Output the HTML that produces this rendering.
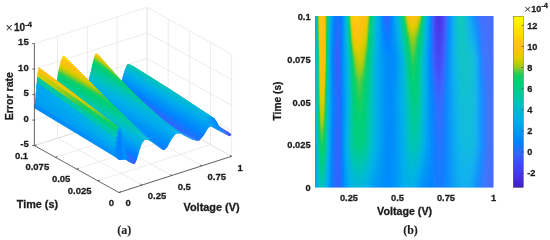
<!DOCTYPE html>
<html><head><meta charset="utf-8"><title>Figure</title>
<style>html,body{margin:0;padding:0;background:#fff}svg{display:block}text{fill:#1c1c1c;stroke:#1c1c1c;stroke-width:.28px}text.n{stroke:none;fill:#333}text.s{stroke-width:.1px}</style></head>
<body><svg width="550" height="240" viewBox="0 0 550 240">
<defs><filter id="soft" x="0" y="0" width="550" height="240" filterUnits="userSpaceOnUse"><feGaussianBlur stdDeviation="0.45"/></filter><linearGradient id="g199" gradientUnits="userSpaceOnUse" x1="231.3" y1="134.6" x2="146.8" y2="86.4"><stop offset="0.000" stop-color="#3959fe"/><stop offset="0.040" stop-color="#3959fe"/><stop offset="0.055" stop-color="#385cff"/><stop offset="0.075" stop-color="#355fff"/><stop offset="0.105" stop-color="#355fff"/><stop offset="0.179" stop-color="#3460ff"/><stop offset="0.254" stop-color="#3460ff"/><stop offset="0.328" stop-color="#3460ff"/><stop offset="0.403" stop-color="#3460ff"/><stop offset="0.478" stop-color="#3460ff"/><stop offset="0.552" stop-color="#3460ff"/><stop offset="0.627" stop-color="#3460ff"/><stop offset="0.702" stop-color="#3460ff"/><stop offset="0.776" stop-color="#3360ff"/><stop offset="0.851" stop-color="#3360ff"/><stop offset="0.925" stop-color="#3361ff"/><stop offset="1.000" stop-color="#3361ff"/></linearGradient>
<linearGradient id="g198" gradientUnits="userSpaceOnUse" x1="230.8" y1="135.2" x2="146.3" y2="86.5"><stop offset="0.000" stop-color="#3a57fd"/><stop offset="0.044" stop-color="#3a57fd"/><stop offset="0.059" stop-color="#385cff"/><stop offset="0.079" stop-color="#3262ff"/><stop offset="0.109" stop-color="#3262ff"/><stop offset="0.183" stop-color="#3262ff"/><stop offset="0.258" stop-color="#3262ff"/><stop offset="0.332" stop-color="#3262ff"/><stop offset="0.406" stop-color="#3262ff"/><stop offset="0.480" stop-color="#3262ff"/><stop offset="0.555" stop-color="#3262ff"/><stop offset="0.629" stop-color="#3262ff"/><stop offset="0.703" stop-color="#3262ff"/><stop offset="0.777" stop-color="#3262ff"/><stop offset="0.852" stop-color="#3262ff"/><stop offset="0.926" stop-color="#3261ff"/><stop offset="1.000" stop-color="#3361ff"/></linearGradient>
<linearGradient id="g197" gradientUnits="userSpaceOnUse" x1="230.2" y1="135.9" x2="145.7" y2="86.6"><stop offset="0.000" stop-color="#3b54fc"/><stop offset="0.049" stop-color="#3b54fc"/><stop offset="0.064" stop-color="#385bff"/><stop offset="0.084" stop-color="#2f65ff"/><stop offset="0.113" stop-color="#2f65ff"/><stop offset="0.187" stop-color="#2f65ff"/><stop offset="0.261" stop-color="#2f65ff"/><stop offset="0.335" stop-color="#2f65ff"/><stop offset="0.409" stop-color="#2f64ff"/><stop offset="0.483" stop-color="#3064ff"/><stop offset="0.557" stop-color="#3064ff"/><stop offset="0.631" stop-color="#3064ff"/><stop offset="0.705" stop-color="#3163ff"/><stop offset="0.779" stop-color="#3163ff"/><stop offset="0.852" stop-color="#3163ff"/><stop offset="0.926" stop-color="#3262ff"/><stop offset="1.000" stop-color="#3262ff"/></linearGradient>
<linearGradient id="g196" gradientUnits="userSpaceOnUse" x1="229.6" y1="136.3" x2="145.1" y2="86.7"><stop offset="0.000" stop-color="#3b52fc"/><stop offset="0.053" stop-color="#3b52fc"/><stop offset="0.068" stop-color="#385bff"/><stop offset="0.088" stop-color="#2c68ff"/><stop offset="0.117" stop-color="#2c68ff"/><stop offset="0.191" stop-color="#2c68ff"/><stop offset="0.265" stop-color="#2c67ff"/><stop offset="0.338" stop-color="#2d67ff"/><stop offset="0.412" stop-color="#2d67ff"/><stop offset="0.486" stop-color="#2e66ff"/><stop offset="0.559" stop-color="#2e66ff"/><stop offset="0.633" stop-color="#2f65ff"/><stop offset="0.706" stop-color="#2f65ff"/><stop offset="0.780" stop-color="#3064ff"/><stop offset="0.853" stop-color="#3064ff"/><stop offset="0.927" stop-color="#3163ff"/><stop offset="1.000" stop-color="#3162ff"/></linearGradient>
<linearGradient id="g195" gradientUnits="userSpaceOnUse" x1="229.1" y1="136.1" x2="144.6" y2="86.8"><stop offset="0.000" stop-color="#3a55fd"/><stop offset="0.054" stop-color="#3b54fd"/><stop offset="0.068" stop-color="#365eff"/><stop offset="0.088" stop-color="#296bff"/><stop offset="0.118" stop-color="#296bff"/><stop offset="0.191" stop-color="#296aff"/><stop offset="0.265" stop-color="#2a6aff"/><stop offset="0.339" stop-color="#2a6aff"/><stop offset="0.412" stop-color="#2b69ff"/><stop offset="0.486" stop-color="#2c68ff"/><stop offset="0.559" stop-color="#2c68ff"/><stop offset="0.633" stop-color="#2d67ff"/><stop offset="0.706" stop-color="#2e66ff"/><stop offset="0.780" stop-color="#2e66ff"/><stop offset="0.853" stop-color="#2f65ff"/><stop offset="0.927" stop-color="#3064ff"/><stop offset="1.000" stop-color="#3163ff"/></linearGradient>
<linearGradient id="g194" gradientUnits="userSpaceOnUse" x1="228.5" y1="135.8" x2="144.0" y2="86.8"><stop offset="0.000" stop-color="#3a58fe"/><stop offset="0.054" stop-color="#3a57fe"/><stop offset="0.068" stop-color="#3361ff"/><stop offset="0.088" stop-color="#246eff"/><stop offset="0.118" stop-color="#246dff"/><stop offset="0.191" stop-color="#256dff"/><stop offset="0.265" stop-color="#266cff"/><stop offset="0.339" stop-color="#276cff"/><stop offset="0.412" stop-color="#296bff"/><stop offset="0.486" stop-color="#296aff"/><stop offset="0.560" stop-color="#2a6aff"/><stop offset="0.633" stop-color="#2b69ff"/><stop offset="0.707" stop-color="#2c68ff"/><stop offset="0.780" stop-color="#2d67ff"/><stop offset="0.853" stop-color="#2e66ff"/><stop offset="0.927" stop-color="#2f65ff"/><stop offset="1.000" stop-color="#3064ff"/></linearGradient>
<linearGradient id="g193" gradientUnits="userSpaceOnUse" x1="227.9" y1="135.5" x2="143.4" y2="86.9"><stop offset="0.000" stop-color="#395aff"/><stop offset="0.054" stop-color="#395afe"/><stop offset="0.068" stop-color="#3064ff"/><stop offset="0.088" stop-color="#1f70ff"/><stop offset="0.118" stop-color="#1f70ff"/><stop offset="0.192" stop-color="#216fff"/><stop offset="0.265" stop-color="#226fff"/><stop offset="0.339" stop-color="#236eff"/><stop offset="0.413" stop-color="#256dff"/><stop offset="0.486" stop-color="#266cff"/><stop offset="0.560" stop-color="#286bff"/><stop offset="0.633" stop-color="#296bff"/><stop offset="0.707" stop-color="#2b69ff"/><stop offset="0.780" stop-color="#2c68ff"/><stop offset="0.853" stop-color="#2d67ff"/><stop offset="0.927" stop-color="#2e66ff"/><stop offset="1.000" stop-color="#3064ff"/></linearGradient>
<linearGradient id="g192" gradientUnits="userSpaceOnUse" x1="227.4" y1="135.2" x2="142.9" y2="87.0"><stop offset="0.000" stop-color="#365dff"/><stop offset="0.054" stop-color="#375dff"/><stop offset="0.069" stop-color="#2d67ff"/><stop offset="0.088" stop-color="#1a72ff"/><stop offset="0.118" stop-color="#1b72ff"/><stop offset="0.192" stop-color="#1c72ff"/><stop offset="0.265" stop-color="#1d71ff"/><stop offset="0.339" stop-color="#1f70ff"/><stop offset="0.413" stop-color="#216fff"/><stop offset="0.486" stop-color="#226eff"/><stop offset="0.560" stop-color="#246dff"/><stop offset="0.633" stop-color="#266cff"/><stop offset="0.707" stop-color="#296bff"/><stop offset="0.780" stop-color="#2a6aff"/><stop offset="0.854" stop-color="#2b68ff"/><stop offset="0.927" stop-color="#2d67ff"/><stop offset="1.000" stop-color="#2e65ff"/></linearGradient>
<linearGradient id="g191" gradientUnits="userSpaceOnUse" x1="226.8" y1="134.9" x2="142.3" y2="87.1"><stop offset="0.000" stop-color="#3460ff"/><stop offset="0.054" stop-color="#3460ff"/><stop offset="0.069" stop-color="#2a6aff"/><stop offset="0.088" stop-color="#1575ff"/><stop offset="0.118" stop-color="#1575ff"/><stop offset="0.192" stop-color="#1674ff"/><stop offset="0.266" stop-color="#1874ff"/><stop offset="0.339" stop-color="#1973ff"/><stop offset="0.413" stop-color="#1b72ff"/><stop offset="0.487" stop-color="#1c71ff"/><stop offset="0.560" stop-color="#1e70ff"/><stop offset="0.634" stop-color="#206fff"/><stop offset="0.707" stop-color="#226eff"/><stop offset="0.780" stop-color="#246dff"/><stop offset="0.854" stop-color="#276cff"/><stop offset="0.927" stop-color="#296bff"/><stop offset="1.000" stop-color="#2b69ff"/></linearGradient>
<linearGradient id="g190" gradientUnits="userSpaceOnUse" x1="226.2" y1="134.6" x2="141.7" y2="87.2"><stop offset="0.000" stop-color="#3163ff"/><stop offset="0.054" stop-color="#3163ff"/><stop offset="0.069" stop-color="#256dff"/><stop offset="0.088" stop-color="#0f78ff"/><stop offset="0.118" stop-color="#0f78ff"/><stop offset="0.192" stop-color="#1077ff"/><stop offset="0.266" stop-color="#1177ff"/><stop offset="0.339" stop-color="#1376ff"/><stop offset="0.413" stop-color="#1476ff"/><stop offset="0.487" stop-color="#1575ff"/><stop offset="0.560" stop-color="#1774ff"/><stop offset="0.634" stop-color="#1973ff"/><stop offset="0.707" stop-color="#1b72ff"/><stop offset="0.780" stop-color="#1d71ff"/><stop offset="0.854" stop-color="#1f70ff"/><stop offset="0.927" stop-color="#216fff"/><stop offset="1.000" stop-color="#236eff"/></linearGradient>
<linearGradient id="g189" gradientUnits="userSpaceOnUse" x1="225.7" y1="134.3" x2="141.2" y2="86.9"><stop offset="0.000" stop-color="#2d67ff"/><stop offset="0.054" stop-color="#2d66ff"/><stop offset="0.069" stop-color="#2070ff"/><stop offset="0.089" stop-color="#0c7bff"/><stop offset="0.118" stop-color="#0c7bff"/><stop offset="0.192" stop-color="#0c7bff"/><stop offset="0.266" stop-color="#0d7aff"/><stop offset="0.340" stop-color="#0d7aff"/><stop offset="0.414" stop-color="#0e79ff"/><stop offset="0.487" stop-color="#0f79ff"/><stop offset="0.561" stop-color="#0f78ff"/><stop offset="0.634" stop-color="#1177ff"/><stop offset="0.707" stop-color="#1376ff"/><stop offset="0.781" stop-color="#1575ff"/><stop offset="0.854" stop-color="#1774ff"/><stop offset="0.927" stop-color="#1973ff"/><stop offset="1.000" stop-color="#1b72ff"/></linearGradient>
<linearGradient id="g188" gradientUnits="userSpaceOnUse" x1="225.1" y1="134.0" x2="140.6" y2="86.3"><stop offset="0.000" stop-color="#2a69ff"/><stop offset="0.055" stop-color="#2a69ff"/><stop offset="0.070" stop-color="#1a72ff"/><stop offset="0.089" stop-color="#087eff"/><stop offset="0.119" stop-color="#087eff"/><stop offset="0.193" stop-color="#087eff"/><stop offset="0.267" stop-color="#087eff"/><stop offset="0.340" stop-color="#097dff"/><stop offset="0.414" stop-color="#097dff"/><stop offset="0.488" stop-color="#0a7cff"/><stop offset="0.561" stop-color="#0b7cff"/><stop offset="0.634" stop-color="#0c7bff"/><stop offset="0.708" stop-color="#0d7aff"/><stop offset="0.781" stop-color="#0e79ff"/><stop offset="0.854" stop-color="#0f78ff"/><stop offset="0.927" stop-color="#1177ff"/><stop offset="1.000" stop-color="#1376ff"/></linearGradient>
<linearGradient id="g187" gradientUnits="userSpaceOnUse" x1="224.6" y1="133.7" x2="140.1" y2="85.7"><stop offset="0.000" stop-color="#276cff"/><stop offset="0.056" stop-color="#276cff"/><stop offset="0.070" stop-color="#1475ff"/><stop offset="0.090" stop-color="#0481ff"/><stop offset="0.120" stop-color="#0481ff"/><stop offset="0.194" stop-color="#0481ff"/><stop offset="0.267" stop-color="#0481ff"/><stop offset="0.341" stop-color="#0481ff"/><stop offset="0.415" stop-color="#0581ff"/><stop offset="0.488" stop-color="#0580ff"/><stop offset="0.562" stop-color="#0680ff"/><stop offset="0.635" stop-color="#077fff"/><stop offset="0.708" stop-color="#077eff"/><stop offset="0.781" stop-color="#087eff"/><stop offset="0.854" stop-color="#097dff"/><stop offset="0.927" stop-color="#0b7cff"/><stop offset="1.000" stop-color="#0c7bff"/></linearGradient>
<linearGradient id="g186" gradientUnits="userSpaceOnUse" x1="224.0" y1="133.4" x2="139.5" y2="85.0"><stop offset="0.000" stop-color="#226fff"/><stop offset="0.056" stop-color="#216fff"/><stop offset="0.071" stop-color="#0f78ff"/><stop offset="0.091" stop-color="#0085ff"/><stop offset="0.120" stop-color="#0085ff"/><stop offset="0.194" stop-color="#0085ff"/><stop offset="0.268" stop-color="#0085ff"/><stop offset="0.342" stop-color="#0086ff"/><stop offset="0.415" stop-color="#0086ff"/><stop offset="0.489" stop-color="#0086ff"/><stop offset="0.562" stop-color="#0085ff"/><stop offset="0.635" stop-color="#0085ff"/><stop offset="0.708" stop-color="#0085ff"/><stop offset="0.781" stop-color="#0085ff"/><stop offset="0.854" stop-color="#0184ff"/><stop offset="0.927" stop-color="#0183ff"/><stop offset="1.000" stop-color="#0283ff"/></linearGradient>
<linearGradient id="g185" gradientUnits="userSpaceOnUse" x1="223.4" y1="133.1" x2="138.9" y2="84.4"><stop offset="0.000" stop-color="#1d71ff"/><stop offset="0.057" stop-color="#1c72ff"/><stop offset="0.072" stop-color="#0b7bff"/><stop offset="0.091" stop-color="#0087fe"/><stop offset="0.121" stop-color="#0088fd"/><stop offset="0.195" stop-color="#0089fd"/><stop offset="0.269" stop-color="#0089fd"/><stop offset="0.342" stop-color="#008afc"/><stop offset="0.416" stop-color="#008afc"/><stop offset="0.489" stop-color="#008afc"/><stop offset="0.562" stop-color="#008bfc"/><stop offset="0.636" stop-color="#008bfc"/><stop offset="0.709" stop-color="#008bfc"/><stop offset="0.782" stop-color="#008bfc"/><stop offset="0.855" stop-color="#008bfc"/><stop offset="0.927" stop-color="#008bfc"/><stop offset="1.000" stop-color="#008afc"/></linearGradient>
<linearGradient id="g184" gradientUnits="userSpaceOnUse" x1="222.9" y1="132.8" x2="138.4" y2="83.3"><stop offset="0.000" stop-color="#1874ff"/><stop offset="0.058" stop-color="#1774ff"/><stop offset="0.072" stop-color="#087eff"/><stop offset="0.092" stop-color="#008afc"/><stop offset="0.122" stop-color="#008bfc"/><stop offset="0.196" stop-color="#008cfb"/><stop offset="0.269" stop-color="#008dfb"/><stop offset="0.343" stop-color="#008efa"/><stop offset="0.416" stop-color="#008ffa"/><stop offset="0.490" stop-color="#008ffa"/><stop offset="0.563" stop-color="#0090f9"/><stop offset="0.636" stop-color="#0090f9"/><stop offset="0.709" stop-color="#0091f9"/><stop offset="0.782" stop-color="#0091f9"/><stop offset="0.855" stop-color="#0092f9"/><stop offset="0.927" stop-color="#0092f8"/><stop offset="1.000" stop-color="#0092f8"/></linearGradient>
<linearGradient id="g183" gradientUnits="userSpaceOnUse" x1="222.3" y1="132.5" x2="137.8" y2="81.7"><stop offset="0.000" stop-color="#1376ff"/><stop offset="0.058" stop-color="#1177ff"/><stop offset="0.073" stop-color="#0481ff"/><stop offset="0.093" stop-color="#008dfb"/><stop offset="0.123" stop-color="#008efa"/><stop offset="0.196" stop-color="#008ffa"/><stop offset="0.270" stop-color="#0091f9"/><stop offset="0.344" stop-color="#0092f8"/><stop offset="0.417" stop-color="#0093f8"/><stop offset="0.490" stop-color="#0094f7"/><stop offset="0.564" stop-color="#0095f7"/><stop offset="0.637" stop-color="#0096f6"/><stop offset="0.710" stop-color="#0097f6"/><stop offset="0.782" stop-color="#0098f5"/><stop offset="0.855" stop-color="#0098f5"/><stop offset="0.928" stop-color="#0099f5"/><stop offset="1.000" stop-color="#0099f5"/></linearGradient>
<linearGradient id="g182" gradientUnits="userSpaceOnUse" x1="221.7" y1="132.2" x2="137.2" y2="80.1"><stop offset="0.000" stop-color="#0d7aff"/><stop offset="0.060" stop-color="#0b7bff"/><stop offset="0.075" stop-color="#0086fe"/><stop offset="0.094" stop-color="#0091f9"/><stop offset="0.124" stop-color="#0092f8"/><stop offset="0.198" stop-color="#0094f7"/><stop offset="0.271" stop-color="#0096f7"/><stop offset="0.345" stop-color="#0097f6"/><stop offset="0.418" stop-color="#0099f5"/><stop offset="0.491" stop-color="#009af4"/><stop offset="0.564" stop-color="#009bf4"/><stop offset="0.637" stop-color="#009cf4"/><stop offset="0.710" stop-color="#009df3"/><stop offset="0.783" stop-color="#009ef3"/><stop offset="0.855" stop-color="#009ff2"/><stop offset="0.928" stop-color="#00a0f2"/><stop offset="1.000" stop-color="#00a1f2"/></linearGradient>
<linearGradient id="g181" gradientUnits="userSpaceOnUse" x1="221.2" y1="131.9" x2="136.7" y2="78.4"><stop offset="0.000" stop-color="#097dff"/><stop offset="0.064" stop-color="#077eff"/><stop offset="0.078" stop-color="#008afd"/><stop offset="0.098" stop-color="#0097f6"/><stop offset="0.127" stop-color="#0098f5"/><stop offset="0.201" stop-color="#009af5"/><stop offset="0.274" stop-color="#009cf4"/><stop offset="0.348" stop-color="#009df3"/><stop offset="0.421" stop-color="#009ff2"/><stop offset="0.494" stop-color="#00a1f2"/><stop offset="0.566" stop-color="#00a2f1"/><stop offset="0.639" stop-color="#00a3f1"/><stop offset="0.712" stop-color="#00a5f0"/><stop offset="0.784" stop-color="#00a6f0"/><stop offset="0.856" stop-color="#00a7f0"/><stop offset="0.928" stop-color="#00a8ef"/><stop offset="1.000" stop-color="#00a9ef"/></linearGradient>
<linearGradient id="g180" gradientUnits="userSpaceOnUse" x1="220.6" y1="131.6" x2="136.1" y2="76.8"><stop offset="0.000" stop-color="#0680ff"/><stop offset="0.068" stop-color="#0481ff"/><stop offset="0.083" stop-color="#008dfb"/><stop offset="0.103" stop-color="#009df3"/><stop offset="0.132" stop-color="#009df3"/><stop offset="0.205" stop-color="#00a0f2"/><stop offset="0.278" stop-color="#00a2f1"/><stop offset="0.351" stop-color="#00a4f1"/><stop offset="0.424" stop-color="#00a6f0"/><stop offset="0.496" stop-color="#00a8ef"/><stop offset="0.569" stop-color="#00a9ef"/><stop offset="0.641" stop-color="#00abee"/><stop offset="0.713" stop-color="#00acee"/><stop offset="0.785" stop-color="#00aded"/><stop offset="0.857" stop-color="#00aeec"/><stop offset="0.929" stop-color="#00afea"/><stop offset="1.000" stop-color="#00afe9"/></linearGradient>
<linearGradient id="g179" gradientUnits="userSpaceOnUse" x1="220.0" y1="131.3" x2="135.5" y2="75.1"><stop offset="0.000" stop-color="#0482ff"/><stop offset="0.073" stop-color="#0283ff"/><stop offset="0.088" stop-color="#0090f9"/><stop offset="0.107" stop-color="#00a2f1"/><stop offset="0.136" stop-color="#00a3f1"/><stop offset="0.209" stop-color="#00a5f0"/><stop offset="0.282" stop-color="#00a8ef"/><stop offset="0.355" stop-color="#00aaee"/><stop offset="0.427" stop-color="#00acee"/><stop offset="0.499" stop-color="#00aeec"/><stop offset="0.571" stop-color="#00afea"/><stop offset="0.643" stop-color="#00b0e8"/><stop offset="0.715" stop-color="#00b1e6"/><stop offset="0.786" stop-color="#00b2e4"/><stop offset="0.858" stop-color="#00b3e2"/><stop offset="0.929" stop-color="#00b4e0"/><stop offset="1.000" stop-color="#00b5df"/></linearGradient>
<linearGradient id="g178" gradientUnits="userSpaceOnUse" x1="219.5" y1="131.0" x2="135.0" y2="73.3"><stop offset="0.000" stop-color="#0183ff"/><stop offset="0.077" stop-color="#0085ff"/><stop offset="0.092" stop-color="#0093f8"/><stop offset="0.111" stop-color="#00a6f0"/><stop offset="0.140" stop-color="#00a8ef"/><stop offset="0.213" stop-color="#00aaee"/><stop offset="0.285" stop-color="#00aded"/><stop offset="0.358" stop-color="#00afea"/><stop offset="0.430" stop-color="#00b0e7"/><stop offset="0.502" stop-color="#00b2e5"/><stop offset="0.573" stop-color="#00b3e2"/><stop offset="0.645" stop-color="#00b4df"/><stop offset="0.716" stop-color="#00b5dd"/><stop offset="0.787" stop-color="#00b7db"/><stop offset="0.858" stop-color="#00b8d9"/><stop offset="0.929" stop-color="#00b9d7"/><stop offset="1.000" stop-color="#00b9d5"/></linearGradient>
<linearGradient id="g177" gradientUnits="userSpaceOnUse" x1="218.9" y1="130.7" x2="134.4" y2="71.5"><stop offset="0.000" stop-color="#0086fe"/><stop offset="0.080" stop-color="#0087fe"/><stop offset="0.095" stop-color="#0096f6"/><stop offset="0.114" stop-color="#00abee"/><stop offset="0.143" stop-color="#00acee"/><stop offset="0.216" stop-color="#00aeeb"/><stop offset="0.288" stop-color="#00b0e8"/><stop offset="0.360" stop-color="#00b2e5"/><stop offset="0.432" stop-color="#00b3e1"/><stop offset="0.504" stop-color="#00b5df"/><stop offset="0.575" stop-color="#00b6dc"/><stop offset="0.646" stop-color="#00b7d9"/><stop offset="0.717" stop-color="#00b9d7"/><stop offset="0.788" stop-color="#00bad4"/><stop offset="0.859" stop-color="#00bbd1"/><stop offset="0.930" stop-color="#00bccf"/><stop offset="1.000" stop-color="#00bdcc"/></linearGradient>
<linearGradient id="g176" gradientUnits="userSpaceOnUse" x1="218.4" y1="130.4" x2="133.9" y2="69.7"><stop offset="0.000" stop-color="#0088fe"/><stop offset="0.084" stop-color="#0089fd"/><stop offset="0.098" stop-color="#0099f5"/><stop offset="0.117" stop-color="#00aeeb"/><stop offset="0.146" stop-color="#00afea"/><stop offset="0.219" stop-color="#00b1e6"/><stop offset="0.291" stop-color="#00b3e3"/><stop offset="0.362" stop-color="#00b4df"/><stop offset="0.434" stop-color="#00b6dc"/><stop offset="0.506" stop-color="#00b7d9"/><stop offset="0.577" stop-color="#00b9d6"/><stop offset="0.648" stop-color="#00bad3"/><stop offset="0.719" stop-color="#00bcd0"/><stop offset="0.789" stop-color="#00bdcc"/><stop offset="0.860" stop-color="#00bec9"/><stop offset="0.930" stop-color="#00bfc6"/><stop offset="1.000" stop-color="#00c0c3"/></linearGradient>
<linearGradient id="g175" gradientUnits="userSpaceOnUse" x1="217.8" y1="130.1" x2="133.3" y2="68.3"><stop offset="0.000" stop-color="#0089fd"/><stop offset="0.087" stop-color="#008bfc"/><stop offset="0.101" stop-color="#009cf4"/><stop offset="0.120" stop-color="#00b0e7"/><stop offset="0.149" stop-color="#00b1e5"/><stop offset="0.221" stop-color="#00b3e2"/><stop offset="0.293" stop-color="#00b5de"/><stop offset="0.365" stop-color="#00b7da"/><stop offset="0.436" stop-color="#00b8d7"/><stop offset="0.507" stop-color="#00bad4"/><stop offset="0.578" stop-color="#00bccf"/><stop offset="0.649" stop-color="#00bdcb"/><stop offset="0.720" stop-color="#00bec7"/><stop offset="0.790" stop-color="#00bfc4"/><stop offset="0.860" stop-color="#00c1c0"/><stop offset="0.930" stop-color="#00c2bd"/><stop offset="1.000" stop-color="#00c2bb"/></linearGradient>
<linearGradient id="g174" gradientUnits="userSpaceOnUse" x1="217.2" y1="129.8" x2="132.7" y2="67.3"><stop offset="0.000" stop-color="#008afc"/><stop offset="0.088" stop-color="#008cfb"/><stop offset="0.102" stop-color="#009df3"/><stop offset="0.122" stop-color="#00b2e5"/><stop offset="0.150" stop-color="#00b3e3"/><stop offset="0.222" stop-color="#00b5df"/><stop offset="0.294" stop-color="#00b7db"/><stop offset="0.366" stop-color="#00b9d7"/><stop offset="0.437" stop-color="#00bad3"/><stop offset="0.508" stop-color="#00bcce"/><stop offset="0.579" stop-color="#00bec9"/><stop offset="0.650" stop-color="#00bfc5"/><stop offset="0.720" stop-color="#00c0c1"/><stop offset="0.791" stop-color="#00c2bd"/><stop offset="0.861" stop-color="#00c3b9"/><stop offset="0.930" stop-color="#00c4b6"/><stop offset="1.000" stop-color="#00c5b3"/></linearGradient>
<linearGradient id="g173" gradientUnits="userSpaceOnUse" x1="216.7" y1="129.5" x2="132.2" y2="66.4"><stop offset="0.000" stop-color="#008cfb"/><stop offset="0.087" stop-color="#008efb"/><stop offset="0.102" stop-color="#009ff3"/><stop offset="0.121" stop-color="#00b3e3"/><stop offset="0.150" stop-color="#00b3e1"/><stop offset="0.222" stop-color="#00b6dd"/><stop offset="0.294" stop-color="#00b8d9"/><stop offset="0.366" stop-color="#00bad5"/><stop offset="0.437" stop-color="#00bbd0"/><stop offset="0.508" stop-color="#00bdca"/><stop offset="0.579" stop-color="#00bfc5"/><stop offset="0.650" stop-color="#00c0c1"/><stop offset="0.720" stop-color="#00c2bc"/><stop offset="0.791" stop-color="#00c3b8"/><stop offset="0.861" stop-color="#00c4b5"/><stop offset="0.930" stop-color="#00c6b1"/><stop offset="1.000" stop-color="#00c7ae"/></linearGradient>
<linearGradient id="g172" gradientUnits="userSpaceOnUse" x1="216.1" y1="129.2" x2="131.6" y2="65.5"><stop offset="0.000" stop-color="#008dfb"/><stop offset="0.087" stop-color="#008ffa"/><stop offset="0.101" stop-color="#00a0f2"/><stop offset="0.120" stop-color="#00b3e1"/><stop offset="0.149" stop-color="#00b4e0"/><stop offset="0.222" stop-color="#00b6db"/><stop offset="0.293" stop-color="#00b8d7"/><stop offset="0.365" stop-color="#00bad3"/><stop offset="0.437" stop-color="#00bccd"/><stop offset="0.508" stop-color="#00bec8"/><stop offset="0.579" stop-color="#00c0c3"/><stop offset="0.650" stop-color="#00c1be"/><stop offset="0.720" stop-color="#00c3b9"/><stop offset="0.791" stop-color="#00c4b5"/><stop offset="0.861" stop-color="#00c6b2"/><stop offset="0.930" stop-color="#00c7ae"/><stop offset="1.000" stop-color="#00c7ab"/></linearGradient>
<linearGradient id="g171" gradientUnits="userSpaceOnUse" x1="215.5" y1="128.9" x2="131.0" y2="64.9"><stop offset="0.000" stop-color="#008ffa"/><stop offset="0.085" stop-color="#0091f9"/><stop offset="0.099" stop-color="#00a1f2"/><stop offset="0.119" stop-color="#00b3e1"/><stop offset="0.148" stop-color="#00b4e0"/><stop offset="0.220" stop-color="#00b7db"/><stop offset="0.292" stop-color="#00b9d6"/><stop offset="0.364" stop-color="#00bbd2"/><stop offset="0.436" stop-color="#00bdcc"/><stop offset="0.507" stop-color="#00bfc6"/><stop offset="0.578" stop-color="#00c0c1"/><stop offset="0.649" stop-color="#00c2bc"/><stop offset="0.720" stop-color="#00c4b7"/><stop offset="0.790" stop-color="#00c5b3"/><stop offset="0.860" stop-color="#00c7af"/><stop offset="0.930" stop-color="#00c7ab"/><stop offset="1.000" stop-color="#00c8a7"/></linearGradient>
<linearGradient id="g170" gradientUnits="userSpaceOnUse" x1="215.0" y1="128.6" x2="130.5" y2="64.6"><stop offset="0.000" stop-color="#0091f9"/><stop offset="0.082" stop-color="#0093f8"/><stop offset="0.096" stop-color="#00a2f1"/><stop offset="0.116" stop-color="#00b3e2"/><stop offset="0.145" stop-color="#00b4e0"/><stop offset="0.217" stop-color="#00b7db"/><stop offset="0.290" stop-color="#00b9d6"/><stop offset="0.362" stop-color="#00bbd1"/><stop offset="0.434" stop-color="#00bdcb"/><stop offset="0.505" stop-color="#00bfc5"/><stop offset="0.577" stop-color="#00c1bf"/><stop offset="0.648" stop-color="#00c3ba"/><stop offset="0.719" stop-color="#00c4b5"/><stop offset="0.790" stop-color="#00c6b0"/><stop offset="0.860" stop-color="#00c7ac"/><stop offset="0.930" stop-color="#00c8a8"/><stop offset="1.000" stop-color="#00c8a4"/></linearGradient>
<linearGradient id="g169" gradientUnits="userSpaceOnUse" x1="214.4" y1="128.3" x2="129.9" y2="64.3"><stop offset="0.000" stop-color="#0093f8"/><stop offset="0.078" stop-color="#0095f7"/><stop offset="0.093" stop-color="#00a3f1"/><stop offset="0.113" stop-color="#00b3e2"/><stop offset="0.142" stop-color="#00b4e0"/><stop offset="0.215" stop-color="#00b6db"/><stop offset="0.287" stop-color="#00b9d6"/><stop offset="0.360" stop-color="#00bbd1"/><stop offset="0.432" stop-color="#00bdca"/><stop offset="0.504" stop-color="#00bfc4"/><stop offset="0.575" stop-color="#00c1bf"/><stop offset="0.647" stop-color="#00c3b9"/><stop offset="0.718" stop-color="#00c5b4"/><stop offset="0.789" stop-color="#00c6af"/><stop offset="0.860" stop-color="#00c7ab"/><stop offset="0.930" stop-color="#00c8a7"/><stop offset="1.000" stop-color="#00c8a3"/></linearGradient>
<linearGradient id="g168" gradientUnits="userSpaceOnUse" x1="213.8" y1="128.0" x2="129.3" y2="64.1"><stop offset="0.000" stop-color="#0095f7"/><stop offset="0.075" stop-color="#0097f6"/><stop offset="0.090" stop-color="#00a4f1"/><stop offset="0.109" stop-color="#00b3e3"/><stop offset="0.139" stop-color="#00b4e0"/><stop offset="0.212" stop-color="#00b6db"/><stop offset="0.285" stop-color="#00b9d7"/><stop offset="0.358" stop-color="#00bbd1"/><stop offset="0.430" stop-color="#00bdcb"/><stop offset="0.502" stop-color="#00bfc4"/><stop offset="0.574" stop-color="#00c1bf"/><stop offset="0.646" stop-color="#00c3b9"/><stop offset="0.717" stop-color="#00c5b4"/><stop offset="0.788" stop-color="#00c6af"/><stop offset="0.859" stop-color="#00c7aa"/><stop offset="0.930" stop-color="#00c8a6"/><stop offset="1.000" stop-color="#00c8a2"/></linearGradient>
<linearGradient id="g167" gradientUnits="userSpaceOnUse" x1="213.3" y1="127.7" x2="128.8" y2="64.0"><stop offset="0.000" stop-color="#0096f6"/><stop offset="0.072" stop-color="#0098f5"/><stop offset="0.087" stop-color="#00a5f0"/><stop offset="0.106" stop-color="#00b2e3"/><stop offset="0.136" stop-color="#00b3e1"/><stop offset="0.209" stop-color="#00b6dc"/><stop offset="0.282" stop-color="#00b8d7"/><stop offset="0.355" stop-color="#00bbd2"/><stop offset="0.428" stop-color="#00bdcc"/><stop offset="0.500" stop-color="#00bfc5"/><stop offset="0.572" stop-color="#00c1bf"/><stop offset="0.644" stop-color="#00c3ba"/><stop offset="0.716" stop-color="#00c4b5"/><stop offset="0.787" stop-color="#00c6b0"/><stop offset="0.859" stop-color="#00c7ab"/><stop offset="0.929" stop-color="#00c8a7"/><stop offset="1.000" stop-color="#00c8a2"/></linearGradient>
<linearGradient id="g166" gradientUnits="userSpaceOnUse" x1="212.7" y1="127.4" x2="128.2" y2="64.1"><stop offset="0.000" stop-color="#0098f5"/><stop offset="0.068" stop-color="#009af5"/><stop offset="0.083" stop-color="#00a5f0"/><stop offset="0.102" stop-color="#00b1e5"/><stop offset="0.132" stop-color="#00b2e3"/><stop offset="0.206" stop-color="#00b5de"/><stop offset="0.279" stop-color="#00b7da"/><stop offset="0.352" stop-color="#00b9d5"/><stop offset="0.425" stop-color="#00bccf"/><stop offset="0.498" stop-color="#00bec9"/><stop offset="0.571" stop-color="#00c0c3"/><stop offset="0.643" stop-color="#00c1be"/><stop offset="0.715" stop-color="#00c3b9"/><stop offset="0.786" stop-color="#00c5b4"/><stop offset="0.858" stop-color="#00c6af"/><stop offset="0.929" stop-color="#00c7ab"/><stop offset="1.000" stop-color="#00c8a7"/></linearGradient>
<linearGradient id="g165" gradientUnits="userSpaceOnUse" x1="212.2" y1="127.1" x2="127.7" y2="64.2"><stop offset="0.000" stop-color="#009af5"/><stop offset="0.063" stop-color="#009cf4"/><stop offset="0.078" stop-color="#00a5f0"/><stop offset="0.098" stop-color="#00b0e8"/><stop offset="0.127" stop-color="#00b1e6"/><stop offset="0.201" stop-color="#00b4e1"/><stop offset="0.275" stop-color="#00b6dc"/><stop offset="0.349" stop-color="#00b8d8"/><stop offset="0.422" stop-color="#00bad4"/><stop offset="0.495" stop-color="#00bcce"/><stop offset="0.568" stop-color="#00bec8"/><stop offset="0.641" stop-color="#00c0c3"/><stop offset="0.713" stop-color="#00c1be"/><stop offset="0.785" stop-color="#00c3b9"/><stop offset="0.857" stop-color="#00c4b5"/><stop offset="0.929" stop-color="#00c6b1"/><stop offset="1.000" stop-color="#00c7ae"/></linearGradient>
<linearGradient id="g164" gradientUnits="userSpaceOnUse" x1="211.6" y1="126.8" x2="127.1" y2="64.8"><stop offset="0.000" stop-color="#009cf4"/><stop offset="0.058" stop-color="#009df3"/><stop offset="0.073" stop-color="#00a5f0"/><stop offset="0.093" stop-color="#00afea"/><stop offset="0.123" stop-color="#00b0e8"/><stop offset="0.197" stop-color="#00b2e4"/><stop offset="0.271" stop-color="#00b4df"/><stop offset="0.345" stop-color="#00b6db"/><stop offset="0.419" stop-color="#00b8d7"/><stop offset="0.493" stop-color="#00bad4"/><stop offset="0.566" stop-color="#00bcce"/><stop offset="0.639" stop-color="#00bdca"/><stop offset="0.712" stop-color="#00bfc5"/><stop offset="0.784" stop-color="#00c0c1"/><stop offset="0.856" stop-color="#00c2bd"/><stop offset="0.928" stop-color="#00c3ba"/><stop offset="1.000" stop-color="#00c4b7"/></linearGradient>
<linearGradient id="g163" gradientUnits="userSpaceOnUse" x1="211.0" y1="126.5" x2="126.5" y2="65.7"><stop offset="0.000" stop-color="#009ef3"/><stop offset="0.053" stop-color="#009ff2"/><stop offset="0.068" stop-color="#00a5f0"/><stop offset="0.088" stop-color="#00aeed"/><stop offset="0.118" stop-color="#00aeeb"/><stop offset="0.193" stop-color="#00b1e7"/><stop offset="0.267" stop-color="#00b3e3"/><stop offset="0.342" stop-color="#00b5df"/><stop offset="0.416" stop-color="#00b6db"/><stop offset="0.490" stop-color="#00b8d8"/><stop offset="0.563" stop-color="#00bad5"/><stop offset="0.637" stop-color="#00bbd1"/><stop offset="0.710" stop-color="#00bccd"/><stop offset="0.783" stop-color="#00bdca"/><stop offset="0.855" stop-color="#00bfc6"/><stop offset="0.928" stop-color="#00c0c3"/><stop offset="1.000" stop-color="#00c0c1"/></linearGradient>
<linearGradient id="g162" gradientUnits="userSpaceOnUse" x1="210.5" y1="126.2" x2="126.0" y2="66.9"><stop offset="0.000" stop-color="#00a0f2"/><stop offset="0.048" stop-color="#00a1f2"/><stop offset="0.063" stop-color="#00a6f0"/><stop offset="0.083" stop-color="#00acee"/><stop offset="0.113" stop-color="#00aded"/><stop offset="0.188" stop-color="#00afea"/><stop offset="0.263" stop-color="#00b1e6"/><stop offset="0.338" stop-color="#00b3e3"/><stop offset="0.413" stop-color="#00b4df"/><stop offset="0.487" stop-color="#00b6dc"/><stop offset="0.561" stop-color="#00b7da"/><stop offset="0.635" stop-color="#00b8d7"/><stop offset="0.708" stop-color="#00b9d5"/><stop offset="0.782" stop-color="#00bbd3"/><stop offset="0.855" stop-color="#00bbd0"/><stop offset="0.927" stop-color="#00bccd"/><stop offset="1.000" stop-color="#00bdcb"/></linearGradient>
<linearGradient id="g161" gradientUnits="userSpaceOnUse" x1="209.9" y1="126.5" x2="125.4" y2="68.4"><stop offset="0.000" stop-color="#009ff3"/><stop offset="0.046" stop-color="#00a0f2"/><stop offset="0.061" stop-color="#00a4f1"/><stop offset="0.081" stop-color="#00aaef"/><stop offset="0.111" stop-color="#00abee"/><stop offset="0.187" stop-color="#00aded"/><stop offset="0.262" stop-color="#00afea"/><stop offset="0.337" stop-color="#00b1e7"/><stop offset="0.412" stop-color="#00b2e4"/><stop offset="0.486" stop-color="#00b3e2"/><stop offset="0.560" stop-color="#00b4df"/><stop offset="0.634" stop-color="#00b5dd"/><stop offset="0.708" stop-color="#00b6dc"/><stop offset="0.781" stop-color="#00b7da"/><stop offset="0.854" stop-color="#00b8d9"/><stop offset="0.927" stop-color="#00b8d7"/><stop offset="1.000" stop-color="#00b9d7"/></linearGradient>
<linearGradient id="g160" gradientUnits="userSpaceOnUse" x1="209.3" y1="127.1" x2="124.8" y2="69.9"><stop offset="0.000" stop-color="#009df3"/><stop offset="0.045" stop-color="#009ef3"/><stop offset="0.061" stop-color="#00a2f1"/><stop offset="0.081" stop-color="#00a7f0"/><stop offset="0.111" stop-color="#00a8ef"/><stop offset="0.186" stop-color="#00aaee"/><stop offset="0.262" stop-color="#00aded"/><stop offset="0.337" stop-color="#00aeec"/><stop offset="0.411" stop-color="#00afe9"/><stop offset="0.486" stop-color="#00b0e7"/><stop offset="0.560" stop-color="#00b1e6"/><stop offset="0.634" stop-color="#00b2e4"/><stop offset="0.708" stop-color="#00b3e3"/><stop offset="0.781" stop-color="#00b3e1"/><stop offset="0.854" stop-color="#00b4e1"/><stop offset="0.927" stop-color="#00b4e0"/><stop offset="1.000" stop-color="#00b4e0"/></linearGradient>
<linearGradient id="g159" gradientUnits="userSpaceOnUse" x1="208.8" y1="127.6" x2="124.3" y2="71.6"><stop offset="0.000" stop-color="#009bf4"/><stop offset="0.044" stop-color="#009cf4"/><stop offset="0.059" stop-color="#009ff2"/><stop offset="0.079" stop-color="#00a3f1"/><stop offset="0.109" stop-color="#00a4f1"/><stop offset="0.185" stop-color="#00a6f0"/><stop offset="0.260" stop-color="#00a8ef"/><stop offset="0.335" stop-color="#00aaee"/><stop offset="0.410" stop-color="#00acee"/><stop offset="0.485" stop-color="#00aded"/><stop offset="0.559" stop-color="#00aeec"/><stop offset="0.633" stop-color="#00aeeb"/><stop offset="0.707" stop-color="#00afea"/><stop offset="0.781" stop-color="#00afe9"/><stop offset="0.854" stop-color="#00b0e9"/><stop offset="0.927" stop-color="#00b0e9"/><stop offset="1.000" stop-color="#00b0e8"/></linearGradient>
<linearGradient id="g158" gradientUnits="userSpaceOnUse" x1="208.2" y1="128.1" x2="123.7" y2="73.5"><stop offset="0.000" stop-color="#009af5"/><stop offset="0.041" stop-color="#009bf4"/><stop offset="0.056" stop-color="#009df3"/><stop offset="0.076" stop-color="#00a0f2"/><stop offset="0.107" stop-color="#00a0f2"/><stop offset="0.183" stop-color="#00a2f1"/><stop offset="0.258" stop-color="#00a4f1"/><stop offset="0.333" stop-color="#00a5f0"/><stop offset="0.408" stop-color="#00a7f0"/><stop offset="0.483" stop-color="#00a8ef"/><stop offset="0.558" stop-color="#00a8ef"/><stop offset="0.632" stop-color="#00a9ef"/><stop offset="0.706" stop-color="#00aaef"/><stop offset="0.780" stop-color="#00aaee"/><stop offset="0.854" stop-color="#00aaee"/><stop offset="0.927" stop-color="#00aaee"/><stop offset="1.000" stop-color="#00aaee"/></linearGradient>
<linearGradient id="g157" gradientUnits="userSpaceOnUse" x1="207.7" y1="128.9" x2="123.2" y2="75.5"><stop offset="0.000" stop-color="#0097f6"/><stop offset="0.039" stop-color="#0098f5"/><stop offset="0.055" stop-color="#009af5"/><stop offset="0.075" stop-color="#009cf4"/><stop offset="0.105" stop-color="#009cf4"/><stop offset="0.181" stop-color="#009ef3"/><stop offset="0.257" stop-color="#009ff2"/><stop offset="0.332" stop-color="#00a0f2"/><stop offset="0.407" stop-color="#00a1f2"/><stop offset="0.482" stop-color="#00a2f1"/><stop offset="0.557" stop-color="#00a3f1"/><stop offset="0.631" stop-color="#00a3f1"/><stop offset="0.706" stop-color="#00a3f1"/><stop offset="0.780" stop-color="#00a3f1"/><stop offset="0.853" stop-color="#00a3f1"/><stop offset="0.927" stop-color="#00a3f1"/><stop offset="1.000" stop-color="#00a2f1"/></linearGradient>
<linearGradient id="g156" gradientUnits="userSpaceOnUse" x1="207.1" y1="129.8" x2="122.6" y2="77.4"><stop offset="0.000" stop-color="#0094f7"/><stop offset="0.039" stop-color="#0095f7"/><stop offset="0.054" stop-color="#0096f6"/><stop offset="0.074" stop-color="#0098f5"/><stop offset="0.105" stop-color="#0098f5"/><stop offset="0.181" stop-color="#009af5"/><stop offset="0.256" stop-color="#009af4"/><stop offset="0.332" stop-color="#009bf4"/><stop offset="0.407" stop-color="#009cf4"/><stop offset="0.482" stop-color="#009cf4"/><stop offset="0.557" stop-color="#009cf4"/><stop offset="0.631" stop-color="#009cf4"/><stop offset="0.705" stop-color="#009cf4"/><stop offset="0.779" stop-color="#009cf4"/><stop offset="0.853" stop-color="#009bf4"/><stop offset="0.927" stop-color="#009bf4"/><stop offset="1.000" stop-color="#009af4"/></linearGradient>
<linearGradient id="g155" gradientUnits="userSpaceOnUse" x1="206.5" y1="130.7" x2="122.0" y2="79.5"><stop offset="0.000" stop-color="#0091f9"/><stop offset="0.038" stop-color="#0092f8"/><stop offset="0.053" stop-color="#0093f8"/><stop offset="0.074" stop-color="#0094f7"/><stop offset="0.104" stop-color="#0094f7"/><stop offset="0.180" stop-color="#0095f7"/><stop offset="0.256" stop-color="#0096f6"/><stop offset="0.331" stop-color="#0096f6"/><stop offset="0.406" stop-color="#0096f6"/><stop offset="0.481" stop-color="#0096f6"/><stop offset="0.556" stop-color="#0096f6"/><stop offset="0.631" stop-color="#0096f6"/><stop offset="0.705" stop-color="#0095f7"/><stop offset="0.779" stop-color="#0095f7"/><stop offset="0.853" stop-color="#0094f7"/><stop offset="0.927" stop-color="#0093f8"/><stop offset="1.000" stop-color="#0092f8"/></linearGradient>
<linearGradient id="g154" gradientUnits="userSpaceOnUse" x1="206.0" y1="131.7" x2="121.5" y2="81.6"><stop offset="0.000" stop-color="#008efa"/><stop offset="0.037" stop-color="#008ffa"/><stop offset="0.053" stop-color="#008ffa"/><stop offset="0.073" stop-color="#0090f9"/><stop offset="0.103" stop-color="#0090f9"/><stop offset="0.179" stop-color="#0091f9"/><stop offset="0.255" stop-color="#0091f9"/><stop offset="0.331" stop-color="#0091f9"/><stop offset="0.406" stop-color="#0091f9"/><stop offset="0.481" stop-color="#0091f9"/><stop offset="0.556" stop-color="#0090f9"/><stop offset="0.630" stop-color="#0090fa"/><stop offset="0.705" stop-color="#008ffa"/><stop offset="0.779" stop-color="#008efa"/><stop offset="0.853" stop-color="#008cfb"/><stop offset="0.927" stop-color="#008bfc"/><stop offset="1.000" stop-color="#0089fd"/></linearGradient>
<linearGradient id="g153" gradientUnits="userSpaceOnUse" x1="205.4" y1="132.6" x2="120.9" y2="83.8"><stop offset="0.000" stop-color="#008bfc"/><stop offset="0.037" stop-color="#008bfc"/><stop offset="0.052" stop-color="#008cfb"/><stop offset="0.072" stop-color="#008cfb"/><stop offset="0.103" stop-color="#008cfb"/><stop offset="0.179" stop-color="#008cfb"/><stop offset="0.255" stop-color="#008cfb"/><stop offset="0.330" stop-color="#008cfb"/><stop offset="0.406" stop-color="#008cfb"/><stop offset="0.481" stop-color="#008bfc"/><stop offset="0.556" stop-color="#008afc"/><stop offset="0.630" stop-color="#0089fd"/><stop offset="0.705" stop-color="#0088fd"/><stop offset="0.779" stop-color="#0087fe"/><stop offset="0.853" stop-color="#0085ff"/><stop offset="0.927" stop-color="#0283ff"/><stop offset="1.000" stop-color="#0581ff"/></linearGradient>
<linearGradient id="g152" gradientUnits="userSpaceOnUse" x1="204.8" y1="133.5" x2="120.3" y2="86.0"><stop offset="0.000" stop-color="#0089fd"/><stop offset="0.036" stop-color="#0089fd"/><stop offset="0.051" stop-color="#0089fd"/><stop offset="0.072" stop-color="#0089fd"/><stop offset="0.102" stop-color="#0089fd"/><stop offset="0.178" stop-color="#0089fd"/><stop offset="0.254" stop-color="#0088fd"/><stop offset="0.330" stop-color="#0088fe"/><stop offset="0.405" stop-color="#0087fe"/><stop offset="0.480" stop-color="#0086fe"/><stop offset="0.555" stop-color="#0084ff"/><stop offset="0.630" stop-color="#0283ff"/><stop offset="0.705" stop-color="#0581ff"/><stop offset="0.779" stop-color="#077eff"/><stop offset="0.853" stop-color="#0a7cff"/><stop offset="0.927" stop-color="#0e79ff"/><stop offset="1.000" stop-color="#1276ff"/></linearGradient>
<linearGradient id="g151" gradientUnits="userSpaceOnUse" x1="204.3" y1="134.3" x2="119.8" y2="88.2"><stop offset="0.000" stop-color="#0086fe"/><stop offset="0.036" stop-color="#0086ff"/><stop offset="0.051" stop-color="#0086ff"/><stop offset="0.071" stop-color="#0085ff"/><stop offset="0.102" stop-color="#0085ff"/><stop offset="0.178" stop-color="#0085ff"/><stop offset="0.254" stop-color="#0184ff"/><stop offset="0.330" stop-color="#0283ff"/><stop offset="0.405" stop-color="#0481ff"/><stop offset="0.481" stop-color="#067fff"/><stop offset="0.556" stop-color="#097dff"/><stop offset="0.630" stop-color="#0b7bff"/><stop offset="0.705" stop-color="#0e79ff"/><stop offset="0.779" stop-color="#1376ff"/><stop offset="0.853" stop-color="#1973ff"/><stop offset="0.927" stop-color="#2070ff"/><stop offset="1.000" stop-color="#276cff"/></linearGradient>
<linearGradient id="g150" gradientUnits="userSpaceOnUse" x1="203.7" y1="135.3" x2="119.2" y2="90.4"><stop offset="0.000" stop-color="#0382ff"/><stop offset="0.036" stop-color="#0382ff"/><stop offset="0.051" stop-color="#0382ff"/><stop offset="0.072" stop-color="#0482ff"/><stop offset="0.102" stop-color="#0481ff"/><stop offset="0.179" stop-color="#0580ff"/><stop offset="0.255" stop-color="#077fff"/><stop offset="0.331" stop-color="#097dff"/><stop offset="0.406" stop-color="#0b7bff"/><stop offset="0.481" stop-color="#0e79ff"/><stop offset="0.556" stop-color="#1177ff"/><stop offset="0.631" stop-color="#1774ff"/><stop offset="0.705" stop-color="#1d71ff"/><stop offset="0.779" stop-color="#246eff"/><stop offset="0.853" stop-color="#2a6aff"/><stop offset="0.927" stop-color="#2f65ff"/><stop offset="1.000" stop-color="#3460ff"/></linearGradient>
<linearGradient id="g149" gradientUnits="userSpaceOnUse" x1="203.1" y1="136.2" x2="118.6" y2="92.5"><stop offset="0.000" stop-color="#067fff"/><stop offset="0.036" stop-color="#077fff"/><stop offset="0.051" stop-color="#077fff"/><stop offset="0.072" stop-color="#077fff"/><stop offset="0.103" stop-color="#087eff"/><stop offset="0.179" stop-color="#097dff"/><stop offset="0.255" stop-color="#0b7bff"/><stop offset="0.331" stop-color="#0e79ff"/><stop offset="0.407" stop-color="#1277ff"/><stop offset="0.482" stop-color="#1774ff"/><stop offset="0.557" stop-color="#1d71ff"/><stop offset="0.632" stop-color="#246eff"/><stop offset="0.706" stop-color="#2a6aff"/><stop offset="0.780" stop-color="#2f65ff"/><stop offset="0.854" stop-color="#3460ff"/><stop offset="0.927" stop-color="#395afe"/><stop offset="1.000" stop-color="#3b54fc"/></linearGradient>
<linearGradient id="g148" gradientUnits="userSpaceOnUse" x1="202.6" y1="136.8" x2="118.1" y2="94.7"><stop offset="0.000" stop-color="#097dff"/><stop offset="0.036" stop-color="#0a7cff"/><stop offset="0.051" stop-color="#0a7cff"/><stop offset="0.072" stop-color="#0b7cff"/><stop offset="0.103" stop-color="#0b7bff"/><stop offset="0.179" stop-color="#0d79ff"/><stop offset="0.256" stop-color="#1077ff"/><stop offset="0.332" stop-color="#1575ff"/><stop offset="0.407" stop-color="#1b72ff"/><stop offset="0.483" stop-color="#216fff"/><stop offset="0.558" stop-color="#296bff"/><stop offset="0.632" stop-color="#2e66ff"/><stop offset="0.706" stop-color="#3361ff"/><stop offset="0.780" stop-color="#385bff"/><stop offset="0.854" stop-color="#3a55fd"/><stop offset="0.927" stop-color="#3c4ffb"/><stop offset="1.000" stop-color="#3e49f8"/></linearGradient>
<linearGradient id="g147" gradientUnits="userSpaceOnUse" x1="202.0" y1="137.5" x2="117.5" y2="96.9"><stop offset="0.000" stop-color="#0c7bff"/><stop offset="0.036" stop-color="#0d7aff"/><stop offset="0.052" stop-color="#0d7aff"/><stop offset="0.072" stop-color="#0e79ff"/><stop offset="0.103" stop-color="#0f78ff"/><stop offset="0.180" stop-color="#1276ff"/><stop offset="0.256" stop-color="#1774ff"/><stop offset="0.332" stop-color="#1d71ff"/><stop offset="0.408" stop-color="#236eff"/><stop offset="0.483" stop-color="#2a6aff"/><stop offset="0.558" stop-color="#2f65ff"/><stop offset="0.633" stop-color="#345fff"/><stop offset="0.707" stop-color="#3959fe"/><stop offset="0.781" stop-color="#3b53fc"/><stop offset="0.854" stop-color="#3d4cfa"/><stop offset="0.927" stop-color="#3f47f7"/><stop offset="1.000" stop-color="#4142f3"/></linearGradient>
<linearGradient id="g146" gradientUnits="userSpaceOnUse" x1="201.5" y1="138.1" x2="117.0" y2="99.1"><stop offset="0.000" stop-color="#0f78ff"/><stop offset="0.036" stop-color="#1077ff"/><stop offset="0.052" stop-color="#1177ff"/><stop offset="0.072" stop-color="#1277ff"/><stop offset="0.103" stop-color="#1476ff"/><stop offset="0.180" stop-color="#1873ff"/><stop offset="0.257" stop-color="#1e71ff"/><stop offset="0.333" stop-color="#246dff"/><stop offset="0.409" stop-color="#2b69ff"/><stop offset="0.484" stop-color="#3064ff"/><stop offset="0.559" stop-color="#355fff"/><stop offset="0.633" stop-color="#3959fe"/><stop offset="0.708" stop-color="#3b52fc"/><stop offset="0.781" stop-color="#3e4bf9"/><stop offset="0.855" stop-color="#4046f6"/><stop offset="0.927" stop-color="#4241f3"/><stop offset="1.000" stop-color="#443bef"/></linearGradient>
<linearGradient id="g145" gradientUnits="userSpaceOnUse" x1="200.9" y1="138.8" x2="116.4" y2="101.1"><stop offset="0.000" stop-color="#1476ff"/><stop offset="0.036" stop-color="#1575ff"/><stop offset="0.052" stop-color="#1674ff"/><stop offset="0.072" stop-color="#1774ff"/><stop offset="0.103" stop-color="#1973ff"/><stop offset="0.180" stop-color="#1e70ff"/><stop offset="0.257" stop-color="#256dff"/><stop offset="0.333" stop-color="#2b69ff"/><stop offset="0.409" stop-color="#3064ff"/><stop offset="0.484" stop-color="#355fff"/><stop offset="0.559" stop-color="#3959fe"/><stop offset="0.634" stop-color="#3b52fc"/><stop offset="0.708" stop-color="#3e4bf9"/><stop offset="0.782" stop-color="#4046f6"/><stop offset="0.855" stop-color="#4240f2"/><stop offset="0.928" stop-color="#443aee"/><stop offset="1.000" stop-color="#4533e8"/></linearGradient>
<linearGradient id="g144" gradientUnits="userSpaceOnUse" x1="200.3" y1="139.4" x2="115.8" y2="103.1"><stop offset="0.000" stop-color="#1873ff"/><stop offset="0.036" stop-color="#1a72ff"/><stop offset="0.052" stop-color="#1b72ff"/><stop offset="0.073" stop-color="#1c71ff"/><stop offset="0.104" stop-color="#1e70ff"/><stop offset="0.181" stop-color="#246eff"/><stop offset="0.258" stop-color="#2a6aff"/><stop offset="0.334" stop-color="#2f65ff"/><stop offset="0.410" stop-color="#3460ff"/><stop offset="0.485" stop-color="#395afe"/><stop offset="0.560" stop-color="#3b53fc"/><stop offset="0.634" stop-color="#3d4cfa"/><stop offset="0.708" stop-color="#3f47f6"/><stop offset="0.782" stop-color="#4141f3"/><stop offset="0.855" stop-color="#443bef"/><stop offset="0.928" stop-color="#4534e9"/><stop offset="1.000" stop-color="#452de0"/></linearGradient>
<linearGradient id="g143" gradientUnits="userSpaceOnUse" x1="199.8" y1="140.1" x2="115.3" y2="105.0"><stop offset="0.000" stop-color="#1d71ff"/><stop offset="0.036" stop-color="#1e70ff"/><stop offset="0.052" stop-color="#1f70ff"/><stop offset="0.073" stop-color="#2070ff"/><stop offset="0.104" stop-color="#226fff"/><stop offset="0.181" stop-color="#276cff"/><stop offset="0.258" stop-color="#2b68ff"/><stop offset="0.334" stop-color="#3064ff"/><stop offset="0.410" stop-color="#355fff"/><stop offset="0.486" stop-color="#3959fe"/><stop offset="0.560" stop-color="#3b52fc"/><stop offset="0.635" stop-color="#3e4cf9"/><stop offset="0.709" stop-color="#4046f6"/><stop offset="0.782" stop-color="#4240f2"/><stop offset="0.855" stop-color="#443aee"/><stop offset="0.928" stop-color="#4533e7"/><stop offset="1.000" stop-color="#452bde"/></linearGradient>
<linearGradient id="g142" gradientUnits="userSpaceOnUse" x1="199.2" y1="140.6" x2="114.7" y2="106.9"><stop offset="0.000" stop-color="#1d71ff"/><stop offset="0.036" stop-color="#1f70ff"/><stop offset="0.052" stop-color="#1f70ff"/><stop offset="0.073" stop-color="#206fff"/><stop offset="0.104" stop-color="#226fff"/><stop offset="0.181" stop-color="#266cff"/><stop offset="0.258" stop-color="#2b69ff"/><stop offset="0.335" stop-color="#2f65ff"/><stop offset="0.411" stop-color="#3460ff"/><stop offset="0.486" stop-color="#395afe"/><stop offset="0.561" stop-color="#3b54fc"/><stop offset="0.635" stop-color="#3d4cfa"/><stop offset="0.709" stop-color="#3f47f7"/><stop offset="0.783" stop-color="#4141f3"/><stop offset="0.856" stop-color="#443bef"/><stop offset="0.928" stop-color="#4534e8"/><stop offset="1.000" stop-color="#452cdf"/></linearGradient>
<linearGradient id="g141" gradientUnits="userSpaceOnUse" x1="198.6" y1="140.7" x2="114.1" y2="107.9"><stop offset="0.000" stop-color="#1c72ff"/><stop offset="0.037" stop-color="#1d71ff"/><stop offset="0.052" stop-color="#1d71ff"/><stop offset="0.073" stop-color="#1e70ff"/><stop offset="0.104" stop-color="#1f70ff"/><stop offset="0.182" stop-color="#246eff"/><stop offset="0.259" stop-color="#296bff"/><stop offset="0.335" stop-color="#2d67ff"/><stop offset="0.411" stop-color="#3262ff"/><stop offset="0.486" stop-color="#385cff"/><stop offset="0.561" stop-color="#3a55fd"/><stop offset="0.636" stop-color="#3d4efa"/><stop offset="0.710" stop-color="#3f48f7"/><stop offset="0.783" stop-color="#4142f4"/><stop offset="0.856" stop-color="#433cef"/><stop offset="0.928" stop-color="#4535e9"/><stop offset="1.000" stop-color="#452de0"/></linearGradient>
<linearGradient id="g140" gradientUnits="userSpaceOnUse" x1="198.1" y1="140.7" x2="113.6" y2="108.0"><stop offset="0.000" stop-color="#1a72ff"/><stop offset="0.037" stop-color="#1b72ff"/><stop offset="0.052" stop-color="#1b72ff"/><stop offset="0.073" stop-color="#1c72ff"/><stop offset="0.104" stop-color="#1d71ff"/><stop offset="0.182" stop-color="#216fff"/><stop offset="0.259" stop-color="#266dff"/><stop offset="0.336" stop-color="#2b69ff"/><stop offset="0.412" stop-color="#3064ff"/><stop offset="0.487" stop-color="#355fff"/><stop offset="0.562" stop-color="#3958fe"/><stop offset="0.636" stop-color="#3c51fb"/><stop offset="0.710" stop-color="#3e4af8"/><stop offset="0.783" stop-color="#4044f5"/><stop offset="0.856" stop-color="#433df0"/><stop offset="0.928" stop-color="#4536eb"/><stop offset="1.000" stop-color="#452ee1"/></linearGradient>
<linearGradient id="g139" gradientUnits="userSpaceOnUse" x1="197.5" y1="140.7" x2="113.0" y2="108.0"><stop offset="0.000" stop-color="#1873ff"/><stop offset="0.037" stop-color="#1873ff"/><stop offset="0.052" stop-color="#1973ff"/><stop offset="0.073" stop-color="#1973ff"/><stop offset="0.105" stop-color="#1973ff"/><stop offset="0.182" stop-color="#1c72ff"/><stop offset="0.260" stop-color="#2070ff"/><stop offset="0.336" stop-color="#256dff"/><stop offset="0.412" stop-color="#2b69ff"/><stop offset="0.488" stop-color="#3064ff"/><stop offset="0.563" stop-color="#355fff"/><stop offset="0.637" stop-color="#3958fe"/><stop offset="0.711" stop-color="#3c50fb"/><stop offset="0.784" stop-color="#3e49f8"/><stop offset="0.857" stop-color="#4143f4"/><stop offset="0.929" stop-color="#433cf0"/><stop offset="1.000" stop-color="#4535e9"/></linearGradient>
<linearGradient id="g138" gradientUnits="userSpaceOnUse" x1="196.9" y1="140.8" x2="112.4" y2="108.1"><stop offset="0.000" stop-color="#1674ff"/><stop offset="0.037" stop-color="#1675ff"/><stop offset="0.052" stop-color="#1575ff"/><stop offset="0.073" stop-color="#1575ff"/><stop offset="0.105" stop-color="#1575ff"/><stop offset="0.183" stop-color="#1674ff"/><stop offset="0.260" stop-color="#1973ff"/><stop offset="0.336" stop-color="#1d71ff"/><stop offset="0.413" stop-color="#226eff"/><stop offset="0.488" stop-color="#296bff"/><stop offset="0.563" stop-color="#2e66ff"/><stop offset="0.637" stop-color="#3460ff"/><stop offset="0.711" stop-color="#3959fe"/><stop offset="0.784" stop-color="#3c51fb"/><stop offset="0.857" stop-color="#3e4af8"/><stop offset="0.929" stop-color="#4143f4"/><stop offset="1.000" stop-color="#433cf0"/></linearGradient>
<linearGradient id="g137" gradientUnits="userSpaceOnUse" x1="196.4" y1="140.7" x2="111.9" y2="107.2"><stop offset="0.000" stop-color="#1376ff"/><stop offset="0.037" stop-color="#1277ff"/><stop offset="0.052" stop-color="#1277ff"/><stop offset="0.073" stop-color="#1177ff"/><stop offset="0.105" stop-color="#1177ff"/><stop offset="0.183" stop-color="#1077ff"/><stop offset="0.260" stop-color="#1277ff"/><stop offset="0.336" stop-color="#1575ff"/><stop offset="0.413" stop-color="#1973ff"/><stop offset="0.488" stop-color="#1f70ff"/><stop offset="0.563" stop-color="#266cff"/><stop offset="0.637" stop-color="#2c67ff"/><stop offset="0.711" stop-color="#3361ff"/><stop offset="0.784" stop-color="#395aff"/><stop offset="0.857" stop-color="#3b52fc"/><stop offset="0.929" stop-color="#3e4bf9"/><stop offset="1.000" stop-color="#4044f5"/></linearGradient>
<linearGradient id="g136" gradientUnits="userSpaceOnUse" x1="195.8" y1="140.5" x2="111.3" y2="105.6"><stop offset="0.000" stop-color="#1078ff"/><stop offset="0.037" stop-color="#0f78ff"/><stop offset="0.052" stop-color="#0e79ff"/><stop offset="0.073" stop-color="#0e79ff"/><stop offset="0.105" stop-color="#0d79ff"/><stop offset="0.182" stop-color="#0d7aff"/><stop offset="0.260" stop-color="#0d7aff"/><stop offset="0.336" stop-color="#0e79ff"/><stop offset="0.412" stop-color="#1177ff"/><stop offset="0.488" stop-color="#1575ff"/><stop offset="0.563" stop-color="#1c72ff"/><stop offset="0.637" stop-color="#236eff"/><stop offset="0.711" stop-color="#2b69ff"/><stop offset="0.784" stop-color="#3163ff"/><stop offset="0.856" stop-color="#385cff"/><stop offset="0.929" stop-color="#3b54fd"/><stop offset="1.000" stop-color="#3d4cfa"/></linearGradient>
<linearGradient id="g135" gradientUnits="userSpaceOnUse" x1="195.3" y1="140.4" x2="110.8" y2="103.9"><stop offset="0.000" stop-color="#0d79ff"/><stop offset="0.037" stop-color="#0c7aff"/><stop offset="0.052" stop-color="#0c7bff"/><stop offset="0.073" stop-color="#0b7bff"/><stop offset="0.104" stop-color="#0b7cff"/><stop offset="0.182" stop-color="#0a7dff"/><stop offset="0.259" stop-color="#097dff"/><stop offset="0.335" stop-color="#0a7dff"/><stop offset="0.411" stop-color="#0b7cff"/><stop offset="0.487" stop-color="#0d7aff"/><stop offset="0.562" stop-color="#0f78ff"/><stop offset="0.636" stop-color="#1575ff"/><stop offset="0.710" stop-color="#1c71ff"/><stop offset="0.783" stop-color="#246dff"/><stop offset="0.856" stop-color="#2c68ff"/><stop offset="0.928" stop-color="#3262ff"/><stop offset="1.000" stop-color="#395afe"/></linearGradient>
<linearGradient id="g134" gradientUnits="userSpaceOnUse" x1="194.7" y1="140.2" x2="110.2" y2="102.2"><stop offset="0.000" stop-color="#0b7bff"/><stop offset="0.036" stop-color="#0a7cff"/><stop offset="0.052" stop-color="#097dff"/><stop offset="0.073" stop-color="#097dff"/><stop offset="0.104" stop-color="#087eff"/><stop offset="0.181" stop-color="#067fff"/><stop offset="0.258" stop-color="#0580ff"/><stop offset="0.335" stop-color="#0581ff"/><stop offset="0.411" stop-color="#0580ff"/><stop offset="0.486" stop-color="#0680ff"/><stop offset="0.561" stop-color="#087eff"/><stop offset="0.635" stop-color="#0a7cff"/><stop offset="0.709" stop-color="#0d7aff"/><stop offset="0.783" stop-color="#1277ff"/><stop offset="0.856" stop-color="#1973ff"/><stop offset="0.928" stop-color="#226fff"/><stop offset="1.000" stop-color="#2a6aff"/></linearGradient>
<linearGradient id="g133" gradientUnits="userSpaceOnUse" x1="194.1" y1="140.0" x2="109.6" y2="100.2"><stop offset="0.000" stop-color="#097dff"/><stop offset="0.036" stop-color="#087eff"/><stop offset="0.052" stop-color="#077fff"/><stop offset="0.073" stop-color="#067fff"/><stop offset="0.104" stop-color="#0580ff"/><stop offset="0.181" stop-color="#0382ff"/><stop offset="0.257" stop-color="#0184ff"/><stop offset="0.334" stop-color="#0085ff"/><stop offset="0.410" stop-color="#0085ff"/><stop offset="0.485" stop-color="#0085ff"/><stop offset="0.560" stop-color="#0084ff"/><stop offset="0.634" stop-color="#0183ff"/><stop offset="0.708" stop-color="#0382ff"/><stop offset="0.782" stop-color="#0680ff"/><stop offset="0.855" stop-color="#097dff"/><stop offset="0.928" stop-color="#0d7aff"/><stop offset="1.000" stop-color="#1277ff"/></linearGradient>
<linearGradient id="g132" gradientUnits="userSpaceOnUse" x1="193.6" y1="139.9" x2="109.1" y2="97.9"><stop offset="0.000" stop-color="#077fff"/><stop offset="0.036" stop-color="#0580ff"/><stop offset="0.052" stop-color="#0581ff"/><stop offset="0.072" stop-color="#0482ff"/><stop offset="0.103" stop-color="#0283ff"/><stop offset="0.180" stop-color="#0085ff"/><stop offset="0.257" stop-color="#0087fe"/><stop offset="0.333" stop-color="#0088fd"/><stop offset="0.409" stop-color="#0089fd"/><stop offset="0.484" stop-color="#0089fd"/><stop offset="0.559" stop-color="#008afd"/><stop offset="0.633" stop-color="#0089fd"/><stop offset="0.708" stop-color="#0089fd"/><stop offset="0.781" stop-color="#0088fd"/><stop offset="0.855" stop-color="#0087fe"/><stop offset="0.927" stop-color="#0085ff"/><stop offset="1.000" stop-color="#0283ff"/></linearGradient>
<linearGradient id="g131" gradientUnits="userSpaceOnUse" x1="193.0" y1="139.7" x2="108.5" y2="95.5"><stop offset="0.000" stop-color="#0580ff"/><stop offset="0.036" stop-color="#0382ff"/><stop offset="0.051" stop-color="#0283ff"/><stop offset="0.072" stop-color="#0184ff"/><stop offset="0.103" stop-color="#0085ff"/><stop offset="0.180" stop-color="#0087fe"/><stop offset="0.256" stop-color="#0089fd"/><stop offset="0.332" stop-color="#008bfc"/><stop offset="0.407" stop-color="#008dfb"/><stop offset="0.483" stop-color="#008efa"/><stop offset="0.558" stop-color="#008ffa"/><stop offset="0.632" stop-color="#008ffa"/><stop offset="0.707" stop-color="#0090fa"/><stop offset="0.780" stop-color="#0090fa"/><stop offset="0.854" stop-color="#008ffa"/><stop offset="0.927" stop-color="#008ffa"/><stop offset="1.000" stop-color="#008efa"/></linearGradient>
<linearGradient id="g130" gradientUnits="userSpaceOnUse" x1="192.4" y1="139.5" x2="107.9" y2="93.2"><stop offset="0.000" stop-color="#0382ff"/><stop offset="0.036" stop-color="#0084ff"/><stop offset="0.051" stop-color="#0085ff"/><stop offset="0.072" stop-color="#0086fe"/><stop offset="0.102" stop-color="#0087fe"/><stop offset="0.179" stop-color="#008afc"/><stop offset="0.255" stop-color="#008cfb"/><stop offset="0.331" stop-color="#008efa"/><stop offset="0.406" stop-color="#0090f9"/><stop offset="0.482" stop-color="#0092f8"/><stop offset="0.556" stop-color="#0094f7"/><stop offset="0.631" stop-color="#0095f7"/><stop offset="0.705" stop-color="#0096f6"/><stop offset="0.780" stop-color="#0097f6"/><stop offset="0.853" stop-color="#0098f6"/><stop offset="0.927" stop-color="#0098f5"/><stop offset="1.000" stop-color="#0098f5"/></linearGradient>
<linearGradient id="g129" gradientUnits="userSpaceOnUse" x1="191.9" y1="139.3" x2="107.4" y2="90.9"><stop offset="0.000" stop-color="#0085ff"/><stop offset="0.036" stop-color="#0086fe"/><stop offset="0.051" stop-color="#0087fe"/><stop offset="0.071" stop-color="#0088fd"/><stop offset="0.102" stop-color="#0089fd"/><stop offset="0.178" stop-color="#008cfb"/><stop offset="0.254" stop-color="#008ffa"/><stop offset="0.330" stop-color="#0092f8"/><stop offset="0.405" stop-color="#0094f7"/><stop offset="0.480" stop-color="#0097f6"/><stop offset="0.555" stop-color="#0099f5"/><stop offset="0.630" stop-color="#009bf4"/><stop offset="0.704" stop-color="#009df3"/><stop offset="0.779" stop-color="#009ef3"/><stop offset="0.853" stop-color="#00a0f2"/><stop offset="0.926" stop-color="#00a1f2"/><stop offset="1.000" stop-color="#00a2f1"/></linearGradient>
<linearGradient id="g128" gradientUnits="userSpaceOnUse" x1="191.3" y1="139.1" x2="106.8" y2="88.6"><stop offset="0.000" stop-color="#0086fe"/><stop offset="0.036" stop-color="#0088fd"/><stop offset="0.051" stop-color="#0089fd"/><stop offset="0.071" stop-color="#008afc"/><stop offset="0.101" stop-color="#008bfc"/><stop offset="0.177" stop-color="#008ffa"/><stop offset="0.253" stop-color="#0092f8"/><stop offset="0.328" stop-color="#0095f7"/><stop offset="0.404" stop-color="#0098f5"/><stop offset="0.479" stop-color="#009bf4"/><stop offset="0.554" stop-color="#009ef3"/><stop offset="0.629" stop-color="#00a1f2"/><stop offset="0.703" stop-color="#00a3f1"/><stop offset="0.778" stop-color="#00a6f0"/><stop offset="0.852" stop-color="#00a8ef"/><stop offset="0.926" stop-color="#00aaee"/><stop offset="1.000" stop-color="#00acee"/></linearGradient>
<linearGradient id="g127" gradientUnits="userSpaceOnUse" x1="190.7" y1="138.8" x2="106.2" y2="86.3"><stop offset="0.000" stop-color="#0088fd"/><stop offset="0.035" stop-color="#008afc"/><stop offset="0.050" stop-color="#008bfc"/><stop offset="0.071" stop-color="#008cfb"/><stop offset="0.101" stop-color="#008efb"/><stop offset="0.176" stop-color="#0091f9"/><stop offset="0.252" stop-color="#0095f7"/><stop offset="0.327" stop-color="#0099f5"/><stop offset="0.402" stop-color="#009cf4"/><stop offset="0.477" stop-color="#00a0f2"/><stop offset="0.552" stop-color="#00a3f1"/><stop offset="0.627" stop-color="#00a7f0"/><stop offset="0.702" stop-color="#00aaee"/><stop offset="0.777" stop-color="#00aded"/><stop offset="0.851" stop-color="#00afe9"/><stop offset="0.926" stop-color="#00b1e5"/><stop offset="1.000" stop-color="#00b3e2"/></linearGradient>
<linearGradient id="g126" gradientUnits="userSpaceOnUse" x1="190.2" y1="138.5" x2="105.7" y2="84.0"><stop offset="0.000" stop-color="#008afc"/><stop offset="0.035" stop-color="#008cfb"/><stop offset="0.050" stop-color="#008dfb"/><stop offset="0.070" stop-color="#008efa"/><stop offset="0.100" stop-color="#0090f9"/><stop offset="0.175" stop-color="#0094f7"/><stop offset="0.250" stop-color="#0098f5"/><stop offset="0.325" stop-color="#009cf4"/><stop offset="0.400" stop-color="#00a0f2"/><stop offset="0.475" stop-color="#00a4f1"/><stop offset="0.550" stop-color="#00a8ef"/><stop offset="0.625" stop-color="#00aded"/><stop offset="0.700" stop-color="#00afe9"/><stop offset="0.775" stop-color="#00b2e4"/><stop offset="0.850" stop-color="#00b4df"/><stop offset="0.925" stop-color="#00b7da"/><stop offset="1.000" stop-color="#00bad5"/></linearGradient>
<linearGradient id="g125" gradientUnits="userSpaceOnUse" x1="189.6" y1="138.3" x2="105.1" y2="81.6"><stop offset="0.000" stop-color="#008cfb"/><stop offset="0.035" stop-color="#008efa"/><stop offset="0.050" stop-color="#008ffa"/><stop offset="0.070" stop-color="#0090f9"/><stop offset="0.099" stop-color="#0092f8"/><stop offset="0.174" stop-color="#0096f6"/><stop offset="0.249" stop-color="#009bf4"/><stop offset="0.323" stop-color="#009ff2"/><stop offset="0.398" stop-color="#00a4f1"/><stop offset="0.473" stop-color="#00a9ef"/><stop offset="0.548" stop-color="#00aded"/><stop offset="0.623" stop-color="#00b0e7"/><stop offset="0.698" stop-color="#00b4e1"/><stop offset="0.774" stop-color="#00b7db"/><stop offset="0.849" stop-color="#00bad4"/><stop offset="0.924" stop-color="#00bdcb"/><stop offset="1.000" stop-color="#00c0c2"/></linearGradient>
<linearGradient id="g124" gradientUnits="userSpaceOnUse" x1="189.1" y1="138.0" x2="104.6" y2="79.3"><stop offset="0.000" stop-color="#008efa"/><stop offset="0.034" stop-color="#0090f9"/><stop offset="0.049" stop-color="#0091f9"/><stop offset="0.069" stop-color="#0092f8"/><stop offset="0.098" stop-color="#0094f7"/><stop offset="0.172" stop-color="#0099f5"/><stop offset="0.246" stop-color="#009ef3"/><stop offset="0.321" stop-color="#00a3f1"/><stop offset="0.395" stop-color="#00a8ef"/><stop offset="0.470" stop-color="#00aeed"/><stop offset="0.545" stop-color="#00b1e6"/><stop offset="0.621" stop-color="#00b5df"/><stop offset="0.696" stop-color="#00b8d7"/><stop offset="0.772" stop-color="#00bcce"/><stop offset="0.848" stop-color="#00c0c2"/><stop offset="0.924" stop-color="#00c4b6"/><stop offset="1.000" stop-color="#00c7a9"/></linearGradient>
<linearGradient id="g123" gradientUnits="userSpaceOnUse" x1="188.5" y1="137.7" x2="104.0" y2="77.0"><stop offset="0.000" stop-color="#0090fa"/><stop offset="0.034" stop-color="#0092f8"/><stop offset="0.049" stop-color="#0093f8"/><stop offset="0.068" stop-color="#0094f7"/><stop offset="0.097" stop-color="#0096f6"/><stop offset="0.170" stop-color="#009bf4"/><stop offset="0.244" stop-color="#00a1f2"/><stop offset="0.318" stop-color="#00a7f0"/><stop offset="0.393" stop-color="#00aded"/><stop offset="0.467" stop-color="#00b1e6"/><stop offset="0.542" stop-color="#00b5de"/><stop offset="0.618" stop-color="#00b9d6"/><stop offset="0.693" stop-color="#00beca"/><stop offset="0.770" stop-color="#00c2bc"/><stop offset="0.846" stop-color="#00c7ae"/><stop offset="0.923" stop-color="#00c99e"/><stop offset="1.000" stop-color="#00cb8e"/></linearGradient>
<linearGradient id="g122" gradientUnits="userSpaceOnUse" x1="187.9" y1="137.5" x2="103.4" y2="74.2"><stop offset="0.000" stop-color="#0091f9"/><stop offset="0.034" stop-color="#0094f7"/><stop offset="0.048" stop-color="#0095f7"/><stop offset="0.067" stop-color="#0096f6"/><stop offset="0.096" stop-color="#0098f5"/><stop offset="0.169" stop-color="#009ef3"/><stop offset="0.242" stop-color="#00a4f1"/><stop offset="0.315" stop-color="#00aaee"/><stop offset="0.389" stop-color="#00b0e9"/><stop offset="0.464" stop-color="#00b4e0"/><stop offset="0.539" stop-color="#00b9d7"/><stop offset="0.615" stop-color="#00bdca"/><stop offset="0.691" stop-color="#00c2bb"/><stop offset="0.767" stop-color="#00c7ab"/><stop offset="0.844" stop-color="#00c999"/><stop offset="0.922" stop-color="#00cc87"/><stop offset="1.000" stop-color="#03ce7a"/></linearGradient>
<linearGradient id="g121" gradientUnits="userSpaceOnUse" x1="187.4" y1="137.2" x2="102.9" y2="71.1"><stop offset="0.000" stop-color="#0093f8"/><stop offset="0.033" stop-color="#0096f6"/><stop offset="0.047" stop-color="#0097f6"/><stop offset="0.066" stop-color="#0098f5"/><stop offset="0.095" stop-color="#009af4"/><stop offset="0.167" stop-color="#00a0f2"/><stop offset="0.239" stop-color="#00a6f0"/><stop offset="0.312" stop-color="#00aded"/><stop offset="0.386" stop-color="#00b2e5"/><stop offset="0.461" stop-color="#00b6db"/><stop offset="0.536" stop-color="#00bbd0"/><stop offset="0.612" stop-color="#00c1c0"/><stop offset="0.688" stop-color="#00c6af"/><stop offset="0.765" stop-color="#00c99c"/><stop offset="0.843" stop-color="#00cc88"/><stop offset="0.921" stop-color="#03ce7a"/><stop offset="1.000" stop-color="#07d16c"/></linearGradient>
<linearGradient id="g120" gradientUnits="userSpaceOnUse" x1="186.8" y1="136.9" x2="102.3" y2="68.0"><stop offset="0.000" stop-color="#0095f7"/><stop offset="0.033" stop-color="#0097f6"/><stop offset="0.047" stop-color="#0099f5"/><stop offset="0.065" stop-color="#009af4"/><stop offset="0.094" stop-color="#009cf4"/><stop offset="0.165" stop-color="#00a2f1"/><stop offset="0.237" stop-color="#00a9ef"/><stop offset="0.309" stop-color="#00afea"/><stop offset="0.383" stop-color="#00b4e1"/><stop offset="0.457" stop-color="#00b9d7"/><stop offset="0.532" stop-color="#00bec8"/><stop offset="0.608" stop-color="#00c4b6"/><stop offset="0.685" stop-color="#00c8a3"/><stop offset="0.763" stop-color="#00cb8f"/><stop offset="0.841" stop-color="#02cd7d"/><stop offset="0.920" stop-color="#07d06f"/><stop offset="1.000" stop-color="#2ece53"/></linearGradient>
<linearGradient id="g119" gradientUnits="userSpaceOnUse" x1="186.2" y1="136.6" x2="101.7" y2="65.2"><stop offset="0.000" stop-color="#0097f6"/><stop offset="0.032" stop-color="#0099f5"/><stop offset="0.046" stop-color="#009bf4"/><stop offset="0.065" stop-color="#009cf4"/><stop offset="0.092" stop-color="#009ef3"/><stop offset="0.163" stop-color="#00a4f1"/><stop offset="0.234" stop-color="#00abee"/><stop offset="0.307" stop-color="#00b0e7"/><stop offset="0.380" stop-color="#00b5dd"/><stop offset="0.454" stop-color="#00bbd2"/><stop offset="0.529" stop-color="#00c1c0"/><stop offset="0.605" stop-color="#00c7ae"/><stop offset="0.682" stop-color="#00ca98"/><stop offset="0.760" stop-color="#01cc83"/><stop offset="0.839" stop-color="#05cf74"/><stop offset="0.919" stop-color="#13cf5f"/><stop offset="1.000" stop-color="#86cc23"/></linearGradient>
<linearGradient id="g118" gradientUnits="userSpaceOnUse" x1="185.7" y1="136.3" x2="101.2" y2="62.9"><stop offset="0.000" stop-color="#0099f5"/><stop offset="0.032" stop-color="#009bf4"/><stop offset="0.045" stop-color="#009cf4"/><stop offset="0.064" stop-color="#009ef3"/><stop offset="0.091" stop-color="#00a0f2"/><stop offset="0.161" stop-color="#00a6f0"/><stop offset="0.232" stop-color="#00aded"/><stop offset="0.304" stop-color="#00b2e5"/><stop offset="0.377" stop-color="#00b7da"/><stop offset="0.451" stop-color="#00bccd"/><stop offset="0.526" stop-color="#00c2bb"/><stop offset="0.602" stop-color="#00c8a7"/><stop offset="0.680" stop-color="#00cb90"/><stop offset="0.758" stop-color="#02ce7d"/><stop offset="0.838" stop-color="#07d16d"/><stop offset="0.918" stop-color="#48cd47"/><stop offset="1.000" stop-color="#b3cc0a"/></linearGradient>
<linearGradient id="g117" gradientUnits="userSpaceOnUse" x1="185.1" y1="136.0" x2="100.6" y2="60.6"><stop offset="0.000" stop-color="#009bf4"/><stop offset="0.031" stop-color="#009df3"/><stop offset="0.045" stop-color="#009ef3"/><stop offset="0.063" stop-color="#00a0f2"/><stop offset="0.090" stop-color="#00a2f1"/><stop offset="0.159" stop-color="#00a8ef"/><stop offset="0.230" stop-color="#00aeec"/><stop offset="0.301" stop-color="#00b3e2"/><stop offset="0.374" stop-color="#00b8d8"/><stop offset="0.448" stop-color="#00bec8"/><stop offset="0.523" stop-color="#00c4b5"/><stop offset="0.600" stop-color="#00c9a0"/><stop offset="0.677" stop-color="#00cc88"/><stop offset="0.756" stop-color="#04cf77"/><stop offset="0.836" stop-color="#10cf63"/><stop offset="0.918" stop-color="#80cc27"/><stop offset="1.000" stop-color="#d0cc00"/></linearGradient>
<linearGradient id="g116" gradientUnits="userSpaceOnUse" x1="184.5" y1="135.7" x2="100.0" y2="58.7"><stop offset="0.000" stop-color="#009df3"/><stop offset="0.031" stop-color="#009ff2"/><stop offset="0.045" stop-color="#00a0f2"/><stop offset="0.062" stop-color="#00a2f2"/><stop offset="0.090" stop-color="#00a4f1"/><stop offset="0.158" stop-color="#00aaee"/><stop offset="0.228" stop-color="#00afe9"/><stop offset="0.300" stop-color="#00b4df"/><stop offset="0.372" stop-color="#00bad4"/><stop offset="0.446" stop-color="#00c0c3"/><stop offset="0.521" stop-color="#00c6af"/><stop offset="0.598" stop-color="#00ca98"/><stop offset="0.676" stop-color="#01cd82"/><stop offset="0.755" stop-color="#06d071"/><stop offset="0.835" stop-color="#2fce52"/><stop offset="0.917" stop-color="#a7cc10"/><stop offset="1.000" stop-color="#e4cc00"/></linearGradient>
<linearGradient id="g115" gradientUnits="userSpaceOnUse" x1="184.0" y1="135.3" x2="99.5" y2="57.2"><stop offset="0.000" stop-color="#009ff2"/><stop offset="0.031" stop-color="#00a1f2"/><stop offset="0.044" stop-color="#00a2f1"/><stop offset="0.062" stop-color="#00a4f1"/><stop offset="0.089" stop-color="#00a6f0"/><stop offset="0.158" stop-color="#00acee"/><stop offset="0.228" stop-color="#00b1e6"/><stop offset="0.299" stop-color="#00b6dc"/><stop offset="0.371" stop-color="#00bbd0"/><stop offset="0.445" stop-color="#00c1be"/><stop offset="0.520" stop-color="#00c7aa"/><stop offset="0.597" stop-color="#00ca92"/><stop offset="0.675" stop-color="#02cd7e"/><stop offset="0.754" stop-color="#07d16d"/><stop offset="0.835" stop-color="#4fcc44"/><stop offset="0.917" stop-color="#bccc05"/><stop offset="1.000" stop-color="#ecc904"/></linearGradient>
<linearGradient id="g114" gradientUnits="userSpaceOnUse" x1="183.4" y1="135.0" x2="98.9" y2="55.7"><stop offset="0.000" stop-color="#00a1f2"/><stop offset="0.031" stop-color="#00a4f1"/><stop offset="0.044" stop-color="#00a5f0"/><stop offset="0.062" stop-color="#00a6f0"/><stop offset="0.089" stop-color="#00a8ef"/><stop offset="0.157" stop-color="#00aeec"/><stop offset="0.227" stop-color="#00b2e3"/><stop offset="0.298" stop-color="#00b7d9"/><stop offset="0.371" stop-color="#00bdcb"/><stop offset="0.445" stop-color="#00c3b8"/><stop offset="0.520" stop-color="#00c8a3"/><stop offset="0.596" stop-color="#00cb8c"/><stop offset="0.674" stop-color="#03ce79"/><stop offset="0.754" stop-color="#0dd066"/><stop offset="0.834" stop-color="#76cc2d"/><stop offset="0.917" stop-color="#cecc00"/><stop offset="1.000" stop-color="#f5c409"/></linearGradient>
<linearGradient id="g113" gradientUnits="userSpaceOnUse" x1="182.9" y1="134.7" x2="98.4" y2="54.7"><stop offset="0.000" stop-color="#00a3f1"/><stop offset="0.031" stop-color="#00a6f0"/><stop offset="0.044" stop-color="#00a7f0"/><stop offset="0.062" stop-color="#00a8ef"/><stop offset="0.089" stop-color="#00aaee"/><stop offset="0.157" stop-color="#00b0e9"/><stop offset="0.227" stop-color="#00b4e0"/><stop offset="0.298" stop-color="#00b9d5"/><stop offset="0.370" stop-color="#00bfc5"/><stop offset="0.444" stop-color="#00c5b2"/><stop offset="0.519" stop-color="#00c99c"/><stop offset="0.596" stop-color="#00cc84"/><stop offset="0.674" stop-color="#05cf73"/><stop offset="0.753" stop-color="#20ce59"/><stop offset="0.834" stop-color="#9ecc14"/><stop offset="0.916" stop-color="#dfcc00"/><stop offset="1.000" stop-color="#fbc110"/></linearGradient>
<linearGradient id="g112" gradientUnits="userSpaceOnUse" x1="182.3" y1="134.4" x2="97.8" y2="54.2"><stop offset="0.000" stop-color="#00a5f0"/><stop offset="0.031" stop-color="#00a8ef"/><stop offset="0.044" stop-color="#00a9ef"/><stop offset="0.062" stop-color="#00aaee"/><stop offset="0.089" stop-color="#00aded"/><stop offset="0.157" stop-color="#00b1e6"/><stop offset="0.226" stop-color="#00b6dc"/><stop offset="0.297" stop-color="#00bbd0"/><stop offset="0.370" stop-color="#00c1bf"/><stop offset="0.444" stop-color="#00c7ab"/><stop offset="0.519" stop-color="#00ca94"/><stop offset="0.596" stop-color="#02cd7e"/><stop offset="0.674" stop-color="#07d16e"/><stop offset="0.753" stop-color="#4acd47"/><stop offset="0.834" stop-color="#b9cc07"/><stop offset="0.916" stop-color="#ebc903"/><stop offset="1.000" stop-color="#ffc017"/></linearGradient>
<linearGradient id="g111" gradientUnits="userSpaceOnUse" x1="181.7" y1="134.1" x2="97.2" y2="53.8"><stop offset="0.000" stop-color="#00a7ef"/><stop offset="0.031" stop-color="#00aaee"/><stop offset="0.044" stop-color="#00abee"/><stop offset="0.062" stop-color="#00aded"/><stop offset="0.089" stop-color="#00aeeb"/><stop offset="0.157" stop-color="#00b3e3"/><stop offset="0.226" stop-color="#00b8d9"/><stop offset="0.297" stop-color="#00bdcb"/><stop offset="0.370" stop-color="#00c3b8"/><stop offset="0.443" stop-color="#00c8a4"/><stop offset="0.519" stop-color="#00cb8c"/><stop offset="0.595" stop-color="#03ce79"/><stop offset="0.673" stop-color="#0dd066"/><stop offset="0.753" stop-color="#74cc2e"/><stop offset="0.834" stop-color="#cdcc00"/><stop offset="0.916" stop-color="#f5c409"/><stop offset="1.000" stop-color="#ffc412"/></linearGradient>
<linearGradient id="g110" gradientUnits="userSpaceOnUse" x1="181.2" y1="133.8" x2="96.7" y2="53.5"><stop offset="0.000" stop-color="#00a9ef"/><stop offset="0.031" stop-color="#00acee"/><stop offset="0.044" stop-color="#00aded"/><stop offset="0.062" stop-color="#00aeec"/><stop offset="0.089" stop-color="#00b0e9"/><stop offset="0.157" stop-color="#00b4e0"/><stop offset="0.226" stop-color="#00b9d7"/><stop offset="0.297" stop-color="#00bec8"/><stop offset="0.370" stop-color="#00c4b6"/><stop offset="0.443" stop-color="#00c8a1"/><stop offset="0.519" stop-color="#00cb89"/><stop offset="0.595" stop-color="#04cf78"/><stop offset="0.673" stop-color="#0fd063"/><stop offset="0.753" stop-color="#80cc27"/><stop offset="0.834" stop-color="#d1cc00"/><stop offset="0.916" stop-color="#f7c30a"/><stop offset="1.000" stop-color="#ffc412"/></linearGradient>
<linearGradient id="g109" gradientUnits="userSpaceOnUse" x1="180.6" y1="133.6" x2="96.1" y2="53.5"><stop offset="0.000" stop-color="#00aaee"/><stop offset="0.031" stop-color="#00aced"/><stop offset="0.044" stop-color="#00aded"/><stop offset="0.062" stop-color="#00aeeb"/><stop offset="0.089" stop-color="#00b0e8"/><stop offset="0.157" stop-color="#00b4e0"/><stop offset="0.227" stop-color="#00b9d7"/><stop offset="0.298" stop-color="#00bec9"/><stop offset="0.370" stop-color="#00c4b7"/><stop offset="0.444" stop-color="#00c8a3"/><stop offset="0.519" stop-color="#00cb8d"/><stop offset="0.596" stop-color="#03ce7a"/><stop offset="0.674" stop-color="#0ad169"/><stop offset="0.754" stop-color="#60cc3b"/><stop offset="0.834" stop-color="#c5cc01"/><stop offset="0.916" stop-color="#efc705"/><stop offset="1.000" stop-color="#ffc115"/></linearGradient>
<linearGradient id="g108" gradientUnits="userSpaceOnUse" x1="180.0" y1="133.6" x2="95.5" y2="53.8"><stop offset="0.000" stop-color="#00abee"/><stop offset="0.031" stop-color="#00aded"/><stop offset="0.044" stop-color="#00aeec"/><stop offset="0.062" stop-color="#00afeb"/><stop offset="0.089" stop-color="#00b0e8"/><stop offset="0.158" stop-color="#00b4e1"/><stop offset="0.228" stop-color="#00b8d8"/><stop offset="0.299" stop-color="#00bdcc"/><stop offset="0.372" stop-color="#00c2bc"/><stop offset="0.446" stop-color="#00c7aa"/><stop offset="0.521" stop-color="#00ca95"/><stop offset="0.598" stop-color="#01cd80"/><stop offset="0.675" stop-color="#06d071"/><stop offset="0.755" stop-color="#28ce56"/><stop offset="0.835" stop-color="#9fcc14"/><stop offset="0.917" stop-color="#dccc00"/><stop offset="1.000" stop-color="#f9c20d"/></linearGradient>
<linearGradient id="g107" gradientUnits="userSpaceOnUse" x1="179.5" y1="133.6" x2="95.0" y2="55.0"><stop offset="0.000" stop-color="#00acee"/><stop offset="0.031" stop-color="#00aded"/><stop offset="0.045" stop-color="#00aeec"/><stop offset="0.063" stop-color="#00afea"/><stop offset="0.090" stop-color="#00b0e8"/><stop offset="0.159" stop-color="#00b3e2"/><stop offset="0.229" stop-color="#00b7da"/><stop offset="0.301" stop-color="#00bbd0"/><stop offset="0.374" stop-color="#00c0c2"/><stop offset="0.448" stop-color="#00c5b2"/><stop offset="0.523" stop-color="#00c99f"/><stop offset="0.599" stop-color="#00cb8b"/><stop offset="0.677" stop-color="#03ce7a"/><stop offset="0.756" stop-color="#08d16b"/><stop offset="0.836" stop-color="#4bcd46"/><stop offset="0.917" stop-color="#b2cc0b"/><stop offset="1.000" stop-color="#e6cc00"/></linearGradient>
<linearGradient id="g106" gradientUnits="userSpaceOnUse" x1="178.9" y1="133.5" x2="94.4" y2="56.6"><stop offset="0.000" stop-color="#00aded"/><stop offset="0.032" stop-color="#00aeec"/><stop offset="0.045" stop-color="#00aeeb"/><stop offset="0.063" stop-color="#00afea"/><stop offset="0.091" stop-color="#00b0e8"/><stop offset="0.160" stop-color="#00b3e3"/><stop offset="0.231" stop-color="#00b6dc"/><stop offset="0.303" stop-color="#00bad5"/><stop offset="0.376" stop-color="#00bec8"/><stop offset="0.450" stop-color="#00c3ba"/><stop offset="0.525" stop-color="#00c7aa"/><stop offset="0.601" stop-color="#00ca97"/><stop offset="0.679" stop-color="#00cc84"/><stop offset="0.757" stop-color="#04cf76"/><stop offset="0.837" stop-color="#0dd066"/><stop offset="0.918" stop-color="#5fcc3c"/><stop offset="1.000" stop-color="#bacc06"/></linearGradient>
<linearGradient id="g105" gradientUnits="userSpaceOnUse" x1="178.3" y1="133.5" x2="93.8" y2="58.6"><stop offset="0.000" stop-color="#00aded"/><stop offset="0.032" stop-color="#00aeec"/><stop offset="0.046" stop-color="#00aeeb"/><stop offset="0.064" stop-color="#00afea"/><stop offset="0.092" stop-color="#00b0e8"/><stop offset="0.162" stop-color="#00b2e4"/><stop offset="0.233" stop-color="#00b5de"/><stop offset="0.305" stop-color="#00b8d8"/><stop offset="0.378" stop-color="#00bcce"/><stop offset="0.452" stop-color="#00c0c2"/><stop offset="0.527" stop-color="#00c5b4"/><stop offset="0.603" stop-color="#00c8a4"/><stop offset="0.680" stop-color="#00ca92"/><stop offset="0.759" stop-color="#01cd81"/><stop offset="0.838" stop-color="#05cf74"/><stop offset="0.919" stop-color="#0fd064"/><stop offset="1.000" stop-color="#64cc39"/></linearGradient>
<linearGradient id="g104" gradientUnits="userSpaceOnUse" x1="177.8" y1="133.5" x2="93.3" y2="60.7"><stop offset="0.000" stop-color="#00aeec"/><stop offset="0.032" stop-color="#00aeeb"/><stop offset="0.046" stop-color="#00afea"/><stop offset="0.064" stop-color="#00afea"/><stop offset="0.092" stop-color="#00b0e8"/><stop offset="0.163" stop-color="#00b2e4"/><stop offset="0.234" stop-color="#00b4e0"/><stop offset="0.306" stop-color="#00b7da"/><stop offset="0.380" stop-color="#00bad4"/><stop offset="0.454" stop-color="#00bec9"/><stop offset="0.529" stop-color="#00c2bd"/><stop offset="0.605" stop-color="#00c6af"/><stop offset="0.682" stop-color="#00c9a0"/><stop offset="0.760" stop-color="#00cb8f"/><stop offset="0.839" stop-color="#01cd80"/><stop offset="0.919" stop-color="#05cf73"/><stop offset="1.000" stop-color="#10d063"/></linearGradient>
<linearGradient id="g103" gradientUnits="userSpaceOnUse" x1="177.2" y1="133.5" x2="92.7" y2="63.0"><stop offset="0.000" stop-color="#00aeec"/><stop offset="0.032" stop-color="#00afeb"/><stop offset="0.046" stop-color="#00afea"/><stop offset="0.065" stop-color="#00afea"/><stop offset="0.093" stop-color="#00b0e8"/><stop offset="0.164" stop-color="#00b1e5"/><stop offset="0.236" stop-color="#00b3e1"/><stop offset="0.308" stop-color="#00b6dc"/><stop offset="0.382" stop-color="#00b9d7"/><stop offset="0.456" stop-color="#00bccf"/><stop offset="0.531" stop-color="#00bfc4"/><stop offset="0.607" stop-color="#00c3b9"/><stop offset="0.684" stop-color="#00c7ac"/><stop offset="0.762" stop-color="#00c99d"/><stop offset="0.840" stop-color="#00cb8d"/><stop offset="0.920" stop-color="#02cd7f"/><stop offset="1.000" stop-color="#05cf73"/></linearGradient>
<linearGradient id="g102" gradientUnits="userSpaceOnUse" x1="176.7" y1="133.7" x2="92.2" y2="65.5"><stop offset="0.000" stop-color="#00aeec"/><stop offset="0.033" stop-color="#00aeeb"/><stop offset="0.047" stop-color="#00afeb"/><stop offset="0.066" stop-color="#00afea"/><stop offset="0.094" stop-color="#00afe9"/><stop offset="0.165" stop-color="#00b1e6"/><stop offset="0.237" stop-color="#00b2e3"/><stop offset="0.310" stop-color="#00b5df"/><stop offset="0.384" stop-color="#00b7da"/><stop offset="0.458" stop-color="#00bad4"/><stop offset="0.533" stop-color="#00bdcc"/><stop offset="0.609" stop-color="#00c0c1"/><stop offset="0.686" stop-color="#00c4b6"/><stop offset="0.763" stop-color="#00c7a9"/><stop offset="0.841" stop-color="#00c99b"/><stop offset="0.920" stop-color="#00cb8c"/><stop offset="1.000" stop-color="#02cd7f"/></linearGradient>
<linearGradient id="g101" gradientUnits="userSpaceOnUse" x1="176.1" y1="134.0" x2="91.6" y2="68.1"><stop offset="0.000" stop-color="#00aeed"/><stop offset="0.033" stop-color="#00aeec"/><stop offset="0.047" stop-color="#00aeec"/><stop offset="0.066" stop-color="#00aeeb"/><stop offset="0.095" stop-color="#00afea"/><stop offset="0.166" stop-color="#00b0e8"/><stop offset="0.239" stop-color="#00b2e5"/><stop offset="0.312" stop-color="#00b3e1"/><stop offset="0.386" stop-color="#00b5dd"/><stop offset="0.460" stop-color="#00b8d8"/><stop offset="0.535" stop-color="#00bad3"/><stop offset="0.611" stop-color="#00bdca"/><stop offset="0.688" stop-color="#00c1c0"/><stop offset="0.765" stop-color="#00c4b5"/><stop offset="0.842" stop-color="#00c7a9"/><stop offset="0.921" stop-color="#00c99c"/><stop offset="1.000" stop-color="#00cb8e"/></linearGradient>
<linearGradient id="g100" gradientUnits="userSpaceOnUse" x1="175.5" y1="134.3" x2="91.0" y2="70.5"><stop offset="0.000" stop-color="#00aded"/><stop offset="0.033" stop-color="#00aded"/><stop offset="0.048" stop-color="#00aeed"/><stop offset="0.067" stop-color="#00aeec"/><stop offset="0.095" stop-color="#00aeec"/><stop offset="0.168" stop-color="#00afea"/><stop offset="0.240" stop-color="#00b0e7"/><stop offset="0.314" stop-color="#00b2e4"/><stop offset="0.388" stop-color="#00b4e0"/><stop offset="0.462" stop-color="#00b6dc"/><stop offset="0.537" stop-color="#00b8d8"/><stop offset="0.613" stop-color="#00bbd2"/><stop offset="0.689" stop-color="#00beca"/><stop offset="0.766" stop-color="#00c1c0"/><stop offset="0.844" stop-color="#00c4b6"/><stop offset="0.921" stop-color="#00c7ab"/><stop offset="1.000" stop-color="#00c99f"/></linearGradient>
<linearGradient id="g99" gradientUnits="userSpaceOnUse" x1="175.0" y1="134.7" x2="90.5" y2="72.8"><stop offset="0.000" stop-color="#00abee"/><stop offset="0.034" stop-color="#00acee"/><stop offset="0.048" stop-color="#00acee"/><stop offset="0.067" stop-color="#00acee"/><stop offset="0.096" stop-color="#00aded"/><stop offset="0.169" stop-color="#00aeec"/><stop offset="0.242" stop-color="#00afea"/><stop offset="0.316" stop-color="#00b0e7"/><stop offset="0.390" stop-color="#00b2e4"/><stop offset="0.464" stop-color="#00b4e0"/><stop offset="0.539" stop-color="#00b6dc"/><stop offset="0.615" stop-color="#00b8d8"/><stop offset="0.691" stop-color="#00bad3"/><stop offset="0.768" stop-color="#00bdcb"/><stop offset="0.845" stop-color="#00c0c2"/><stop offset="0.922" stop-color="#00c3b9"/><stop offset="1.000" stop-color="#00c6af"/></linearGradient>
<linearGradient id="g98" gradientUnits="userSpaceOnUse" x1="174.4" y1="135.4" x2="89.9" y2="75.2"><stop offset="0.000" stop-color="#00a9ef"/><stop offset="0.034" stop-color="#00aaef"/><stop offset="0.048" stop-color="#00aaef"/><stop offset="0.068" stop-color="#00aaee"/><stop offset="0.097" stop-color="#00abee"/><stop offset="0.170" stop-color="#00acee"/><stop offset="0.244" stop-color="#00aded"/><stop offset="0.317" stop-color="#00afeb"/><stop offset="0.392" stop-color="#00b0e8"/><stop offset="0.466" stop-color="#00b2e5"/><stop offset="0.541" stop-color="#00b3e1"/><stop offset="0.617" stop-color="#00b5dd"/><stop offset="0.693" stop-color="#00b7d9"/><stop offset="0.769" stop-color="#00bad4"/><stop offset="0.846" stop-color="#00bcce"/><stop offset="0.923" stop-color="#00bfc6"/><stop offset="1.000" stop-color="#00c2bd"/></linearGradient>
<linearGradient id="g97" gradientUnits="userSpaceOnUse" x1="173.8" y1="136.1" x2="89.3" y2="77.4"><stop offset="0.000" stop-color="#00a7f0"/><stop offset="0.034" stop-color="#00a7ef"/><stop offset="0.049" stop-color="#00a8ef"/><stop offset="0.068" stop-color="#00a8ef"/><stop offset="0.098" stop-color="#00a8ef"/><stop offset="0.171" stop-color="#00aaef"/><stop offset="0.245" stop-color="#00abee"/><stop offset="0.319" stop-color="#00aded"/><stop offset="0.394" stop-color="#00aeeb"/><stop offset="0.468" stop-color="#00b0e9"/><stop offset="0.543" stop-color="#00b1e6"/><stop offset="0.619" stop-color="#00b3e3"/><stop offset="0.694" stop-color="#00b4df"/><stop offset="0.770" stop-color="#00b6db"/><stop offset="0.847" stop-color="#00b8d7"/><stop offset="0.923" stop-color="#00bbd2"/><stop offset="1.000" stop-color="#00bdcc"/></linearGradient>
<linearGradient id="g96" gradientUnits="userSpaceOnUse" x1="173.3" y1="136.8" x2="88.8" y2="79.4"><stop offset="0.000" stop-color="#00a5f0"/><stop offset="0.034" stop-color="#00a5f0"/><stop offset="0.049" stop-color="#00a6f0"/><stop offset="0.069" stop-color="#00a6f0"/><stop offset="0.098" stop-color="#00a6f0"/><stop offset="0.172" stop-color="#00a7ef"/><stop offset="0.246" stop-color="#00a9ef"/><stop offset="0.321" stop-color="#00aaee"/><stop offset="0.395" stop-color="#00acee"/><stop offset="0.470" stop-color="#00aeed"/><stop offset="0.545" stop-color="#00afea"/><stop offset="0.621" stop-color="#00b0e8"/><stop offset="0.696" stop-color="#00b2e5"/><stop offset="0.772" stop-color="#00b3e2"/><stop offset="0.848" stop-color="#00b5df"/><stop offset="0.924" stop-color="#00b6db"/><stop offset="1.000" stop-color="#00b8d8"/></linearGradient>
<linearGradient id="g95" gradientUnits="userSpaceOnUse" x1="172.7" y1="137.5" x2="88.2" y2="81.5"><stop offset="0.000" stop-color="#00a3f1"/><stop offset="0.035" stop-color="#00a3f1"/><stop offset="0.049" stop-color="#00a4f1"/><stop offset="0.069" stop-color="#00a4f1"/><stop offset="0.099" stop-color="#00a4f1"/><stop offset="0.173" stop-color="#00a5f0"/><stop offset="0.248" stop-color="#00a7f0"/><stop offset="0.323" stop-color="#00a8ef"/><stop offset="0.397" stop-color="#00a9ef"/><stop offset="0.472" stop-color="#00abee"/><stop offset="0.547" stop-color="#00acee"/><stop offset="0.622" stop-color="#00aeec"/><stop offset="0.698" stop-color="#00afea"/><stop offset="0.773" stop-color="#00b0e8"/><stop offset="0.849" stop-color="#00b1e5"/><stop offset="0.924" stop-color="#00b3e3"/><stop offset="1.000" stop-color="#00b4e0"/></linearGradient>
<linearGradient id="g94" gradientUnits="userSpaceOnUse" x1="172.2" y1="138.2" x2="87.7" y2="83.6"><stop offset="0.000" stop-color="#00a1f2"/><stop offset="0.035" stop-color="#00a1f2"/><stop offset="0.050" stop-color="#00a1f2"/><stop offset="0.070" stop-color="#00a2f2"/><stop offset="0.100" stop-color="#00a2f1"/><stop offset="0.175" stop-color="#00a3f1"/><stop offset="0.249" stop-color="#00a4f1"/><stop offset="0.324" stop-color="#00a5f0"/><stop offset="0.399" stop-color="#00a7f0"/><stop offset="0.474" stop-color="#00a8ef"/><stop offset="0.549" stop-color="#00a9ef"/><stop offset="0.624" stop-color="#00aaee"/><stop offset="0.699" stop-color="#00acee"/><stop offset="0.774" stop-color="#00aded"/><stop offset="0.850" stop-color="#00aeec"/><stop offset="0.925" stop-color="#00afea"/><stop offset="1.000" stop-color="#00b0e8"/></linearGradient>
<linearGradient id="g93" gradientUnits="userSpaceOnUse" x1="171.6" y1="139.0" x2="87.1" y2="85.5"><stop offset="0.000" stop-color="#009df3"/><stop offset="0.035" stop-color="#009ef3"/><stop offset="0.050" stop-color="#009ef3"/><stop offset="0.070" stop-color="#009ef3"/><stop offset="0.101" stop-color="#009ff3"/><stop offset="0.176" stop-color="#00a0f2"/><stop offset="0.251" stop-color="#00a1f2"/><stop offset="0.326" stop-color="#00a2f1"/><stop offset="0.401" stop-color="#00a4f1"/><stop offset="0.476" stop-color="#00a5f0"/><stop offset="0.551" stop-color="#00a6f0"/><stop offset="0.626" stop-color="#00a7f0"/><stop offset="0.701" stop-color="#00a7ef"/><stop offset="0.776" stop-color="#00a8ef"/><stop offset="0.851" stop-color="#00a9ef"/><stop offset="0.925" stop-color="#00aaef"/><stop offset="1.000" stop-color="#00aaee"/></linearGradient>
<linearGradient id="g92" gradientUnits="userSpaceOnUse" x1="171.0" y1="140.1" x2="86.5" y2="87.3"><stop offset="0.000" stop-color="#009af5"/><stop offset="0.036" stop-color="#009af4"/><stop offset="0.051" stop-color="#009bf4"/><stop offset="0.071" stop-color="#009bf4"/><stop offset="0.101" stop-color="#009cf4"/><stop offset="0.177" stop-color="#009df3"/><stop offset="0.253" stop-color="#009ef3"/><stop offset="0.328" stop-color="#009ff2"/><stop offset="0.404" stop-color="#00a0f2"/><stop offset="0.479" stop-color="#00a1f2"/><stop offset="0.554" stop-color="#00a2f1"/><stop offset="0.629" stop-color="#00a3f1"/><stop offset="0.703" stop-color="#00a3f1"/><stop offset="0.778" stop-color="#00a3f1"/><stop offset="0.852" stop-color="#00a4f1"/><stop offset="0.926" stop-color="#00a4f1"/><stop offset="1.000" stop-color="#00a4f1"/></linearGradient>
<linearGradient id="g91" gradientUnits="userSpaceOnUse" x1="170.5" y1="141.1" x2="86.0" y2="89.1"><stop offset="0.000" stop-color="#0096f6"/><stop offset="0.036" stop-color="#0097f6"/><stop offset="0.051" stop-color="#0097f6"/><stop offset="0.072" stop-color="#0098f5"/><stop offset="0.102" stop-color="#0098f5"/><stop offset="0.179" stop-color="#009af4"/><stop offset="0.255" stop-color="#009bf4"/><stop offset="0.330" stop-color="#009cf4"/><stop offset="0.406" stop-color="#009df3"/><stop offset="0.481" stop-color="#009ef3"/><stop offset="0.556" stop-color="#009ef3"/><stop offset="0.631" stop-color="#009ef3"/><stop offset="0.705" stop-color="#009ef3"/><stop offset="0.779" stop-color="#009ef3"/><stop offset="0.853" stop-color="#009ef3"/><stop offset="0.927" stop-color="#009df3"/><stop offset="1.000" stop-color="#009cf4"/></linearGradient>
<linearGradient id="g90" gradientUnits="userSpaceOnUse" x1="169.9" y1="142.2" x2="85.4" y2="90.9"><stop offset="0.000" stop-color="#0093f8"/><stop offset="0.036" stop-color="#0093f8"/><stop offset="0.052" stop-color="#0094f7"/><stop offset="0.072" stop-color="#0094f7"/><stop offset="0.103" stop-color="#0095f7"/><stop offset="0.180" stop-color="#0097f6"/><stop offset="0.256" stop-color="#0098f5"/><stop offset="0.332" stop-color="#0099f5"/><stop offset="0.408" stop-color="#009af5"/><stop offset="0.484" stop-color="#009af4"/><stop offset="0.558" stop-color="#009af4"/><stop offset="0.633" stop-color="#009af4"/><stop offset="0.707" stop-color="#009af5"/><stop offset="0.781" stop-color="#0099f5"/><stop offset="0.854" stop-color="#0098f5"/><stop offset="0.927" stop-color="#0096f6"/><stop offset="1.000" stop-color="#0095f7"/></linearGradient>
<linearGradient id="g89" gradientUnits="userSpaceOnUse" x1="169.3" y1="143.2" x2="84.8" y2="92.8"><stop offset="0.000" stop-color="#008ffa"/><stop offset="0.036" stop-color="#0090f9"/><stop offset="0.052" stop-color="#0090f9"/><stop offset="0.073" stop-color="#0091f9"/><stop offset="0.104" stop-color="#0092f8"/><stop offset="0.181" stop-color="#0094f7"/><stop offset="0.258" stop-color="#0095f7"/><stop offset="0.335" stop-color="#0096f6"/><stop offset="0.410" stop-color="#0097f6"/><stop offset="0.486" stop-color="#0097f6"/><stop offset="0.561" stop-color="#0097f6"/><stop offset="0.635" stop-color="#0096f6"/><stop offset="0.709" stop-color="#0095f7"/><stop offset="0.783" stop-color="#0094f7"/><stop offset="0.856" stop-color="#0092f8"/><stop offset="0.928" stop-color="#0090f9"/><stop offset="1.000" stop-color="#008dfb"/></linearGradient>
<linearGradient id="g88" gradientUnits="userSpaceOnUse" x1="168.8" y1="144.3" x2="84.3" y2="94.9"><stop offset="0.000" stop-color="#008bfc"/><stop offset="0.037" stop-color="#008dfb"/><stop offset="0.053" stop-color="#008dfb"/><stop offset="0.073" stop-color="#008efa"/><stop offset="0.105" stop-color="#008ffa"/><stop offset="0.183" stop-color="#0091f9"/><stop offset="0.260" stop-color="#0092f8"/><stop offset="0.337" stop-color="#0093f8"/><stop offset="0.413" stop-color="#0094f7"/><stop offset="0.488" stop-color="#0094f7"/><stop offset="0.563" stop-color="#0093f8"/><stop offset="0.637" stop-color="#0092f8"/><stop offset="0.711" stop-color="#0091f9"/><stop offset="0.784" stop-color="#008ffa"/><stop offset="0.857" stop-color="#008dfb"/><stop offset="0.929" stop-color="#008afc"/><stop offset="1.000" stop-color="#0087fe"/></linearGradient>
<linearGradient id="g87" gradientUnits="userSpaceOnUse" x1="168.2" y1="145.3" x2="83.7" y2="96.9"><stop offset="0.000" stop-color="#0088fd"/><stop offset="0.037" stop-color="#0089fd"/><stop offset="0.053" stop-color="#008afc"/><stop offset="0.074" stop-color="#008bfc"/><stop offset="0.106" stop-color="#008cfb"/><stop offset="0.184" stop-color="#008efa"/><stop offset="0.262" stop-color="#0090f9"/><stop offset="0.339" stop-color="#0091f9"/><stop offset="0.415" stop-color="#0091f9"/><stop offset="0.490" stop-color="#0091f9"/><stop offset="0.565" stop-color="#0091f9"/><stop offset="0.639" stop-color="#0090f9"/><stop offset="0.713" stop-color="#008efa"/><stop offset="0.786" stop-color="#008cfb"/><stop offset="0.858" stop-color="#0089fd"/><stop offset="0.929" stop-color="#0086fe"/><stop offset="1.000" stop-color="#0482ff"/></linearGradient>
<linearGradient id="g86" gradientUnits="userSpaceOnUse" x1="167.6" y1="146.4" x2="83.1" y2="99.0"><stop offset="0.000" stop-color="#0085ff"/><stop offset="0.037" stop-color="#0086fe"/><stop offset="0.053" stop-color="#0087fe"/><stop offset="0.075" stop-color="#0088fd"/><stop offset="0.106" stop-color="#0089fd"/><stop offset="0.185" stop-color="#008cfb"/><stop offset="0.263" stop-color="#008efa"/><stop offset="0.340" stop-color="#008ffa"/><stop offset="0.417" stop-color="#0090f9"/><stop offset="0.493" stop-color="#0090f9"/><stop offset="0.567" stop-color="#008ffa"/><stop offset="0.641" stop-color="#008efa"/><stop offset="0.715" stop-color="#008cfb"/><stop offset="0.787" stop-color="#008afc"/><stop offset="0.859" stop-color="#0087fe"/><stop offset="0.930" stop-color="#0283ff"/><stop offset="1.000" stop-color="#097dff"/></linearGradient>
<linearGradient id="g85" gradientUnits="userSpaceOnUse" x1="167.1" y1="147.2" x2="82.6" y2="100.6"><stop offset="0.000" stop-color="#0382ff"/><stop offset="0.038" stop-color="#0085ff"/><stop offset="0.054" stop-color="#0085ff"/><stop offset="0.075" stop-color="#0086fe"/><stop offset="0.107" stop-color="#0088fd"/><stop offset="0.186" stop-color="#008bfc"/><stop offset="0.265" stop-color="#008dfb"/><stop offset="0.342" stop-color="#008efa"/><stop offset="0.419" stop-color="#008ffa"/><stop offset="0.495" stop-color="#008ffa"/><stop offset="0.570" stop-color="#008efa"/><stop offset="0.644" stop-color="#008dfb"/><stop offset="0.717" stop-color="#008bfc"/><stop offset="0.789" stop-color="#0088fd"/><stop offset="0.860" stop-color="#0084ff"/><stop offset="0.930" stop-color="#077fff"/><stop offset="1.000" stop-color="#0e79ff"/></linearGradient>
<linearGradient id="g84" gradientUnits="userSpaceOnUse" x1="166.5" y1="147.9" x2="82.0" y2="101.8"><stop offset="0.000" stop-color="#0680ff"/><stop offset="0.038" stop-color="#0382ff"/><stop offset="0.054" stop-color="#0184ff"/><stop offset="0.076" stop-color="#0085ff"/><stop offset="0.108" stop-color="#0086fe"/><stop offset="0.188" stop-color="#008afd"/><stop offset="0.266" stop-color="#008cfb"/><stop offset="0.344" stop-color="#008efb"/><stop offset="0.421" stop-color="#008efa"/><stop offset="0.497" stop-color="#008efa"/><stop offset="0.572" stop-color="#008dfb"/><stop offset="0.646" stop-color="#008cfb"/><stop offset="0.718" stop-color="#0089fd"/><stop offset="0.790" stop-color="#0086fe"/><stop offset="0.861" stop-color="#0481ff"/><stop offset="0.931" stop-color="#0b7bff"/><stop offset="1.000" stop-color="#1774ff"/></linearGradient>
<linearGradient id="g83" gradientUnits="userSpaceOnUse" x1="166.0" y1="148.5" x2="81.5" y2="103.0"><stop offset="0.000" stop-color="#087eff"/><stop offset="0.038" stop-color="#0581ff"/><stop offset="0.055" stop-color="#0382ff"/><stop offset="0.076" stop-color="#0283ff"/><stop offset="0.109" stop-color="#0085ff"/><stop offset="0.189" stop-color="#0089fd"/><stop offset="0.268" stop-color="#008bfc"/><stop offset="0.346" stop-color="#008dfb"/><stop offset="0.423" stop-color="#008efa"/><stop offset="0.499" stop-color="#008efa"/><stop offset="0.574" stop-color="#008dfb"/><stop offset="0.648" stop-color="#008bfc"/><stop offset="0.720" stop-color="#0089fd"/><stop offset="0.792" stop-color="#0085ff"/><stop offset="0.862" stop-color="#067fff"/><stop offset="0.932" stop-color="#0e79ff"/><stop offset="1.000" stop-color="#1d71ff"/></linearGradient>
<linearGradient id="g82" gradientUnits="userSpaceOnUse" x1="165.4" y1="149.1" x2="80.9" y2="104.1"><stop offset="0.000" stop-color="#0b7bff"/><stop offset="0.039" stop-color="#077fff"/><stop offset="0.055" stop-color="#0680ff"/><stop offset="0.077" stop-color="#0482ff"/><stop offset="0.109" stop-color="#0184ff"/><stop offset="0.190" stop-color="#0088fd"/><stop offset="0.270" stop-color="#008bfc"/><stop offset="0.348" stop-color="#008dfb"/><stop offset="0.425" stop-color="#008ffa"/><stop offset="0.501" stop-color="#008ffa"/><stop offset="0.576" stop-color="#008efa"/><stop offset="0.650" stop-color="#008cfb"/><stop offset="0.722" stop-color="#0089fd"/><stop offset="0.793" stop-color="#0085ff"/><stop offset="0.863" stop-color="#0680ff"/><stop offset="0.932" stop-color="#0e79ff"/><stop offset="1.000" stop-color="#1f70ff"/></linearGradient>
<linearGradient id="g81" gradientUnits="userSpaceOnUse" x1="164.8" y1="149.7" x2="80.3" y2="104.8"><stop offset="0.000" stop-color="#0d7aff"/><stop offset="0.039" stop-color="#097dff"/><stop offset="0.055" stop-color="#077fff"/><stop offset="0.077" stop-color="#0581ff"/><stop offset="0.110" stop-color="#0283ff"/><stop offset="0.191" stop-color="#0088fd"/><stop offset="0.271" stop-color="#008cfc"/><stop offset="0.350" stop-color="#008efa"/><stop offset="0.427" stop-color="#008ffa"/><stop offset="0.503" stop-color="#0090f9"/><stop offset="0.578" stop-color="#008ffa"/><stop offset="0.651" stop-color="#008dfb"/><stop offset="0.724" stop-color="#008afc"/><stop offset="0.795" stop-color="#0086fe"/><stop offset="0.864" stop-color="#0581ff"/><stop offset="0.933" stop-color="#0e79ff"/><stop offset="1.000" stop-color="#1f70ff"/></linearGradient>
<linearGradient id="g80" gradientUnits="userSpaceOnUse" x1="164.3" y1="150.1" x2="79.8" y2="105.0"><stop offset="0.000" stop-color="#0c7aff"/><stop offset="0.039" stop-color="#087eff"/><stop offset="0.056" stop-color="#0680ff"/><stop offset="0.078" stop-color="#0482ff"/><stop offset="0.111" stop-color="#0084ff"/><stop offset="0.192" stop-color="#0089fd"/><stop offset="0.272" stop-color="#008dfb"/><stop offset="0.351" stop-color="#0090fa"/><stop offset="0.429" stop-color="#0091f9"/><stop offset="0.505" stop-color="#0091f9"/><stop offset="0.580" stop-color="#0091f9"/><stop offset="0.653" stop-color="#008ffa"/><stop offset="0.725" stop-color="#008cfb"/><stop offset="0.796" stop-color="#0088fd"/><stop offset="0.865" stop-color="#0382ff"/><stop offset="0.933" stop-color="#0c7aff"/><stop offset="1.000" stop-color="#1d71ff"/></linearGradient>
<linearGradient id="g79" gradientUnits="userSpaceOnUse" x1="163.7" y1="150.0" x2="79.2" y2="105.2"><stop offset="0.000" stop-color="#0b7cff"/><stop offset="0.039" stop-color="#0680ff"/><stop offset="0.056" stop-color="#0481ff"/><stop offset="0.078" stop-color="#0183ff"/><stop offset="0.111" stop-color="#0086fe"/><stop offset="0.192" stop-color="#008bfc"/><stop offset="0.273" stop-color="#008ffa"/><stop offset="0.351" stop-color="#0092f8"/><stop offset="0.429" stop-color="#0094f7"/><stop offset="0.505" stop-color="#0094f7"/><stop offset="0.580" stop-color="#0094f7"/><stop offset="0.653" stop-color="#0092f8"/><stop offset="0.725" stop-color="#008ffa"/><stop offset="0.796" stop-color="#008bfc"/><stop offset="0.865" stop-color="#0086fe"/><stop offset="0.933" stop-color="#077fff"/><stop offset="1.000" stop-color="#1376ff"/></linearGradient>
<linearGradient id="g78" gradientUnits="userSpaceOnUse" x1="163.1" y1="149.9" x2="78.6" y2="104.5"><stop offset="0.000" stop-color="#097dff"/><stop offset="0.039" stop-color="#0482ff"/><stop offset="0.056" stop-color="#0283ff"/><stop offset="0.078" stop-color="#0085ff"/><stop offset="0.111" stop-color="#0088fd"/><stop offset="0.192" stop-color="#008dfb"/><stop offset="0.272" stop-color="#0091f9"/><stop offset="0.351" stop-color="#0095f7"/><stop offset="0.429" stop-color="#0097f6"/><stop offset="0.505" stop-color="#0098f5"/><stop offset="0.579" stop-color="#0097f6"/><stop offset="0.653" stop-color="#0096f6"/><stop offset="0.725" stop-color="#0094f7"/><stop offset="0.796" stop-color="#0090f9"/><stop offset="0.865" stop-color="#008cfb"/><stop offset="0.933" stop-color="#0086fe"/><stop offset="1.000" stop-color="#087eff"/></linearGradient>
<linearGradient id="g77" gradientUnits="userSpaceOnUse" x1="162.6" y1="149.7" x2="78.1" y2="103.2"><stop offset="0.000" stop-color="#0580ff"/><stop offset="0.039" stop-color="#0084ff"/><stop offset="0.055" stop-color="#0086fe"/><stop offset="0.078" stop-color="#0087fe"/><stop offset="0.110" stop-color="#008afc"/><stop offset="0.192" stop-color="#008ffa"/><stop offset="0.272" stop-color="#0094f7"/><stop offset="0.350" stop-color="#0097f6"/><stop offset="0.428" stop-color="#009af5"/><stop offset="0.504" stop-color="#009bf4"/><stop offset="0.579" stop-color="#009bf4"/><stop offset="0.652" stop-color="#009af4"/><stop offset="0.724" stop-color="#0098f5"/><stop offset="0.795" stop-color="#0095f7"/><stop offset="0.865" stop-color="#0091f9"/><stop offset="0.933" stop-color="#008cfb"/><stop offset="1.000" stop-color="#0086fe"/></linearGradient>
<linearGradient id="g76" gradientUnits="userSpaceOnUse" x1="162.0" y1="149.3" x2="77.5" y2="101.8"><stop offset="0.000" stop-color="#0283ff"/><stop offset="0.039" stop-color="#0087fe"/><stop offset="0.055" stop-color="#0088fd"/><stop offset="0.077" stop-color="#008afc"/><stop offset="0.110" stop-color="#008cfb"/><stop offset="0.191" stop-color="#0092f8"/><stop offset="0.271" stop-color="#0096f6"/><stop offset="0.349" stop-color="#009af4"/><stop offset="0.427" stop-color="#009cf3"/><stop offset="0.503" stop-color="#009ef3"/><stop offset="0.578" stop-color="#009ff3"/><stop offset="0.651" stop-color="#009ef3"/><stop offset="0.723" stop-color="#009df3"/><stop offset="0.794" stop-color="#009af4"/><stop offset="0.864" stop-color="#0097f6"/><stop offset="0.933" stop-color="#0092f8"/><stop offset="1.000" stop-color="#008cfb"/></linearGradient>
<linearGradient id="g75" gradientUnits="userSpaceOnUse" x1="161.4" y1="148.9" x2="76.9" y2="100.3"><stop offset="0.000" stop-color="#0086ff"/><stop offset="0.039" stop-color="#0089fd"/><stop offset="0.055" stop-color="#008afc"/><stop offset="0.077" stop-color="#008cfb"/><stop offset="0.110" stop-color="#008ffa"/><stop offset="0.190" stop-color="#0094f7"/><stop offset="0.270" stop-color="#0099f5"/><stop offset="0.348" stop-color="#009df3"/><stop offset="0.426" stop-color="#009ff2"/><stop offset="0.502" stop-color="#00a1f2"/><stop offset="0.576" stop-color="#00a2f1"/><stop offset="0.650" stop-color="#00a2f1"/><stop offset="0.722" stop-color="#00a1f2"/><stop offset="0.794" stop-color="#009ff3"/><stop offset="0.864" stop-color="#009cf4"/><stop offset="0.932" stop-color="#0098f5"/><stop offset="1.000" stop-color="#0093f8"/></linearGradient>
<linearGradient id="g74" gradientUnits="userSpaceOnUse" x1="160.9" y1="148.5" x2="76.4" y2="98.9"><stop offset="0.000" stop-color="#0088fd"/><stop offset="0.038" stop-color="#008bfc"/><stop offset="0.055" stop-color="#008dfb"/><stop offset="0.077" stop-color="#008efa"/><stop offset="0.109" stop-color="#0091f9"/><stop offset="0.190" stop-color="#0097f6"/><stop offset="0.269" stop-color="#009cf4"/><stop offset="0.347" stop-color="#00a0f2"/><stop offset="0.424" stop-color="#00a3f1"/><stop offset="0.500" stop-color="#00a5f0"/><stop offset="0.575" stop-color="#00a6f0"/><stop offset="0.649" stop-color="#00a6f0"/><stop offset="0.721" stop-color="#00a6f0"/><stop offset="0.793" stop-color="#00a4f1"/><stop offset="0.863" stop-color="#00a2f1"/><stop offset="0.932" stop-color="#009ff3"/><stop offset="1.000" stop-color="#009bf4"/></linearGradient>
<linearGradient id="g73" gradientUnits="userSpaceOnUse" x1="160.3" y1="148.2" x2="75.8" y2="97.3"><stop offset="0.000" stop-color="#008afc"/><stop offset="0.038" stop-color="#008efa"/><stop offset="0.055" stop-color="#008ffa"/><stop offset="0.076" stop-color="#0091f9"/><stop offset="0.109" stop-color="#0093f8"/><stop offset="0.189" stop-color="#0099f5"/><stop offset="0.268" stop-color="#009ff3"/><stop offset="0.346" stop-color="#00a3f1"/><stop offset="0.423" stop-color="#00a6f0"/><stop offset="0.499" stop-color="#00a9ef"/><stop offset="0.574" stop-color="#00aaee"/><stop offset="0.648" stop-color="#00abee"/><stop offset="0.720" stop-color="#00abee"/><stop offset="0.792" stop-color="#00aaee"/><stop offset="0.862" stop-color="#00a9ef"/><stop offset="0.932" stop-color="#00a6f0"/><stop offset="1.000" stop-color="#00a3f1"/></linearGradient>
<linearGradient id="g72" gradientUnits="userSpaceOnUse" x1="159.8" y1="147.8" x2="75.3" y2="95.5"><stop offset="0.000" stop-color="#008cfb"/><stop offset="0.038" stop-color="#0090f9"/><stop offset="0.054" stop-color="#0091f9"/><stop offset="0.076" stop-color="#0093f8"/><stop offset="0.108" stop-color="#0096f6"/><stop offset="0.188" stop-color="#009cf4"/><stop offset="0.267" stop-color="#00a1f2"/><stop offset="0.345" stop-color="#00a6f0"/><stop offset="0.422" stop-color="#00aaef"/><stop offset="0.498" stop-color="#00aded"/><stop offset="0.573" stop-color="#00aeeb"/><stop offset="0.647" stop-color="#00afea"/><stop offset="0.719" stop-color="#00afe9"/><stop offset="0.791" stop-color="#00afe9"/><stop offset="0.862" stop-color="#00afeb"/><stop offset="0.931" stop-color="#00aeed"/><stop offset="1.000" stop-color="#00abee"/></linearGradient>
<linearGradient id="g71" gradientUnits="userSpaceOnUse" x1="159.2" y1="147.4" x2="74.7" y2="93.7"><stop offset="0.000" stop-color="#008ffa"/><stop offset="0.038" stop-color="#0092f8"/><stop offset="0.054" stop-color="#0094f7"/><stop offset="0.076" stop-color="#0096f6"/><stop offset="0.108" stop-color="#0098f5"/><stop offset="0.188" stop-color="#009ff3"/><stop offset="0.266" stop-color="#00a4f1"/><stop offset="0.344" stop-color="#00a9ef"/><stop offset="0.421" stop-color="#00aded"/><stop offset="0.497" stop-color="#00afe9"/><stop offset="0.572" stop-color="#00b1e6"/><stop offset="0.645" stop-color="#00b2e4"/><stop offset="0.718" stop-color="#00b3e2"/><stop offset="0.790" stop-color="#00b3e2"/><stop offset="0.861" stop-color="#00b3e2"/><stop offset="0.931" stop-color="#00b2e4"/><stop offset="1.000" stop-color="#00b1e6"/></linearGradient>
<linearGradient id="g70" gradientUnits="userSpaceOnUse" x1="158.6" y1="147.0" x2="74.1" y2="91.8"><stop offset="0.000" stop-color="#0091f9"/><stop offset="0.038" stop-color="#0095f7"/><stop offset="0.054" stop-color="#0096f6"/><stop offset="0.075" stop-color="#0098f5"/><stop offset="0.107" stop-color="#009bf4"/><stop offset="0.187" stop-color="#00a1f2"/><stop offset="0.265" stop-color="#00a7ef"/><stop offset="0.343" stop-color="#00acee"/><stop offset="0.420" stop-color="#00b0e9"/><stop offset="0.495" stop-color="#00b2e4"/><stop offset="0.570" stop-color="#00b4e0"/><stop offset="0.644" stop-color="#00b5dd"/><stop offset="0.717" stop-color="#00b6db"/><stop offset="0.789" stop-color="#00b7da"/><stop offset="0.860" stop-color="#00b7da"/><stop offset="0.931" stop-color="#00b7da"/><stop offset="1.000" stop-color="#00b6dc"/></linearGradient>
<linearGradient id="g69" gradientUnits="userSpaceOnUse" x1="158.1" y1="146.6" x2="73.6" y2="90.0"><stop offset="0.000" stop-color="#0094f8"/><stop offset="0.038" stop-color="#0097f6"/><stop offset="0.054" stop-color="#0099f5"/><stop offset="0.075" stop-color="#009bf4"/><stop offset="0.107" stop-color="#009df3"/><stop offset="0.186" stop-color="#00a4f1"/><stop offset="0.264" stop-color="#00aaee"/><stop offset="0.342" stop-color="#00afea"/><stop offset="0.418" stop-color="#00b2e4"/><stop offset="0.494" stop-color="#00b4df"/><stop offset="0.569" stop-color="#00b7db"/><stop offset="0.643" stop-color="#00b8d7"/><stop offset="0.716" stop-color="#00bad5"/><stop offset="0.788" stop-color="#00bbd2"/><stop offset="0.860" stop-color="#00bbd0"/><stop offset="0.930" stop-color="#00bbd0"/><stop offset="1.000" stop-color="#00bbd1"/></linearGradient>
<linearGradient id="g68" gradientUnits="userSpaceOnUse" x1="157.5" y1="146.2" x2="73.0" y2="88.2"><stop offset="0.000" stop-color="#0096f6"/><stop offset="0.037" stop-color="#009af5"/><stop offset="0.053" stop-color="#009bf4"/><stop offset="0.075" stop-color="#009df3"/><stop offset="0.106" stop-color="#00a0f2"/><stop offset="0.185" stop-color="#00a7f0"/><stop offset="0.263" stop-color="#00aded"/><stop offset="0.341" stop-color="#00b1e6"/><stop offset="0.417" stop-color="#00b4e0"/><stop offset="0.493" stop-color="#00b7da"/><stop offset="0.568" stop-color="#00b9d5"/><stop offset="0.642" stop-color="#00bbd0"/><stop offset="0.715" stop-color="#00bdcb"/><stop offset="0.787" stop-color="#00bec7"/><stop offset="0.859" stop-color="#00bfc4"/><stop offset="0.930" stop-color="#00c0c2"/><stop offset="1.000" stop-color="#00c0c1"/></linearGradient>
<linearGradient id="g67" gradientUnits="userSpaceOnUse" x1="156.9" y1="145.8" x2="72.4" y2="86.4"><stop offset="0.000" stop-color="#0098f5"/><stop offset="0.037" stop-color="#009cf4"/><stop offset="0.053" stop-color="#009ef3"/><stop offset="0.074" stop-color="#00a0f2"/><stop offset="0.106" stop-color="#00a3f1"/><stop offset="0.184" stop-color="#00aaef"/><stop offset="0.262" stop-color="#00afea"/><stop offset="0.339" stop-color="#00b3e2"/><stop offset="0.416" stop-color="#00b6db"/><stop offset="0.491" stop-color="#00b9d5"/><stop offset="0.566" stop-color="#00bcce"/><stop offset="0.640" stop-color="#00bec7"/><stop offset="0.714" stop-color="#00c1c1"/><stop offset="0.786" stop-color="#00c2bb"/><stop offset="0.858" stop-color="#00c4b7"/><stop offset="0.930" stop-color="#00c5b4"/><stop offset="1.000" stop-color="#00c5b2"/></linearGradient>
<linearGradient id="g66" gradientUnits="userSpaceOnUse" x1="156.4" y1="145.4" x2="71.9" y2="84.6"><stop offset="0.000" stop-color="#009bf4"/><stop offset="0.037" stop-color="#009ff3"/><stop offset="0.053" stop-color="#00a0f2"/><stop offset="0.074" stop-color="#00a2f1"/><stop offset="0.105" stop-color="#00a5f0"/><stop offset="0.184" stop-color="#00aced"/><stop offset="0.261" stop-color="#00b1e6"/><stop offset="0.338" stop-color="#00b5de"/><stop offset="0.414" stop-color="#00b9d7"/><stop offset="0.490" stop-color="#00bccf"/><stop offset="0.565" stop-color="#00bfc6"/><stop offset="0.639" stop-color="#00c2bd"/><stop offset="0.712" stop-color="#00c4b6"/><stop offset="0.785" stop-color="#00c6b0"/><stop offset="0.858" stop-color="#00c7aa"/><stop offset="0.929" stop-color="#00c8a6"/><stop offset="1.000" stop-color="#00c8a2"/></linearGradient>
<linearGradient id="g65" gradientUnits="userSpaceOnUse" x1="155.8" y1="144.9" x2="71.3" y2="82.7"><stop offset="0.000" stop-color="#009df3"/><stop offset="0.037" stop-color="#00a1f2"/><stop offset="0.053" stop-color="#00a3f1"/><stop offset="0.073" stop-color="#00a5f0"/><stop offset="0.105" stop-color="#00a8ef"/><stop offset="0.183" stop-color="#00afeb"/><stop offset="0.260" stop-color="#00b3e2"/><stop offset="0.337" stop-color="#00b7da"/><stop offset="0.413" stop-color="#00bbd1"/><stop offset="0.488" stop-color="#00bec7"/><stop offset="0.563" stop-color="#00c2bd"/><stop offset="0.638" stop-color="#00c5b4"/><stop offset="0.711" stop-color="#00c7ac"/><stop offset="0.784" stop-color="#00c8a4"/><stop offset="0.857" stop-color="#00c99d"/><stop offset="0.929" stop-color="#00ca96"/><stop offset="1.000" stop-color="#00ca91"/></linearGradient>
<linearGradient id="g64" gradientUnits="userSpaceOnUse" x1="155.2" y1="144.5" x2="70.7" y2="80.9"><stop offset="0.000" stop-color="#00a0f2"/><stop offset="0.037" stop-color="#00a4f1"/><stop offset="0.052" stop-color="#00a5f0"/><stop offset="0.073" stop-color="#00a8ef"/><stop offset="0.104" stop-color="#00abee"/><stop offset="0.182" stop-color="#00b1e6"/><stop offset="0.259" stop-color="#00b5dd"/><stop offset="0.335" stop-color="#00bad4"/><stop offset="0.411" stop-color="#00bec8"/><stop offset="0.487" stop-color="#00c2bc"/><stop offset="0.562" stop-color="#00c6b1"/><stop offset="0.636" stop-color="#00c8a6"/><stop offset="0.710" stop-color="#00c99c"/><stop offset="0.783" stop-color="#00ca92"/><stop offset="0.856" stop-color="#00cb89"/><stop offset="0.928" stop-color="#01cc82"/><stop offset="1.000" stop-color="#02cd7e"/></linearGradient>
<linearGradient id="g63" gradientUnits="userSpaceOnUse" x1="154.7" y1="144.1" x2="70.2" y2="78.4"><stop offset="0.000" stop-color="#00a2f1"/><stop offset="0.036" stop-color="#00a6f0"/><stop offset="0.052" stop-color="#00a8ef"/><stop offset="0.073" stop-color="#00abee"/><stop offset="0.104" stop-color="#00aeec"/><stop offset="0.181" stop-color="#00b3e2"/><stop offset="0.258" stop-color="#00b8d8"/><stop offset="0.334" stop-color="#00bdcb"/><stop offset="0.410" stop-color="#00c2bd"/><stop offset="0.485" stop-color="#00c6b0"/><stop offset="0.560" stop-color="#00c8a2"/><stop offset="0.635" stop-color="#00ca95"/><stop offset="0.709" stop-color="#00cb89"/><stop offset="0.782" stop-color="#01cd80"/><stop offset="0.855" stop-color="#03ce79"/><stop offset="0.928" stop-color="#05d073"/><stop offset="1.000" stop-color="#07d16d"/></linearGradient>
<linearGradient id="g62" gradientUnits="userSpaceOnUse" x1="154.1" y1="143.7" x2="69.6" y2="75.3"><stop offset="0.000" stop-color="#00a5f0"/><stop offset="0.036" stop-color="#00a9ef"/><stop offset="0.052" stop-color="#00abee"/><stop offset="0.072" stop-color="#00aded"/><stop offset="0.103" stop-color="#00b0e8"/><stop offset="0.180" stop-color="#00b5dd"/><stop offset="0.257" stop-color="#00bbd1"/><stop offset="0.333" stop-color="#00c0c2"/><stop offset="0.408" stop-color="#00c5b2"/><stop offset="0.484" stop-color="#00c8a3"/><stop offset="0.559" stop-color="#00ca93"/><stop offset="0.633" stop-color="#00cc85"/><stop offset="0.707" stop-color="#03ce7c"/><stop offset="0.781" stop-color="#05cf73"/><stop offset="0.854" stop-color="#08d16b"/><stop offset="0.927" stop-color="#16ce5e"/><stop offset="1.000" stop-color="#49cd47"/></linearGradient>
<linearGradient id="g61" gradientUnits="userSpaceOnUse" x1="153.6" y1="143.3" x2="69.1" y2="72.1"><stop offset="0.000" stop-color="#00a7f0"/><stop offset="0.036" stop-color="#00acee"/><stop offset="0.051" stop-color="#00aeed"/><stop offset="0.072" stop-color="#00afe9"/><stop offset="0.103" stop-color="#00b2e4"/><stop offset="0.179" stop-color="#00b8d8"/><stop offset="0.255" stop-color="#00bec9"/><stop offset="0.331" stop-color="#00c3b8"/><stop offset="0.407" stop-color="#00c8a6"/><stop offset="0.482" stop-color="#00ca95"/><stop offset="0.557" stop-color="#00cc84"/><stop offset="0.632" stop-color="#03ce7a"/><stop offset="0.706" stop-color="#06d070"/><stop offset="0.780" stop-color="#10cf62"/><stop offset="0.854" stop-color="#45cd49"/><stop offset="0.927" stop-color="#89cc21"/><stop offset="1.000" stop-color="#b2cc0a"/></linearGradient>
<linearGradient id="g60" gradientUnits="userSpaceOnUse" x1="153.0" y1="142.9" x2="68.5" y2="68.9"><stop offset="0.000" stop-color="#00a9ef"/><stop offset="0.036" stop-color="#00aeec"/><stop offset="0.051" stop-color="#00afe9"/><stop offset="0.071" stop-color="#00b1e6"/><stop offset="0.102" stop-color="#00b4e1"/><stop offset="0.178" stop-color="#00bad4"/><stop offset="0.254" stop-color="#00c1c1"/><stop offset="0.330" stop-color="#00c7ae"/><stop offset="0.405" stop-color="#00c99a"/><stop offset="0.481" stop-color="#00cc87"/><stop offset="0.556" stop-color="#03ce7a"/><stop offset="0.630" stop-color="#07d06f"/><stop offset="0.705" stop-color="#15cf5e"/><stop offset="0.779" stop-color="#61cc3b"/><stop offset="0.853" stop-color="#a5cc11"/><stop offset="0.927" stop-color="#cccc00"/><stop offset="1.000" stop-color="#e6cc00"/></linearGradient>
<linearGradient id="g59" gradientUnits="userSpaceOnUse" x1="152.4" y1="142.5" x2="67.9" y2="65.5"><stop offset="0.000" stop-color="#00acee"/><stop offset="0.036" stop-color="#00afe9"/><stop offset="0.051" stop-color="#00b1e6"/><stop offset="0.071" stop-color="#00b3e3"/><stop offset="0.101" stop-color="#00b5dd"/><stop offset="0.177" stop-color="#00bcce"/><stop offset="0.253" stop-color="#00c3b9"/><stop offset="0.328" stop-color="#00c8a5"/><stop offset="0.404" stop-color="#00cb90"/><stop offset="0.479" stop-color="#02cd7f"/><stop offset="0.554" stop-color="#06d072"/><stop offset="0.629" stop-color="#11cf62"/><stop offset="0.703" stop-color="#5ccc3e"/><stop offset="0.778" stop-color="#a8cc0f"/><stop offset="0.852" stop-color="#d2cc00"/><stop offset="0.926" stop-color="#ebc903"/><stop offset="1.000" stop-color="#f9c20d"/></linearGradient>
<linearGradient id="g58" gradientUnits="userSpaceOnUse" x1="151.9" y1="142.2" x2="67.4" y2="62.5"><stop offset="0.000" stop-color="#00aeed"/><stop offset="0.035" stop-color="#00b1e6"/><stop offset="0.050" stop-color="#00b2e4"/><stop offset="0.071" stop-color="#00b4e0"/><stop offset="0.101" stop-color="#00b7da"/><stop offset="0.176" stop-color="#00bec9"/><stop offset="0.252" stop-color="#00c5b4"/><stop offset="0.327" stop-color="#00c99e"/><stop offset="0.402" stop-color="#00cc89"/><stop offset="0.477" stop-color="#03ce79"/><stop offset="0.552" stop-color="#07d16c"/><stop offset="0.627" stop-color="#35cd50"/><stop offset="0.702" stop-color="#95cc19"/><stop offset="0.777" stop-color="#c9cc00"/><stop offset="0.851" stop-color="#e7cb01"/><stop offset="0.926" stop-color="#f8c30c"/><stop offset="1.000" stop-color="#ffc016"/></linearGradient>
<linearGradient id="g57" gradientUnits="userSpaceOnUse" x1="151.3" y1="141.8" x2="66.8" y2="60.4"><stop offset="0.000" stop-color="#00afea"/><stop offset="0.035" stop-color="#00b2e4"/><stop offset="0.050" stop-color="#00b4e1"/><stop offset="0.070" stop-color="#00b5dd"/><stop offset="0.100" stop-color="#00b8d7"/><stop offset="0.175" stop-color="#00bfc4"/><stop offset="0.250" stop-color="#00c7af"/><stop offset="0.326" stop-color="#00ca98"/><stop offset="0.401" stop-color="#01cc83"/><stop offset="0.476" stop-color="#05cf74"/><stop offset="0.551" stop-color="#10d063"/><stop offset="0.626" stop-color="#61cc3b"/><stop offset="0.701" stop-color="#b1cc0b"/><stop offset="0.775" stop-color="#dccc00"/><stop offset="0.850" stop-color="#f3c508"/><stop offset="0.925" stop-color="#fec015"/><stop offset="1.000" stop-color="#ffc710"/></linearGradient>
<linearGradient id="g56" gradientUnits="userSpaceOnUse" x1="150.7" y1="141.5" x2="66.2" y2="58.5"><stop offset="0.000" stop-color="#00b0e8"/><stop offset="0.035" stop-color="#00b3e1"/><stop offset="0.050" stop-color="#00b5de"/><stop offset="0.070" stop-color="#00b7db"/><stop offset="0.100" stop-color="#00bad5"/><stop offset="0.174" stop-color="#00c1c0"/><stop offset="0.249" stop-color="#00c7ab"/><stop offset="0.324" stop-color="#00ca94"/><stop offset="0.399" stop-color="#01cd80"/><stop offset="0.474" stop-color="#06d071"/><stop offset="0.549" stop-color="#19ce5c"/><stop offset="0.624" stop-color="#7fcc27"/><stop offset="0.699" stop-color="#c3cc02"/><stop offset="0.774" stop-color="#e7cb01"/><stop offset="0.849" stop-color="#f9c20d"/><stop offset="0.925" stop-color="#ffc214"/><stop offset="1.000" stop-color="#ffcf0a"/></linearGradient>
<linearGradient id="g55" gradientUnits="userSpaceOnUse" x1="150.2" y1="141.2" x2="65.7" y2="57.2"><stop offset="0.000" stop-color="#00b1e5"/><stop offset="0.035" stop-color="#00b5df"/><stop offset="0.049" stop-color="#00b6dc"/><stop offset="0.069" stop-color="#00b8d8"/><stop offset="0.099" stop-color="#00bbd2"/><stop offset="0.173" stop-color="#00c2bd"/><stop offset="0.248" stop-color="#00c8a7"/><stop offset="0.323" stop-color="#00cb90"/><stop offset="0.397" stop-color="#02cd7d"/><stop offset="0.472" stop-color="#07d06f"/><stop offset="0.547" stop-color="#2ace55"/><stop offset="0.622" stop-color="#95cc19"/><stop offset="0.698" stop-color="#cccc00"/><stop offset="0.773" stop-color="#ecc904"/><stop offset="0.849" stop-color="#fbc111"/><stop offset="0.924" stop-color="#ffc511"/><stop offset="1.000" stop-color="#ffd506"/></linearGradient>
<linearGradient id="g54" gradientUnits="userSpaceOnUse" x1="149.6" y1="140.9" x2="65.1" y2="56.7"><stop offset="0.000" stop-color="#00b3e3"/><stop offset="0.034" stop-color="#00b6dc"/><stop offset="0.049" stop-color="#00b7d9"/><stop offset="0.069" stop-color="#00b9d6"/><stop offset="0.098" stop-color="#00bcce"/><stop offset="0.172" stop-color="#00c3b9"/><stop offset="0.247" stop-color="#00c8a3"/><stop offset="0.321" stop-color="#00cb8c"/><stop offset="0.396" stop-color="#03ce7b"/><stop offset="0.471" stop-color="#07d16c"/><stop offset="0.546" stop-color="#3fcd4b"/><stop offset="0.621" stop-color="#a2cc12"/><stop offset="0.696" stop-color="#d5cc00"/><stop offset="0.772" stop-color="#f2c607"/><stop offset="0.848" stop-color="#fec016"/><stop offset="0.924" stop-color="#ffc90e"/><stop offset="1.000" stop-color="#ffda04"/></linearGradient>
<linearGradient id="g53" gradientUnits="userSpaceOnUse" x1="149.0" y1="140.6" x2="64.5" y2="56.3"><stop offset="0.000" stop-color="#00b4e0"/><stop offset="0.034" stop-color="#00b7da"/><stop offset="0.049" stop-color="#00b8d7"/><stop offset="0.068" stop-color="#00bad3"/><stop offset="0.098" stop-color="#00bdcb"/><stop offset="0.172" stop-color="#00c4b6"/><stop offset="0.245" stop-color="#00c9a0"/><stop offset="0.320" stop-color="#00cc89"/><stop offset="0.394" stop-color="#04ce78"/><stop offset="0.469" stop-color="#0ad168"/><stop offset="0.544" stop-color="#53cc43"/><stop offset="0.619" stop-color="#afcc0c"/><stop offset="0.695" stop-color="#decc00"/><stop offset="0.771" stop-color="#f7c30a"/><stop offset="0.847" stop-color="#ffc115"/><stop offset="0.923" stop-color="#ffcf0a"/><stop offset="1.000" stop-color="#ffdf03"/></linearGradient>
<linearGradient id="g52" gradientUnits="userSpaceOnUse" x1="148.5" y1="140.3" x2="64.0" y2="55.9"><stop offset="0.000" stop-color="#00b5de"/><stop offset="0.034" stop-color="#00b8d8"/><stop offset="0.049" stop-color="#00b9d5"/><stop offset="0.068" stop-color="#00bbd0"/><stop offset="0.097" stop-color="#00bec8"/><stop offset="0.171" stop-color="#00c5b3"/><stop offset="0.244" stop-color="#00c99d"/><stop offset="0.318" stop-color="#00cc86"/><stop offset="0.393" stop-color="#04cf77"/><stop offset="0.467" stop-color="#0ed065"/><stop offset="0.542" stop-color="#62cc3a"/><stop offset="0.618" stop-color="#b8cc07"/><stop offset="0.694" stop-color="#e5cc00"/><stop offset="0.770" stop-color="#f9c20d"/><stop offset="0.846" stop-color="#ffc313"/><stop offset="0.923" stop-color="#ffd407"/><stop offset="1.000" stop-color="#ffe302"/></linearGradient>
<linearGradient id="g51" gradientUnits="userSpaceOnUse" x1="147.9" y1="140.1" x2="63.4" y2="55.7"><stop offset="0.000" stop-color="#00b6dd"/><stop offset="0.034" stop-color="#00b9d7"/><stop offset="0.048" stop-color="#00bad4"/><stop offset="0.068" stop-color="#00bccf"/><stop offset="0.097" stop-color="#00bec7"/><stop offset="0.170" stop-color="#00c5b3"/><stop offset="0.243" stop-color="#00c99d"/><stop offset="0.317" stop-color="#00cc86"/><stop offset="0.391" stop-color="#04cf77"/><stop offset="0.466" stop-color="#0cd066"/><stop offset="0.541" stop-color="#5bcc3f"/><stop offset="0.616" stop-color="#b5cc09"/><stop offset="0.692" stop-color="#e2cc00"/><stop offset="0.769" stop-color="#f9c20c"/><stop offset="0.845" stop-color="#ffc313"/><stop offset="0.922" stop-color="#ffd307"/><stop offset="1.000" stop-color="#ffe202"/></linearGradient>
<linearGradient id="g50" gradientUnits="userSpaceOnUse" x1="147.4" y1="140.0" x2="62.9" y2="55.8"><stop offset="0.000" stop-color="#00b6db"/><stop offset="0.034" stop-color="#00b9d6"/><stop offset="0.048" stop-color="#00bad3"/><stop offset="0.067" stop-color="#00bcce"/><stop offset="0.096" stop-color="#00bec7"/><stop offset="0.169" stop-color="#00c5b4"/><stop offset="0.242" stop-color="#00c9a0"/><stop offset="0.316" stop-color="#00cb8b"/><stop offset="0.390" stop-color="#03ce7b"/><stop offset="0.465" stop-color="#07d16c"/><stop offset="0.540" stop-color="#3bcd4d"/><stop offset="0.615" stop-color="#9fcc14"/><stop offset="0.691" stop-color="#d4cc00"/><stop offset="0.768" stop-color="#f1c607"/><stop offset="0.845" stop-color="#ffbf16"/><stop offset="0.922" stop-color="#ffcb0d"/><stop offset="1.000" stop-color="#ffdc04"/></linearGradient>
<linearGradient id="g49" gradientUnits="userSpaceOnUse" x1="146.8" y1="140.0" x2="62.3" y2="57.2"><stop offset="0.000" stop-color="#00b7da"/><stop offset="0.033" stop-color="#00b9d5"/><stop offset="0.048" stop-color="#00bbd2"/><stop offset="0.067" stop-color="#00bcce"/><stop offset="0.096" stop-color="#00bec7"/><stop offset="0.169" stop-color="#00c4b6"/><stop offset="0.242" stop-color="#00c8a3"/><stop offset="0.315" stop-color="#00cb8f"/><stop offset="0.389" stop-color="#02cd7e"/><stop offset="0.464" stop-color="#06d071"/><stop offset="0.539" stop-color="#16ce5e"/><stop offset="0.615" stop-color="#79cc2b"/><stop offset="0.691" stop-color="#c1cc03"/><stop offset="0.767" stop-color="#e7cb01"/><stop offset="0.844" stop-color="#f9c20e"/><stop offset="0.922" stop-color="#ffc313"/><stop offset="1.000" stop-color="#ffd307"/></linearGradient>
<linearGradient id="g48" gradientUnits="userSpaceOnUse" x1="146.2" y1="139.9" x2="61.7" y2="58.7"><stop offset="0.000" stop-color="#00b8d9"/><stop offset="0.033" stop-color="#00bad4"/><stop offset="0.048" stop-color="#00bbd2"/><stop offset="0.067" stop-color="#00bccd"/><stop offset="0.096" stop-color="#00bec7"/><stop offset="0.168" stop-color="#00c4b7"/><stop offset="0.242" stop-color="#00c8a6"/><stop offset="0.315" stop-color="#00ca93"/><stop offset="0.389" stop-color="#01cd82"/><stop offset="0.464" stop-color="#05cf75"/><stop offset="0.539" stop-color="#0cd067"/><stop offset="0.614" stop-color="#4ccc46"/><stop offset="0.691" stop-color="#a4cc11"/><stop offset="0.767" stop-color="#d4cc00"/><stop offset="0.844" stop-color="#f0c706"/><stop offset="0.922" stop-color="#fdc014"/><stop offset="1.000" stop-color="#ffc70f"/></linearGradient>
<linearGradient id="g47" gradientUnits="userSpaceOnUse" x1="145.7" y1="139.8" x2="61.2" y2="60.3"><stop offset="0.000" stop-color="#00b8d8"/><stop offset="0.034" stop-color="#00bad3"/><stop offset="0.048" stop-color="#00bbd1"/><stop offset="0.067" stop-color="#00bccd"/><stop offset="0.096" stop-color="#00bec7"/><stop offset="0.169" stop-color="#00c3b9"/><stop offset="0.242" stop-color="#00c7a9"/><stop offset="0.315" stop-color="#00ca98"/><stop offset="0.389" stop-color="#00cc86"/><stop offset="0.464" stop-color="#03ce7a"/><stop offset="0.539" stop-color="#07d06e"/><stop offset="0.615" stop-color="#1fce5a"/><stop offset="0.691" stop-color="#79cc2b"/><stop offset="0.767" stop-color="#bbcc06"/><stop offset="0.844" stop-color="#e0cc00"/><stop offset="0.922" stop-color="#f6c40a"/><stop offset="1.000" stop-color="#ffc016"/></linearGradient>
<linearGradient id="g46" gradientUnits="userSpaceOnUse" x1="145.1" y1="139.8" x2="60.6" y2="62.2"><stop offset="0.000" stop-color="#00b9d7"/><stop offset="0.034" stop-color="#00bad3"/><stop offset="0.048" stop-color="#00bbd0"/><stop offset="0.067" stop-color="#00bccd"/><stop offset="0.096" stop-color="#00bec8"/><stop offset="0.169" stop-color="#00c3ba"/><stop offset="0.242" stop-color="#00c7ac"/><stop offset="0.316" stop-color="#00c99d"/><stop offset="0.390" stop-color="#00cb8d"/><stop offset="0.464" stop-color="#02cd7f"/><stop offset="0.539" stop-color="#05cf74"/><stop offset="0.615" stop-color="#0cd067"/><stop offset="0.691" stop-color="#41cd4b"/><stop offset="0.767" stop-color="#98cc18"/><stop offset="0.845" stop-color="#c9cc00"/><stop offset="0.922" stop-color="#e7cb01"/><stop offset="1.000" stop-color="#f8c30c"/></linearGradient>
<linearGradient id="g45" gradientUnits="userSpaceOnUse" x1="144.5" y1="139.9" x2="60.0" y2="64.4"><stop offset="0.000" stop-color="#00b8d8"/><stop offset="0.034" stop-color="#00b9d5"/><stop offset="0.048" stop-color="#00bad3"/><stop offset="0.067" stop-color="#00bbd0"/><stop offset="0.096" stop-color="#00bdcb"/><stop offset="0.169" stop-color="#00c1bf"/><stop offset="0.242" stop-color="#00c5b2"/><stop offset="0.316" stop-color="#00c8a4"/><stop offset="0.390" stop-color="#00ca95"/><stop offset="0.465" stop-color="#00cc85"/><stop offset="0.540" stop-color="#03ce7b"/><stop offset="0.615" stop-color="#06d070"/><stop offset="0.691" stop-color="#12cf61"/><stop offset="0.768" stop-color="#57cc41"/><stop offset="0.845" stop-color="#a3cc12"/><stop offset="0.922" stop-color="#cfcc00"/><stop offset="1.000" stop-color="#eaca03"/></linearGradient>
<linearGradient id="g44" gradientUnits="userSpaceOnUse" x1="144.0" y1="140.6" x2="59.5" y2="66.6"><stop offset="0.000" stop-color="#00b6dc"/><stop offset="0.034" stop-color="#00b8d8"/><stop offset="0.048" stop-color="#00b8d7"/><stop offset="0.067" stop-color="#00b9d5"/><stop offset="0.096" stop-color="#00bbd2"/><stop offset="0.169" stop-color="#00bfc6"/><stop offset="0.242" stop-color="#00c3ba"/><stop offset="0.316" stop-color="#00c7ae"/><stop offset="0.390" stop-color="#00c9a0"/><stop offset="0.465" stop-color="#00ca92"/><stop offset="0.540" stop-color="#00cc83"/><stop offset="0.616" stop-color="#03ce79"/><stop offset="0.691" stop-color="#06d06f"/><stop offset="0.768" stop-color="#13cf60"/><stop offset="0.845" stop-color="#58cc40"/><stop offset="0.922" stop-color="#a3cc12"/><stop offset="1.000" stop-color="#cecc00"/></linearGradient>
<linearGradient id="g43" gradientUnits="userSpaceOnUse" x1="143.4" y1="141.4" x2="58.9" y2="69.2"><stop offset="0.000" stop-color="#00b5df"/><stop offset="0.034" stop-color="#00b6dc"/><stop offset="0.048" stop-color="#00b7db"/><stop offset="0.067" stop-color="#00b7d9"/><stop offset="0.096" stop-color="#00b9d6"/><stop offset="0.169" stop-color="#00bcce"/><stop offset="0.243" stop-color="#00c0c3"/><stop offset="0.316" stop-color="#00c3b8"/><stop offset="0.391" stop-color="#00c7ac"/><stop offset="0.465" stop-color="#00c99f"/><stop offset="0.540" stop-color="#00ca91"/><stop offset="0.616" stop-color="#00cc83"/><stop offset="0.692" stop-color="#03ce7a"/><stop offset="0.768" stop-color="#06d070"/><stop offset="0.845" stop-color="#10cf63"/><stop offset="0.922" stop-color="#4acd47"/><stop offset="1.000" stop-color="#98cc18"/></linearGradient>
<linearGradient id="g42" gradientUnits="userSpaceOnUse" x1="142.8" y1="142.2" x2="58.3" y2="72.2"><stop offset="0.000" stop-color="#00b3e2"/><stop offset="0.034" stop-color="#00b4e0"/><stop offset="0.048" stop-color="#00b5de"/><stop offset="0.068" stop-color="#00b5dd"/><stop offset="0.097" stop-color="#00b7db"/><stop offset="0.170" stop-color="#00bad5"/><stop offset="0.243" stop-color="#00bdcc"/><stop offset="0.317" stop-color="#00c0c2"/><stop offset="0.391" stop-color="#00c4b8"/><stop offset="0.466" stop-color="#00c7ac"/><stop offset="0.541" stop-color="#00c9a0"/><stop offset="0.616" stop-color="#00ca93"/><stop offset="0.692" stop-color="#00cc85"/><stop offset="0.768" stop-color="#03ce7c"/><stop offset="0.845" stop-color="#05d073"/><stop offset="0.922" stop-color="#0bd168"/><stop offset="1.000" stop-color="#30ce52"/></linearGradient>
<linearGradient id="g41" gradientUnits="userSpaceOnUse" x1="142.3" y1="143.1" x2="57.8" y2="75.2"><stop offset="0.000" stop-color="#00b1e5"/><stop offset="0.034" stop-color="#00b2e3"/><stop offset="0.048" stop-color="#00b3e2"/><stop offset="0.068" stop-color="#00b3e1"/><stop offset="0.097" stop-color="#00b4df"/><stop offset="0.170" stop-color="#00b7da"/><stop offset="0.243" stop-color="#00bad5"/><stop offset="0.317" stop-color="#00bccd"/><stop offset="0.391" stop-color="#00bfc4"/><stop offset="0.466" stop-color="#00c3ba"/><stop offset="0.541" stop-color="#00c6b0"/><stop offset="0.616" stop-color="#00c8a5"/><stop offset="0.692" stop-color="#00c999"/><stop offset="0.769" stop-color="#00cb8d"/><stop offset="0.845" stop-color="#01cd81"/><stop offset="0.922" stop-color="#04ce79"/><stop offset="1.000" stop-color="#06d070"/></linearGradient>
<linearGradient id="g40" gradientUnits="userSpaceOnUse" x1="141.7" y1="143.9" x2="57.2" y2="78.5"><stop offset="0.000" stop-color="#00afea"/><stop offset="0.034" stop-color="#00b0e8"/><stop offset="0.048" stop-color="#00b0e7"/><stop offset="0.068" stop-color="#00b1e6"/><stop offset="0.097" stop-color="#00b2e5"/><stop offset="0.170" stop-color="#00b4e1"/><stop offset="0.244" stop-color="#00b6dc"/><stop offset="0.317" stop-color="#00b8d8"/><stop offset="0.392" stop-color="#00bbd2"/><stop offset="0.466" stop-color="#00bdca"/><stop offset="0.541" stop-color="#00c0c1"/><stop offset="0.617" stop-color="#00c3b8"/><stop offset="0.693" stop-color="#00c6af"/><stop offset="0.769" stop-color="#00c8a4"/><stop offset="0.846" stop-color="#00ca99"/><stop offset="0.923" stop-color="#00cb8d"/><stop offset="1.000" stop-color="#01cd82"/></linearGradient>
<linearGradient id="g39" gradientUnits="userSpaceOnUse" x1="141.2" y1="145.2" x2="56.7" y2="82.2"><stop offset="0.000" stop-color="#00aaee"/><stop offset="0.034" stop-color="#00abee"/><stop offset="0.048" stop-color="#00acee"/><stop offset="0.068" stop-color="#00acee"/><stop offset="0.097" stop-color="#00aded"/><stop offset="0.170" stop-color="#00afea"/><stop offset="0.244" stop-color="#00b1e6"/><stop offset="0.318" stop-color="#00b3e2"/><stop offset="0.392" stop-color="#00b5de"/><stop offset="0.467" stop-color="#00b7d9"/><stop offset="0.542" stop-color="#00bad4"/><stop offset="0.617" stop-color="#00bccd"/><stop offset="0.693" stop-color="#00bfc4"/><stop offset="0.769" stop-color="#00c2bc"/><stop offset="0.846" stop-color="#00c5b2"/><stop offset="0.923" stop-color="#00c8a8"/><stop offset="1.000" stop-color="#00c99d"/></linearGradient>
<linearGradient id="g38" gradientUnits="userSpaceOnUse" x1="140.6" y1="146.9" x2="56.1" y2="85.9"><stop offset="0.000" stop-color="#00a4f1"/><stop offset="0.034" stop-color="#00a5f0"/><stop offset="0.049" stop-color="#00a5f0"/><stop offset="0.068" stop-color="#00a5f0"/><stop offset="0.097" stop-color="#00a6f0"/><stop offset="0.171" stop-color="#00a8ef"/><stop offset="0.244" stop-color="#00abee"/><stop offset="0.318" stop-color="#00aded"/><stop offset="0.393" stop-color="#00afea"/><stop offset="0.467" stop-color="#00b1e6"/><stop offset="0.542" stop-color="#00b3e2"/><stop offset="0.618" stop-color="#00b5dd"/><stop offset="0.694" stop-color="#00b8d8"/><stop offset="0.770" stop-color="#00bad3"/><stop offset="0.846" stop-color="#00bdcb"/><stop offset="0.923" stop-color="#00c0c2"/><stop offset="1.000" stop-color="#00c3b9"/></linearGradient>
<linearGradient id="g37" gradientUnits="userSpaceOnUse" x1="140.0" y1="148.7" x2="55.5" y2="89.6"><stop offset="0.000" stop-color="#009df3"/><stop offset="0.034" stop-color="#009ef3"/><stop offset="0.049" stop-color="#009ef3"/><stop offset="0.068" stop-color="#009ef3"/><stop offset="0.097" stop-color="#009ff3"/><stop offset="0.171" stop-color="#00a0f2"/><stop offset="0.245" stop-color="#00a2f1"/><stop offset="0.319" stop-color="#00a4f1"/><stop offset="0.393" stop-color="#00a7f0"/><stop offset="0.468" stop-color="#00a9ef"/><stop offset="0.543" stop-color="#00acee"/><stop offset="0.618" stop-color="#00aeec"/><stop offset="0.694" stop-color="#00b0e8"/><stop offset="0.770" stop-color="#00b2e3"/><stop offset="0.846" stop-color="#00b5df"/><stop offset="0.923" stop-color="#00b7da"/><stop offset="1.000" stop-color="#00bad5"/></linearGradient>
<linearGradient id="g36" gradientUnits="userSpaceOnUse" x1="139.5" y1="150.5" x2="55.0" y2="93.5"><stop offset="0.000" stop-color="#0097f6"/><stop offset="0.034" stop-color="#0097f6"/><stop offset="0.049" stop-color="#0097f6"/><stop offset="0.068" stop-color="#0097f6"/><stop offset="0.098" stop-color="#0098f5"/><stop offset="0.171" stop-color="#0099f5"/><stop offset="0.245" stop-color="#009af4"/><stop offset="0.319" stop-color="#009bf4"/><stop offset="0.394" stop-color="#009df3"/><stop offset="0.469" stop-color="#009ff3"/><stop offset="0.544" stop-color="#00a1f2"/><stop offset="0.619" stop-color="#00a3f1"/><stop offset="0.695" stop-color="#00a6f0"/><stop offset="0.771" stop-color="#00a9ef"/><stop offset="0.847" stop-color="#00acee"/><stop offset="0.923" stop-color="#00aeeb"/><stop offset="1.000" stop-color="#00b0e7"/></linearGradient>
<linearGradient id="g35" gradientUnits="userSpaceOnUse" x1="138.9" y1="152.3" x2="54.4" y2="97.3"><stop offset="0.000" stop-color="#0090f9"/><stop offset="0.034" stop-color="#0090f9"/><stop offset="0.049" stop-color="#0090f9"/><stop offset="0.068" stop-color="#0090f9"/><stop offset="0.098" stop-color="#0091f9"/><stop offset="0.172" stop-color="#0091f9"/><stop offset="0.246" stop-color="#0092f8"/><stop offset="0.320" stop-color="#0093f8"/><stop offset="0.394" stop-color="#0095f7"/><stop offset="0.469" stop-color="#0096f6"/><stop offset="0.544" stop-color="#0098f5"/><stop offset="0.620" stop-color="#009af5"/><stop offset="0.695" stop-color="#009cf4"/><stop offset="0.771" stop-color="#009ef3"/><stop offset="0.847" stop-color="#00a0f2"/><stop offset="0.923" stop-color="#00a3f1"/><stop offset="1.000" stop-color="#00a6f0"/></linearGradient>
<linearGradient id="g34" gradientUnits="userSpaceOnUse" x1="138.3" y1="154.1" x2="53.8" y2="100.6"><stop offset="0.000" stop-color="#0089fd"/><stop offset="0.034" stop-color="#0089fd"/><stop offset="0.049" stop-color="#0089fd"/><stop offset="0.069" stop-color="#0089fd"/><stop offset="0.098" stop-color="#0089fd"/><stop offset="0.172" stop-color="#008afc"/><stop offset="0.246" stop-color="#008afc"/><stop offset="0.320" stop-color="#008bfc"/><stop offset="0.395" stop-color="#008cfb"/><stop offset="0.470" stop-color="#008efb"/><stop offset="0.545" stop-color="#008ffa"/><stop offset="0.620" stop-color="#0091f9"/><stop offset="0.696" stop-color="#0092f8"/><stop offset="0.771" stop-color="#0094f7"/><stop offset="0.847" stop-color="#0096f6"/><stop offset="0.924" stop-color="#0099f5"/><stop offset="1.000" stop-color="#009bf4"/></linearGradient>
<linearGradient id="g33" gradientUnits="userSpaceOnUse" x1="137.8" y1="156.1" x2="53.3" y2="103.5"><stop offset="0.000" stop-color="#0481ff"/><stop offset="0.034" stop-color="#0481ff"/><stop offset="0.049" stop-color="#0481ff"/><stop offset="0.069" stop-color="#0481ff"/><stop offset="0.098" stop-color="#0481ff"/><stop offset="0.172" stop-color="#0382ff"/><stop offset="0.246" stop-color="#0382ff"/><stop offset="0.321" stop-color="#0283ff"/><stop offset="0.395" stop-color="#0184ff"/><stop offset="0.470" stop-color="#0085ff"/><stop offset="0.545" stop-color="#0086fe"/><stop offset="0.621" stop-color="#0087fe"/><stop offset="0.696" stop-color="#0089fd"/><stop offset="0.772" stop-color="#008bfc"/><stop offset="0.848" stop-color="#008cfb"/><stop offset="0.924" stop-color="#008efa"/><stop offset="1.000" stop-color="#0090f9"/></linearGradient>
<linearGradient id="g32" gradientUnits="userSpaceOnUse" x1="137.2" y1="158.0" x2="52.7" y2="106.3"><stop offset="0.000" stop-color="#0f78ff"/><stop offset="0.034" stop-color="#0f78ff"/><stop offset="0.049" stop-color="#0f78ff"/><stop offset="0.069" stop-color="#0f78ff"/><stop offset="0.098" stop-color="#0f78ff"/><stop offset="0.173" stop-color="#0e79ff"/><stop offset="0.247" stop-color="#0e79ff"/><stop offset="0.321" stop-color="#0d7aff"/><stop offset="0.396" stop-color="#0c7bff"/><stop offset="0.471" stop-color="#0b7cff"/><stop offset="0.546" stop-color="#097dff"/><stop offset="0.621" stop-color="#077eff"/><stop offset="0.696" stop-color="#0680ff"/><stop offset="0.772" stop-color="#0382ff"/><stop offset="0.848" stop-color="#0184ff"/><stop offset="0.924" stop-color="#0086fe"/><stop offset="1.000" stop-color="#0087fe"/></linearGradient>
<linearGradient id="g31" gradientUnits="userSpaceOnUse" x1="136.7" y1="159.9" x2="52.2" y2="108.9"><stop offset="0.000" stop-color="#1e70ff"/><stop offset="0.035" stop-color="#1e71ff"/><stop offset="0.049" stop-color="#1e71ff"/><stop offset="0.069" stop-color="#1e71ff"/><stop offset="0.099" stop-color="#1d71ff"/><stop offset="0.173" stop-color="#1c71ff"/><stop offset="0.247" stop-color="#1b72ff"/><stop offset="0.322" stop-color="#1973ff"/><stop offset="0.396" stop-color="#1774ff"/><stop offset="0.471" stop-color="#1575ff"/><stop offset="0.546" stop-color="#1376ff"/><stop offset="0.622" stop-color="#1078ff"/><stop offset="0.697" stop-color="#0e79ff"/><stop offset="0.772" stop-color="#0b7bff"/><stop offset="0.848" stop-color="#097dff"/><stop offset="0.924" stop-color="#077fff"/><stop offset="1.000" stop-color="#0481ff"/></linearGradient>
<linearGradient id="g30" gradientUnits="userSpaceOnUse" x1="136.1" y1="161.4" x2="51.6" y2="110.5"><stop offset="0.000" stop-color="#286cff"/><stop offset="0.035" stop-color="#286cff"/><stop offset="0.049" stop-color="#286cff"/><stop offset="0.069" stop-color="#276cff"/><stop offset="0.099" stop-color="#276cff"/><stop offset="0.173" stop-color="#266cff"/><stop offset="0.248" stop-color="#256dff"/><stop offset="0.322" stop-color="#236eff"/><stop offset="0.397" stop-color="#216fff"/><stop offset="0.472" stop-color="#1f70ff"/><stop offset="0.547" stop-color="#1d71ff"/><stop offset="0.622" stop-color="#1a72ff"/><stop offset="0.697" stop-color="#1774ff"/><stop offset="0.773" stop-color="#1475ff"/><stop offset="0.848" stop-color="#1177ff"/><stop offset="0.924" stop-color="#0e79ff"/><stop offset="1.000" stop-color="#0b7bff"/></linearGradient>
<linearGradient id="g29" gradientUnits="userSpaceOnUse" x1="135.5" y1="162.4" x2="51.0" y2="111.9"><stop offset="0.000" stop-color="#2d67ff"/><stop offset="0.035" stop-color="#2d67ff"/><stop offset="0.049" stop-color="#2d67ff"/><stop offset="0.069" stop-color="#2d67ff"/><stop offset="0.099" stop-color="#2d67ff"/><stop offset="0.173" stop-color="#2c68ff"/><stop offset="0.248" stop-color="#2c68ff"/><stop offset="0.323" stop-color="#2b69ff"/><stop offset="0.397" stop-color="#2a6aff"/><stop offset="0.472" stop-color="#296bff"/><stop offset="0.547" stop-color="#266cff"/><stop offset="0.622" stop-color="#246dff"/><stop offset="0.698" stop-color="#226fff"/><stop offset="0.773" stop-color="#1f70ff"/><stop offset="0.849" stop-color="#1c72ff"/><stop offset="0.924" stop-color="#1873ff"/><stop offset="1.000" stop-color="#1575ff"/></linearGradient>
<linearGradient id="g28" gradientUnits="userSpaceOnUse" x1="135.0" y1="163.4" x2="50.5" y2="113.3"><stop offset="0.000" stop-color="#3262ff"/><stop offset="0.035" stop-color="#3262ff"/><stop offset="0.050" stop-color="#3262ff"/><stop offset="0.069" stop-color="#3163ff"/><stop offset="0.099" stop-color="#3163ff"/><stop offset="0.174" stop-color="#3064ff"/><stop offset="0.248" stop-color="#2f65ff"/><stop offset="0.323" stop-color="#2e66ff"/><stop offset="0.398" stop-color="#2d67ff"/><stop offset="0.473" stop-color="#2b68ff"/><stop offset="0.548" stop-color="#2a6aff"/><stop offset="0.623" stop-color="#286bff"/><stop offset="0.698" stop-color="#256dff"/><stop offset="0.773" stop-color="#226eff"/><stop offset="0.849" stop-color="#1f70ff"/><stop offset="0.924" stop-color="#1c72ff"/><stop offset="1.000" stop-color="#1874ff"/></linearGradient>
<linearGradient id="g27" gradientUnits="userSpaceOnUse" x1="134.4" y1="164.2" x2="49.9" y2="114.0"><stop offset="0.000" stop-color="#3361ff"/><stop offset="0.035" stop-color="#3262ff"/><stop offset="0.050" stop-color="#3262ff"/><stop offset="0.070" stop-color="#3262ff"/><stop offset="0.099" stop-color="#3163ff"/><stop offset="0.174" stop-color="#3064ff"/><stop offset="0.249" stop-color="#2f65ff"/><stop offset="0.324" stop-color="#2e66ff"/><stop offset="0.398" stop-color="#2c68ff"/><stop offset="0.473" stop-color="#2b69ff"/><stop offset="0.548" stop-color="#296bff"/><stop offset="0.623" stop-color="#266cff"/><stop offset="0.699" stop-color="#236eff"/><stop offset="0.774" stop-color="#206fff"/><stop offset="0.849" stop-color="#1d71ff"/><stop offset="0.925" stop-color="#1a73ff"/><stop offset="1.000" stop-color="#1674ff"/></linearGradient>
<linearGradient id="g26" gradientUnits="userSpaceOnUse" x1="133.8" y1="164.2" x2="49.3" y2="114.0"><stop offset="0.000" stop-color="#3064ff"/><stop offset="0.035" stop-color="#3064ff"/><stop offset="0.050" stop-color="#3064ff"/><stop offset="0.070" stop-color="#2f65ff"/><stop offset="0.100" stop-color="#2f65ff"/><stop offset="0.174" stop-color="#2e66ff"/><stop offset="0.249" stop-color="#2c68ff"/><stop offset="0.324" stop-color="#2b69ff"/><stop offset="0.399" stop-color="#2a6aff"/><stop offset="0.474" stop-color="#286cff"/><stop offset="0.549" stop-color="#256dff"/><stop offset="0.624" stop-color="#236eff"/><stop offset="0.699" stop-color="#2070ff"/><stop offset="0.774" stop-color="#1d71ff"/><stop offset="0.849" stop-color="#1a72ff"/><stop offset="0.925" stop-color="#1774ff"/><stop offset="1.000" stop-color="#1476ff"/></linearGradient>
<linearGradient id="g25" gradientUnits="userSpaceOnUse" x1="133.3" y1="163.9" x2="48.8" y2="114.0"><stop offset="0.000" stop-color="#2e66ff"/><stop offset="0.035" stop-color="#2d67ff"/><stop offset="0.050" stop-color="#2d67ff"/><stop offset="0.070" stop-color="#2d67ff"/><stop offset="0.100" stop-color="#2c68ff"/><stop offset="0.175" stop-color="#2b69ff"/><stop offset="0.249" stop-color="#2a6aff"/><stop offset="0.324" stop-color="#286bff"/><stop offset="0.399" stop-color="#266cff"/><stop offset="0.474" stop-color="#246eff"/><stop offset="0.549" stop-color="#216fff"/><stop offset="0.624" stop-color="#1f70ff"/><stop offset="0.699" stop-color="#1d71ff"/><stop offset="0.774" stop-color="#1a73ff"/><stop offset="0.850" stop-color="#1774ff"/><stop offset="0.925" stop-color="#1575ff"/><stop offset="1.000" stop-color="#1277ff"/></linearGradient>
<linearGradient id="g24" gradientUnits="userSpaceOnUse" x1="132.7" y1="163.7" x2="48.2" y2="114.0"><stop offset="0.000" stop-color="#2b69ff"/><stop offset="0.035" stop-color="#2b69ff"/><stop offset="0.050" stop-color="#2a6aff"/><stop offset="0.070" stop-color="#2a6aff"/><stop offset="0.100" stop-color="#296aff"/><stop offset="0.175" stop-color="#286cff"/><stop offset="0.250" stop-color="#266dff"/><stop offset="0.325" stop-color="#246eff"/><stop offset="0.400" stop-color="#216fff"/><stop offset="0.475" stop-color="#1f70ff"/><stop offset="0.550" stop-color="#1d71ff"/><stop offset="0.625" stop-color="#1b72ff"/><stop offset="0.700" stop-color="#1873ff"/><stop offset="0.775" stop-color="#1675ff"/><stop offset="0.850" stop-color="#1476ff"/><stop offset="0.925" stop-color="#1177ff"/><stop offset="1.000" stop-color="#0f78ff"/></linearGradient>
<linearGradient id="g23" gradientUnits="userSpaceOnUse" x1="132.1" y1="163.4" x2="47.6" y2="113.9"><stop offset="0.000" stop-color="#266cff"/><stop offset="0.035" stop-color="#256dff"/><stop offset="0.050" stop-color="#256dff"/><stop offset="0.070" stop-color="#246eff"/><stop offset="0.100" stop-color="#236eff"/><stop offset="0.175" stop-color="#206fff"/><stop offset="0.250" stop-color="#1d71ff"/><stop offset="0.325" stop-color="#1b72ff"/><stop offset="0.400" stop-color="#1874ff"/><stop offset="0.475" stop-color="#1575ff"/><stop offset="0.550" stop-color="#1276ff"/><stop offset="0.625" stop-color="#1078ff"/><stop offset="0.700" stop-color="#0e79ff"/><stop offset="0.775" stop-color="#0c7aff"/><stop offset="0.850" stop-color="#0b7cff"/><stop offset="0.925" stop-color="#097dff"/><stop offset="1.000" stop-color="#077fff"/></linearGradient>
<linearGradient id="g22" gradientUnits="userSpaceOnUse" x1="131.6" y1="162.9" x2="47.1" y2="113.0"><stop offset="0.000" stop-color="#1d71ff"/><stop offset="0.036" stop-color="#1b72ff"/><stop offset="0.051" stop-color="#1a73ff"/><stop offset="0.071" stop-color="#1873ff"/><stop offset="0.101" stop-color="#1774ff"/><stop offset="0.176" stop-color="#1476ff"/><stop offset="0.250" stop-color="#1077ff"/><stop offset="0.325" stop-color="#0e79ff"/><stop offset="0.400" stop-color="#0c7bff"/><stop offset="0.475" stop-color="#0a7cff"/><stop offset="0.550" stop-color="#087eff"/><stop offset="0.625" stop-color="#0680ff"/><stop offset="0.700" stop-color="#0481ff"/><stop offset="0.775" stop-color="#0283ff"/><stop offset="0.850" stop-color="#0085ff"/><stop offset="0.925" stop-color="#0086fe"/><stop offset="1.000" stop-color="#0087fe"/></linearGradient>
<linearGradient id="g21" gradientUnits="userSpaceOnUse" x1="131.0" y1="162.1" x2="46.5" y2="111.4"><stop offset="0.000" stop-color="#1276ff"/><stop offset="0.037" stop-color="#1077ff"/><stop offset="0.051" stop-color="#0f78ff"/><stop offset="0.071" stop-color="#0d7aff"/><stop offset="0.101" stop-color="#0c7bff"/><stop offset="0.176" stop-color="#0a7cff"/><stop offset="0.251" stop-color="#077eff"/><stop offset="0.326" stop-color="#0580ff"/><stop offset="0.401" stop-color="#0382ff"/><stop offset="0.476" stop-color="#0184ff"/><stop offset="0.551" stop-color="#0086fe"/><stop offset="0.626" stop-color="#0087fe"/><stop offset="0.700" stop-color="#0089fd"/><stop offset="0.775" stop-color="#008afc"/><stop offset="0.850" stop-color="#008cfb"/><stop offset="0.925" stop-color="#008efb"/><stop offset="1.000" stop-color="#008ffa"/></linearGradient>
<linearGradient id="g20" gradientUnits="userSpaceOnUse" x1="130.5" y1="161.3" x2="46.0" y2="109.7"><stop offset="0.000" stop-color="#0b7cff"/><stop offset="0.038" stop-color="#0a7dff"/><stop offset="0.052" stop-color="#087eff"/><stop offset="0.072" stop-color="#0580ff"/><stop offset="0.102" stop-color="#0481ff"/><stop offset="0.177" stop-color="#0283ff"/><stop offset="0.252" stop-color="#0085ff"/><stop offset="0.327" stop-color="#0087fe"/><stop offset="0.402" stop-color="#0089fd"/><stop offset="0.476" stop-color="#008bfc"/><stop offset="0.551" stop-color="#008dfb"/><stop offset="0.626" stop-color="#008efa"/><stop offset="0.701" stop-color="#0090f9"/><stop offset="0.776" stop-color="#0092f8"/><stop offset="0.850" stop-color="#0094f7"/><stop offset="0.925" stop-color="#0095f7"/><stop offset="1.000" stop-color="#0097f6"/></linearGradient>
<linearGradient id="g19" gradientUnits="userSpaceOnUse" x1="129.9" y1="160.5" x2="45.4" y2="107.9"><stop offset="0.000" stop-color="#0581ff"/><stop offset="0.039" stop-color="#0382ff"/><stop offset="0.054" stop-color="#0184ff"/><stop offset="0.073" stop-color="#0087fe"/><stop offset="0.103" stop-color="#0087fe"/><stop offset="0.178" stop-color="#008afc"/><stop offset="0.253" stop-color="#008cfb"/><stop offset="0.328" stop-color="#008ffa"/><stop offset="0.402" stop-color="#0091f9"/><stop offset="0.477" stop-color="#0093f8"/><stop offset="0.552" stop-color="#0096f6"/><stop offset="0.626" stop-color="#0098f5"/><stop offset="0.701" stop-color="#009bf4"/><stop offset="0.776" stop-color="#009df3"/><stop offset="0.851" stop-color="#009ff2"/><stop offset="0.925" stop-color="#00a2f2"/><stop offset="1.000" stop-color="#00a4f1"/></linearGradient>
<linearGradient id="g18" gradientUnits="userSpaceOnUse" x1="129.3" y1="159.7" x2="44.8" y2="105.3"><stop offset="0.000" stop-color="#0087fe"/><stop offset="0.040" stop-color="#0089fd"/><stop offset="0.055" stop-color="#008bfc"/><stop offset="0.075" stop-color="#008efa"/><stop offset="0.105" stop-color="#008ffa"/><stop offset="0.179" stop-color="#0092f8"/><stop offset="0.254" stop-color="#0095f7"/><stop offset="0.328" stop-color="#0098f5"/><stop offset="0.403" stop-color="#009bf4"/><stop offset="0.478" stop-color="#009ef3"/><stop offset="0.552" stop-color="#00a1f2"/><stop offset="0.627" stop-color="#00a4f1"/><stop offset="0.702" stop-color="#00a8ef"/><stop offset="0.776" stop-color="#00abee"/><stop offset="0.851" stop-color="#00aeed"/><stop offset="0.925" stop-color="#00afe9"/><stop offset="1.000" stop-color="#00b1e5"/></linearGradient>
<linearGradient id="g17" gradientUnits="userSpaceOnUse" x1="128.8" y1="159.2" x2="44.3" y2="101.7"><stop offset="0.000" stop-color="#008dfb"/><stop offset="0.049" stop-color="#008efa"/><stop offset="0.063" stop-color="#0093f8"/><stop offset="0.083" stop-color="#009af4"/><stop offset="0.113" stop-color="#009cf4"/><stop offset="0.187" stop-color="#009ff3"/><stop offset="0.261" stop-color="#00a2f1"/><stop offset="0.334" stop-color="#00a6f0"/><stop offset="0.408" stop-color="#00a9ef"/><stop offset="0.482" stop-color="#00aded"/><stop offset="0.556" stop-color="#00afea"/><stop offset="0.630" stop-color="#00b1e6"/><stop offset="0.704" stop-color="#00b3e1"/><stop offset="0.778" stop-color="#00b5dd"/><stop offset="0.852" stop-color="#00b8d9"/><stop offset="0.926" stop-color="#00bad5"/><stop offset="1.000" stop-color="#00bccf"/></linearGradient>
<linearGradient id="g16" gradientUnits="userSpaceOnUse" x1="128.2" y1="159.3" x2="43.7" y2="97.9"><stop offset="0.000" stop-color="#008dfb"/><stop offset="0.065" stop-color="#008ffa"/><stop offset="0.080" stop-color="#009af5"/><stop offset="0.099" stop-color="#00a8ef"/><stop offset="0.128" stop-color="#00a9ef"/><stop offset="0.201" stop-color="#00aded"/><stop offset="0.273" stop-color="#00b0e9"/><stop offset="0.346" stop-color="#00b2e4"/><stop offset="0.419" stop-color="#00b5df"/><stop offset="0.491" stop-color="#00b7da"/><stop offset="0.564" stop-color="#00bad5"/><stop offset="0.637" stop-color="#00bcce"/><stop offset="0.709" stop-color="#00bec7"/><stop offset="0.782" stop-color="#00c1c0"/><stop offset="0.855" stop-color="#00c3b8"/><stop offset="0.927" stop-color="#00c6b1"/><stop offset="1.000" stop-color="#00c7a9"/></linearGradient>
<linearGradient id="g15" gradientUnits="userSpaceOnUse" x1="127.6" y1="159.3" x2="43.1" y2="93.3"><stop offset="0.000" stop-color="#008efa"/><stop offset="0.082" stop-color="#0090f9"/><stop offset="0.097" stop-color="#00a0f2"/><stop offset="0.116" stop-color="#00b2e3"/><stop offset="0.144" stop-color="#00b3e1"/><stop offset="0.216" stop-color="#00b6dc"/><stop offset="0.287" stop-color="#00b9d6"/><stop offset="0.358" stop-color="#00bccf"/><stop offset="0.430" stop-color="#00bfc6"/><stop offset="0.501" stop-color="#00c1be"/><stop offset="0.572" stop-color="#00c4b5"/><stop offset="0.644" stop-color="#00c7ad"/><stop offset="0.715" stop-color="#00c8a4"/><stop offset="0.786" stop-color="#00c99b"/><stop offset="0.857" stop-color="#00ca92"/><stop offset="0.929" stop-color="#00cb89"/><stop offset="1.000" stop-color="#01cd82"/></linearGradient>
<linearGradient id="g14" gradientUnits="userSpaceOnUse" x1="127.1" y1="159.3" x2="42.6" y2="88.5"><stop offset="0.000" stop-color="#008ffa"/><stop offset="0.100" stop-color="#0091f9"/><stop offset="0.114" stop-color="#00a7f0"/><stop offset="0.133" stop-color="#00bbd2"/><stop offset="0.161" stop-color="#00bcce"/><stop offset="0.231" stop-color="#00bfc4"/><stop offset="0.301" stop-color="#00c2bb"/><stop offset="0.371" stop-color="#00c6b1"/><stop offset="0.441" stop-color="#00c8a7"/><stop offset="0.511" stop-color="#00c99d"/><stop offset="0.581" stop-color="#00ca93"/><stop offset="0.651" stop-color="#00cb89"/><stop offset="0.721" stop-color="#01cd81"/><stop offset="0.791" stop-color="#03ce7b"/><stop offset="0.860" stop-color="#05cf75"/><stop offset="0.930" stop-color="#07d06f"/><stop offset="1.000" stop-color="#0cd067"/></linearGradient>
<linearGradient id="g13" gradientUnits="userSpaceOnUse" x1="126.5" y1="159.3" x2="42.0" y2="83.7"><stop offset="0.000" stop-color="#0091f9"/><stop offset="0.119" stop-color="#0093f8"/><stop offset="0.132" stop-color="#00aeec"/><stop offset="0.151" stop-color="#00c4b5"/><stop offset="0.178" stop-color="#00c6b1"/><stop offset="0.247" stop-color="#00c8a6"/><stop offset="0.316" stop-color="#00c99b"/><stop offset="0.384" stop-color="#00ca91"/><stop offset="0.453" stop-color="#00cc86"/><stop offset="0.521" stop-color="#02cd7f"/><stop offset="0.590" stop-color="#04cf78"/><stop offset="0.658" stop-color="#06d071"/><stop offset="0.727" stop-color="#08d16a"/><stop offset="0.795" stop-color="#13cf5f"/><stop offset="0.863" stop-color="#3dcd4c"/><stop offset="0.932" stop-color="#6bcc34"/><stop offset="1.000" stop-color="#99cc17"/></linearGradient>
<linearGradient id="g12" gradientUnits="userSpaceOnUse" x1="125.9" y1="159.3" x2="41.4" y2="79.0"><stop offset="0.000" stop-color="#0092f8"/><stop offset="0.140" stop-color="#0094f7"/><stop offset="0.153" stop-color="#00b2e3"/><stop offset="0.171" stop-color="#00ca96"/><stop offset="0.198" stop-color="#00ca92"/><stop offset="0.265" stop-color="#00cc87"/><stop offset="0.332" stop-color="#02cd7f"/><stop offset="0.399" stop-color="#04ce78"/><stop offset="0.466" stop-color="#06d071"/><stop offset="0.533" stop-color="#08d16a"/><stop offset="0.600" stop-color="#14cf5f"/><stop offset="0.667" stop-color="#3ecd4c"/><stop offset="0.734" stop-color="#6ecc32"/><stop offset="0.800" stop-color="#9acc16"/><stop offset="0.867" stop-color="#b4cc09"/><stop offset="0.933" stop-color="#cbcc00"/><stop offset="1.000" stop-color="#dbcc00"/></linearGradient>
<linearGradient id="g11" gradientUnits="userSpaceOnUse" x1="125.4" y1="159.4" x2="40.9" y2="75.1"><stop offset="0.000" stop-color="#0090f9"/><stop offset="0.161" stop-color="#0093f8"/><stop offset="0.174" stop-color="#00b6dc"/><stop offset="0.191" stop-color="#02cd7e"/><stop offset="0.218" stop-color="#03ce7c"/><stop offset="0.283" stop-color="#05cf74"/><stop offset="0.349" stop-color="#07d16d"/><stop offset="0.414" stop-color="#0fd063"/><stop offset="0.480" stop-color="#2fce52"/><stop offset="0.545" stop-color="#5fcc3c"/><stop offset="0.610" stop-color="#93cc1a"/><stop offset="0.675" stop-color="#aecc0c"/><stop offset="0.740" stop-color="#c8cc00"/><stop offset="0.805" stop-color="#d8cc00"/><stop offset="0.870" stop-color="#e7cb01"/><stop offset="0.935" stop-color="#f0c706"/><stop offset="1.000" stop-color="#f8c30b"/></linearGradient>
<linearGradient id="g10" gradientUnits="userSpaceOnUse" x1="124.8" y1="159.5" x2="40.3" y2="71.6"><stop offset="0.000" stop-color="#008efa"/><stop offset="0.176" stop-color="#0091f9"/><stop offset="0.189" stop-color="#00b7da"/><stop offset="0.206" stop-color="#05cf73"/><stop offset="0.232" stop-color="#06d071"/><stop offset="0.297" stop-color="#0bd068"/><stop offset="0.361" stop-color="#1ece5a"/><stop offset="0.425" stop-color="#4ecc45"/><stop offset="0.490" stop-color="#82cc25"/><stop offset="0.554" stop-color="#a6cc10"/><stop offset="0.618" stop-color="#c2cc02"/><stop offset="0.682" stop-color="#d4cc00"/><stop offset="0.745" stop-color="#e5cc00"/><stop offset="0.809" stop-color="#eec805"/><stop offset="0.873" stop-color="#f7c30a"/><stop offset="0.937" stop-color="#fbc111"/><stop offset="1.000" stop-color="#ffbf17"/></linearGradient>
<linearGradient id="g9" gradientUnits="userSpaceOnUse" x1="124.3" y1="159.6" x2="39.8" y2="69.2"><stop offset="0.000" stop-color="#008efa"/><stop offset="0.187" stop-color="#0091f9"/><stop offset="0.199" stop-color="#00b9d6"/><stop offset="0.216" stop-color="#09d16a"/><stop offset="0.242" stop-color="#0ed065"/><stop offset="0.306" stop-color="#2bce54"/><stop offset="0.369" stop-color="#5ccc3e"/><stop offset="0.433" stop-color="#92cc1b"/><stop offset="0.496" stop-color="#aecc0c"/><stop offset="0.560" stop-color="#c9cc00"/><stop offset="0.623" stop-color="#d9cc00"/><stop offset="0.686" stop-color="#e8cb01"/><stop offset="0.749" stop-color="#f1c606"/><stop offset="0.812" stop-color="#f8c30c"/><stop offset="0.875" stop-color="#fcc112"/><stop offset="0.937" stop-color="#ffc016"/><stop offset="1.000" stop-color="#ffc412"/></linearGradient>
<linearGradient id="g8" gradientUnits="userSpaceOnUse" x1="123.7" y1="159.7" x2="39.2" y2="67.8"><stop offset="0.000" stop-color="#008cfb"/><stop offset="0.196" stop-color="#008ffa"/><stop offset="0.209" stop-color="#00bad4"/><stop offset="0.226" stop-color="#13cf5f"/><stop offset="0.251" stop-color="#23ce58"/><stop offset="0.314" stop-color="#53cc43"/><stop offset="0.377" stop-color="#87cc22"/><stop offset="0.440" stop-color="#a8cc0f"/><stop offset="0.502" stop-color="#c3cc02"/><stop offset="0.565" stop-color="#d4cc00"/><stop offset="0.627" stop-color="#e4cc00"/><stop offset="0.690" stop-color="#eec805"/><stop offset="0.752" stop-color="#f7c30a"/><stop offset="0.814" stop-color="#fbc110"/><stop offset="0.876" stop-color="#fec016"/><stop offset="0.938" stop-color="#ffc214"/><stop offset="1.000" stop-color="#ffc610"/></linearGradient>
<linearGradient id="g7" gradientUnits="userSpaceOnUse" x1="123.1" y1="159.8" x2="38.6" y2="67.5"><stop offset="0.000" stop-color="#0089fd"/><stop offset="0.199" stop-color="#008bfc"/><stop offset="0.211" stop-color="#00b8d8"/><stop offset="0.228" stop-color="#10cf63"/><stop offset="0.253" stop-color="#17ce5d"/><stop offset="0.316" stop-color="#47cd48"/><stop offset="0.379" stop-color="#7bcc29"/><stop offset="0.441" stop-color="#a3cc12"/><stop offset="0.504" stop-color="#bfcc04"/><stop offset="0.566" stop-color="#d2cc00"/><stop offset="0.629" stop-color="#e2cc00"/><stop offset="0.691" stop-color="#edc804"/><stop offset="0.753" stop-color="#f6c409"/><stop offset="0.815" stop-color="#fbc110"/><stop offset="0.877" stop-color="#fec016"/><stop offset="0.938" stop-color="#ffc214"/><stop offset="1.000" stop-color="#ffc610"/></linearGradient>
<linearGradient id="g6" gradientUnits="userSpaceOnUse" x1="122.6" y1="159.9" x2="38.1" y2="69.5"><stop offset="0.000" stop-color="#0085ff"/><stop offset="0.194" stop-color="#0088fd"/><stop offset="0.207" stop-color="#00b5de"/><stop offset="0.223" stop-color="#07d06e"/><stop offset="0.249" stop-color="#08d16b"/><stop offset="0.312" stop-color="#13cf5f"/><stop offset="0.375" stop-color="#41cd4b"/><stop offset="0.438" stop-color="#74cc2e"/><stop offset="0.501" stop-color="#9fcc14"/><stop offset="0.564" stop-color="#bbcc06"/><stop offset="0.626" stop-color="#d0cc00"/><stop offset="0.689" stop-color="#e0cc00"/><stop offset="0.751" stop-color="#ecc904"/><stop offset="0.814" stop-color="#f5c409"/><stop offset="0.876" stop-color="#fac20f"/><stop offset="0.938" stop-color="#fec015"/><stop offset="1.000" stop-color="#ffc214"/></linearGradient>
<linearGradient id="g5" gradientUnits="userSpaceOnUse" x1="122.0" y1="159.9" x2="37.5" y2="73.6"><stop offset="0.000" stop-color="#077fff"/><stop offset="0.178" stop-color="#0382ff"/><stop offset="0.191" stop-color="#00aeeb"/><stop offset="0.208" stop-color="#00cc84"/><stop offset="0.234" stop-color="#01cd82"/><stop offset="0.298" stop-color="#03ce7b"/><stop offset="0.363" stop-color="#05cf75"/><stop offset="0.427" stop-color="#07d06f"/><stop offset="0.491" stop-color="#0cd067"/><stop offset="0.555" stop-color="#1cce5b"/><stop offset="0.619" stop-color="#44cd49"/><stop offset="0.682" stop-color="#6fcc32"/><stop offset="0.746" stop-color="#98cc17"/><stop offset="0.810" stop-color="#afcc0c"/><stop offset="0.873" stop-color="#c6cc01"/><stop offset="0.937" stop-color="#d4cc00"/><stop offset="1.000" stop-color="#e1cc00"/></linearGradient>
<linearGradient id="g4" gradientUnits="userSpaceOnUse" x1="121.4" y1="159.9" x2="36.9" y2="79.4"><stop offset="0.000" stop-color="#067fff"/><stop offset="0.151" stop-color="#0680ff"/><stop offset="0.164" stop-color="#00a4f1"/><stop offset="0.182" stop-color="#00c5b2"/><stop offset="0.208" stop-color="#00c6b1"/><stop offset="0.275" stop-color="#00c6af"/><stop offset="0.341" stop-color="#00c7ad"/><stop offset="0.407" stop-color="#00c7ac"/><stop offset="0.473" stop-color="#00c7aa"/><stop offset="0.540" stop-color="#00c8a9"/><stop offset="0.606" stop-color="#00c8a7"/><stop offset="0.672" stop-color="#00c8a6"/><stop offset="0.737" stop-color="#00c8a5"/><stop offset="0.803" stop-color="#00c8a4"/><stop offset="0.869" stop-color="#00c8a3"/><stop offset="0.934" stop-color="#00c8a2"/><stop offset="1.000" stop-color="#00c8a1"/></linearGradient>
<linearGradient id="g3" gradientUnits="userSpaceOnUse" x1="120.9" y1="159.9" x2="36.4" y2="86.3"><stop offset="0.000" stop-color="#0581ff"/><stop offset="0.122" stop-color="#0680ff"/><stop offset="0.136" stop-color="#009bf4"/><stop offset="0.154" stop-color="#00b8d8"/><stop offset="0.182" stop-color="#00b8d8"/><stop offset="0.250" stop-color="#00b7db"/><stop offset="0.319" stop-color="#00b5dd"/><stop offset="0.387" stop-color="#00b4e0"/><stop offset="0.456" stop-color="#00b3e2"/><stop offset="0.524" stop-color="#00b2e5"/><stop offset="0.592" stop-color="#00b0e7"/><stop offset="0.660" stop-color="#00afea"/><stop offset="0.728" stop-color="#00aeed"/><stop offset="0.796" stop-color="#00abee"/><stop offset="0.864" stop-color="#00a9ef"/><stop offset="0.932" stop-color="#00a7f0"/><stop offset="1.000" stop-color="#00a4f1"/></linearGradient>
<linearGradient id="g2" gradientUnits="userSpaceOnUse" x1="120.3" y1="160.0" x2="35.8" y2="93.9"><stop offset="0.000" stop-color="#0382ff"/><stop offset="0.095" stop-color="#0382ff"/><stop offset="0.109" stop-color="#0095f7"/><stop offset="0.128" stop-color="#00aeec"/><stop offset="0.156" stop-color="#00aeec"/><stop offset="0.227" stop-color="#00aded"/><stop offset="0.297" stop-color="#00acee"/><stop offset="0.368" stop-color="#00abee"/><stop offset="0.438" stop-color="#00aaee"/><stop offset="0.509" stop-color="#00a9ef"/><stop offset="0.579" stop-color="#00a8ef"/><stop offset="0.649" stop-color="#00a7ef"/><stop offset="0.719" stop-color="#00a6f0"/><stop offset="0.790" stop-color="#00a5f0"/><stop offset="0.860" stop-color="#00a4f1"/><stop offset="0.930" stop-color="#00a3f1"/><stop offset="1.000" stop-color="#00a2f1"/></linearGradient>
<linearGradient id="g1" gradientUnits="userSpaceOnUse" x1="119.7" y1="160.0" x2="35.2" y2="100.5"><stop offset="0.000" stop-color="#0183ff"/><stop offset="0.070" stop-color="#0184ff"/><stop offset="0.084" stop-color="#008ffa"/><stop offset="0.104" stop-color="#009ef3"/><stop offset="0.133" stop-color="#009ef3"/><stop offset="0.205" stop-color="#009ff3"/><stop offset="0.278" stop-color="#009ff3"/><stop offset="0.350" stop-color="#009ff3"/><stop offset="0.422" stop-color="#009ff3"/><stop offset="0.495" stop-color="#009ff3"/><stop offset="0.567" stop-color="#009ff2"/><stop offset="0.639" stop-color="#009ff2"/><stop offset="0.711" stop-color="#009ff2"/><stop offset="0.784" stop-color="#009ff2"/><stop offset="0.856" stop-color="#009ff2"/><stop offset="0.928" stop-color="#009ff2"/><stop offset="1.000" stop-color="#009ff2"/></linearGradient>
<linearGradient id="g0" gradientUnits="userSpaceOnUse" x1="119.2" y1="160.0" x2="34.7" y2="106.2"><stop offset="0.000" stop-color="#0089fd"/><stop offset="0.047" stop-color="#0088fd"/><stop offset="0.062" stop-color="#008cfb"/><stop offset="0.081" stop-color="#0091f9"/><stop offset="0.111" stop-color="#0091f9"/><stop offset="0.185" stop-color="#0091f9"/><stop offset="0.259" stop-color="#0090f9"/><stop offset="0.333" stop-color="#0090f9"/><stop offset="0.407" stop-color="#008ffa"/><stop offset="0.482" stop-color="#008ffa"/><stop offset="0.556" stop-color="#008efa"/><stop offset="0.630" stop-color="#008efa"/><stop offset="0.704" stop-color="#008dfb"/><stop offset="0.778" stop-color="#008dfb"/><stop offset="0.852" stop-color="#008cfb"/><stop offset="0.926" stop-color="#008bfc"/><stop offset="1.000" stop-color="#008bfc"/></linearGradient>
<linearGradient id="h0" x1="0" y1="1" x2="0" y2="0"><stop offset="0" stop-color="#009ff2"/><stop offset="0.0625" stop-color="#00a0f2"/><stop offset="0.125" stop-color="#00a1f2"/><stop offset="0.1875" stop-color="#00a2f1"/><stop offset="0.25" stop-color="#00a4f1"/><stop offset="0.3125" stop-color="#00a9ef"/><stop offset="0.375" stop-color="#00aeec"/><stop offset="0.4375" stop-color="#00b2e5"/><stop offset="0.5" stop-color="#00b5de"/><stop offset="0.5625" stop-color="#00b4df"/><stop offset="0.625" stop-color="#00b4e0"/><stop offset="0.6875" stop-color="#00b3e2"/><stop offset="0.75" stop-color="#00b2e3"/><stop offset="0.8125" stop-color="#00afea"/><stop offset="0.875" stop-color="#00aaee"/><stop offset="0.9375" stop-color="#00a6f0"/><stop offset="1" stop-color="#009ff2"/></linearGradient>
<linearGradient id="h1" x1="0" y1="1" x2="0" y2="0"><stop offset="0" stop-color="#00aaee"/><stop offset="0.0625" stop-color="#00aded"/><stop offset="0.125" stop-color="#00afea"/><stop offset="0.1875" stop-color="#00b1e7"/><stop offset="0.25" stop-color="#00b2e3"/><stop offset="0.3125" stop-color="#00b6db"/><stop offset="0.375" stop-color="#00bad3"/><stop offset="0.4375" stop-color="#00bec7"/><stop offset="0.5" stop-color="#00c2bc"/><stop offset="0.5625" stop-color="#00c1bf"/><stop offset="0.625" stop-color="#00c0c3"/><stop offset="0.6875" stop-color="#00bec7"/><stop offset="0.75" stop-color="#00bdcb"/><stop offset="0.8125" stop-color="#00bccf"/><stop offset="0.875" stop-color="#00bad3"/><stop offset="0.9375" stop-color="#00b9d5"/><stop offset="1" stop-color="#00b8d8"/></linearGradient>
<linearGradient id="h2" x1="0" y1="1" x2="0" y2="0"><stop offset="0" stop-color="#00b2e3"/><stop offset="0.0625" stop-color="#00b5dd"/><stop offset="0.125" stop-color="#00b8d7"/><stop offset="0.1875" stop-color="#00bbd0"/><stop offset="0.25" stop-color="#00bec7"/><stop offset="0.3125" stop-color="#00c3ba"/><stop offset="0.375" stop-color="#00c7ac"/><stop offset="0.4375" stop-color="#00c99e"/><stop offset="0.5" stop-color="#00cb90"/><stop offset="0.5625" stop-color="#00ca92"/><stop offset="0.625" stop-color="#00ca95"/><stop offset="0.6875" stop-color="#00ca97"/><stop offset="0.75" stop-color="#00c999"/><stop offset="0.8125" stop-color="#00cb90"/><stop offset="0.875" stop-color="#00cc87"/><stop offset="0.9375" stop-color="#01cd81"/><stop offset="1" stop-color="#03ce7a"/></linearGradient>
<linearGradient id="h3" x1="0" y1="1" x2="0" y2="0"><stop offset="0" stop-color="#00b9d7"/><stop offset="0.0625" stop-color="#00bdcb"/><stop offset="0.125" stop-color="#00c2bd"/><stop offset="0.1875" stop-color="#00c6b0"/><stop offset="0.25" stop-color="#00c8a1"/><stop offset="0.3125" stop-color="#00ca92"/><stop offset="0.375" stop-color="#00cc83"/><stop offset="0.4375" stop-color="#03ce7a"/><stop offset="0.5" stop-color="#06d070"/><stop offset="0.5625" stop-color="#06d06f"/><stop offset="0.625" stop-color="#07d06e"/><stop offset="0.6875" stop-color="#07d16e"/><stop offset="0.75" stop-color="#07d16d"/><stop offset="0.8125" stop-color="#14cf5f"/><stop offset="0.875" stop-color="#4ecc45"/><stop offset="0.9375" stop-color="#82cc25"/><stop offset="1" stop-color="#b5cc09"/></linearGradient>
<linearGradient id="h4" x1="0" y1="1" x2="0" y2="0"><stop offset="0" stop-color="#00bec7"/><stop offset="0.0625" stop-color="#00c5b4"/><stop offset="0.125" stop-color="#00c9a1"/><stop offset="0.1875" stop-color="#00cb8d"/><stop offset="0.25" stop-color="#02ce7d"/><stop offset="0.3125" stop-color="#05d073"/><stop offset="0.375" stop-color="#0bd068"/><stop offset="0.4375" stop-color="#31cd52"/><stop offset="0.5" stop-color="#78cc2c"/><stop offset="0.5625" stop-color="#96cc18"/><stop offset="0.625" stop-color="#a7cc10"/><stop offset="0.6875" stop-color="#b8cc07"/><stop offset="0.75" stop-color="#c9cc00"/><stop offset="0.8125" stop-color="#e0cc00"/><stop offset="0.875" stop-color="#f0c706"/><stop offset="0.9375" stop-color="#f9c20d"/><stop offset="1" stop-color="#ffc016"/></linearGradient>
<linearGradient id="h5" x1="0" y1="1" x2="0" y2="0"><stop offset="0" stop-color="#00c1be"/><stop offset="0.0625" stop-color="#00c8a5"/><stop offset="0.125" stop-color="#00cb8c"/><stop offset="0.1875" stop-color="#03ce79"/><stop offset="0.25" stop-color="#0ad169"/><stop offset="0.3125" stop-color="#30ce52"/><stop offset="0.375" stop-color="#79cc2b"/><stop offset="0.4375" stop-color="#afcc0c"/><stop offset="0.5" stop-color="#d1cc00"/><stop offset="0.5625" stop-color="#e3cc00"/><stop offset="0.625" stop-color="#eec805"/><stop offset="0.6875" stop-color="#f8c30b"/><stop offset="0.75" stop-color="#fcc112"/><stop offset="0.8125" stop-color="#ffbf16"/><stop offset="0.875" stop-color="#ffc215"/><stop offset="0.9375" stop-color="#ffc412"/><stop offset="1" stop-color="#ffc70f"/></linearGradient>
<linearGradient id="h6" x1="0" y1="1" x2="0" y2="0"><stop offset="0" stop-color="#00c2bd"/><stop offset="0.0625" stop-color="#00c8a3"/><stop offset="0.125" stop-color="#00cc88"/><stop offset="0.1875" stop-color="#05cf76"/><stop offset="0.25" stop-color="#13cf60"/><stop offset="0.3125" stop-color="#55cc42"/><stop offset="0.375" stop-color="#9ecc15"/><stop offset="0.4375" stop-color="#c8cc00"/><stop offset="0.5" stop-color="#e1cc00"/><stop offset="0.5625" stop-color="#eec805"/><stop offset="0.625" stop-color="#f8c30c"/><stop offset="0.6875" stop-color="#fdc014"/><stop offset="0.75" stop-color="#ffc214"/><stop offset="0.8125" stop-color="#ffc313"/><stop offset="0.875" stop-color="#ffc313"/><stop offset="0.9375" stop-color="#ffc413"/><stop offset="1" stop-color="#ffc412"/></linearGradient>
<linearGradient id="h7" x1="0" y1="1" x2="0" y2="0"><stop offset="0" stop-color="#00c1bf"/><stop offset="0.0625" stop-color="#00c8a5"/><stop offset="0.125" stop-color="#00cb8a"/><stop offset="0.1875" stop-color="#04cf77"/><stop offset="0.25" stop-color="#10cf63"/><stop offset="0.3125" stop-color="#4dcc45"/><stop offset="0.375" stop-color="#9acc16"/><stop offset="0.4375" stop-color="#c7cc00"/><stop offset="0.5" stop-color="#e1cc00"/><stop offset="0.5625" stop-color="#eec805"/><stop offset="0.625" stop-color="#f8c30c"/><stop offset="0.6875" stop-color="#fdc014"/><stop offset="0.75" stop-color="#ffc214"/><stop offset="0.8125" stop-color="#ffc214"/><stop offset="0.875" stop-color="#ffc214"/><stop offset="0.9375" stop-color="#ffc214"/><stop offset="1" stop-color="#ffc314"/></linearGradient>
<linearGradient id="h8" x1="0" y1="1" x2="0" y2="0"><stop offset="0" stop-color="#00bdca"/><stop offset="0.0625" stop-color="#00c6af"/><stop offset="0.125" stop-color="#00ca93"/><stop offset="0.1875" stop-color="#03ce7c"/><stop offset="0.25" stop-color="#09d16a"/><stop offset="0.3125" stop-color="#30ce52"/><stop offset="0.375" stop-color="#81cc26"/><stop offset="0.4375" stop-color="#b7cc08"/><stop offset="0.5" stop-color="#d8cc00"/><stop offset="0.5625" stop-color="#e9ca02"/><stop offset="0.625" stop-color="#f4c508"/><stop offset="0.6875" stop-color="#fbc10f"/><stop offset="0.75" stop-color="#ffbf17"/><stop offset="0.8125" stop-color="#ffc016"/><stop offset="0.875" stop-color="#ffc016"/><stop offset="0.9375" stop-color="#ffc115"/><stop offset="1" stop-color="#ffc115"/></linearGradient>
<linearGradient id="h9" x1="0" y1="1" x2="0" y2="0"><stop offset="0" stop-color="#00b9d6"/><stop offset="0.0625" stop-color="#00c1be"/><stop offset="0.125" stop-color="#00c8a4"/><stop offset="0.1875" stop-color="#00cb8a"/><stop offset="0.25" stop-color="#04cf77"/><stop offset="0.3125" stop-color="#07d16d"/><stop offset="0.375" stop-color="#1ace5c"/><stop offset="0.4375" stop-color="#60cc3b"/><stop offset="0.5" stop-color="#a2cc12"/><stop offset="0.5625" stop-color="#c3cc02"/><stop offset="0.625" stop-color="#d9cc00"/><stop offset="0.6875" stop-color="#eaca02"/><stop offset="0.75" stop-color="#f6c409"/><stop offset="0.8125" stop-color="#f8c30b"/><stop offset="0.875" stop-color="#f9c20c"/><stop offset="0.9375" stop-color="#fac20e"/><stop offset="1" stop-color="#fbc110"/></linearGradient>
<linearGradient id="h10" x1="0" y1="1" x2="0" y2="0"><stop offset="0" stop-color="#00b4e0"/><stop offset="0.0625" stop-color="#00bbd1"/><stop offset="0.125" stop-color="#00c2bb"/><stop offset="0.1875" stop-color="#00c8a5"/><stop offset="0.25" stop-color="#00cb8e"/><stop offset="0.3125" stop-color="#01cc82"/><stop offset="0.375" stop-color="#03ce7a"/><stop offset="0.4375" stop-color="#06d072"/><stop offset="0.5" stop-color="#09d169"/><stop offset="0.5625" stop-color="#27ce56"/><stop offset="0.625" stop-color="#67cc37"/><stop offset="0.6875" stop-color="#a1cc13"/><stop offset="0.75" stop-color="#c6cc00"/><stop offset="0.8125" stop-color="#cacc00"/><stop offset="0.875" stop-color="#cdcc00"/><stop offset="0.9375" stop-color="#cfcc00"/><stop offset="1" stop-color="#d3cc00"/></linearGradient>
<linearGradient id="h11" x1="0" y1="1" x2="0" y2="0"><stop offset="0" stop-color="#00afeb"/><stop offset="0.0625" stop-color="#00b4df"/><stop offset="0.125" stop-color="#00bad3"/><stop offset="0.1875" stop-color="#00c0c1"/><stop offset="0.25" stop-color="#00c6af"/><stop offset="0.3125" stop-color="#00c8a6"/><stop offset="0.375" stop-color="#00c99d"/><stop offset="0.4375" stop-color="#00ca94"/><stop offset="0.5" stop-color="#00cb8b"/><stop offset="0.5625" stop-color="#02cd7f"/><stop offset="0.625" stop-color="#04cf76"/><stop offset="0.6875" stop-color="#07d16c"/><stop offset="0.75" stop-color="#18ce5d"/><stop offset="0.8125" stop-color="#22ce58"/><stop offset="0.875" stop-color="#2cce54"/><stop offset="0.9375" stop-color="#34cd50"/><stop offset="1" stop-color="#40cd4b"/></linearGradient>
<linearGradient id="h12" x1="0" y1="1" x2="0" y2="0"><stop offset="0" stop-color="#00a6f0"/><stop offset="0.0625" stop-color="#00aeed"/><stop offset="0.125" stop-color="#00b2e4"/><stop offset="0.1875" stop-color="#00b7da"/><stop offset="0.25" stop-color="#00bbd0"/><stop offset="0.3125" stop-color="#00bec9"/><stop offset="0.375" stop-color="#00c0c3"/><stop offset="0.4375" stop-color="#00c2bc"/><stop offset="0.5" stop-color="#00c4b6"/><stop offset="0.5625" stop-color="#00c7aa"/><stop offset="0.625" stop-color="#00c99e"/><stop offset="0.6875" stop-color="#00ca92"/><stop offset="0.75" stop-color="#00cc86"/><stop offset="0.8125" stop-color="#01cc82"/><stop offset="0.875" stop-color="#02cd80"/><stop offset="0.9375" stop-color="#02cd7d"/><stop offset="1" stop-color="#03ce7a"/></linearGradient>
<linearGradient id="h13" x1="0" y1="1" x2="0" y2="0"><stop offset="0" stop-color="#009df3"/><stop offset="0.0625" stop-color="#00a2f1"/><stop offset="0.125" stop-color="#00a8ef"/><stop offset="0.1875" stop-color="#00aded"/><stop offset="0.25" stop-color="#00b1e6"/><stop offset="0.3125" stop-color="#00b3e2"/><stop offset="0.375" stop-color="#00b5de"/><stop offset="0.4375" stop-color="#00b7d9"/><stop offset="0.5" stop-color="#00b9d5"/><stop offset="0.5625" stop-color="#00bbd1"/><stop offset="0.625" stop-color="#00bdcb"/><stop offset="0.6875" stop-color="#00bfc6"/><stop offset="0.75" stop-color="#00c1c0"/><stop offset="0.8125" stop-color="#00c3b9"/><stop offset="0.875" stop-color="#00c6b1"/><stop offset="0.9375" stop-color="#00c7aa"/><stop offset="1" stop-color="#00c9a0"/></linearGradient>
<linearGradient id="h14" x1="0" y1="1" x2="0" y2="0"><stop offset="0" stop-color="#0094f7"/><stop offset="0.0625" stop-color="#0098f5"/><stop offset="0.125" stop-color="#009cf4"/><stop offset="0.1875" stop-color="#00a1f2"/><stop offset="0.25" stop-color="#00a5f0"/><stop offset="0.3125" stop-color="#00a8ef"/><stop offset="0.375" stop-color="#00abee"/><stop offset="0.4375" stop-color="#00aeed"/><stop offset="0.5" stop-color="#00b0e9"/><stop offset="0.5625" stop-color="#00b0e8"/><stop offset="0.625" stop-color="#00b0e7"/><stop offset="0.6875" stop-color="#00b1e6"/><stop offset="0.75" stop-color="#00b1e5"/><stop offset="0.8125" stop-color="#00b4e0"/><stop offset="0.875" stop-color="#00b7da"/><stop offset="0.9375" stop-color="#00bad5"/><stop offset="1" stop-color="#00bdcb"/></linearGradient>
<linearGradient id="h15" x1="0" y1="1" x2="0" y2="0"><stop offset="0" stop-color="#008afc"/><stop offset="0.0625" stop-color="#008efa"/><stop offset="0.125" stop-color="#0092f9"/><stop offset="0.1875" stop-color="#0095f7"/><stop offset="0.25" stop-color="#0099f5"/><stop offset="0.3125" stop-color="#009bf4"/><stop offset="0.375" stop-color="#009ef3"/><stop offset="0.4375" stop-color="#00a0f2"/><stop offset="0.5" stop-color="#00a3f1"/><stop offset="0.5625" stop-color="#00a2f1"/><stop offset="0.625" stop-color="#00a1f2"/><stop offset="0.6875" stop-color="#00a0f2"/><stop offset="0.75" stop-color="#009ff3"/><stop offset="0.8125" stop-color="#00a4f1"/><stop offset="0.875" stop-color="#00a9ef"/><stop offset="0.9375" stop-color="#00aded"/><stop offset="1" stop-color="#00b1e6"/></linearGradient>
<linearGradient id="h16" x1="0" y1="1" x2="0" y2="0"><stop offset="0" stop-color="#0382ff"/><stop offset="0.0625" stop-color="#0085ff"/><stop offset="0.125" stop-color="#0088fd"/><stop offset="0.1875" stop-color="#008afc"/><stop offset="0.25" stop-color="#008dfb"/><stop offset="0.3125" stop-color="#008ffa"/><stop offset="0.375" stop-color="#0092f8"/><stop offset="0.4375" stop-color="#0094f7"/><stop offset="0.5" stop-color="#0096f6"/><stop offset="0.5625" stop-color="#0094f7"/><stop offset="0.625" stop-color="#0092f8"/><stop offset="0.6875" stop-color="#0090f9"/><stop offset="0.75" stop-color="#008efa"/><stop offset="0.8125" stop-color="#0093f8"/><stop offset="0.875" stop-color="#0098f5"/><stop offset="0.9375" stop-color="#009cf4"/><stop offset="1" stop-color="#00a2f1"/></linearGradient>
<linearGradient id="h17" x1="0" y1="1" x2="0" y2="0"><stop offset="0" stop-color="#0d7aff"/><stop offset="0.0625" stop-color="#0b7cff"/><stop offset="0.125" stop-color="#087eff"/><stop offset="0.1875" stop-color="#0680ff"/><stop offset="0.25" stop-color="#0382ff"/><stop offset="0.3125" stop-color="#0084ff"/><stop offset="0.375" stop-color="#0086fe"/><stop offset="0.4375" stop-color="#0088fd"/><stop offset="0.5" stop-color="#008afc"/><stop offset="0.5625" stop-color="#0089fd"/><stop offset="0.625" stop-color="#0087fe"/><stop offset="0.6875" stop-color="#0085ff"/><stop offset="0.75" stop-color="#0184ff"/><stop offset="0.8125" stop-color="#0088fd"/><stop offset="0.875" stop-color="#008dfb"/><stop offset="0.9375" stop-color="#0090f9"/><stop offset="1" stop-color="#0095f7"/></linearGradient>
<linearGradient id="h18" x1="0" y1="1" x2="0" y2="0"><stop offset="0" stop-color="#1b72ff"/><stop offset="0.0625" stop-color="#1973ff"/><stop offset="0.125" stop-color="#1675ff"/><stop offset="0.1875" stop-color="#1376ff"/><stop offset="0.25" stop-color="#1177ff"/><stop offset="0.3125" stop-color="#0d7aff"/><stop offset="0.375" stop-color="#0a7cff"/><stop offset="0.4375" stop-color="#087eff"/><stop offset="0.5" stop-color="#0581ff"/><stop offset="0.5625" stop-color="#077fff"/><stop offset="0.625" stop-color="#0a7dff"/><stop offset="0.6875" stop-color="#0c7bff"/><stop offset="0.75" stop-color="#0f79ff"/><stop offset="0.8125" stop-color="#087eff"/><stop offset="0.875" stop-color="#0283ff"/><stop offset="0.9375" stop-color="#0087fe"/><stop offset="1" stop-color="#008cfb"/></linearGradient>
<linearGradient id="h19" x1="0" y1="1" x2="0" y2="0"><stop offset="0" stop-color="#276cff"/><stop offset="0.0625" stop-color="#266cff"/><stop offset="0.125" stop-color="#256dff"/><stop offset="0.1875" stop-color="#246eff"/><stop offset="0.25" stop-color="#236eff"/><stop offset="0.3125" stop-color="#1d71ff"/><stop offset="0.375" stop-color="#1874ff"/><stop offset="0.4375" stop-color="#1276ff"/><stop offset="0.5" stop-color="#0e79ff"/><stop offset="0.5625" stop-color="#1276ff"/><stop offset="0.625" stop-color="#1874ff"/><stop offset="0.6875" stop-color="#1d71ff"/><stop offset="0.75" stop-color="#236eff"/><stop offset="0.8125" stop-color="#1873ff"/><stop offset="0.875" stop-color="#0e79ff"/><stop offset="0.9375" stop-color="#097dff"/><stop offset="1" stop-color="#0184ff"/></linearGradient>
<linearGradient id="h20" x1="0" y1="1" x2="0" y2="0"><stop offset="0" stop-color="#2b69ff"/><stop offset="0.0625" stop-color="#2b69ff"/><stop offset="0.125" stop-color="#2b69ff"/><stop offset="0.1875" stop-color="#2b69ff"/><stop offset="0.25" stop-color="#2a69ff"/><stop offset="0.3125" stop-color="#276cff"/><stop offset="0.375" stop-color="#236eff"/><stop offset="0.4375" stop-color="#1f70ff"/><stop offset="0.5" stop-color="#1b72ff"/><stop offset="0.5625" stop-color="#206fff"/><stop offset="0.625" stop-color="#266dff"/><stop offset="0.6875" stop-color="#2a6aff"/><stop offset="0.75" stop-color="#2d67ff"/><stop offset="0.8125" stop-color="#276cff"/><stop offset="0.875" stop-color="#1d71ff"/><stop offset="0.9375" stop-color="#1575ff"/><stop offset="1" stop-color="#0c7bff"/></linearGradient>
<linearGradient id="h21" x1="0" y1="1" x2="0" y2="0"><stop offset="0" stop-color="#2d67ff"/><stop offset="0.0625" stop-color="#2d67ff"/><stop offset="0.125" stop-color="#2d67ff"/><stop offset="0.1875" stop-color="#2d67ff"/><stop offset="0.25" stop-color="#2d67ff"/><stop offset="0.3125" stop-color="#2b68ff"/><stop offset="0.375" stop-color="#2a6aff"/><stop offset="0.4375" stop-color="#286bff"/><stop offset="0.5" stop-color="#266dff"/><stop offset="0.5625" stop-color="#2a6aff"/><stop offset="0.625" stop-color="#2d67ff"/><stop offset="0.6875" stop-color="#3064ff"/><stop offset="0.75" stop-color="#3361ff"/><stop offset="0.8125" stop-color="#2d67ff"/><stop offset="0.875" stop-color="#256dff"/><stop offset="0.9375" stop-color="#1d71ff"/><stop offset="1" stop-color="#1177ff"/></linearGradient>
<linearGradient id="h22" x1="0" y1="1" x2="0" y2="0"><stop offset="0" stop-color="#2e66ff"/><stop offset="0.0625" stop-color="#2e66ff"/><stop offset="0.125" stop-color="#2e66ff"/><stop offset="0.1875" stop-color="#2e66ff"/><stop offset="0.25" stop-color="#2e66ff"/><stop offset="0.3125" stop-color="#2d67ff"/><stop offset="0.375" stop-color="#2b69ff"/><stop offset="0.4375" stop-color="#2a6aff"/><stop offset="0.5" stop-color="#296bff"/><stop offset="0.5625" stop-color="#2c68ff"/><stop offset="0.625" stop-color="#2f65ff"/><stop offset="0.6875" stop-color="#3262ff"/><stop offset="0.75" stop-color="#355eff"/><stop offset="0.8125" stop-color="#2f65ff"/><stop offset="0.875" stop-color="#296bff"/><stop offset="0.9375" stop-color="#206fff"/><stop offset="1" stop-color="#1476ff"/></linearGradient>
<linearGradient id="h23" x1="0" y1="1" x2="0" y2="0"><stop offset="0" stop-color="#2d67ff"/><stop offset="0.0625" stop-color="#2d67ff"/><stop offset="0.125" stop-color="#2d67ff"/><stop offset="0.1875" stop-color="#2d67ff"/><stop offset="0.25" stop-color="#2d67ff"/><stop offset="0.3125" stop-color="#2c68ff"/><stop offset="0.375" stop-color="#2b69ff"/><stop offset="0.4375" stop-color="#2a6aff"/><stop offset="0.5" stop-color="#296bff"/><stop offset="0.5625" stop-color="#2b69ff"/><stop offset="0.625" stop-color="#2d67ff"/><stop offset="0.6875" stop-color="#2f64ff"/><stop offset="0.75" stop-color="#3262ff"/><stop offset="0.8125" stop-color="#2d67ff"/><stop offset="0.875" stop-color="#276cff"/><stop offset="0.9375" stop-color="#206fff"/><stop offset="1" stop-color="#1675ff"/></linearGradient>
<linearGradient id="h24" x1="0" y1="1" x2="0" y2="0"><stop offset="0" stop-color="#2c68ff"/><stop offset="0.0625" stop-color="#2b69ff"/><stop offset="0.125" stop-color="#2b69ff"/><stop offset="0.1875" stop-color="#2b69ff"/><stop offset="0.25" stop-color="#2b69ff"/><stop offset="0.3125" stop-color="#2a6aff"/><stop offset="0.375" stop-color="#2a6aff"/><stop offset="0.4375" stop-color="#296bff"/><stop offset="0.5" stop-color="#296bff"/><stop offset="0.5625" stop-color="#296bff"/><stop offset="0.625" stop-color="#2a6aff"/><stop offset="0.6875" stop-color="#2b69ff"/><stop offset="0.75" stop-color="#2b68ff"/><stop offset="0.8125" stop-color="#286cff"/><stop offset="0.875" stop-color="#226eff"/><stop offset="0.9375" stop-color="#1e71ff"/><stop offset="1" stop-color="#1774ff"/></linearGradient>
<linearGradient id="h25" x1="0" y1="1" x2="0" y2="0"><stop offset="0" stop-color="#296bff"/><stop offset="0.0625" stop-color="#276cff"/><stop offset="0.125" stop-color="#266dff"/><stop offset="0.1875" stop-color="#246dff"/><stop offset="0.25" stop-color="#236eff"/><stop offset="0.3125" stop-color="#236eff"/><stop offset="0.375" stop-color="#236eff"/><stop offset="0.4375" stop-color="#236eff"/><stop offset="0.5" stop-color="#236eff"/><stop offset="0.5625" stop-color="#216fff"/><stop offset="0.625" stop-color="#1f70ff"/><stop offset="0.6875" stop-color="#1d71ff"/><stop offset="0.75" stop-color="#1b72ff"/><stop offset="0.8125" stop-color="#1873ff"/><stop offset="0.875" stop-color="#1575ff"/><stop offset="0.9375" stop-color="#1376ff"/><stop offset="1" stop-color="#1078ff"/></linearGradient>
<linearGradient id="h26" x1="0" y1="1" x2="0" y2="0"><stop offset="0" stop-color="#1c71ff"/><stop offset="0.0625" stop-color="#1873ff"/><stop offset="0.125" stop-color="#1475ff"/><stop offset="0.1875" stop-color="#1077ff"/><stop offset="0.25" stop-color="#0d79ff"/><stop offset="0.3125" stop-color="#0e79ff"/><stop offset="0.375" stop-color="#0e79ff"/><stop offset="0.4375" stop-color="#0f78ff"/><stop offset="0.5" stop-color="#0f78ff"/><stop offset="0.5625" stop-color="#0d7aff"/><stop offset="0.625" stop-color="#0b7cff"/><stop offset="0.6875" stop-color="#087eff"/><stop offset="0.75" stop-color="#0680ff"/><stop offset="0.8125" stop-color="#0680ff"/><stop offset="0.875" stop-color="#0580ff"/><stop offset="0.9375" stop-color="#0580ff"/><stop offset="1" stop-color="#0580ff"/></linearGradient>
<linearGradient id="h27" x1="0" y1="1" x2="0" y2="0"><stop offset="0" stop-color="#0b7cff"/><stop offset="0.0625" stop-color="#087eff"/><stop offset="0.125" stop-color="#0481ff"/><stop offset="0.1875" stop-color="#0184ff"/><stop offset="0.25" stop-color="#0086fe"/><stop offset="0.3125" stop-color="#0086ff"/><stop offset="0.375" stop-color="#0085ff"/><stop offset="0.4375" stop-color="#0084ff"/><stop offset="0.5" stop-color="#0184ff"/><stop offset="0.5625" stop-color="#0086fe"/><stop offset="0.625" stop-color="#0088fd"/><stop offset="0.6875" stop-color="#008afc"/><stop offset="0.75" stop-color="#008cfb"/><stop offset="0.8125" stop-color="#008bfc"/><stop offset="0.875" stop-color="#008afc"/><stop offset="0.9375" stop-color="#008afc"/><stop offset="1" stop-color="#0089fd"/></linearGradient>
<linearGradient id="h28" x1="0" y1="1" x2="0" y2="0"><stop offset="0" stop-color="#0086fe"/><stop offset="0.0625" stop-color="#0089fd"/><stop offset="0.125" stop-color="#008bfc"/><stop offset="0.1875" stop-color="#008efa"/><stop offset="0.25" stop-color="#0091f9"/><stop offset="0.3125" stop-color="#0090f9"/><stop offset="0.375" stop-color="#008ffa"/><stop offset="0.4375" stop-color="#008efa"/><stop offset="0.5" stop-color="#008dfb"/><stop offset="0.5625" stop-color="#008ffa"/><stop offset="0.625" stop-color="#0091f9"/><stop offset="0.6875" stop-color="#0093f8"/><stop offset="0.75" stop-color="#0096f7"/><stop offset="0.8125" stop-color="#0095f7"/><stop offset="0.875" stop-color="#0094f7"/><stop offset="0.9375" stop-color="#0094f7"/><stop offset="1" stop-color="#0093f8"/></linearGradient>
<linearGradient id="h29" x1="0" y1="1" x2="0" y2="0"><stop offset="0" stop-color="#008efa"/><stop offset="0.0625" stop-color="#0091f9"/><stop offset="0.125" stop-color="#0095f7"/><stop offset="0.1875" stop-color="#0098f5"/><stop offset="0.25" stop-color="#009cf4"/><stop offset="0.3125" stop-color="#009af4"/><stop offset="0.375" stop-color="#0099f5"/><stop offset="0.4375" stop-color="#0098f5"/><stop offset="0.5" stop-color="#0097f6"/><stop offset="0.5625" stop-color="#0099f5"/><stop offset="0.625" stop-color="#009bf4"/><stop offset="0.6875" stop-color="#009df3"/><stop offset="0.75" stop-color="#009ff3"/><stop offset="0.8125" stop-color="#00a0f2"/><stop offset="0.875" stop-color="#00a1f2"/><stop offset="0.9375" stop-color="#00a1f2"/><stop offset="1" stop-color="#00a3f1"/></linearGradient>
<linearGradient id="h30" x1="0" y1="1" x2="0" y2="0"><stop offset="0" stop-color="#0094f7"/><stop offset="0.0625" stop-color="#0099f5"/><stop offset="0.125" stop-color="#009df3"/><stop offset="0.1875" stop-color="#00a2f1"/><stop offset="0.25" stop-color="#00a6f0"/><stop offset="0.3125" stop-color="#00a5f0"/><stop offset="0.375" stop-color="#00a3f1"/><stop offset="0.4375" stop-color="#00a2f1"/><stop offset="0.5" stop-color="#00a0f2"/><stop offset="0.5625" stop-color="#00a2f1"/><stop offset="0.625" stop-color="#00a4f1"/><stop offset="0.6875" stop-color="#00a6f0"/><stop offset="0.75" stop-color="#00a8ef"/><stop offset="0.8125" stop-color="#00abee"/><stop offset="0.875" stop-color="#00aded"/><stop offset="0.9375" stop-color="#00afea"/><stop offset="1" stop-color="#00b1e6"/></linearGradient>
<linearGradient id="h31" x1="0" y1="1" x2="0" y2="0"><stop offset="0" stop-color="#009af4"/><stop offset="0.0625" stop-color="#00a0f2"/><stop offset="0.125" stop-color="#00a5f0"/><stop offset="0.1875" stop-color="#00abee"/><stop offset="0.25" stop-color="#00afea"/><stop offset="0.3125" stop-color="#00aeec"/><stop offset="0.375" stop-color="#00aded"/><stop offset="0.4375" stop-color="#00abee"/><stop offset="0.5" stop-color="#00aaee"/><stop offset="0.5625" stop-color="#00acee"/><stop offset="0.625" stop-color="#00aded"/><stop offset="0.6875" stop-color="#00aeeb"/><stop offset="0.75" stop-color="#00b0e9"/><stop offset="0.8125" stop-color="#00b3e2"/><stop offset="0.875" stop-color="#00b7db"/><stop offset="0.9375" stop-color="#00b9d5"/><stop offset="1" stop-color="#00bec9"/></linearGradient>
<linearGradient id="h32" x1="0" y1="1" x2="0" y2="0"><stop offset="0" stop-color="#00a0f2"/><stop offset="0.0625" stop-color="#00a6f0"/><stop offset="0.125" stop-color="#00acee"/><stop offset="0.1875" stop-color="#00b1e7"/><stop offset="0.25" stop-color="#00b4df"/><stop offset="0.3125" stop-color="#00b4e1"/><stop offset="0.375" stop-color="#00b3e3"/><stop offset="0.4375" stop-color="#00b2e4"/><stop offset="0.5" stop-color="#00b1e6"/><stop offset="0.5625" stop-color="#00b2e4"/><stop offset="0.625" stop-color="#00b3e2"/><stop offset="0.6875" stop-color="#00b4e0"/><stop offset="0.75" stop-color="#00b5dd"/><stop offset="0.8125" stop-color="#00bbd1"/><stop offset="0.875" stop-color="#00c0c1"/><stop offset="0.9375" stop-color="#00c5b4"/><stop offset="1" stop-color="#00c99f"/></linearGradient>
<linearGradient id="h33" x1="0" y1="1" x2="0" y2="0"><stop offset="0" stop-color="#00a6f0"/><stop offset="0.0625" stop-color="#00aded"/><stop offset="0.125" stop-color="#00b1e6"/><stop offset="0.1875" stop-color="#00b5dd"/><stop offset="0.25" stop-color="#00bad5"/><stop offset="0.3125" stop-color="#00b9d6"/><stop offset="0.375" stop-color="#00b8d8"/><stop offset="0.4375" stop-color="#00b7d9"/><stop offset="0.5" stop-color="#00b7db"/><stop offset="0.5625" stop-color="#00b8d9"/><stop offset="0.625" stop-color="#00b9d7"/><stop offset="0.6875" stop-color="#00bad4"/><stop offset="0.75" stop-color="#00bbd0"/><stop offset="0.8125" stop-color="#00c3ba"/><stop offset="0.875" stop-color="#00c8a3"/><stop offset="0.9375" stop-color="#00cb8f"/><stop offset="1" stop-color="#03ce7a"/></linearGradient>
<linearGradient id="h34" x1="0" y1="1" x2="0" y2="0"><stop offset="0" stop-color="#00abee"/><stop offset="0.0625" stop-color="#00b0e7"/><stop offset="0.125" stop-color="#00b5de"/><stop offset="0.1875" stop-color="#00bad4"/><stop offset="0.25" stop-color="#00bfc6"/><stop offset="0.3125" stop-color="#00bec8"/><stop offset="0.375" stop-color="#00bdca"/><stop offset="0.4375" stop-color="#00bdcc"/><stop offset="0.5" stop-color="#00bccd"/><stop offset="0.5625" stop-color="#00bec9"/><stop offset="0.625" stop-color="#00bfc5"/><stop offset="0.6875" stop-color="#00c1c0"/><stop offset="0.75" stop-color="#00c3ba"/><stop offset="0.8125" stop-color="#00c99e"/><stop offset="0.875" stop-color="#01cd82"/><stop offset="0.9375" stop-color="#05cf73"/><stop offset="1" stop-color="#3fcd4b"/></linearGradient>
<linearGradient id="h35" x1="0" y1="1" x2="0" y2="0"><stop offset="0" stop-color="#00aeed"/><stop offset="0.0625" stop-color="#00b3e2"/><stop offset="0.125" stop-color="#00b9d6"/><stop offset="0.1875" stop-color="#00bec7"/><stop offset="0.25" stop-color="#00c4b7"/><stop offset="0.3125" stop-color="#00c3b8"/><stop offset="0.375" stop-color="#00c3b9"/><stop offset="0.4375" stop-color="#00c3ba"/><stop offset="0.5" stop-color="#00c2bb"/><stop offset="0.5625" stop-color="#00c4b5"/><stop offset="0.625" stop-color="#00c6af"/><stop offset="0.6875" stop-color="#00c8a6"/><stop offset="0.75" stop-color="#00c99d"/><stop offset="0.8125" stop-color="#02cd7f"/><stop offset="0.875" stop-color="#09d16a"/><stop offset="0.9375" stop-color="#57cc41"/><stop offset="1" stop-color="#d1cc00"/></linearGradient>
<linearGradient id="h36" x1="0" y1="1" x2="0" y2="0"><stop offset="0" stop-color="#00b0e9"/><stop offset="0.0625" stop-color="#00b6dc"/><stop offset="0.125" stop-color="#00bccd"/><stop offset="0.1875" stop-color="#00c3ba"/><stop offset="0.25" stop-color="#00c8a7"/><stop offset="0.3125" stop-color="#00c8a7"/><stop offset="0.375" stop-color="#00c8a7"/><stop offset="0.4375" stop-color="#00c8a7"/><stop offset="0.5" stop-color="#00c8a7"/><stop offset="0.5625" stop-color="#00c99e"/><stop offset="0.625" stop-color="#00ca95"/><stop offset="0.6875" stop-color="#00cb89"/><stop offset="0.75" stop-color="#01cd80"/><stop offset="0.8125" stop-color="#0ad168"/><stop offset="0.875" stop-color="#88cc21"/><stop offset="0.9375" stop-color="#cfcc00"/><stop offset="1" stop-color="#fac20f"/></linearGradient>
<linearGradient id="h37" x1="0" y1="1" x2="0" y2="0"><stop offset="0" stop-color="#00b1e5"/><stop offset="0.0625" stop-color="#00b8d7"/><stop offset="0.125" stop-color="#00bfc4"/><stop offset="0.1875" stop-color="#00c6af"/><stop offset="0.25" stop-color="#00c999"/><stop offset="0.3125" stop-color="#00ca97"/><stop offset="0.375" stop-color="#00ca95"/><stop offset="0.4375" stop-color="#00ca93"/><stop offset="0.5" stop-color="#00ca92"/><stop offset="0.5625" stop-color="#00cc87"/><stop offset="0.625" stop-color="#02cd80"/><stop offset="0.6875" stop-color="#04cf76"/><stop offset="0.75" stop-color="#07d16d"/><stop offset="0.8125" stop-color="#66cc38"/><stop offset="0.875" stop-color="#cecc00"/><stop offset="0.9375" stop-color="#f0c706"/><stop offset="1" stop-color="#ffc412"/></linearGradient>
<linearGradient id="h38" x1="0" y1="1" x2="0" y2="0"><stop offset="0" stop-color="#00b3e1"/><stop offset="0.0625" stop-color="#00bad3"/><stop offset="0.125" stop-color="#00c1be"/><stop offset="0.1875" stop-color="#00c8a8"/><stop offset="0.25" stop-color="#00ca92"/><stop offset="0.3125" stop-color="#00cb8d"/><stop offset="0.375" stop-color="#00cc88"/><stop offset="0.4375" stop-color="#00cc84"/><stop offset="0.5" stop-color="#01cd81"/><stop offset="0.5625" stop-color="#03ce7a"/><stop offset="0.625" stop-color="#05d073"/><stop offset="0.6875" stop-color="#0cd067"/><stop offset="0.75" stop-color="#39cd4e"/><stop offset="0.8125" stop-color="#b3cc0a"/><stop offset="0.875" stop-color="#e9ca02"/><stop offset="0.9375" stop-color="#fbc110"/><stop offset="1" stop-color="#ffcc0c"/></linearGradient>
<linearGradient id="h39" x1="0" y1="1" x2="0" y2="0"><stop offset="0" stop-color="#00b5de"/><stop offset="0.0625" stop-color="#00bccf"/><stop offset="0.125" stop-color="#00c3ba"/><stop offset="0.1875" stop-color="#00c8a4"/><stop offset="0.25" stop-color="#00cb8e"/><stop offset="0.3125" stop-color="#00cc87"/><stop offset="0.375" stop-color="#01cd81"/><stop offset="0.4375" stop-color="#02ce7d"/><stop offset="0.5" stop-color="#04ce78"/><stop offset="0.5625" stop-color="#06d072"/><stop offset="0.625" stop-color="#08d16a"/><stop offset="0.6875" stop-color="#2cce54"/><stop offset="0.75" stop-color="#79cc2b"/><stop offset="0.8125" stop-color="#cecc00"/><stop offset="0.875" stop-color="#f3c508"/><stop offset="0.9375" stop-color="#ffbf16"/><stop offset="1" stop-color="#ffd208"/></linearGradient>
<linearGradient id="h40" x1="0" y1="1" x2="0" y2="0"><stop offset="0" stop-color="#00b5de"/><stop offset="0.0625" stop-color="#00bccd"/><stop offset="0.125" stop-color="#00c3b8"/><stop offset="0.1875" stop-color="#00c8a1"/><stop offset="0.25" stop-color="#00cb8a"/><stop offset="0.3125" stop-color="#01cc82"/><stop offset="0.375" stop-color="#02ce7d"/><stop offset="0.4375" stop-color="#04cf77"/><stop offset="0.5" stop-color="#06d071"/><stop offset="0.5625" stop-color="#08d16b"/><stop offset="0.625" stop-color="#13cf60"/><stop offset="0.6875" stop-color="#58cc41"/><stop offset="0.75" stop-color="#a0cc13"/><stop offset="0.8125" stop-color="#dacc00"/><stop offset="0.875" stop-color="#f8c30a"/><stop offset="0.9375" stop-color="#ffc016"/><stop offset="1" stop-color="#ffd307"/></linearGradient>
<linearGradient id="h41" x1="0" y1="1" x2="0" y2="0"><stop offset="0" stop-color="#00b5de"/><stop offset="0.0625" stop-color="#00bdcc"/><stop offset="0.125" stop-color="#00c4b6"/><stop offset="0.1875" stop-color="#00c99e"/><stop offset="0.25" stop-color="#00cc86"/><stop offset="0.3125" stop-color="#02cd7f"/><stop offset="0.375" stop-color="#04ce78"/><stop offset="0.4375" stop-color="#06d071"/><stop offset="0.5" stop-color="#09d16a"/><stop offset="0.5625" stop-color="#12cf61"/><stop offset="0.625" stop-color="#30ce52"/><stop offset="0.6875" stop-color="#7ecc27"/><stop offset="0.75" stop-color="#b4cc09"/><stop offset="0.8125" stop-color="#e3cc00"/><stop offset="0.875" stop-color="#f9c20d"/><stop offset="0.9375" stop-color="#ffc115"/><stop offset="1" stop-color="#ffd307"/></linearGradient>
<linearGradient id="h42" x1="0" y1="1" x2="0" y2="0"><stop offset="0" stop-color="#00b5de"/><stop offset="0.0625" stop-color="#00bdcc"/><stop offset="0.125" stop-color="#00c5b4"/><stop offset="0.1875" stop-color="#00c99c"/><stop offset="0.25" stop-color="#00cc83"/><stop offset="0.3125" stop-color="#03ce7c"/><stop offset="0.375" stop-color="#05cf75"/><stop offset="0.4375" stop-color="#07d16e"/><stop offset="0.5" stop-color="#10cf63"/><stop offset="0.5625" stop-color="#23ce58"/><stop offset="0.625" stop-color="#45cd49"/><stop offset="0.6875" stop-color="#95cc19"/><stop offset="0.75" stop-color="#c0cc04"/><stop offset="0.8125" stop-color="#e6cc00"/><stop offset="0.875" stop-color="#f9c20d"/><stop offset="0.9375" stop-color="#ffc016"/><stop offset="1" stop-color="#ffd009"/></linearGradient>
<linearGradient id="h43" x1="0" y1="1" x2="0" y2="0"><stop offset="0" stop-color="#00b5de"/><stop offset="0.0625" stop-color="#00bdcb"/><stop offset="0.125" stop-color="#00c5b3"/><stop offset="0.1875" stop-color="#00c999"/><stop offset="0.25" stop-color="#01cd81"/><stop offset="0.3125" stop-color="#03ce7a"/><stop offset="0.375" stop-color="#06d072"/><stop offset="0.4375" stop-color="#08d16a"/><stop offset="0.5" stop-color="#16ce5e"/><stop offset="0.5625" stop-color="#35cd50"/><stop offset="0.625" stop-color="#55cc42"/><stop offset="0.6875" stop-color="#9ecc14"/><stop offset="0.75" stop-color="#c8cc00"/><stop offset="0.8125" stop-color="#e7cb01"/><stop offset="0.875" stop-color="#f8c30c"/><stop offset="0.9375" stop-color="#fec016"/><stop offset="1" stop-color="#ffc90e"/></linearGradient>
<linearGradient id="h44" x1="0" y1="1" x2="0" y2="0"><stop offset="0" stop-color="#00b5de"/><stop offset="0.0625" stop-color="#00bdca"/><stop offset="0.125" stop-color="#00c5b2"/><stop offset="0.1875" stop-color="#00ca98"/><stop offset="0.25" stop-color="#01cd81"/><stop offset="0.3125" stop-color="#04ce79"/><stop offset="0.375" stop-color="#06d071"/><stop offset="0.4375" stop-color="#0ad169"/><stop offset="0.5" stop-color="#1fce5a"/><stop offset="0.5625" stop-color="#3dcd4c"/><stop offset="0.625" stop-color="#5ccc3e"/><stop offset="0.6875" stop-color="#a2cc12"/><stop offset="0.75" stop-color="#cbcc00"/><stop offset="0.8125" stop-color="#e6cc00"/><stop offset="0.875" stop-color="#f6c40a"/><stop offset="0.9375" stop-color="#fcc113"/><stop offset="1" stop-color="#ffc511"/></linearGradient>
<linearGradient id="h45" x1="0" y1="1" x2="0" y2="0"><stop offset="0" stop-color="#00b5de"/><stop offset="0.0625" stop-color="#00bdcb"/><stop offset="0.125" stop-color="#00c5b3"/><stop offset="0.1875" stop-color="#00c99a"/><stop offset="0.25" stop-color="#01cd82"/><stop offset="0.3125" stop-color="#03ce7a"/><stop offset="0.375" stop-color="#05d073"/><stop offset="0.4375" stop-color="#08d16a"/><stop offset="0.5" stop-color="#18ce5d"/><stop offset="0.5625" stop-color="#36cd4f"/><stop offset="0.625" stop-color="#54cc42"/><stop offset="0.6875" stop-color="#9ecc15"/><stop offset="0.75" stop-color="#c8cc00"/><stop offset="0.8125" stop-color="#e3cc00"/><stop offset="0.875" stop-color="#f3c508"/><stop offset="0.9375" stop-color="#fbc110"/><stop offset="1" stop-color="#ffc313"/></linearGradient>
<linearGradient id="h46" x1="0" y1="1" x2="0" y2="0"><stop offset="0" stop-color="#00b5de"/><stop offset="0.0625" stop-color="#00bdcc"/><stop offset="0.125" stop-color="#00c4b5"/><stop offset="0.1875" stop-color="#00c99d"/><stop offset="0.25" stop-color="#00cc84"/><stop offset="0.3125" stop-color="#03ce7c"/><stop offset="0.375" stop-color="#05cf74"/><stop offset="0.4375" stop-color="#07d16c"/><stop offset="0.5" stop-color="#13cf60"/><stop offset="0.5625" stop-color="#2cce54"/><stop offset="0.625" stop-color="#4bcd46"/><stop offset="0.6875" stop-color="#98cc18"/><stop offset="0.75" stop-color="#c2cc02"/><stop offset="0.8125" stop-color="#dfcc00"/><stop offset="0.875" stop-color="#f1c607"/><stop offset="0.9375" stop-color="#fac20e"/><stop offset="1" stop-color="#ffc214"/></linearGradient>
<linearGradient id="h47" x1="0" y1="1" x2="0" y2="0"><stop offset="0" stop-color="#00b4e0"/><stop offset="0.0625" stop-color="#00bccf"/><stop offset="0.125" stop-color="#00c3b8"/><stop offset="0.1875" stop-color="#00c9a0"/><stop offset="0.25" stop-color="#00cc87"/><stop offset="0.3125" stop-color="#02cd7e"/><stop offset="0.375" stop-color="#04cf77"/><stop offset="0.4375" stop-color="#06d06f"/><stop offset="0.5" stop-color="#0ed065"/><stop offset="0.5625" stop-color="#1bce5b"/><stop offset="0.625" stop-color="#3dcd4c"/><stop offset="0.6875" stop-color="#8acc20"/><stop offset="0.75" stop-color="#b9cc07"/><stop offset="0.8125" stop-color="#d9cc00"/><stop offset="0.875" stop-color="#eec805"/><stop offset="0.9375" stop-color="#f9c20c"/><stop offset="1" stop-color="#ffc115"/></linearGradient>
<linearGradient id="h48" x1="0" y1="1" x2="0" y2="0"><stop offset="0" stop-color="#00b3e3"/><stop offset="0.0625" stop-color="#00bad3"/><stop offset="0.125" stop-color="#00c2bb"/><stop offset="0.1875" stop-color="#00c8a3"/><stop offset="0.25" stop-color="#00cb8a"/><stop offset="0.3125" stop-color="#01cd81"/><stop offset="0.375" stop-color="#03ce7a"/><stop offset="0.4375" stop-color="#05cf74"/><stop offset="0.5" stop-color="#07d16d"/><stop offset="0.5625" stop-color="#0ed065"/><stop offset="0.625" stop-color="#1fce59"/><stop offset="0.6875" stop-color="#68cc36"/><stop offset="0.75" stop-color="#a7cc10"/><stop offset="0.8125" stop-color="#d0cc00"/><stop offset="0.875" stop-color="#eaca02"/><stop offset="0.9375" stop-color="#f7c30a"/><stop offset="1" stop-color="#ffc016"/></linearGradient>
<linearGradient id="h49" x1="0" y1="1" x2="0" y2="0"><stop offset="0" stop-color="#00b1e5"/><stop offset="0.0625" stop-color="#00b9d5"/><stop offset="0.125" stop-color="#00c1bf"/><stop offset="0.1875" stop-color="#00c8a6"/><stop offset="0.25" stop-color="#00cb8d"/><stop offset="0.3125" stop-color="#00cc84"/><stop offset="0.375" stop-color="#02cd7f"/><stop offset="0.4375" stop-color="#04ce79"/><stop offset="0.5" stop-color="#05d073"/><stop offset="0.5625" stop-color="#07d16d"/><stop offset="0.625" stop-color="#0fd064"/><stop offset="0.6875" stop-color="#42cd4a"/><stop offset="0.75" stop-color="#8fcc1d"/><stop offset="0.8125" stop-color="#c4cc01"/><stop offset="0.875" stop-color="#e4cc00"/><stop offset="0.9375" stop-color="#f3c507"/><stop offset="1" stop-color="#fec016"/></linearGradient>
<linearGradient id="h50" x1="0" y1="1" x2="0" y2="0"><stop offset="0" stop-color="#00b0e8"/><stop offset="0.0625" stop-color="#00b8d8"/><stop offset="0.125" stop-color="#00c0c2"/><stop offset="0.1875" stop-color="#00c7ab"/><stop offset="0.25" stop-color="#00ca91"/><stop offset="0.3125" stop-color="#00cb8a"/><stop offset="0.375" stop-color="#00cc83"/><stop offset="0.4375" stop-color="#02cd7e"/><stop offset="0.5" stop-color="#03ce7a"/><stop offset="0.5625" stop-color="#05cf74"/><stop offset="0.625" stop-color="#07d16d"/><stop offset="0.6875" stop-color="#14cf5f"/><stop offset="0.75" stop-color="#54cc42"/><stop offset="0.8125" stop-color="#aacc0f"/><stop offset="0.875" stop-color="#d7cc00"/><stop offset="0.9375" stop-color="#edc804"/><stop offset="1" stop-color="#fdc013"/></linearGradient>
<linearGradient id="h51" x1="0" y1="1" x2="0" y2="0"><stop offset="0" stop-color="#00afea"/><stop offset="0.0625" stop-color="#00b6db"/><stop offset="0.125" stop-color="#00bec8"/><stop offset="0.1875" stop-color="#00c6b1"/><stop offset="0.25" stop-color="#00c999"/><stop offset="0.3125" stop-color="#00ca93"/><stop offset="0.375" stop-color="#00cb8c"/><stop offset="0.4375" stop-color="#00cc86"/><stop offset="0.5" stop-color="#01cd81"/><stop offset="0.5625" stop-color="#03ce7b"/><stop offset="0.625" stop-color="#04cf76"/><stop offset="0.6875" stop-color="#07d16d"/><stop offset="0.75" stop-color="#13cf5f"/><stop offset="0.8125" stop-color="#7dcc28"/><stop offset="0.875" stop-color="#c6cc01"/><stop offset="0.9375" stop-color="#e4cc00"/><stop offset="1" stop-color="#fac20f"/></linearGradient>
<linearGradient id="h52" x1="0" y1="1" x2="0" y2="0"><stop offset="0" stop-color="#00aeed"/><stop offset="0.0625" stop-color="#00b5de"/><stop offset="0.125" stop-color="#00bcce"/><stop offset="0.1875" stop-color="#00c3b9"/><stop offset="0.25" stop-color="#00c8a3"/><stop offset="0.3125" stop-color="#00c99d"/><stop offset="0.375" stop-color="#00ca98"/><stop offset="0.4375" stop-color="#00ca92"/><stop offset="0.5" stop-color="#00cb8d"/><stop offset="0.5625" stop-color="#00cc84"/><stop offset="0.625" stop-color="#02cd7e"/><stop offset="0.6875" stop-color="#04cf77"/><stop offset="0.75" stop-color="#07d06f"/><stop offset="0.8125" stop-color="#2dce53"/><stop offset="0.875" stop-color="#96cc18"/><stop offset="0.9375" stop-color="#c6cc00"/><stop offset="1" stop-color="#ecc904"/></linearGradient>
<linearGradient id="h53" x1="0" y1="1" x2="0" y2="0"><stop offset="0" stop-color="#00acee"/><stop offset="0.0625" stop-color="#00b3e2"/><stop offset="0.125" stop-color="#00bad5"/><stop offset="0.1875" stop-color="#00c0c1"/><stop offset="0.25" stop-color="#00c7ad"/><stop offset="0.3125" stop-color="#00c8a8"/><stop offset="0.375" stop-color="#00c8a3"/><stop offset="0.4375" stop-color="#00c99e"/><stop offset="0.5" stop-color="#00c99a"/><stop offset="0.5625" stop-color="#00ca92"/><stop offset="0.625" stop-color="#00cb8a"/><stop offset="0.6875" stop-color="#01cd81"/><stop offset="0.75" stop-color="#03ce7a"/><stop offset="0.8125" stop-color="#07d16e"/><stop offset="0.875" stop-color="#26ce57"/><stop offset="0.9375" stop-color="#6dcc33"/><stop offset="1" stop-color="#bdcc05"/></linearGradient>
<linearGradient id="h54" x1="0" y1="1" x2="0" y2="0"><stop offset="0" stop-color="#00a9ef"/><stop offset="0.0625" stop-color="#00b1e6"/><stop offset="0.125" stop-color="#00b7d9"/><stop offset="0.1875" stop-color="#00bec9"/><stop offset="0.25" stop-color="#00c4b6"/><stop offset="0.3125" stop-color="#00c5b2"/><stop offset="0.375" stop-color="#00c7ae"/><stop offset="0.4375" stop-color="#00c7aa"/><stop offset="0.5" stop-color="#00c8a6"/><stop offset="0.5625" stop-color="#00c99f"/><stop offset="0.625" stop-color="#00ca98"/><stop offset="0.6875" stop-color="#00cb90"/><stop offset="0.75" stop-color="#00cc87"/><stop offset="0.8125" stop-color="#03ce7b"/><stop offset="0.875" stop-color="#06d071"/><stop offset="0.9375" stop-color="#0cd066"/><stop offset="1" stop-color="#4acd46"/></linearGradient>
<linearGradient id="h55" x1="0" y1="1" x2="0" y2="0"><stop offset="0" stop-color="#00a6f0"/><stop offset="0.0625" stop-color="#00afea"/><stop offset="0.125" stop-color="#00b5de"/><stop offset="0.1875" stop-color="#00bbd1"/><stop offset="0.25" stop-color="#00c1bf"/><stop offset="0.3125" stop-color="#00c2bb"/><stop offset="0.375" stop-color="#00c3b8"/><stop offset="0.4375" stop-color="#00c5b4"/><stop offset="0.5" stop-color="#00c6b1"/><stop offset="0.5625" stop-color="#00c7ab"/><stop offset="0.625" stop-color="#00c8a6"/><stop offset="0.6875" stop-color="#00c99f"/><stop offset="0.75" stop-color="#00ca98"/><stop offset="0.8125" stop-color="#00cb8a"/><stop offset="0.875" stop-color="#02cd7f"/><stop offset="0.9375" stop-color="#04cf78"/><stop offset="1" stop-color="#07d16d"/></linearGradient>
<linearGradient id="h56" x1="0" y1="1" x2="0" y2="0"><stop offset="0" stop-color="#00a3f1"/><stop offset="0.0625" stop-color="#00acee"/><stop offset="0.125" stop-color="#00b3e3"/><stop offset="0.1875" stop-color="#00b8d7"/><stop offset="0.25" stop-color="#00bec7"/><stop offset="0.3125" stop-color="#00bfc4"/><stop offset="0.375" stop-color="#00c0c1"/><stop offset="0.4375" stop-color="#00c1be"/><stop offset="0.5" stop-color="#00c2bb"/><stop offset="0.5625" stop-color="#00c4b7"/><stop offset="0.625" stop-color="#00c5b2"/><stop offset="0.6875" stop-color="#00c7ad"/><stop offset="0.75" stop-color="#00c8a8"/><stop offset="0.8125" stop-color="#00c99c"/><stop offset="0.875" stop-color="#00cb90"/><stop offset="0.9375" stop-color="#00cc87"/><stop offset="1" stop-color="#02ce7d"/></linearGradient>
<linearGradient id="h57" x1="0" y1="1" x2="0" y2="0"><stop offset="0" stop-color="#00a0f2"/><stop offset="0.0625" stop-color="#00a9ef"/><stop offset="0.125" stop-color="#00b0e8"/><stop offset="0.1875" stop-color="#00b6dc"/><stop offset="0.25" stop-color="#00bbd0"/><stop offset="0.3125" stop-color="#00bccd"/><stop offset="0.375" stop-color="#00bdca"/><stop offset="0.4375" stop-color="#00bec8"/><stop offset="0.5" stop-color="#00bfc5"/><stop offset="0.5625" stop-color="#00c0c2"/><stop offset="0.625" stop-color="#00c1be"/><stop offset="0.6875" stop-color="#00c3bb"/><stop offset="0.75" stop-color="#00c4b7"/><stop offset="0.8125" stop-color="#00c7ad"/><stop offset="0.875" stop-color="#00c8a4"/><stop offset="0.9375" stop-color="#00c99c"/><stop offset="1" stop-color="#00cb90"/></linearGradient>
<linearGradient id="h58" x1="0" y1="1" x2="0" y2="0"><stop offset="0" stop-color="#009df3"/><stop offset="0.0625" stop-color="#00a5f0"/><stop offset="0.125" stop-color="#00aeec"/><stop offset="0.1875" stop-color="#00b3e2"/><stop offset="0.25" stop-color="#00b9d7"/><stop offset="0.3125" stop-color="#00b9d5"/><stop offset="0.375" stop-color="#00bad4"/><stop offset="0.4375" stop-color="#00bbd1"/><stop offset="0.5" stop-color="#00bccf"/><stop offset="0.5625" stop-color="#00bccd"/><stop offset="0.625" stop-color="#00bdca"/><stop offset="0.6875" stop-color="#00bec8"/><stop offset="0.75" stop-color="#00bfc5"/><stop offset="0.8125" stop-color="#00c2bd"/><stop offset="0.875" stop-color="#00c5b4"/><stop offset="0.9375" stop-color="#00c7ae"/><stop offset="1" stop-color="#00c8a3"/></linearGradient>
<linearGradient id="h59" x1="0" y1="1" x2="0" y2="0"><stop offset="0" stop-color="#009bf4"/><stop offset="0.0625" stop-color="#00a3f1"/><stop offset="0.125" stop-color="#00abee"/><stop offset="0.1875" stop-color="#00b1e6"/><stop offset="0.25" stop-color="#00b6dc"/><stop offset="0.3125" stop-color="#00b6db"/><stop offset="0.375" stop-color="#00b7da"/><stop offset="0.4375" stop-color="#00b8d8"/><stop offset="0.5" stop-color="#00b9d7"/><stop offset="0.5625" stop-color="#00b9d6"/><stop offset="0.625" stop-color="#00b9d5"/><stop offset="0.6875" stop-color="#00bad4"/><stop offset="0.75" stop-color="#00bad3"/><stop offset="0.8125" stop-color="#00bdcb"/><stop offset="0.875" stop-color="#00bfc4"/><stop offset="0.9375" stop-color="#00c1be"/><stop offset="1" stop-color="#00c4b5"/></linearGradient>
<linearGradient id="h60" x1="0" y1="1" x2="0" y2="0"><stop offset="0" stop-color="#0099f5"/><stop offset="0.0625" stop-color="#00a0f2"/><stop offset="0.125" stop-color="#00a8ef"/><stop offset="0.1875" stop-color="#00aeeb"/><stop offset="0.25" stop-color="#00b3e2"/><stop offset="0.3125" stop-color="#00b4e1"/><stop offset="0.375" stop-color="#00b4df"/><stop offset="0.4375" stop-color="#00b5de"/><stop offset="0.5" stop-color="#00b5dd"/><stop offset="0.5625" stop-color="#00b6dd"/><stop offset="0.625" stop-color="#00b6dd"/><stop offset="0.6875" stop-color="#00b6dd"/><stop offset="0.75" stop-color="#00b6dd"/><stop offset="0.8125" stop-color="#00b8d8"/><stop offset="0.875" stop-color="#00bad3"/><stop offset="0.9375" stop-color="#00bcce"/><stop offset="1" stop-color="#00bfc6"/></linearGradient>
<linearGradient id="h61" x1="0" y1="1" x2="0" y2="0"><stop offset="0" stop-color="#0097f6"/><stop offset="0.0625" stop-color="#009ef3"/><stop offset="0.125" stop-color="#00a5f0"/><stop offset="0.1875" stop-color="#00abee"/><stop offset="0.25" stop-color="#00b0e7"/><stop offset="0.3125" stop-color="#00b1e6"/><stop offset="0.375" stop-color="#00b1e5"/><stop offset="0.4375" stop-color="#00b2e4"/><stop offset="0.5" stop-color="#00b2e3"/><stop offset="0.5625" stop-color="#00b2e4"/><stop offset="0.625" stop-color="#00b2e5"/><stop offset="0.6875" stop-color="#00b1e5"/><stop offset="0.75" stop-color="#00b1e6"/><stop offset="0.8125" stop-color="#00b3e2"/><stop offset="0.875" stop-color="#00b5de"/><stop offset="0.9375" stop-color="#00b7db"/><stop offset="1" stop-color="#00b9d6"/></linearGradient>
<linearGradient id="h62" x1="0" y1="1" x2="0" y2="0"><stop offset="0" stop-color="#0096f6"/><stop offset="0.0625" stop-color="#009cf4"/><stop offset="0.125" stop-color="#00a2f1"/><stop offset="0.1875" stop-color="#00a8ef"/><stop offset="0.25" stop-color="#00aeed"/><stop offset="0.3125" stop-color="#00aeec"/><stop offset="0.375" stop-color="#00aeeb"/><stop offset="0.4375" stop-color="#00afea"/><stop offset="0.5" stop-color="#00afea"/><stop offset="0.5625" stop-color="#00afeb"/><stop offset="0.625" stop-color="#00aeec"/><stop offset="0.6875" stop-color="#00aeed"/><stop offset="0.75" stop-color="#00aded"/><stop offset="0.8125" stop-color="#00afeb"/><stop offset="0.875" stop-color="#00b0e7"/><stop offset="0.9375" stop-color="#00b1e5"/><stop offset="1" stop-color="#00b3e1"/></linearGradient>
<linearGradient id="h63" x1="0" y1="1" x2="0" y2="0"><stop offset="0" stop-color="#0095f7"/><stop offset="0.0625" stop-color="#009af4"/><stop offset="0.125" stop-color="#009ff3"/><stop offset="0.1875" stop-color="#00a4f1"/><stop offset="0.25" stop-color="#00aaef"/><stop offset="0.3125" stop-color="#00aaee"/><stop offset="0.375" stop-color="#00abee"/><stop offset="0.4375" stop-color="#00abee"/><stop offset="0.5" stop-color="#00abee"/><stop offset="0.5625" stop-color="#00abee"/><stop offset="0.625" stop-color="#00aaee"/><stop offset="0.6875" stop-color="#00a9ef"/><stop offset="0.75" stop-color="#00a8ef"/><stop offset="0.8125" stop-color="#00aaef"/><stop offset="0.875" stop-color="#00abee"/><stop offset="0.9375" stop-color="#00acee"/><stop offset="1" stop-color="#00aeed"/></linearGradient>
<linearGradient id="h64" x1="0" y1="1" x2="0" y2="0"><stop offset="0" stop-color="#0093f8"/><stop offset="0.0625" stop-color="#0098f5"/><stop offset="0.125" stop-color="#009cf4"/><stop offset="0.1875" stop-color="#00a1f2"/><stop offset="0.25" stop-color="#00a5f0"/><stop offset="0.3125" stop-color="#00a6f0"/><stop offset="0.375" stop-color="#00a6f0"/><stop offset="0.4375" stop-color="#00a7f0"/><stop offset="0.5" stop-color="#00a7ef"/><stop offset="0.5625" stop-color="#00a6f0"/><stop offset="0.625" stop-color="#00a6f0"/><stop offset="0.6875" stop-color="#00a5f0"/><stop offset="0.75" stop-color="#00a4f1"/><stop offset="0.8125" stop-color="#00a4f1"/><stop offset="0.875" stop-color="#00a4f1"/><stop offset="0.9375" stop-color="#00a5f0"/><stop offset="1" stop-color="#00a5f0"/></linearGradient>
<linearGradient id="h65" x1="0" y1="1" x2="0" y2="0"><stop offset="0" stop-color="#0092f8"/><stop offset="0.0625" stop-color="#0096f7"/><stop offset="0.125" stop-color="#009af5"/><stop offset="0.1875" stop-color="#009df3"/><stop offset="0.25" stop-color="#00a1f2"/><stop offset="0.3125" stop-color="#00a2f1"/><stop offset="0.375" stop-color="#00a2f1"/><stop offset="0.4375" stop-color="#00a3f1"/><stop offset="0.5" stop-color="#00a3f1"/><stop offset="0.5625" stop-color="#00a3f1"/><stop offset="0.625" stop-color="#00a2f2"/><stop offset="0.6875" stop-color="#00a1f2"/><stop offset="0.75" stop-color="#00a0f2"/><stop offset="0.8125" stop-color="#009ff3"/><stop offset="0.875" stop-color="#009ef3"/><stop offset="0.9375" stop-color="#009df3"/><stop offset="1" stop-color="#009cf4"/></linearGradient>
<linearGradient id="h66" x1="0" y1="1" x2="0" y2="0"><stop offset="0" stop-color="#0090f9"/><stop offset="0.0625" stop-color="#0094f7"/><stop offset="0.125" stop-color="#0097f6"/><stop offset="0.1875" stop-color="#009bf4"/><stop offset="0.25" stop-color="#009ef3"/><stop offset="0.3125" stop-color="#009ff3"/><stop offset="0.375" stop-color="#009ff3"/><stop offset="0.4375" stop-color="#009ff2"/><stop offset="0.5" stop-color="#00a0f2"/><stop offset="0.5625" stop-color="#009ff3"/><stop offset="0.625" stop-color="#009ef3"/><stop offset="0.6875" stop-color="#009df3"/><stop offset="0.75" stop-color="#009cf4"/><stop offset="0.8125" stop-color="#0099f5"/><stop offset="0.875" stop-color="#0097f6"/><stop offset="0.9375" stop-color="#0095f7"/><stop offset="1" stop-color="#0092f8"/></linearGradient>
<linearGradient id="h67" x1="0" y1="1" x2="0" y2="0"><stop offset="0" stop-color="#008ffa"/><stop offset="0.0625" stop-color="#0092f8"/><stop offset="0.125" stop-color="#0095f7"/><stop offset="0.1875" stop-color="#0098f5"/><stop offset="0.25" stop-color="#009bf4"/><stop offset="0.3125" stop-color="#009bf4"/><stop offset="0.375" stop-color="#009cf4"/><stop offset="0.4375" stop-color="#009cf4"/><stop offset="0.5" stop-color="#009cf4"/><stop offset="0.5625" stop-color="#009bf4"/><stop offset="0.625" stop-color="#009af4"/><stop offset="0.6875" stop-color="#0099f5"/><stop offset="0.75" stop-color="#0098f5"/><stop offset="0.8125" stop-color="#0094f7"/><stop offset="0.875" stop-color="#0091f9"/><stop offset="0.9375" stop-color="#008dfb"/><stop offset="1" stop-color="#0089fd"/></linearGradient>
<linearGradient id="h68" x1="0" y1="1" x2="0" y2="0"><stop offset="0" stop-color="#008dfb"/><stop offset="0.0625" stop-color="#0090f9"/><stop offset="0.125" stop-color="#0093f8"/><stop offset="0.1875" stop-color="#0095f7"/><stop offset="0.25" stop-color="#0098f5"/><stop offset="0.3125" stop-color="#0098f5"/><stop offset="0.375" stop-color="#0098f5"/><stop offset="0.4375" stop-color="#0098f5"/><stop offset="0.5" stop-color="#0098f5"/><stop offset="0.5625" stop-color="#0098f5"/><stop offset="0.625" stop-color="#0097f6"/><stop offset="0.6875" stop-color="#0096f6"/><stop offset="0.75" stop-color="#0096f6"/><stop offset="0.8125" stop-color="#0090f9"/><stop offset="0.875" stop-color="#008bfc"/><stop offset="0.9375" stop-color="#0086fe"/><stop offset="1" stop-color="#087eff"/></linearGradient>
<linearGradient id="h69" x1="0" y1="1" x2="0" y2="0"><stop offset="0" stop-color="#008cfb"/><stop offset="0.0625" stop-color="#008efa"/><stop offset="0.125" stop-color="#0090f9"/><stop offset="0.1875" stop-color="#0093f8"/><stop offset="0.25" stop-color="#0095f7"/><stop offset="0.3125" stop-color="#0095f7"/><stop offset="0.375" stop-color="#0095f7"/><stop offset="0.4375" stop-color="#0095f7"/><stop offset="0.5" stop-color="#0095f7"/><stop offset="0.5625" stop-color="#0094f7"/><stop offset="0.625" stop-color="#0094f7"/><stop offset="0.6875" stop-color="#0094f7"/><stop offset="0.75" stop-color="#0094f8"/><stop offset="0.8125" stop-color="#008cfb"/><stop offset="0.875" stop-color="#0085ff"/><stop offset="0.9375" stop-color="#097dff"/><stop offset="1" stop-color="#1b72ff"/></linearGradient>
<linearGradient id="h70" x1="0" y1="1" x2="0" y2="0"><stop offset="0" stop-color="#008afc"/><stop offset="0.0625" stop-color="#008cfb"/><stop offset="0.125" stop-color="#008efa"/><stop offset="0.1875" stop-color="#0090f9"/><stop offset="0.25" stop-color="#0092f8"/><stop offset="0.3125" stop-color="#0092f8"/><stop offset="0.375" stop-color="#0092f8"/><stop offset="0.4375" stop-color="#0092f9"/><stop offset="0.5" stop-color="#0091f9"/><stop offset="0.5625" stop-color="#0091f9"/><stop offset="0.625" stop-color="#0091f9"/><stop offset="0.6875" stop-color="#0091f9"/><stop offset="0.75" stop-color="#0091f9"/><stop offset="0.8125" stop-color="#0088fd"/><stop offset="0.875" stop-color="#087eff"/><stop offset="0.9375" stop-color="#1575ff"/><stop offset="1" stop-color="#2d67ff"/></linearGradient>
<linearGradient id="h71" x1="0" y1="1" x2="0" y2="0"><stop offset="0" stop-color="#0089fd"/><stop offset="0.0625" stop-color="#008bfc"/><stop offset="0.125" stop-color="#008cfb"/><stop offset="0.1875" stop-color="#008dfb"/><stop offset="0.25" stop-color="#008ffa"/><stop offset="0.3125" stop-color="#008ffa"/><stop offset="0.375" stop-color="#008ffa"/><stop offset="0.4375" stop-color="#0090f9"/><stop offset="0.5" stop-color="#0090f9"/><stop offset="0.5625" stop-color="#0090f9"/><stop offset="0.625" stop-color="#008ffa"/><stop offset="0.6875" stop-color="#008ffa"/><stop offset="0.75" stop-color="#008ffa"/><stop offset="0.8125" stop-color="#0086fe"/><stop offset="0.875" stop-color="#0c7bff"/><stop offset="0.9375" stop-color="#1c71ff"/><stop offset="1" stop-color="#3262ff"/></linearGradient>
<linearGradient id="h72" x1="0" y1="1" x2="0" y2="0"><stop offset="0" stop-color="#008afc"/><stop offset="0.0625" stop-color="#008bfc"/><stop offset="0.125" stop-color="#008cfc"/><stop offset="0.1875" stop-color="#008cfb"/><stop offset="0.25" stop-color="#008dfb"/><stop offset="0.3125" stop-color="#008efa"/><stop offset="0.375" stop-color="#008efa"/><stop offset="0.4375" stop-color="#008ffa"/><stop offset="0.5" stop-color="#008ffa"/><stop offset="0.5625" stop-color="#008efa"/><stop offset="0.625" stop-color="#008efa"/><stop offset="0.6875" stop-color="#008dfb"/><stop offset="0.75" stop-color="#008dfb"/><stop offset="0.8125" stop-color="#0184ff"/><stop offset="0.875" stop-color="#0e79ff"/><stop offset="0.9375" stop-color="#1e71ff"/><stop offset="1" stop-color="#3262ff"/></linearGradient>
<linearGradient id="h73" x1="0" y1="1" x2="0" y2="0"><stop offset="0" stop-color="#008bfc"/><stop offset="0.0625" stop-color="#008cfb"/><stop offset="0.125" stop-color="#008cfb"/><stop offset="0.1875" stop-color="#008dfb"/><stop offset="0.25" stop-color="#008dfb"/><stop offset="0.3125" stop-color="#008dfb"/><stop offset="0.375" stop-color="#008efa"/><stop offset="0.4375" stop-color="#008efa"/><stop offset="0.5" stop-color="#008efa"/><stop offset="0.5625" stop-color="#008dfb"/><stop offset="0.625" stop-color="#008dfb"/><stop offset="0.6875" stop-color="#008cfb"/><stop offset="0.75" stop-color="#008bfc"/><stop offset="0.8125" stop-color="#0283ff"/><stop offset="0.875" stop-color="#0d79ff"/><stop offset="0.9375" stop-color="#1c72ff"/><stop offset="1" stop-color="#2f65ff"/></linearGradient>
<linearGradient id="h74" x1="0" y1="1" x2="0" y2="0"><stop offset="0" stop-color="#008dfb"/><stop offset="0.0625" stop-color="#008dfb"/><stop offset="0.125" stop-color="#008dfb"/><stop offset="0.1875" stop-color="#008dfb"/><stop offset="0.25" stop-color="#008dfb"/><stop offset="0.3125" stop-color="#008dfb"/><stop offset="0.375" stop-color="#008dfb"/><stop offset="0.4375" stop-color="#008dfb"/><stop offset="0.5" stop-color="#008dfb"/><stop offset="0.5625" stop-color="#008dfb"/><stop offset="0.625" stop-color="#008cfb"/><stop offset="0.6875" stop-color="#008cfb"/><stop offset="0.75" stop-color="#008bfc"/><stop offset="0.8125" stop-color="#0085ff"/><stop offset="0.875" stop-color="#097dff"/><stop offset="0.9375" stop-color="#1177ff"/><stop offset="1" stop-color="#236eff"/></linearGradient>
<linearGradient id="h75" x1="0" y1="1" x2="0" y2="0"><stop offset="0" stop-color="#008efa"/><stop offset="0.0625" stop-color="#008efa"/><stop offset="0.125" stop-color="#008efa"/><stop offset="0.1875" stop-color="#008efa"/><stop offset="0.25" stop-color="#008efa"/><stop offset="0.3125" stop-color="#008dfb"/><stop offset="0.375" stop-color="#008dfb"/><stop offset="0.4375" stop-color="#008dfb"/><stop offset="0.5" stop-color="#008cfb"/><stop offset="0.5625" stop-color="#008cfb"/><stop offset="0.625" stop-color="#008cfb"/><stop offset="0.6875" stop-color="#008cfb"/><stop offset="0.75" stop-color="#008cfb"/><stop offset="0.8125" stop-color="#0087fe"/><stop offset="0.875" stop-color="#0382ff"/><stop offset="0.9375" stop-color="#087eff"/><stop offset="1" stop-color="#1177ff"/></linearGradient>
<linearGradient id="h76" x1="0" y1="1" x2="0" y2="0"><stop offset="0" stop-color="#008ffa"/><stop offset="0.0625" stop-color="#008ffa"/><stop offset="0.125" stop-color="#008ffa"/><stop offset="0.1875" stop-color="#008efa"/><stop offset="0.25" stop-color="#008efa"/><stop offset="0.3125" stop-color="#008dfb"/><stop offset="0.375" stop-color="#008dfb"/><stop offset="0.4375" stop-color="#008cfb"/><stop offset="0.5" stop-color="#008bfc"/><stop offset="0.5625" stop-color="#008cfb"/><stop offset="0.625" stop-color="#008cfb"/><stop offset="0.6875" stop-color="#008cfb"/><stop offset="0.75" stop-color="#008cfb"/><stop offset="0.8125" stop-color="#008afc"/><stop offset="0.875" stop-color="#0087fe"/><stop offset="0.9375" stop-color="#0085ff"/><stop offset="1" stop-color="#0580ff"/></linearGradient>
<linearGradient id="h77" x1="0" y1="1" x2="0" y2="0"><stop offset="0" stop-color="#0091f9"/><stop offset="0.0625" stop-color="#0090f9"/><stop offset="0.125" stop-color="#0090fa"/><stop offset="0.1875" stop-color="#008ffa"/><stop offset="0.25" stop-color="#008efa"/><stop offset="0.3125" stop-color="#008efa"/><stop offset="0.375" stop-color="#008efa"/><stop offset="0.4375" stop-color="#008dfb"/><stop offset="0.5" stop-color="#008dfb"/><stop offset="0.5625" stop-color="#008dfb"/><stop offset="0.625" stop-color="#008dfb"/><stop offset="0.6875" stop-color="#008dfb"/><stop offset="0.75" stop-color="#008dfb"/><stop offset="0.8125" stop-color="#008cfb"/><stop offset="0.875" stop-color="#008cfb"/><stop offset="0.9375" stop-color="#008bfc"/><stop offset="1" stop-color="#008afc"/></linearGradient>
<linearGradient id="h78" x1="0" y1="1" x2="0" y2="0"><stop offset="0" stop-color="#0092f8"/><stop offset="0.0625" stop-color="#0091f9"/><stop offset="0.125" stop-color="#0091f9"/><stop offset="0.1875" stop-color="#0090f9"/><stop offset="0.25" stop-color="#008ffa"/><stop offset="0.3125" stop-color="#008ffa"/><stop offset="0.375" stop-color="#0090f9"/><stop offset="0.4375" stop-color="#0090f9"/><stop offset="0.5" stop-color="#0090f9"/><stop offset="0.5625" stop-color="#0090f9"/><stop offset="0.625" stop-color="#008ffa"/><stop offset="0.6875" stop-color="#008efa"/><stop offset="0.75" stop-color="#008efa"/><stop offset="0.8125" stop-color="#008ffa"/><stop offset="0.875" stop-color="#0091f9"/><stop offset="0.9375" stop-color="#0092f8"/><stop offset="1" stop-color="#0094f7"/></linearGradient>
<linearGradient id="h79" x1="0" y1="1" x2="0" y2="0"><stop offset="0" stop-color="#0093f8"/><stop offset="0.0625" stop-color="#0093f8"/><stop offset="0.125" stop-color="#0092f8"/><stop offset="0.1875" stop-color="#0092f8"/><stop offset="0.25" stop-color="#0091f9"/><stop offset="0.3125" stop-color="#0092f8"/><stop offset="0.375" stop-color="#0093f8"/><stop offset="0.4375" stop-color="#0093f8"/><stop offset="0.5" stop-color="#0094f7"/><stop offset="0.5625" stop-color="#0093f8"/><stop offset="0.625" stop-color="#0091f9"/><stop offset="0.6875" stop-color="#0090f9"/><stop offset="0.75" stop-color="#008efa"/><stop offset="0.8125" stop-color="#0092f8"/><stop offset="0.875" stop-color="#0096f6"/><stop offset="0.9375" stop-color="#009af5"/><stop offset="1" stop-color="#009ff3"/></linearGradient>
<linearGradient id="h80" x1="0" y1="1" x2="0" y2="0"><stop offset="0" stop-color="#0095f7"/><stop offset="0.0625" stop-color="#0095f7"/><stop offset="0.125" stop-color="#0095f7"/><stop offset="0.1875" stop-color="#0095f7"/><stop offset="0.25" stop-color="#0094f7"/><stop offset="0.3125" stop-color="#0095f7"/><stop offset="0.375" stop-color="#0096f6"/><stop offset="0.4375" stop-color="#0097f6"/><stop offset="0.5" stop-color="#0098f5"/><stop offset="0.5625" stop-color="#0096f6"/><stop offset="0.625" stop-color="#0094f7"/><stop offset="0.6875" stop-color="#0092f8"/><stop offset="0.75" stop-color="#0090f9"/><stop offset="0.8125" stop-color="#0096f6"/><stop offset="0.875" stop-color="#009cf4"/><stop offset="0.9375" stop-color="#00a1f2"/><stop offset="1" stop-color="#00a8ef"/></linearGradient>
<linearGradient id="h81" x1="0" y1="1" x2="0" y2="0"><stop offset="0" stop-color="#0098f5"/><stop offset="0.0625" stop-color="#0098f5"/><stop offset="0.125" stop-color="#0098f5"/><stop offset="0.1875" stop-color="#0098f6"/><stop offset="0.25" stop-color="#0097f6"/><stop offset="0.3125" stop-color="#0098f5"/><stop offset="0.375" stop-color="#009af5"/><stop offset="0.4375" stop-color="#009bf4"/><stop offset="0.5" stop-color="#009cf4"/><stop offset="0.5625" stop-color="#009af5"/><stop offset="0.625" stop-color="#0098f5"/><stop offset="0.6875" stop-color="#0096f6"/><stop offset="0.75" stop-color="#0094f7"/><stop offset="0.8125" stop-color="#009bf4"/><stop offset="0.875" stop-color="#00a2f1"/><stop offset="0.9375" stop-color="#00a8ef"/><stop offset="1" stop-color="#00afe9"/></linearGradient>
<linearGradient id="h82" x1="0" y1="1" x2="0" y2="0"><stop offset="0" stop-color="#009bf4"/><stop offset="0.0625" stop-color="#009bf4"/><stop offset="0.125" stop-color="#009bf4"/><stop offset="0.1875" stop-color="#009bf4"/><stop offset="0.25" stop-color="#009bf4"/><stop offset="0.3125" stop-color="#009cf4"/><stop offset="0.375" stop-color="#009df3"/><stop offset="0.4375" stop-color="#009ef3"/><stop offset="0.5" stop-color="#009ff2"/><stop offset="0.5625" stop-color="#009ef3"/><stop offset="0.625" stop-color="#009df3"/><stop offset="0.6875" stop-color="#009bf4"/><stop offset="0.75" stop-color="#009af4"/><stop offset="0.8125" stop-color="#00a1f2"/><stop offset="0.875" stop-color="#00a9ef"/><stop offset="0.9375" stop-color="#00afeb"/><stop offset="1" stop-color="#00b4df"/></linearGradient>
<linearGradient id="h83" x1="0" y1="1" x2="0" y2="0"><stop offset="0" stop-color="#009ef3"/><stop offset="0.0625" stop-color="#009ef3"/><stop offset="0.125" stop-color="#009ef3"/><stop offset="0.1875" stop-color="#009ef3"/><stop offset="0.25" stop-color="#009ef3"/><stop offset="0.3125" stop-color="#009ff3"/><stop offset="0.375" stop-color="#00a0f2"/><stop offset="0.4375" stop-color="#00a2f2"/><stop offset="0.5" stop-color="#00a3f1"/><stop offset="0.5625" stop-color="#00a2f1"/><stop offset="0.625" stop-color="#00a1f2"/><stop offset="0.6875" stop-color="#00a0f2"/><stop offset="0.75" stop-color="#00a0f2"/><stop offset="0.8125" stop-color="#00a8ef"/><stop offset="0.875" stop-color="#00afea"/><stop offset="0.9375" stop-color="#00b3e2"/><stop offset="1" stop-color="#00b9d6"/></linearGradient>
<linearGradient id="h84" x1="0" y1="1" x2="0" y2="0"><stop offset="0" stop-color="#00a1f2"/><stop offset="0.0625" stop-color="#00a1f2"/><stop offset="0.125" stop-color="#00a1f2"/><stop offset="0.1875" stop-color="#00a1f2"/><stop offset="0.25" stop-color="#00a1f2"/><stop offset="0.3125" stop-color="#00a2f1"/><stop offset="0.375" stop-color="#00a4f1"/><stop offset="0.4375" stop-color="#00a5f0"/><stop offset="0.5" stop-color="#00a7f0"/><stop offset="0.5625" stop-color="#00a6f0"/><stop offset="0.625" stop-color="#00a6f0"/><stop offset="0.6875" stop-color="#00a6f0"/><stop offset="0.75" stop-color="#00a5f0"/><stop offset="0.8125" stop-color="#00aeed"/><stop offset="0.875" stop-color="#00b3e2"/><stop offset="0.9375" stop-color="#00b7d9"/><stop offset="1" stop-color="#00bec8"/></linearGradient>
<linearGradient id="h85" x1="0" y1="1" x2="0" y2="0"><stop offset="0" stop-color="#00a4f1"/><stop offset="0.0625" stop-color="#00a4f1"/><stop offset="0.125" stop-color="#00a4f1"/><stop offset="0.1875" stop-color="#00a4f1"/><stop offset="0.25" stop-color="#00a4f1"/><stop offset="0.3125" stop-color="#00a6f0"/><stop offset="0.375" stop-color="#00a8ef"/><stop offset="0.4375" stop-color="#00a9ef"/><stop offset="0.5" stop-color="#00abee"/><stop offset="0.5625" stop-color="#00abee"/><stop offset="0.625" stop-color="#00abee"/><stop offset="0.6875" stop-color="#00abee"/><stop offset="0.75" stop-color="#00abee"/><stop offset="0.8125" stop-color="#00b2e4"/><stop offset="0.875" stop-color="#00b8d8"/><stop offset="0.9375" stop-color="#00bdcb"/><stop offset="1" stop-color="#00c4b5"/></linearGradient>
<linearGradient id="h86" x1="0" y1="1" x2="0" y2="0"><stop offset="0" stop-color="#00a7f0"/><stop offset="0.0625" stop-color="#00a7f0"/><stop offset="0.125" stop-color="#00a7ef"/><stop offset="0.1875" stop-color="#00a8ef"/><stop offset="0.25" stop-color="#00a8ef"/><stop offset="0.3125" stop-color="#00aaee"/><stop offset="0.375" stop-color="#00acee"/><stop offset="0.4375" stop-color="#00aeed"/><stop offset="0.5" stop-color="#00afeb"/><stop offset="0.5625" stop-color="#00afea"/><stop offset="0.625" stop-color="#00b0e9"/><stop offset="0.6875" stop-color="#00b0e8"/><stop offset="0.75" stop-color="#00b0e7"/><stop offset="0.8125" stop-color="#00b7da"/><stop offset="0.875" stop-color="#00bec9"/><stop offset="0.9375" stop-color="#00c4b8"/><stop offset="1" stop-color="#00c99c"/></linearGradient>
<linearGradient id="h87" x1="0" y1="1" x2="0" y2="0"><stop offset="0" stop-color="#00aaef"/><stop offset="0.0625" stop-color="#00aaee"/><stop offset="0.125" stop-color="#00abee"/><stop offset="0.1875" stop-color="#00acee"/><stop offset="0.25" stop-color="#00acee"/><stop offset="0.3125" stop-color="#00aeec"/><stop offset="0.375" stop-color="#00afea"/><stop offset="0.4375" stop-color="#00b0e7"/><stop offset="0.5" stop-color="#00b2e5"/><stop offset="0.5625" stop-color="#00b2e3"/><stop offset="0.625" stop-color="#00b3e2"/><stop offset="0.6875" stop-color="#00b4e0"/><stop offset="0.75" stop-color="#00b5df"/><stop offset="0.8125" stop-color="#00bcce"/><stop offset="0.875" stop-color="#00c3b8"/><stop offset="0.9375" stop-color="#00c8a3"/><stop offset="1" stop-color="#00cc84"/></linearGradient>
<linearGradient id="h88" x1="0" y1="1" x2="0" y2="0"><stop offset="0" stop-color="#00acee"/><stop offset="0.0625" stop-color="#00aded"/><stop offset="0.125" stop-color="#00aeec"/><stop offset="0.1875" stop-color="#00afeb"/><stop offset="0.25" stop-color="#00afea"/><stop offset="0.3125" stop-color="#00b0e7"/><stop offset="0.375" stop-color="#00b2e4"/><stop offset="0.4375" stop-color="#00b3e1"/><stop offset="0.5" stop-color="#00b5df"/><stop offset="0.5625" stop-color="#00b6dc"/><stop offset="0.625" stop-color="#00b7da"/><stop offset="0.6875" stop-color="#00b8d8"/><stop offset="0.75" stop-color="#00b9d6"/><stop offset="0.8125" stop-color="#00c1bf"/><stop offset="0.875" stop-color="#00c8a6"/><stop offset="0.9375" stop-color="#00cb8e"/><stop offset="1" stop-color="#05cf73"/></linearGradient>
<linearGradient id="h89" x1="0" y1="1" x2="0" y2="0"><stop offset="0" stop-color="#00aeeb"/><stop offset="0.0625" stop-color="#00afea"/><stop offset="0.125" stop-color="#00b0e8"/><stop offset="0.1875" stop-color="#00b1e6"/><stop offset="0.25" stop-color="#00b2e5"/><stop offset="0.3125" stop-color="#00b3e2"/><stop offset="0.375" stop-color="#00b5df"/><stop offset="0.4375" stop-color="#00b6dc"/><stop offset="0.5" stop-color="#00b8d9"/><stop offset="0.5625" stop-color="#00b9d5"/><stop offset="0.625" stop-color="#00bbd1"/><stop offset="0.6875" stop-color="#00bdcc"/><stop offset="0.75" stop-color="#00bec7"/><stop offset="0.8125" stop-color="#00c7ae"/><stop offset="0.875" stop-color="#00ca92"/><stop offset="0.9375" stop-color="#03ce7c"/><stop offset="1" stop-color="#18ce5d"/></linearGradient>
<linearGradient id="h90" x1="0" y1="1" x2="0" y2="0"><stop offset="0" stop-color="#00afeb"/><stop offset="0.0625" stop-color="#00b0e8"/><stop offset="0.125" stop-color="#00b1e5"/><stop offset="0.1875" stop-color="#00b3e2"/><stop offset="0.25" stop-color="#00b4df"/><stop offset="0.3125" stop-color="#00b6dc"/><stop offset="0.375" stop-color="#00b7d9"/><stop offset="0.4375" stop-color="#00b9d6"/><stop offset="0.5" stop-color="#00bbd2"/><stop offset="0.5625" stop-color="#00bdcb"/><stop offset="0.625" stop-color="#00bfc5"/><stop offset="0.6875" stop-color="#00c1be"/><stop offset="0.75" stop-color="#00c4b7"/><stop offset="0.8125" stop-color="#00c99b"/><stop offset="0.875" stop-color="#01cd80"/><stop offset="0.9375" stop-color="#07d16e"/><stop offset="1" stop-color="#90cc1c"/></linearGradient>
<linearGradient id="h91" x1="0" y1="1" x2="0" y2="0"><stop offset="0" stop-color="#00afeb"/><stop offset="0.0625" stop-color="#00b1e6"/><stop offset="0.125" stop-color="#00b3e2"/><stop offset="0.1875" stop-color="#00b5dd"/><stop offset="0.25" stop-color="#00b8d9"/><stop offset="0.3125" stop-color="#00b9d6"/><stop offset="0.375" stop-color="#00bbd2"/><stop offset="0.4375" stop-color="#00bcce"/><stop offset="0.5" stop-color="#00bec9"/><stop offset="0.5625" stop-color="#00c1c1"/><stop offset="0.625" stop-color="#00c3b8"/><stop offset="0.6875" stop-color="#00c6af"/><stop offset="0.75" stop-color="#00c8a5"/><stop offset="0.8125" stop-color="#00cc88"/><stop offset="0.875" stop-color="#05cf75"/><stop offset="0.9375" stop-color="#29ce55"/><stop offset="1" stop-color="#cdcc00"/></linearGradient>
<linearGradient id="h92" x1="0" y1="1" x2="0" y2="0"><stop offset="0" stop-color="#00afeb"/><stop offset="0.0625" stop-color="#00b2e4"/><stop offset="0.125" stop-color="#00b5de"/><stop offset="0.1875" stop-color="#00b8d8"/><stop offset="0.25" stop-color="#00bbd1"/><stop offset="0.3125" stop-color="#00bccd"/><stop offset="0.375" stop-color="#00bec9"/><stop offset="0.4375" stop-color="#00bfc5"/><stop offset="0.5" stop-color="#00c1c1"/><stop offset="0.5625" stop-color="#00c4b6"/><stop offset="0.625" stop-color="#00c7aa"/><stop offset="0.6875" stop-color="#00c99f"/><stop offset="0.75" stop-color="#00ca93"/><stop offset="0.8125" stop-color="#03ce7c"/><stop offset="0.875" stop-color="#0ad169"/><stop offset="0.9375" stop-color="#81cc26"/><stop offset="1" stop-color="#ecc904"/></linearGradient>
<linearGradient id="h93" x1="0" y1="1" x2="0" y2="0"><stop offset="0" stop-color="#00afeb"/><stop offset="0.0625" stop-color="#00b3e3"/><stop offset="0.125" stop-color="#00b7db"/><stop offset="0.1875" stop-color="#00bad3"/><stop offset="0.25" stop-color="#00bec7"/><stop offset="0.3125" stop-color="#00c0c3"/><stop offset="0.375" stop-color="#00c1bf"/><stop offset="0.4375" stop-color="#00c2bb"/><stop offset="0.5" stop-color="#00c4b7"/><stop offset="0.5625" stop-color="#00c7aa"/><stop offset="0.625" stop-color="#00c99c"/><stop offset="0.6875" stop-color="#00cb8e"/><stop offset="0.75" stop-color="#01cd81"/><stop offset="0.8125" stop-color="#06d070"/><stop offset="0.875" stop-color="#32cd51"/><stop offset="0.9375" stop-color="#b9cc07"/><stop offset="1" stop-color="#fac20f"/></linearGradient>
<linearGradient id="h94" x1="0" y1="1" x2="0" y2="0"><stop offset="0" stop-color="#00afeb"/><stop offset="0.0625" stop-color="#00b3e1"/><stop offset="0.125" stop-color="#00b8d8"/><stop offset="0.1875" stop-color="#00bdcb"/><stop offset="0.25" stop-color="#00c2bd"/><stop offset="0.3125" stop-color="#00c3b9"/><stop offset="0.375" stop-color="#00c4b5"/><stop offset="0.4375" stop-color="#00c6b1"/><stop offset="0.5" stop-color="#00c7ac"/><stop offset="0.5625" stop-color="#00c99c"/><stop offset="0.625" stop-color="#00cb8c"/><stop offset="0.6875" stop-color="#02cd7f"/><stop offset="0.75" stop-color="#05cf75"/><stop offset="0.8125" stop-color="#10cf63"/><stop offset="0.875" stop-color="#69cc36"/><stop offset="0.9375" stop-color="#d2cc00"/><stop offset="1" stop-color="#ffc017"/></linearGradient>
<linearGradient id="h95" x1="0" y1="1" x2="0" y2="0"><stop offset="0" stop-color="#00afeb"/><stop offset="0.0625" stop-color="#00b4e0"/><stop offset="0.125" stop-color="#00b9d6"/><stop offset="0.1875" stop-color="#00bec7"/><stop offset="0.25" stop-color="#00c4b7"/><stop offset="0.3125" stop-color="#00c6b2"/><stop offset="0.375" stop-color="#00c7ac"/><stop offset="0.4375" stop-color="#00c8a5"/><stop offset="0.5" stop-color="#00c99f"/><stop offset="0.5625" stop-color="#00cb8e"/><stop offset="0.625" stop-color="#01cd80"/><stop offset="0.6875" stop-color="#05cf75"/><stop offset="0.75" stop-color="#09d16a"/><stop offset="0.8125" stop-color="#37cd4f"/><stop offset="0.875" stop-color="#8ecc1e"/><stop offset="0.9375" stop-color="#dbcc00"/><stop offset="1" stop-color="#ffc115"/></linearGradient>
<linearGradient id="h96" x1="0" y1="1" x2="0" y2="0"><stop offset="0" stop-color="#00afeb"/><stop offset="0.0625" stop-color="#00b4e0"/><stop offset="0.125" stop-color="#00bad5"/><stop offset="0.1875" stop-color="#00bfc5"/><stop offset="0.25" stop-color="#00c5b4"/><stop offset="0.3125" stop-color="#00c7ac"/><stop offset="0.375" stop-color="#00c8a3"/><stop offset="0.4375" stop-color="#00c99b"/><stop offset="0.5" stop-color="#00ca92"/><stop offset="0.5625" stop-color="#01cc83"/><stop offset="0.625" stop-color="#04ce78"/><stop offset="0.6875" stop-color="#07d16e"/><stop offset="0.75" stop-color="#16ce5e"/><stop offset="0.8125" stop-color="#58cc40"/><stop offset="0.875" stop-color="#9bcc16"/><stop offset="0.9375" stop-color="#e1cc00"/><stop offset="1" stop-color="#ffc313"/></linearGradient>
<linearGradient id="h97" x1="0" y1="1" x2="0" y2="0"><stop offset="0" stop-color="#00afeb"/><stop offset="0.0625" stop-color="#00b4df"/><stop offset="0.125" stop-color="#00bad4"/><stop offset="0.1875" stop-color="#00c0c3"/><stop offset="0.25" stop-color="#00c6b2"/><stop offset="0.3125" stop-color="#00c8a8"/><stop offset="0.375" stop-color="#00c99d"/><stop offset="0.4375" stop-color="#00ca93"/><stop offset="0.5" stop-color="#00cb89"/><stop offset="0.5625" stop-color="#02cd7d"/><stop offset="0.625" stop-color="#05cf73"/><stop offset="0.6875" stop-color="#0bd068"/><stop offset="0.75" stop-color="#32cd51"/><stop offset="0.8125" stop-color="#6ecc33"/><stop offset="0.875" stop-color="#a2cc12"/><stop offset="0.9375" stop-color="#e6cc00"/><stop offset="1" stop-color="#ffc412"/></linearGradient>
<linearGradient id="h98" x1="0" y1="1" x2="0" y2="0"><stop offset="0" stop-color="#00aeec"/><stop offset="0.0625" stop-color="#00b4e0"/><stop offset="0.125" stop-color="#00bad3"/><stop offset="0.1875" stop-color="#00c0c1"/><stop offset="0.25" stop-color="#00c6af"/><stop offset="0.3125" stop-color="#00c8a5"/><stop offset="0.375" stop-color="#00c99a"/><stop offset="0.4375" stop-color="#00cb8f"/><stop offset="0.5" stop-color="#00cc85"/><stop offset="0.5625" stop-color="#03ce7b"/><stop offset="0.625" stop-color="#06d071"/><stop offset="0.6875" stop-color="#0ed065"/><stop offset="0.75" stop-color="#3ccd4d"/><stop offset="0.8125" stop-color="#75cc2e"/><stop offset="0.875" stop-color="#a4cc12"/><stop offset="0.9375" stop-color="#e7cb01"/><stop offset="1" stop-color="#ffc511"/></linearGradient>
<linearGradient id="h99" x1="0" y1="1" x2="0" y2="0"><stop offset="0" stop-color="#00acee"/><stop offset="0.0625" stop-color="#00b3e2"/><stop offset="0.125" stop-color="#00b9d5"/><stop offset="0.1875" stop-color="#00c0c3"/><stop offset="0.25" stop-color="#00c6af"/><stop offset="0.3125" stop-color="#00c8a4"/><stop offset="0.375" stop-color="#00c999"/><stop offset="0.4375" stop-color="#00cb8d"/><stop offset="0.5" stop-color="#00cc83"/><stop offset="0.5625" stop-color="#03ce7a"/><stop offset="0.625" stop-color="#06d072"/><stop offset="0.6875" stop-color="#0bd067"/><stop offset="0.75" stop-color="#2ace55"/><stop offset="0.8125" stop-color="#61cc3a"/><stop offset="0.875" stop-color="#9acc17"/><stop offset="0.9375" stop-color="#e2cc00"/><stop offset="1" stop-color="#ffc413"/></linearGradient>
<linearGradient id="h100" x1="0" y1="1" x2="0" y2="0"><stop offset="0" stop-color="#00a8ef"/><stop offset="0.0625" stop-color="#00b1e6"/><stop offset="0.125" stop-color="#00b8d8"/><stop offset="0.1875" stop-color="#00bfc6"/><stop offset="0.25" stop-color="#00c5b2"/><stop offset="0.3125" stop-color="#00c8a6"/><stop offset="0.375" stop-color="#00c99a"/><stop offset="0.4375" stop-color="#00cb8e"/><stop offset="0.5" stop-color="#00cc83"/><stop offset="0.5625" stop-color="#03ce7c"/><stop offset="0.625" stop-color="#05cf74"/><stop offset="0.6875" stop-color="#07d16c"/><stop offset="0.75" stop-color="#13cf5f"/><stop offset="0.8125" stop-color="#4acd47"/><stop offset="0.875" stop-color="#89cc21"/><stop offset="0.9375" stop-color="#dbcc00"/><stop offset="1" stop-color="#ffc214"/></linearGradient>
<linearGradient id="h101" x1="0" y1="1" x2="0" y2="0"><stop offset="0" stop-color="#00a5f0"/><stop offset="0.0625" stop-color="#00afe9"/><stop offset="0.125" stop-color="#00b6db"/><stop offset="0.1875" stop-color="#00bdca"/><stop offset="0.25" stop-color="#00c5b5"/><stop offset="0.3125" stop-color="#00c7a9"/><stop offset="0.375" stop-color="#00c99d"/><stop offset="0.4375" stop-color="#00ca91"/><stop offset="0.5" stop-color="#00cc86"/><stop offset="0.5625" stop-color="#02cd7e"/><stop offset="0.625" stop-color="#04cf78"/><stop offset="0.6875" stop-color="#06d071"/><stop offset="0.75" stop-color="#09d16a"/><stop offset="0.8125" stop-color="#27ce56"/><stop offset="0.875" stop-color="#6ccc33"/><stop offset="0.9375" stop-color="#d3cc00"/><stop offset="1" stop-color="#ffc016"/></linearGradient>
<linearGradient id="h102" x1="0" y1="1" x2="0" y2="0"><stop offset="0" stop-color="#00a2f2"/><stop offset="0.0625" stop-color="#00aded"/><stop offset="0.125" stop-color="#00b5de"/><stop offset="0.1875" stop-color="#00bcce"/><stop offset="0.25" stop-color="#00c4b7"/><stop offset="0.3125" stop-color="#00c7ad"/><stop offset="0.375" stop-color="#00c8a1"/><stop offset="0.4375" stop-color="#00ca96"/><stop offset="0.5" stop-color="#00cb8a"/><stop offset="0.5625" stop-color="#00cc83"/><stop offset="0.625" stop-color="#02cd7e"/><stop offset="0.6875" stop-color="#03ce79"/><stop offset="0.75" stop-color="#05cf74"/><stop offset="0.8125" stop-color="#0bd067"/><stop offset="0.875" stop-color="#3dcd4c"/><stop offset="0.9375" stop-color="#c0cc03"/><stop offset="1" stop-color="#fcc111"/></linearGradient>
<linearGradient id="h103" x1="0" y1="1" x2="0" y2="0"><stop offset="0" stop-color="#009ef3"/><stop offset="0.0625" stop-color="#00aaee"/><stop offset="0.125" stop-color="#00b3e1"/><stop offset="0.1875" stop-color="#00bbd1"/><stop offset="0.25" stop-color="#00c3ba"/><stop offset="0.3125" stop-color="#00c6b1"/><stop offset="0.375" stop-color="#00c8a8"/><stop offset="0.4375" stop-color="#00c99f"/><stop offset="0.5" stop-color="#00ca95"/><stop offset="0.5625" stop-color="#00cb8f"/><stop offset="0.625" stop-color="#00cc88"/><stop offset="0.6875" stop-color="#01cc83"/><stop offset="0.75" stop-color="#02cd7f"/><stop offset="0.8125" stop-color="#05d072"/><stop offset="0.875" stop-color="#11cf62"/><stop offset="0.9375" stop-color="#9ccc15"/><stop offset="1" stop-color="#f3c508"/></linearGradient>
<linearGradient id="h104" x1="0" y1="1" x2="0" y2="0"><stop offset="0" stop-color="#009bf4"/><stop offset="0.0625" stop-color="#00a7ef"/><stop offset="0.125" stop-color="#00b1e5"/><stop offset="0.1875" stop-color="#00b9d6"/><stop offset="0.25" stop-color="#00c1c0"/><stop offset="0.3125" stop-color="#00c3b9"/><stop offset="0.375" stop-color="#00c6b1"/><stop offset="0.4375" stop-color="#00c7aa"/><stop offset="0.5" stop-color="#00c8a2"/><stop offset="0.5625" stop-color="#00c99d"/><stop offset="0.625" stop-color="#00ca97"/><stop offset="0.6875" stop-color="#00ca92"/><stop offset="0.75" stop-color="#00cb8c"/><stop offset="0.8125" stop-color="#03ce7c"/><stop offset="0.875" stop-color="#07d06e"/><stop offset="0.9375" stop-color="#5ccc3e"/><stop offset="1" stop-color="#e3cc00"/></linearGradient>
<linearGradient id="h105" x1="0" y1="1" x2="0" y2="0"><stop offset="0" stop-color="#0097f6"/><stop offset="0.0625" stop-color="#00a3f1"/><stop offset="0.125" stop-color="#00aeeb"/><stop offset="0.1875" stop-color="#00b6dc"/><stop offset="0.25" stop-color="#00bdca"/><stop offset="0.3125" stop-color="#00c0c4"/><stop offset="0.375" stop-color="#00c2bd"/><stop offset="0.4375" stop-color="#00c4b6"/><stop offset="0.5" stop-color="#00c6b0"/><stop offset="0.5625" stop-color="#00c7ab"/><stop offset="0.625" stop-color="#00c8a7"/><stop offset="0.6875" stop-color="#00c8a2"/><stop offset="0.75" stop-color="#00c99e"/><stop offset="0.8125" stop-color="#00cc87"/><stop offset="0.875" stop-color="#04cf77"/><stop offset="0.9375" stop-color="#15cf5e"/><stop offset="1" stop-color="#c5cc01"/></linearGradient>
<linearGradient id="h106" x1="0" y1="1" x2="0" y2="0"><stop offset="0" stop-color="#0094f7"/><stop offset="0.0625" stop-color="#009ff3"/><stop offset="0.125" stop-color="#00aaee"/><stop offset="0.1875" stop-color="#00b2e3"/><stop offset="0.25" stop-color="#00b9d5"/><stop offset="0.3125" stop-color="#00bccf"/><stop offset="0.375" stop-color="#00bec9"/><stop offset="0.4375" stop-color="#00c0c3"/><stop offset="0.5" stop-color="#00c2bc"/><stop offset="0.5625" stop-color="#00c3b9"/><stop offset="0.625" stop-color="#00c4b6"/><stop offset="0.6875" stop-color="#00c5b3"/><stop offset="0.75" stop-color="#00c6af"/><stop offset="0.8125" stop-color="#00c999"/><stop offset="0.875" stop-color="#00cc84"/><stop offset="0.9375" stop-color="#06d072"/><stop offset="1" stop-color="#66cc37"/></linearGradient>
<linearGradient id="h107" x1="0" y1="1" x2="0" y2="0"><stop offset="0" stop-color="#0091f9"/><stop offset="0.0625" stop-color="#009bf4"/><stop offset="0.125" stop-color="#00a6f0"/><stop offset="0.1875" stop-color="#00afea"/><stop offset="0.25" stop-color="#00b5dd"/><stop offset="0.3125" stop-color="#00b8d9"/><stop offset="0.375" stop-color="#00bad5"/><stop offset="0.4375" stop-color="#00bccf"/><stop offset="0.5" stop-color="#00bec9"/><stop offset="0.5625" stop-color="#00bec7"/><stop offset="0.625" stop-color="#00bfc5"/><stop offset="0.6875" stop-color="#00c0c2"/><stop offset="0.75" stop-color="#00c1c0"/><stop offset="0.8125" stop-color="#00c7ae"/><stop offset="0.875" stop-color="#00c99a"/><stop offset="0.9375" stop-color="#01cc83"/><stop offset="1" stop-color="#07d16c"/></linearGradient>
<linearGradient id="h108" x1="0" y1="1" x2="0" y2="0"><stop offset="0" stop-color="#008ffa"/><stop offset="0.0625" stop-color="#0098f5"/><stop offset="0.125" stop-color="#00a2f2"/><stop offset="0.1875" stop-color="#00abee"/><stop offset="0.25" stop-color="#00b2e5"/><stop offset="0.3125" stop-color="#00b3e1"/><stop offset="0.375" stop-color="#00b5dd"/><stop offset="0.4375" stop-color="#00b7d9"/><stop offset="0.5" stop-color="#00b9d5"/><stop offset="0.5625" stop-color="#00bad5"/><stop offset="0.625" stop-color="#00bad4"/><stop offset="0.6875" stop-color="#00bbd2"/><stop offset="0.75" stop-color="#00bbd1"/><stop offset="0.8125" stop-color="#00c0c1"/><stop offset="0.875" stop-color="#00c6b0"/><stop offset="0.9375" stop-color="#00c99d"/><stop offset="1" stop-color="#01cd81"/></linearGradient>
<linearGradient id="h109" x1="0" y1="1" x2="0" y2="0"><stop offset="0" stop-color="#008dfb"/><stop offset="0.0625" stop-color="#0096f6"/><stop offset="0.125" stop-color="#009ef3"/><stop offset="0.1875" stop-color="#00a6f0"/><stop offset="0.25" stop-color="#00aeec"/><stop offset="0.3125" stop-color="#00b0e9"/><stop offset="0.375" stop-color="#00b1e5"/><stop offset="0.4375" stop-color="#00b3e2"/><stop offset="0.5" stop-color="#00b5de"/><stop offset="0.5625" stop-color="#00b5de"/><stop offset="0.625" stop-color="#00b5de"/><stop offset="0.6875" stop-color="#00b5dd"/><stop offset="0.75" stop-color="#00b5dd"/><stop offset="0.8125" stop-color="#00bad4"/><stop offset="0.875" stop-color="#00bfc6"/><stop offset="0.9375" stop-color="#00c4b7"/><stop offset="1" stop-color="#00c99f"/></linearGradient>
<linearGradient id="h110" x1="0" y1="1" x2="0" y2="0"><stop offset="0" stop-color="#008cfb"/><stop offset="0.0625" stop-color="#0093f8"/><stop offset="0.125" stop-color="#009af4"/><stop offset="0.1875" stop-color="#00a2f2"/><stop offset="0.25" stop-color="#00a9ef"/><stop offset="0.3125" stop-color="#00abee"/><stop offset="0.375" stop-color="#00aded"/><stop offset="0.4375" stop-color="#00afea"/><stop offset="0.5" stop-color="#00b0e7"/><stop offset="0.5625" stop-color="#00b0e8"/><stop offset="0.625" stop-color="#00b0e8"/><stop offset="0.6875" stop-color="#00b0e8"/><stop offset="0.75" stop-color="#00b0e8"/><stop offset="0.8125" stop-color="#00b4e1"/><stop offset="0.875" stop-color="#00b8d9"/><stop offset="0.9375" stop-color="#00bccf"/><stop offset="1" stop-color="#00c2bd"/></linearGradient>
<linearGradient id="h111" x1="0" y1="1" x2="0" y2="0"><stop offset="0" stop-color="#008afc"/><stop offset="0.0625" stop-color="#0091f9"/><stop offset="0.125" stop-color="#0097f6"/><stop offset="0.1875" stop-color="#009ef3"/><stop offset="0.25" stop-color="#00a4f1"/><stop offset="0.3125" stop-color="#00a6f0"/><stop offset="0.375" stop-color="#00a8ef"/><stop offset="0.4375" stop-color="#00a9ef"/><stop offset="0.5" stop-color="#00abee"/><stop offset="0.5625" stop-color="#00aaee"/><stop offset="0.625" stop-color="#00aaef"/><stop offset="0.6875" stop-color="#00a9ef"/><stop offset="0.75" stop-color="#00a8ef"/><stop offset="0.8125" stop-color="#00aded"/><stop offset="0.875" stop-color="#00b1e7"/><stop offset="0.9375" stop-color="#00b4e0"/><stop offset="1" stop-color="#00b9d6"/></linearGradient>
<linearGradient id="h112" x1="0" y1="1" x2="0" y2="0"><stop offset="0" stop-color="#0089fd"/><stop offset="0.0625" stop-color="#008efa"/><stop offset="0.125" stop-color="#0094f7"/><stop offset="0.1875" stop-color="#009af5"/><stop offset="0.25" stop-color="#009ff2"/><stop offset="0.3125" stop-color="#00a1f2"/><stop offset="0.375" stop-color="#00a2f2"/><stop offset="0.4375" stop-color="#00a3f1"/><stop offset="0.5" stop-color="#00a4f1"/><stop offset="0.5625" stop-color="#00a3f1"/><stop offset="0.625" stop-color="#00a2f2"/><stop offset="0.6875" stop-color="#00a0f2"/><stop offset="0.75" stop-color="#009ff2"/><stop offset="0.8125" stop-color="#00a4f1"/><stop offset="0.875" stop-color="#00a8ef"/><stop offset="0.9375" stop-color="#00aded"/><stop offset="1" stop-color="#00b1e6"/></linearGradient>
<linearGradient id="h113" x1="0" y1="1" x2="0" y2="0"><stop offset="0" stop-color="#0087fe"/><stop offset="0.0625" stop-color="#008cfb"/><stop offset="0.125" stop-color="#0091f9"/><stop offset="0.1875" stop-color="#0096f6"/><stop offset="0.25" stop-color="#009bf4"/><stop offset="0.3125" stop-color="#009bf4"/><stop offset="0.375" stop-color="#009cf4"/><stop offset="0.4375" stop-color="#009cf4"/><stop offset="0.5" stop-color="#009df3"/><stop offset="0.5625" stop-color="#009bf4"/><stop offset="0.625" stop-color="#0099f5"/><stop offset="0.6875" stop-color="#0098f5"/><stop offset="0.75" stop-color="#0096f6"/><stop offset="0.8125" stop-color="#009af4"/><stop offset="0.875" stop-color="#009ef3"/><stop offset="0.9375" stop-color="#00a2f2"/><stop offset="1" stop-color="#00a7f0"/></linearGradient>
<linearGradient id="h114" x1="0" y1="1" x2="0" y2="0"><stop offset="0" stop-color="#0086ff"/><stop offset="0.0625" stop-color="#008afc"/><stop offset="0.125" stop-color="#008efa"/><stop offset="0.1875" stop-color="#0092f8"/><stop offset="0.25" stop-color="#0096f6"/><stop offset="0.3125" stop-color="#0096f6"/><stop offset="0.375" stop-color="#0096f6"/><stop offset="0.4375" stop-color="#0096f6"/><stop offset="0.5" stop-color="#0096f6"/><stop offset="0.5625" stop-color="#0094f8"/><stop offset="0.625" stop-color="#0091f9"/><stop offset="0.6875" stop-color="#008ffa"/><stop offset="0.75" stop-color="#008dfb"/><stop offset="0.8125" stop-color="#0090f9"/><stop offset="0.875" stop-color="#0094f8"/><stop offset="0.9375" stop-color="#0096f6"/><stop offset="1" stop-color="#009bf4"/></linearGradient>
<linearGradient id="h115" x1="0" y1="1" x2="0" y2="0"><stop offset="0" stop-color="#0184ff"/><stop offset="0.0625" stop-color="#0087fe"/><stop offset="0.125" stop-color="#008afc"/><stop offset="0.1875" stop-color="#008efa"/><stop offset="0.25" stop-color="#0091f9"/><stop offset="0.3125" stop-color="#0090f9"/><stop offset="0.375" stop-color="#0090f9"/><stop offset="0.4375" stop-color="#008ffa"/><stop offset="0.5" stop-color="#008ffa"/><stop offset="0.5625" stop-color="#008cfb"/><stop offset="0.625" stop-color="#008afc"/><stop offset="0.6875" stop-color="#0087fe"/><stop offset="0.75" stop-color="#0084ff"/><stop offset="0.8125" stop-color="#0087fe"/><stop offset="0.875" stop-color="#0089fd"/><stop offset="0.9375" stop-color="#008bfc"/><stop offset="1" stop-color="#008efa"/></linearGradient>
<linearGradient id="h116" x1="0" y1="1" x2="0" y2="0"><stop offset="0" stop-color="#0382ff"/><stop offset="0.0625" stop-color="#0085ff"/><stop offset="0.125" stop-color="#0087fe"/><stop offset="0.1875" stop-color="#008afd"/><stop offset="0.25" stop-color="#008cfb"/><stop offset="0.3125" stop-color="#008bfc"/><stop offset="0.375" stop-color="#008bfc"/><stop offset="0.4375" stop-color="#008afc"/><stop offset="0.5" stop-color="#0089fd"/><stop offset="0.5625" stop-color="#0086fe"/><stop offset="0.625" stop-color="#0382ff"/><stop offset="0.6875" stop-color="#087eff"/><stop offset="0.75" stop-color="#0d7aff"/><stop offset="0.8125" stop-color="#0b7bff"/><stop offset="0.875" stop-color="#0a7cff"/><stop offset="0.9375" stop-color="#097dff"/><stop offset="1" stop-color="#077fff"/></linearGradient>
<linearGradient id="h117" x1="0" y1="1" x2="0" y2="0"><stop offset="0" stop-color="#0580ff"/><stop offset="0.0625" stop-color="#0382ff"/><stop offset="0.125" stop-color="#0184ff"/><stop offset="0.1875" stop-color="#0085ff"/><stop offset="0.25" stop-color="#0087fe"/><stop offset="0.3125" stop-color="#0086fe"/><stop offset="0.375" stop-color="#0085ff"/><stop offset="0.4375" stop-color="#0084ff"/><stop offset="0.5" stop-color="#0183ff"/><stop offset="0.5625" stop-color="#077eff"/><stop offset="0.625" stop-color="#0d79ff"/><stop offset="0.6875" stop-color="#1675ff"/><stop offset="0.75" stop-color="#2070ff"/><stop offset="0.8125" stop-color="#216fff"/><stop offset="0.875" stop-color="#236eff"/><stop offset="0.9375" stop-color="#246eff"/><stop offset="1" stop-color="#256dff"/></linearGradient>
<linearGradient id="h118" x1="0" y1="1" x2="0" y2="0"><stop offset="0" stop-color="#077fff"/><stop offset="0.0625" stop-color="#067fff"/><stop offset="0.125" stop-color="#0680ff"/><stop offset="0.1875" stop-color="#0580ff"/><stop offset="0.25" stop-color="#0481ff"/><stop offset="0.3125" stop-color="#0680ff"/><stop offset="0.375" stop-color="#077fff"/><stop offset="0.4375" stop-color="#087eff"/><stop offset="0.5" stop-color="#0a7dff"/><stop offset="0.5625" stop-color="#1277ff"/><stop offset="0.625" stop-color="#1d71ff"/><stop offset="0.6875" stop-color="#296bff"/><stop offset="0.75" stop-color="#3064ff"/><stop offset="0.8125" stop-color="#3361ff"/><stop offset="0.875" stop-color="#365eff"/><stop offset="0.9375" stop-color="#385cff"/><stop offset="1" stop-color="#3958fe"/></linearGradient>
<linearGradient id="h119" x1="0" y1="1" x2="0" y2="0"><stop offset="0" stop-color="#087eff"/><stop offset="0.0625" stop-color="#097dff"/><stop offset="0.125" stop-color="#0a7cff"/><stop offset="0.1875" stop-color="#0b7cff"/><stop offset="0.25" stop-color="#0c7bff"/><stop offset="0.3125" stop-color="#0d7aff"/><stop offset="0.375" stop-color="#0f78ff"/><stop offset="0.4375" stop-color="#1177ff"/><stop offset="0.5" stop-color="#1376ff"/><stop offset="0.5625" stop-color="#206fff"/><stop offset="0.625" stop-color="#2c68ff"/><stop offset="0.6875" stop-color="#3460ff"/><stop offset="0.75" stop-color="#3958fe"/><stop offset="0.8125" stop-color="#3b54fc"/><stop offset="0.875" stop-color="#3c50fb"/><stop offset="0.9375" stop-color="#3d4cfa"/><stop offset="1" stop-color="#3f49f8"/></linearGradient>
<linearGradient id="h120" x1="0" y1="1" x2="0" y2="0"><stop offset="0" stop-color="#0a7cff"/><stop offset="0.0625" stop-color="#0c7bff"/><stop offset="0.125" stop-color="#0d7aff"/><stop offset="0.1875" stop-color="#0f78ff"/><stop offset="0.25" stop-color="#1177ff"/><stop offset="0.3125" stop-color="#1476ff"/><stop offset="0.375" stop-color="#1774ff"/><stop offset="0.4375" stop-color="#1a72ff"/><stop offset="0.5" stop-color="#1d71ff"/><stop offset="0.5625" stop-color="#2a6aff"/><stop offset="0.625" stop-color="#3361ff"/><stop offset="0.6875" stop-color="#3959fe"/><stop offset="0.75" stop-color="#3c50fb"/><stop offset="0.8125" stop-color="#3e4bf9"/><stop offset="0.875" stop-color="#3f47f7"/><stop offset="0.9375" stop-color="#4044f5"/><stop offset="1" stop-color="#4240f2"/></linearGradient>
<linearGradient id="h121" x1="0" y1="1" x2="0" y2="0"><stop offset="0" stop-color="#0c7bff"/><stop offset="0.0625" stop-color="#0d79ff"/><stop offset="0.125" stop-color="#0f78ff"/><stop offset="0.1875" stop-color="#1177ff"/><stop offset="0.25" stop-color="#1476ff"/><stop offset="0.3125" stop-color="#1873ff"/><stop offset="0.375" stop-color="#1c71ff"/><stop offset="0.4375" stop-color="#206fff"/><stop offset="0.5" stop-color="#256dff"/><stop offset="0.5625" stop-color="#2f65ff"/><stop offset="0.625" stop-color="#385cff"/><stop offset="0.6875" stop-color="#3b53fc"/><stop offset="0.75" stop-color="#3e4bf9"/><stop offset="0.8125" stop-color="#3f46f6"/><stop offset="0.875" stop-color="#4141f3"/><stop offset="0.9375" stop-color="#433df0"/><stop offset="1" stop-color="#4537ec"/></linearGradient>
<linearGradient id="h122" x1="0" y1="1" x2="0" y2="0"><stop offset="0" stop-color="#0e79ff"/><stop offset="0.0625" stop-color="#0f78ff"/><stop offset="0.125" stop-color="#1277ff"/><stop offset="0.1875" stop-color="#1475ff"/><stop offset="0.25" stop-color="#1774ff"/><stop offset="0.3125" stop-color="#1c71ff"/><stop offset="0.375" stop-color="#216fff"/><stop offset="0.4375" stop-color="#276cff"/><stop offset="0.5" stop-color="#2b69ff"/><stop offset="0.5625" stop-color="#3360ff"/><stop offset="0.625" stop-color="#3a58fe"/><stop offset="0.6875" stop-color="#3c4ffb"/><stop offset="0.75" stop-color="#3f48f7"/><stop offset="0.8125" stop-color="#4142f3"/><stop offset="0.875" stop-color="#433cf0"/><stop offset="0.9375" stop-color="#4537ec"/><stop offset="1" stop-color="#4530e3"/></linearGradient>
<linearGradient id="h123" x1="0" y1="1" x2="0" y2="0"><stop offset="0" stop-color="#0f78ff"/><stop offset="0.0625" stop-color="#1177ff"/><stop offset="0.125" stop-color="#1475ff"/><stop offset="0.1875" stop-color="#1774ff"/><stop offset="0.25" stop-color="#1a73ff"/><stop offset="0.3125" stop-color="#206fff"/><stop offset="0.375" stop-color="#266cff"/><stop offset="0.4375" stop-color="#2b69ff"/><stop offset="0.5" stop-color="#2f65ff"/><stop offset="0.5625" stop-color="#385cff"/><stop offset="0.625" stop-color="#3b53fc"/><stop offset="0.6875" stop-color="#3e4bf9"/><stop offset="0.75" stop-color="#4045f5"/><stop offset="0.8125" stop-color="#423ff1"/><stop offset="0.875" stop-color="#4439ee"/><stop offset="0.9375" stop-color="#4534e9"/><stop offset="1" stop-color="#452de0"/></linearGradient>
<linearGradient id="h124" x1="0" y1="1" x2="0" y2="0"><stop offset="0" stop-color="#0f78ff"/><stop offset="0.0625" stop-color="#1277ff"/><stop offset="0.125" stop-color="#1575ff"/><stop offset="0.1875" stop-color="#1973ff"/><stop offset="0.25" stop-color="#1d71ff"/><stop offset="0.3125" stop-color="#236eff"/><stop offset="0.375" stop-color="#296bff"/><stop offset="0.4375" stop-color="#2d67ff"/><stop offset="0.5" stop-color="#3063ff"/><stop offset="0.5625" stop-color="#395aff"/><stop offset="0.625" stop-color="#3c51fc"/><stop offset="0.6875" stop-color="#3e4af8"/><stop offset="0.75" stop-color="#4044f4"/><stop offset="0.8125" stop-color="#433ef1"/><stop offset="0.875" stop-color="#4538ed"/><stop offset="0.9375" stop-color="#4533e8"/><stop offset="1" stop-color="#452cdf"/></linearGradient>
<linearGradient id="h125" x1="0" y1="1" x2="0" y2="0"><stop offset="0" stop-color="#0e79ff"/><stop offset="0.0625" stop-color="#1177ff"/><stop offset="0.125" stop-color="#1575ff"/><stop offset="0.1875" stop-color="#1973ff"/><stop offset="0.25" stop-color="#1d71ff"/><stop offset="0.3125" stop-color="#226eff"/><stop offset="0.375" stop-color="#276cff"/><stop offset="0.4375" stop-color="#2b69ff"/><stop offset="0.5" stop-color="#2e66ff"/><stop offset="0.5625" stop-color="#375dff"/><stop offset="0.625" stop-color="#3b54fc"/><stop offset="0.6875" stop-color="#3d4cfa"/><stop offset="0.75" stop-color="#4046f6"/><stop offset="0.8125" stop-color="#4240f2"/><stop offset="0.875" stop-color="#4439ee"/><stop offset="0.9375" stop-color="#4534e8"/><stop offset="1" stop-color="#452cdf"/></linearGradient>
<linearGradient id="h126" x1="0" y1="1" x2="0" y2="0"><stop offset="0" stop-color="#0e79ff"/><stop offset="0.0625" stop-color="#1078ff"/><stop offset="0.125" stop-color="#1376ff"/><stop offset="0.1875" stop-color="#1774ff"/><stop offset="0.25" stop-color="#1a72ff"/><stop offset="0.3125" stop-color="#1f70ff"/><stop offset="0.375" stop-color="#246eff"/><stop offset="0.4375" stop-color="#286bff"/><stop offset="0.5" stop-color="#2c68ff"/><stop offset="0.5625" stop-color="#3460ff"/><stop offset="0.625" stop-color="#3958fe"/><stop offset="0.6875" stop-color="#3c50fb"/><stop offset="0.75" stop-color="#3e49f8"/><stop offset="0.8125" stop-color="#4143f4"/><stop offset="0.875" stop-color="#433cf0"/><stop offset="0.9375" stop-color="#4537ec"/><stop offset="1" stop-color="#452fe2"/></linearGradient>
<linearGradient id="h127" x1="0" y1="1" x2="0" y2="0"><stop offset="0" stop-color="#0d7aff"/><stop offset="0.0625" stop-color="#0f78ff"/><stop offset="0.125" stop-color="#1177ff"/><stop offset="0.1875" stop-color="#1476ff"/><stop offset="0.25" stop-color="#1774ff"/><stop offset="0.3125" stop-color="#1b72ff"/><stop offset="0.375" stop-color="#2070ff"/><stop offset="0.4375" stop-color="#246dff"/><stop offset="0.5" stop-color="#296bff"/><stop offset="0.5625" stop-color="#3064ff"/><stop offset="0.625" stop-color="#385cff"/><stop offset="0.6875" stop-color="#3b55fd"/><stop offset="0.75" stop-color="#3d4dfa"/><stop offset="0.8125" stop-color="#3f47f7"/><stop offset="0.875" stop-color="#4142f3"/><stop offset="0.9375" stop-color="#433df0"/><stop offset="1" stop-color="#4536eb"/></linearGradient>
<linearGradient id="h128" x1="0" y1="1" x2="0" y2="0"><stop offset="0" stop-color="#0c7aff"/><stop offset="0.0625" stop-color="#0e79ff"/><stop offset="0.125" stop-color="#0f78ff"/><stop offset="0.1875" stop-color="#1177ff"/><stop offset="0.25" stop-color="#1376ff"/><stop offset="0.3125" stop-color="#1774ff"/><stop offset="0.375" stop-color="#1b72ff"/><stop offset="0.4375" stop-color="#1e70ff"/><stop offset="0.5" stop-color="#226eff"/><stop offset="0.5625" stop-color="#2b69ff"/><stop offset="0.625" stop-color="#3163ff"/><stop offset="0.6875" stop-color="#375dff"/><stop offset="0.75" stop-color="#3a56fd"/><stop offset="0.8125" stop-color="#3d4ffb"/><stop offset="0.875" stop-color="#3f49f7"/><stop offset="0.9375" stop-color="#4044f5"/><stop offset="1" stop-color="#433ef1"/></linearGradient>
<linearGradient id="h129" x1="0" y1="1" x2="0" y2="0"><stop offset="0" stop-color="#097dff"/><stop offset="0.0625" stop-color="#0b7bff"/><stop offset="0.125" stop-color="#0c7aff"/><stop offset="0.1875" stop-color="#0e79ff"/><stop offset="0.25" stop-color="#1078ff"/><stop offset="0.3125" stop-color="#1177ff"/><stop offset="0.375" stop-color="#1376ff"/><stop offset="0.4375" stop-color="#1575ff"/><stop offset="0.5" stop-color="#1674ff"/><stop offset="0.5625" stop-color="#1f70ff"/><stop offset="0.625" stop-color="#286cff"/><stop offset="0.6875" stop-color="#2d67ff"/><stop offset="0.75" stop-color="#3361ff"/><stop offset="0.8125" stop-color="#395afe"/><stop offset="0.875" stop-color="#3b52fc"/><stop offset="0.9375" stop-color="#3d4cfa"/><stop offset="1" stop-color="#4046f6"/></linearGradient>
<linearGradient id="h130" x1="0" y1="1" x2="0" y2="0"><stop offset="0" stop-color="#0580ff"/><stop offset="0.0625" stop-color="#077fff"/><stop offset="0.125" stop-color="#087eff"/><stop offset="0.1875" stop-color="#0a7cff"/><stop offset="0.25" stop-color="#0c7bff"/><stop offset="0.3125" stop-color="#0c7bff"/><stop offset="0.375" stop-color="#0c7bff"/><stop offset="0.4375" stop-color="#0c7bff"/><stop offset="0.5" stop-color="#0c7bff"/><stop offset="0.5625" stop-color="#1077ff"/><stop offset="0.625" stop-color="#1874ff"/><stop offset="0.6875" stop-color="#1f70ff"/><stop offset="0.75" stop-color="#276cff"/><stop offset="0.8125" stop-color="#2f65ff"/><stop offset="0.875" stop-color="#365eff"/><stop offset="0.9375" stop-color="#3959fe"/><stop offset="1" stop-color="#3c50fb"/></linearGradient>
<linearGradient id="h131" x1="0" y1="1" x2="0" y2="0"><stop offset="0" stop-color="#0184ff"/><stop offset="0.0625" stop-color="#0283ff"/><stop offset="0.125" stop-color="#0481ff"/><stop offset="0.1875" stop-color="#0580ff"/><stop offset="0.25" stop-color="#077fff"/><stop offset="0.3125" stop-color="#0680ff"/><stop offset="0.375" stop-color="#0580ff"/><stop offset="0.4375" stop-color="#0481ff"/><stop offset="0.5" stop-color="#0482ff"/><stop offset="0.5625" stop-color="#077fff"/><stop offset="0.625" stop-color="#0b7cff"/><stop offset="0.6875" stop-color="#0f78ff"/><stop offset="0.75" stop-color="#1475ff"/><stop offset="0.8125" stop-color="#1f70ff"/><stop offset="0.875" stop-color="#296bff"/><stop offset="0.9375" stop-color="#2e66ff"/><stop offset="1" stop-color="#365eff"/></linearGradient>
<linearGradient id="h132" x1="0" y1="1" x2="0" y2="0"><stop offset="0" stop-color="#0087fe"/><stop offset="0.0625" stop-color="#0086fe"/><stop offset="0.125" stop-color="#0085ff"/><stop offset="0.1875" stop-color="#0084ff"/><stop offset="0.25" stop-color="#0183ff"/><stop offset="0.3125" stop-color="#0085ff"/><stop offset="0.375" stop-color="#0085ff"/><stop offset="0.4375" stop-color="#0086fe"/><stop offset="0.5" stop-color="#0087fe"/><stop offset="0.5625" stop-color="#0085ff"/><stop offset="0.625" stop-color="#0283ff"/><stop offset="0.6875" stop-color="#0581ff"/><stop offset="0.75" stop-color="#077eff"/><stop offset="0.8125" stop-color="#0d7aff"/><stop offset="0.875" stop-color="#1575ff"/><stop offset="0.9375" stop-color="#1d71ff"/><stop offset="1" stop-color="#286cff"/></linearGradient>
<linearGradient id="h133" x1="0" y1="1" x2="0" y2="0"><stop offset="0" stop-color="#008afc"/><stop offset="0.0625" stop-color="#0089fd"/><stop offset="0.125" stop-color="#0089fd"/><stop offset="0.1875" stop-color="#0088fd"/><stop offset="0.25" stop-color="#0088fd"/><stop offset="0.3125" stop-color="#0089fd"/><stop offset="0.375" stop-color="#008afc"/><stop offset="0.4375" stop-color="#008bfc"/><stop offset="0.5" stop-color="#008cfb"/><stop offset="0.5625" stop-color="#008bfc"/><stop offset="0.625" stop-color="#0089fd"/><stop offset="0.6875" stop-color="#0088fd"/><stop offset="0.75" stop-color="#0087fe"/><stop offset="0.8125" stop-color="#0283ff"/><stop offset="0.875" stop-color="#077fff"/><stop offset="0.9375" stop-color="#0a7cff"/><stop offset="1" stop-color="#1177ff"/></linearGradient>
<linearGradient id="h134" x1="0" y1="1" x2="0" y2="0"><stop offset="0" stop-color="#008cfb"/><stop offset="0.0625" stop-color="#008cfb"/><stop offset="0.125" stop-color="#008dfb"/><stop offset="0.1875" stop-color="#008dfb"/><stop offset="0.25" stop-color="#008dfb"/><stop offset="0.3125" stop-color="#008efb"/><stop offset="0.375" stop-color="#008efa"/><stop offset="0.4375" stop-color="#008ffa"/><stop offset="0.5" stop-color="#0090f9"/><stop offset="0.5625" stop-color="#0090f9"/><stop offset="0.625" stop-color="#008ffa"/><stop offset="0.6875" stop-color="#008ffa"/><stop offset="0.75" stop-color="#008efa"/><stop offset="0.8125" stop-color="#008bfc"/><stop offset="0.875" stop-color="#0088fd"/><stop offset="0.9375" stop-color="#0086fe"/><stop offset="1" stop-color="#0382ff"/></linearGradient>
<linearGradient id="h135" x1="0" y1="1" x2="0" y2="0"><stop offset="0" stop-color="#008ffa"/><stop offset="0.0625" stop-color="#0090f9"/><stop offset="0.125" stop-color="#0090f9"/><stop offset="0.1875" stop-color="#0091f9"/><stop offset="0.25" stop-color="#0091f9"/><stop offset="0.3125" stop-color="#0092f8"/><stop offset="0.375" stop-color="#0093f8"/><stop offset="0.4375" stop-color="#0094f7"/><stop offset="0.5" stop-color="#0095f7"/><stop offset="0.5625" stop-color="#0095f7"/><stop offset="0.625" stop-color="#0095f7"/><stop offset="0.6875" stop-color="#0095f7"/><stop offset="0.75" stop-color="#0095f7"/><stop offset="0.8125" stop-color="#0093f8"/><stop offset="0.875" stop-color="#0091f9"/><stop offset="0.9375" stop-color="#008ffa"/><stop offset="1" stop-color="#008cfb"/></linearGradient>
<linearGradient id="h136" x1="0" y1="1" x2="0" y2="0"><stop offset="0" stop-color="#0092f8"/><stop offset="0.0625" stop-color="#0093f8"/><stop offset="0.125" stop-color="#0094f7"/><stop offset="0.1875" stop-color="#0095f7"/><stop offset="0.25" stop-color="#0096f6"/><stop offset="0.3125" stop-color="#0097f6"/><stop offset="0.375" stop-color="#0098f5"/><stop offset="0.4375" stop-color="#0099f5"/><stop offset="0.5" stop-color="#009af5"/><stop offset="0.5625" stop-color="#009af4"/><stop offset="0.625" stop-color="#009bf4"/><stop offset="0.6875" stop-color="#009cf4"/><stop offset="0.75" stop-color="#009cf4"/><stop offset="0.8125" stop-color="#009af4"/><stop offset="0.875" stop-color="#0099f5"/><stop offset="0.9375" stop-color="#0097f6"/><stop offset="1" stop-color="#0095f7"/></linearGradient>
<linearGradient id="h137" x1="0" y1="1" x2="0" y2="0"><stop offset="0" stop-color="#0095f7"/><stop offset="0.0625" stop-color="#0096f6"/><stop offset="0.125" stop-color="#0098f5"/><stop offset="0.1875" stop-color="#0099f5"/><stop offset="0.25" stop-color="#009af4"/><stop offset="0.3125" stop-color="#009bf4"/><stop offset="0.375" stop-color="#009cf4"/><stop offset="0.4375" stop-color="#009df3"/><stop offset="0.5" stop-color="#009ef3"/><stop offset="0.5625" stop-color="#00a0f2"/><stop offset="0.625" stop-color="#00a1f2"/><stop offset="0.6875" stop-color="#00a2f1"/><stop offset="0.75" stop-color="#00a3f1"/><stop offset="0.8125" stop-color="#00a2f1"/><stop offset="0.875" stop-color="#00a1f2"/><stop offset="0.9375" stop-color="#00a0f2"/><stop offset="1" stop-color="#009ef3"/></linearGradient>
<linearGradient id="h138" x1="0" y1="1" x2="0" y2="0"><stop offset="0" stop-color="#0098f5"/><stop offset="0.0625" stop-color="#0099f5"/><stop offset="0.125" stop-color="#009bf4"/><stop offset="0.1875" stop-color="#009df3"/><stop offset="0.25" stop-color="#009ef3"/><stop offset="0.3125" stop-color="#009ff2"/><stop offset="0.375" stop-color="#00a1f2"/><stop offset="0.4375" stop-color="#00a2f1"/><stop offset="0.5" stop-color="#00a3f1"/><stop offset="0.5625" stop-color="#00a5f0"/><stop offset="0.625" stop-color="#00a7f0"/><stop offset="0.6875" stop-color="#00a9ef"/><stop offset="0.75" stop-color="#00aaee"/><stop offset="0.8125" stop-color="#00aaef"/><stop offset="0.875" stop-color="#00a9ef"/><stop offset="0.9375" stop-color="#00a8ef"/><stop offset="1" stop-color="#00a7ef"/></linearGradient>
<linearGradient id="h139" x1="0" y1="1" x2="0" y2="0"><stop offset="0" stop-color="#009bf4"/><stop offset="0.0625" stop-color="#009df3"/><stop offset="0.125" stop-color="#009ef3"/><stop offset="0.1875" stop-color="#00a0f2"/><stop offset="0.25" stop-color="#00a2f1"/><stop offset="0.3125" stop-color="#00a3f1"/><stop offset="0.375" stop-color="#00a5f0"/><stop offset="0.4375" stop-color="#00a6f0"/><stop offset="0.5" stop-color="#00a8ef"/><stop offset="0.5625" stop-color="#00aaee"/><stop offset="0.625" stop-color="#00acee"/><stop offset="0.6875" stop-color="#00aeec"/><stop offset="0.75" stop-color="#00afea"/><stop offset="0.8125" stop-color="#00afea"/><stop offset="0.875" stop-color="#00afea"/><stop offset="0.9375" stop-color="#00afea"/><stop offset="1" stop-color="#00afea"/></linearGradient>
<linearGradient id="h140" x1="0" y1="1" x2="0" y2="0"><stop offset="0" stop-color="#009ef3"/><stop offset="0.0625" stop-color="#00a0f2"/><stop offset="0.125" stop-color="#00a2f2"/><stop offset="0.1875" stop-color="#00a4f1"/><stop offset="0.25" stop-color="#00a6f0"/><stop offset="0.3125" stop-color="#00a7ef"/><stop offset="0.375" stop-color="#00a9ef"/><stop offset="0.4375" stop-color="#00abee"/><stop offset="0.5" stop-color="#00acee"/><stop offset="0.5625" stop-color="#00aeec"/><stop offset="0.625" stop-color="#00afe9"/><stop offset="0.6875" stop-color="#00b1e6"/><stop offset="0.75" stop-color="#00b2e4"/><stop offset="0.8125" stop-color="#00b3e3"/><stop offset="0.875" stop-color="#00b3e2"/><stop offset="0.9375" stop-color="#00b4e1"/><stop offset="1" stop-color="#00b4df"/></linearGradient>
<linearGradient id="h141" x1="0" y1="1" x2="0" y2="0"><stop offset="0" stop-color="#00a0f2"/><stop offset="0.0625" stop-color="#00a3f1"/><stop offset="0.125" stop-color="#00a5f0"/><stop offset="0.1875" stop-color="#00a7ef"/><stop offset="0.25" stop-color="#00aaef"/><stop offset="0.3125" stop-color="#00abee"/><stop offset="0.375" stop-color="#00aded"/><stop offset="0.4375" stop-color="#00aeec"/><stop offset="0.5" stop-color="#00afea"/><stop offset="0.5625" stop-color="#00b1e7"/><stop offset="0.625" stop-color="#00b2e4"/><stop offset="0.6875" stop-color="#00b4e1"/><stop offset="0.75" stop-color="#00b5de"/><stop offset="0.8125" stop-color="#00b6dc"/><stop offset="0.875" stop-color="#00b7d9"/><stop offset="0.9375" stop-color="#00b8d7"/><stop offset="1" stop-color="#00bad5"/></linearGradient>
<linearGradient id="h142" x1="0" y1="1" x2="0" y2="0"><stop offset="0" stop-color="#00a3f1"/><stop offset="0.0625" stop-color="#00a6f0"/><stop offset="0.125" stop-color="#00a8ef"/><stop offset="0.1875" stop-color="#00abee"/><stop offset="0.25" stop-color="#00aded"/><stop offset="0.3125" stop-color="#00aeeb"/><stop offset="0.375" stop-color="#00afe9"/><stop offset="0.4375" stop-color="#00b0e7"/><stop offset="0.5" stop-color="#00b1e5"/><stop offset="0.5625" stop-color="#00b3e2"/><stop offset="0.625" stop-color="#00b5df"/><stop offset="0.6875" stop-color="#00b6db"/><stop offset="0.75" stop-color="#00b8d8"/><stop offset="0.8125" stop-color="#00bad5"/><stop offset="0.875" stop-color="#00bbd1"/><stop offset="0.9375" stop-color="#00bccd"/><stop offset="1" stop-color="#00bec8"/></linearGradient>
<linearGradient id="h143" x1="0" y1="1" x2="0" y2="0"><stop offset="0" stop-color="#00a5f0"/><stop offset="0.0625" stop-color="#00a8ef"/><stop offset="0.125" stop-color="#00aaee"/><stop offset="0.1875" stop-color="#00aded"/><stop offset="0.25" stop-color="#00afea"/><stop offset="0.3125" stop-color="#00b0e8"/><stop offset="0.375" stop-color="#00b1e5"/><stop offset="0.4375" stop-color="#00b2e3"/><stop offset="0.5" stop-color="#00b4e1"/><stop offset="0.5625" stop-color="#00b5dd"/><stop offset="0.625" stop-color="#00b7da"/><stop offset="0.6875" stop-color="#00b9d6"/><stop offset="0.75" stop-color="#00bbd2"/><stop offset="0.8125" stop-color="#00bccd"/><stop offset="0.875" stop-color="#00bec8"/><stop offset="0.9375" stop-color="#00bfc5"/><stop offset="1" stop-color="#00c1bf"/></linearGradient>
<linearGradient id="h144" x1="0" y1="1" x2="0" y2="0"><stop offset="0" stop-color="#00a6f0"/><stop offset="0.0625" stop-color="#00a9ef"/><stop offset="0.125" stop-color="#00acee"/><stop offset="0.1875" stop-color="#00aeeb"/><stop offset="0.25" stop-color="#00b0e7"/><stop offset="0.3125" stop-color="#00b2e4"/><stop offset="0.375" stop-color="#00b3e2"/><stop offset="0.4375" stop-color="#00b4df"/><stop offset="0.5" stop-color="#00b6dc"/><stop offset="0.5625" stop-color="#00b8d9"/><stop offset="0.625" stop-color="#00b9d5"/><stop offset="0.6875" stop-color="#00bbd1"/><stop offset="0.75" stop-color="#00bdcc"/><stop offset="0.8125" stop-color="#00bec7"/><stop offset="0.875" stop-color="#00c0c2"/><stop offset="0.9375" stop-color="#00c1be"/><stop offset="1" stop-color="#00c3b8"/></linearGradient>
<linearGradient id="h145" x1="0" y1="1" x2="0" y2="0"><stop offset="0" stop-color="#00a7f0"/><stop offset="0.0625" stop-color="#00aaee"/><stop offset="0.125" stop-color="#00aded"/><stop offset="0.1875" stop-color="#00b0e9"/><stop offset="0.25" stop-color="#00b2e4"/><stop offset="0.3125" stop-color="#00b3e1"/><stop offset="0.375" stop-color="#00b5de"/><stop offset="0.4375" stop-color="#00b6db"/><stop offset="0.5" stop-color="#00b8d8"/><stop offset="0.5625" stop-color="#00b9d5"/><stop offset="0.625" stop-color="#00bbd2"/><stop offset="0.6875" stop-color="#00bcce"/><stop offset="0.75" stop-color="#00bdca"/><stop offset="0.8125" stop-color="#00bfc4"/><stop offset="0.875" stop-color="#00c1be"/><stop offset="0.9375" stop-color="#00c3b9"/><stop offset="1" stop-color="#00c6b1"/></linearGradient>
<linearGradient id="h146" x1="0" y1="1" x2="0" y2="0"><stop offset="0" stop-color="#00a7f0"/><stop offset="0.0625" stop-color="#00abee"/><stop offset="0.125" stop-color="#00aeeb"/><stop offset="0.1875" stop-color="#00b1e6"/><stop offset="0.25" stop-color="#00b3e1"/><stop offset="0.3125" stop-color="#00b5de"/><stop offset="0.375" stop-color="#00b6dc"/><stop offset="0.4375" stop-color="#00b8d9"/><stop offset="0.5" stop-color="#00b9d6"/><stop offset="0.5625" stop-color="#00bad3"/><stop offset="0.625" stop-color="#00bbd0"/><stop offset="0.6875" stop-color="#00bdcc"/><stop offset="0.75" stop-color="#00bec9"/><stop offset="0.8125" stop-color="#00c0c3"/><stop offset="0.875" stop-color="#00c2bd"/><stop offset="0.9375" stop-color="#00c3b8"/><stop offset="1" stop-color="#00c6b0"/></linearGradient>
<linearGradient id="h147" x1="0" y1="1" x2="0" y2="0"><stop offset="0" stop-color="#00a8ef"/><stop offset="0.0625" stop-color="#00acee"/><stop offset="0.125" stop-color="#00afe9"/><stop offset="0.1875" stop-color="#00b2e4"/><stop offset="0.25" stop-color="#00b5df"/><stop offset="0.3125" stop-color="#00b6dc"/><stop offset="0.375" stop-color="#00b7da"/><stop offset="0.4375" stop-color="#00b8d7"/><stop offset="0.5" stop-color="#00bad5"/><stop offset="0.5625" stop-color="#00bbd2"/><stop offset="0.625" stop-color="#00bcce"/><stop offset="0.6875" stop-color="#00bdcb"/><stop offset="0.75" stop-color="#00bec7"/><stop offset="0.8125" stop-color="#00c0c2"/><stop offset="0.875" stop-color="#00c1be"/><stop offset="0.9375" stop-color="#00c3ba"/><stop offset="1" stop-color="#00c5b4"/></linearGradient>
<linearGradient id="h148" x1="0" y1="1" x2="0" y2="0"><stop offset="0" stop-color="#00a8ef"/><stop offset="0.0625" stop-color="#00aded"/><stop offset="0.125" stop-color="#00b0e8"/><stop offset="0.1875" stop-color="#00b3e3"/><stop offset="0.25" stop-color="#00b5dd"/><stop offset="0.3125" stop-color="#00b7db"/><stop offset="0.375" stop-color="#00b8d9"/><stop offset="0.4375" stop-color="#00b9d6"/><stop offset="0.5" stop-color="#00bad4"/><stop offset="0.5625" stop-color="#00bbd1"/><stop offset="0.625" stop-color="#00bccd"/><stop offset="0.6875" stop-color="#00bec9"/><stop offset="0.75" stop-color="#00bfc6"/><stop offset="0.8125" stop-color="#00c0c2"/><stop offset="0.875" stop-color="#00c1bf"/><stop offset="0.9375" stop-color="#00c2bd"/><stop offset="1" stop-color="#00c3b9"/></linearGradient>
<linearGradient id="h149" x1="0" y1="1" x2="0" y2="0"><stop offset="0" stop-color="#00a9ef"/><stop offset="0.0625" stop-color="#00aded"/><stop offset="0.125" stop-color="#00b0e8"/><stop offset="0.1875" stop-color="#00b3e2"/><stop offset="0.25" stop-color="#00b6dc"/><stop offset="0.3125" stop-color="#00b7da"/><stop offset="0.375" stop-color="#00b8d8"/><stop offset="0.4375" stop-color="#00b9d5"/><stop offset="0.5" stop-color="#00bad3"/><stop offset="0.5625" stop-color="#00bccf"/><stop offset="0.625" stop-color="#00bdcc"/><stop offset="0.6875" stop-color="#00bec8"/><stop offset="0.75" stop-color="#00bfc4"/><stop offset="0.8125" stop-color="#00c0c3"/><stop offset="0.875" stop-color="#00c0c2"/><stop offset="0.9375" stop-color="#00c0c1"/><stop offset="1" stop-color="#00c1bf"/></linearGradient>
<linearGradient id="h150" x1="0" y1="1" x2="0" y2="0"><stop offset="0" stop-color="#00a9ef"/><stop offset="0.0625" stop-color="#00aeed"/><stop offset="0.125" stop-color="#00b1e7"/><stop offset="0.1875" stop-color="#00b3e1"/><stop offset="0.25" stop-color="#00b6db"/><stop offset="0.3125" stop-color="#00b7d9"/><stop offset="0.375" stop-color="#00b9d7"/><stop offset="0.4375" stop-color="#00bad5"/><stop offset="0.5" stop-color="#00bbd2"/><stop offset="0.5625" stop-color="#00bcce"/><stop offset="0.625" stop-color="#00bdca"/><stop offset="0.6875" stop-color="#00bec7"/><stop offset="0.75" stop-color="#00c0c3"/><stop offset="0.8125" stop-color="#00bfc5"/><stop offset="0.875" stop-color="#00bec7"/><stop offset="0.9375" stop-color="#00bec9"/><stop offset="1" stop-color="#00bdcb"/></linearGradient>
<linearGradient id="h151" x1="0" y1="1" x2="0" y2="0"><stop offset="0" stop-color="#00a8ef"/><stop offset="0.0625" stop-color="#00aded"/><stop offset="0.125" stop-color="#00b1e7"/><stop offset="0.1875" stop-color="#00b4e0"/><stop offset="0.25" stop-color="#00b7da"/><stop offset="0.3125" stop-color="#00b8d8"/><stop offset="0.375" stop-color="#00b9d6"/><stop offset="0.4375" stop-color="#00bad4"/><stop offset="0.5" stop-color="#00bbd1"/><stop offset="0.5625" stop-color="#00bccd"/><stop offset="0.625" stop-color="#00bec9"/><stop offset="0.6875" stop-color="#00bfc5"/><stop offset="0.75" stop-color="#00c0c2"/><stop offset="0.8125" stop-color="#00bec7"/><stop offset="0.875" stop-color="#00bccd"/><stop offset="0.9375" stop-color="#00bbd2"/><stop offset="1" stop-color="#00b9d7"/></linearGradient>
<linearGradient id="h152" x1="0" y1="1" x2="0" y2="0"><stop offset="0" stop-color="#00a8ef"/><stop offset="0.0625" stop-color="#00aded"/><stop offset="0.125" stop-color="#00b1e7"/><stop offset="0.1875" stop-color="#00b4e0"/><stop offset="0.25" stop-color="#00b7d9"/><stop offset="0.3125" stop-color="#00b8d7"/><stop offset="0.375" stop-color="#00b9d5"/><stop offset="0.4375" stop-color="#00bad3"/><stop offset="0.5" stop-color="#00bbd0"/><stop offset="0.5625" stop-color="#00bccd"/><stop offset="0.625" stop-color="#00bec9"/><stop offset="0.6875" stop-color="#00bfc5"/><stop offset="0.75" stop-color="#00c0c2"/><stop offset="0.8125" stop-color="#00bdcb"/><stop offset="0.875" stop-color="#00bad4"/><stop offset="0.9375" stop-color="#00b8d9"/><stop offset="1" stop-color="#00b4e0"/></linearGradient>
<linearGradient id="h153" x1="0" y1="1" x2="0" y2="0"><stop offset="0" stop-color="#00a7f0"/><stop offset="0.0625" stop-color="#00aded"/><stop offset="0.125" stop-color="#00b0e7"/><stop offset="0.1875" stop-color="#00b4e0"/><stop offset="0.25" stop-color="#00b7d9"/><stop offset="0.3125" stop-color="#00b8d8"/><stop offset="0.375" stop-color="#00b9d6"/><stop offset="0.4375" stop-color="#00bad4"/><stop offset="0.5" stop-color="#00bbd2"/><stop offset="0.5625" stop-color="#00bcce"/><stop offset="0.625" stop-color="#00bdcb"/><stop offset="0.6875" stop-color="#00bec7"/><stop offset="0.75" stop-color="#00c0c3"/><stop offset="0.8125" stop-color="#00bcd0"/><stop offset="0.875" stop-color="#00b7d9"/><stop offset="0.9375" stop-color="#00b4df"/><stop offset="1" stop-color="#00afe9"/></linearGradient>
<linearGradient id="h154" x1="0" y1="1" x2="0" y2="0"><stop offset="0" stop-color="#00a6f0"/><stop offset="0.0625" stop-color="#00acee"/><stop offset="0.125" stop-color="#00b0e8"/><stop offset="0.1875" stop-color="#00b3e1"/><stop offset="0.25" stop-color="#00b7da"/><stop offset="0.3125" stop-color="#00b8d9"/><stop offset="0.375" stop-color="#00b9d7"/><stop offset="0.4375" stop-color="#00b9d5"/><stop offset="0.5" stop-color="#00bad3"/><stop offset="0.5625" stop-color="#00bbd0"/><stop offset="0.625" stop-color="#00bdcc"/><stop offset="0.6875" stop-color="#00bec9"/><stop offset="0.75" stop-color="#00bfc6"/><stop offset="0.8125" stop-color="#00bad4"/><stop offset="0.875" stop-color="#00b5de"/><stop offset="0.9375" stop-color="#00b1e6"/><stop offset="1" stop-color="#00a9ef"/></linearGradient>
<linearGradient id="h155" x1="0" y1="1" x2="0" y2="0"><stop offset="0" stop-color="#00a5f0"/><stop offset="0.0625" stop-color="#00abee"/><stop offset="0.125" stop-color="#00afea"/><stop offset="0.1875" stop-color="#00b3e2"/><stop offset="0.25" stop-color="#00b6db"/><stop offset="0.3125" stop-color="#00b7da"/><stop offset="0.375" stop-color="#00b8d8"/><stop offset="0.4375" stop-color="#00b9d6"/><stop offset="0.5" stop-color="#00bad4"/><stop offset="0.5625" stop-color="#00bbd1"/><stop offset="0.625" stop-color="#00bcce"/><stop offset="0.6875" stop-color="#00bdcb"/><stop offset="0.75" stop-color="#00bec8"/><stop offset="0.8125" stop-color="#00b8d8"/><stop offset="0.875" stop-color="#00b2e4"/><stop offset="0.9375" stop-color="#00aded"/><stop offset="1" stop-color="#00a2f2"/></linearGradient>
<linearGradient id="h156" x1="0" y1="1" x2="0" y2="0"><stop offset="0" stop-color="#00a1f2"/><stop offset="0.0625" stop-color="#00a7ef"/><stop offset="0.125" stop-color="#00aeec"/><stop offset="0.1875" stop-color="#00b2e4"/><stop offset="0.25" stop-color="#00b6dc"/><stop offset="0.3125" stop-color="#00b7db"/><stop offset="0.375" stop-color="#00b8d9"/><stop offset="0.4375" stop-color="#00b9d7"/><stop offset="0.5" stop-color="#00b9d5"/><stop offset="0.5625" stop-color="#00bad3"/><stop offset="0.625" stop-color="#00bbd0"/><stop offset="0.6875" stop-color="#00bccd"/><stop offset="0.75" stop-color="#00bdca"/><stop offset="0.8125" stop-color="#00b6db"/><stop offset="0.875" stop-color="#00afe9"/><stop offset="0.9375" stop-color="#00a7ef"/><stop offset="1" stop-color="#009af4"/></linearGradient>
<linearGradient id="h157" x1="0" y1="1" x2="0" y2="0"><stop offset="0" stop-color="#009cf4"/><stop offset="0.0625" stop-color="#00a3f1"/><stop offset="0.125" stop-color="#00abee"/><stop offset="0.1875" stop-color="#00b0e7"/><stop offset="0.25" stop-color="#00b5de"/><stop offset="0.3125" stop-color="#00b6dc"/><stop offset="0.375" stop-color="#00b7da"/><stop offset="0.4375" stop-color="#00b8d8"/><stop offset="0.5" stop-color="#00b9d6"/><stop offset="0.5625" stop-color="#00bad5"/><stop offset="0.625" stop-color="#00bad3"/><stop offset="0.6875" stop-color="#00bbd0"/><stop offset="0.75" stop-color="#00bcce"/><stop offset="0.8125" stop-color="#00b4e0"/><stop offset="0.875" stop-color="#00acee"/><stop offset="0.9375" stop-color="#00a2f2"/><stop offset="1" stop-color="#0092f8"/></linearGradient>
<linearGradient id="h158" x1="0" y1="1" x2="0" y2="0"><stop offset="0" stop-color="#0097f6"/><stop offset="0.0625" stop-color="#009ff3"/><stop offset="0.125" stop-color="#00a7f0"/><stop offset="0.1875" stop-color="#00aeeb"/><stop offset="0.25" stop-color="#00b3e1"/><stop offset="0.3125" stop-color="#00b4e0"/><stop offset="0.375" stop-color="#00b5de"/><stop offset="0.4375" stop-color="#00b6dc"/><stop offset="0.5" stop-color="#00b7da"/><stop offset="0.5625" stop-color="#00b7d9"/><stop offset="0.625" stop-color="#00b8d8"/><stop offset="0.6875" stop-color="#00b8d7"/><stop offset="0.75" stop-color="#00b9d6"/><stop offset="0.8125" stop-color="#00b1e7"/><stop offset="0.875" stop-color="#00a5f0"/><stop offset="0.9375" stop-color="#009bf4"/><stop offset="1" stop-color="#008bfc"/></linearGradient>
<linearGradient id="h159" x1="0" y1="1" x2="0" y2="0"><stop offset="0" stop-color="#0091f9"/><stop offset="0.0625" stop-color="#009af5"/><stop offset="0.125" stop-color="#00a2f1"/><stop offset="0.1875" stop-color="#00aaee"/><stop offset="0.25" stop-color="#00b1e7"/><stop offset="0.3125" stop-color="#00b1e5"/><stop offset="0.375" stop-color="#00b2e3"/><stop offset="0.4375" stop-color="#00b3e2"/><stop offset="0.5" stop-color="#00b4e0"/><stop offset="0.5625" stop-color="#00b4e0"/><stop offset="0.625" stop-color="#00b4df"/><stop offset="0.6875" stop-color="#00b5df"/><stop offset="0.75" stop-color="#00b5de"/><stop offset="0.8125" stop-color="#00acee"/><stop offset="0.875" stop-color="#009ff3"/><stop offset="0.9375" stop-color="#0094f7"/><stop offset="1" stop-color="#0184ff"/></linearGradient>
<linearGradient id="h160" x1="0" y1="1" x2="0" y2="0"><stop offset="0" stop-color="#008cfb"/><stop offset="0.0625" stop-color="#0095f7"/><stop offset="0.125" stop-color="#009df3"/><stop offset="0.1875" stop-color="#00a6f0"/><stop offset="0.25" stop-color="#00aeec"/><stop offset="0.3125" stop-color="#00afeb"/><stop offset="0.375" stop-color="#00afe9"/><stop offset="0.4375" stop-color="#00b0e8"/><stop offset="0.5" stop-color="#00b1e7"/><stop offset="0.5625" stop-color="#00b1e6"/><stop offset="0.625" stop-color="#00b1e6"/><stop offset="0.6875" stop-color="#00b1e6"/><stop offset="0.75" stop-color="#00b1e6"/><stop offset="0.8125" stop-color="#00a6f0"/><stop offset="0.875" stop-color="#0099f5"/><stop offset="0.9375" stop-color="#008ffa"/><stop offset="1" stop-color="#087eff"/></linearGradient>
<linearGradient id="h161" x1="0" y1="1" x2="0" y2="0"><stop offset="0" stop-color="#0087fe"/><stop offset="0.0625" stop-color="#0090f9"/><stop offset="0.125" stop-color="#0099f5"/><stop offset="0.1875" stop-color="#00a1f2"/><stop offset="0.25" stop-color="#00aaee"/><stop offset="0.3125" stop-color="#00abee"/><stop offset="0.375" stop-color="#00acee"/><stop offset="0.4375" stop-color="#00aded"/><stop offset="0.5" stop-color="#00aded"/><stop offset="0.5625" stop-color="#00aded"/><stop offset="0.625" stop-color="#00aded"/><stop offset="0.6875" stop-color="#00aded"/><stop offset="0.75" stop-color="#00aced"/><stop offset="0.8125" stop-color="#00a0f2"/><stop offset="0.875" stop-color="#0094f8"/><stop offset="0.9375" stop-color="#008afd"/><stop offset="1" stop-color="#0f78ff"/></linearGradient>
<linearGradient id="h162" x1="0" y1="1" x2="0" y2="0"><stop offset="0" stop-color="#0184ff"/><stop offset="0.0625" stop-color="#008cfb"/><stop offset="0.125" stop-color="#0095f7"/><stop offset="0.1875" stop-color="#009df3"/><stop offset="0.25" stop-color="#00a6f0"/><stop offset="0.3125" stop-color="#00a6f0"/><stop offset="0.375" stop-color="#00a7f0"/><stop offset="0.4375" stop-color="#00a7ef"/><stop offset="0.5" stop-color="#00a8ef"/><stop offset="0.5625" stop-color="#00a7f0"/><stop offset="0.625" stop-color="#00a6f0"/><stop offset="0.6875" stop-color="#00a5f0"/><stop offset="0.75" stop-color="#00a4f1"/><stop offset="0.8125" stop-color="#0099f5"/><stop offset="0.875" stop-color="#008dfb"/><stop offset="0.9375" stop-color="#0184ff"/><stop offset="1" stop-color="#1a72ff"/></linearGradient>
<linearGradient id="h163" x1="0" y1="1" x2="0" y2="0"><stop offset="0" stop-color="#067fff"/><stop offset="0.0625" stop-color="#0088fd"/><stop offset="0.125" stop-color="#0090f9"/><stop offset="0.1875" stop-color="#0098f5"/><stop offset="0.25" stop-color="#00a0f2"/><stop offset="0.3125" stop-color="#00a0f2"/><stop offset="0.375" stop-color="#00a0f2"/><stop offset="0.4375" stop-color="#00a0f2"/><stop offset="0.5" stop-color="#00a1f2"/><stop offset="0.5625" stop-color="#009ff2"/><stop offset="0.625" stop-color="#009ef3"/><stop offset="0.6875" stop-color="#009cf4"/><stop offset="0.75" stop-color="#009bf4"/><stop offset="0.8125" stop-color="#0091f9"/><stop offset="0.875" stop-color="#0086fe"/><stop offset="0.9375" stop-color="#0a7cff"/><stop offset="1" stop-color="#266dff"/></linearGradient>
<linearGradient id="h164" x1="0" y1="1" x2="0" y2="0"><stop offset="0" stop-color="#0b7bff"/><stop offset="0.0625" stop-color="#0184ff"/><stop offset="0.125" stop-color="#008bfc"/><stop offset="0.1875" stop-color="#0092f8"/><stop offset="0.25" stop-color="#0099f5"/><stop offset="0.3125" stop-color="#0099f5"/><stop offset="0.375" stop-color="#0099f5"/><stop offset="0.4375" stop-color="#0099f5"/><stop offset="0.5" stop-color="#0099f5"/><stop offset="0.5625" stop-color="#0097f6"/><stop offset="0.625" stop-color="#0096f7"/><stop offset="0.6875" stop-color="#0094f7"/><stop offset="0.75" stop-color="#0092f8"/><stop offset="0.8125" stop-color="#0089fd"/><stop offset="0.875" stop-color="#077fff"/><stop offset="0.9375" stop-color="#1475ff"/><stop offset="1" stop-color="#2d67ff"/></linearGradient>
<linearGradient id="h165" x1="0" y1="1" x2="0" y2="0"><stop offset="0" stop-color="#1177ff"/><stop offset="0.0625" stop-color="#077fff"/><stop offset="0.125" stop-color="#0086fe"/><stop offset="0.1875" stop-color="#008cfb"/><stop offset="0.25" stop-color="#0093f8"/><stop offset="0.3125" stop-color="#0092f8"/><stop offset="0.375" stop-color="#0092f8"/><stop offset="0.4375" stop-color="#0092f8"/><stop offset="0.5" stop-color="#0091f9"/><stop offset="0.5625" stop-color="#008ffa"/><stop offset="0.625" stop-color="#008dfb"/><stop offset="0.6875" stop-color="#008bfc"/><stop offset="0.75" stop-color="#0089fd"/><stop offset="0.8125" stop-color="#0481ff"/><stop offset="0.875" stop-color="#0f78ff"/><stop offset="0.9375" stop-color="#1e70ff"/><stop offset="1" stop-color="#3064ff"/></linearGradient>
<linearGradient id="h166" x1="0" y1="1" x2="0" y2="0"><stop offset="0" stop-color="#1973ff"/><stop offset="0.0625" stop-color="#0d7aff"/><stop offset="0.125" stop-color="#0580ff"/><stop offset="0.1875" stop-color="#0086fe"/><stop offset="0.25" stop-color="#008cfb"/><stop offset="0.3125" stop-color="#008bfc"/><stop offset="0.375" stop-color="#008bfc"/><stop offset="0.4375" stop-color="#008bfc"/><stop offset="0.5" stop-color="#008afc"/><stop offset="0.5625" stop-color="#0088fd"/><stop offset="0.625" stop-color="#0085ff"/><stop offset="0.6875" stop-color="#0382ff"/><stop offset="0.75" stop-color="#077fff"/><stop offset="0.8125" stop-color="#0f78ff"/><stop offset="0.875" stop-color="#1b72ff"/><stop offset="0.9375" stop-color="#266dff"/><stop offset="1" stop-color="#3063ff"/></linearGradient>
<linearGradient id="h167" x1="0" y1="1" x2="0" y2="0"><stop offset="0" stop-color="#1f70ff"/><stop offset="0.0625" stop-color="#1575ff"/><stop offset="0.125" stop-color="#0c7bff"/><stop offset="0.1875" stop-color="#0580ff"/><stop offset="0.25" stop-color="#0085ff"/><stop offset="0.3125" stop-color="#0085ff"/><stop offset="0.375" stop-color="#0085ff"/><stop offset="0.4375" stop-color="#0085ff"/><stop offset="0.5" stop-color="#0085ff"/><stop offset="0.5625" stop-color="#0581ff"/><stop offset="0.625" stop-color="#0a7cff"/><stop offset="0.6875" stop-color="#0f78ff"/><stop offset="0.75" stop-color="#1774ff"/><stop offset="0.8125" stop-color="#1f70ff"/><stop offset="0.875" stop-color="#276cff"/><stop offset="0.9375" stop-color="#2c68ff"/><stop offset="1" stop-color="#3163ff"/></linearGradient>
<linearGradient id="h168" x1="0" y1="1" x2="0" y2="0"><stop offset="0" stop-color="#256dff"/><stop offset="0.0625" stop-color="#1c71ff"/><stop offset="0.125" stop-color="#1376ff"/><stop offset="0.1875" stop-color="#0c7aff"/><stop offset="0.25" stop-color="#077fff"/><stop offset="0.3125" stop-color="#077fff"/><stop offset="0.375" stop-color="#077fff"/><stop offset="0.4375" stop-color="#077fff"/><stop offset="0.5" stop-color="#077fff"/><stop offset="0.5625" stop-color="#0d7aff"/><stop offset="0.625" stop-color="#1475ff"/><stop offset="0.6875" stop-color="#1d71ff"/><stop offset="0.75" stop-color="#276cff"/><stop offset="0.8125" stop-color="#2a6aff"/><stop offset="0.875" stop-color="#2d67ff"/><stop offset="0.9375" stop-color="#2f65ff"/><stop offset="1" stop-color="#3262ff"/></linearGradient>
<linearGradient id="h169" x1="0" y1="1" x2="0" y2="0"><stop offset="0" stop-color="#2a6aff"/><stop offset="0.0625" stop-color="#236eff"/><stop offset="0.125" stop-color="#1c72ff"/><stop offset="0.1875" stop-color="#1475ff"/><stop offset="0.25" stop-color="#0e79ff"/><stop offset="0.3125" stop-color="#0e79ff"/><stop offset="0.375" stop-color="#0e79ff"/><stop offset="0.4375" stop-color="#0e79ff"/><stop offset="0.5" stop-color="#0e79ff"/><stop offset="0.5625" stop-color="#1575ff"/><stop offset="0.625" stop-color="#1c71ff"/><stop offset="0.6875" stop-color="#246eff"/><stop offset="0.75" stop-color="#2a6aff"/><stop offset="0.8125" stop-color="#2c67ff"/><stop offset="0.875" stop-color="#2f65ff"/><stop offset="0.9375" stop-color="#3064ff"/><stop offset="1" stop-color="#3361ff"/></linearGradient>
<linearGradient id="h170" x1="0" y1="1" x2="0" y2="0"><stop offset="0" stop-color="#2d67ff"/><stop offset="0.0625" stop-color="#2a6aff"/><stop offset="0.125" stop-color="#256dff"/><stop offset="0.1875" stop-color="#1f70ff"/><stop offset="0.25" stop-color="#1973ff"/><stop offset="0.3125" stop-color="#1973ff"/><stop offset="0.375" stop-color="#1973ff"/><stop offset="0.4375" stop-color="#1973ff"/><stop offset="0.5" stop-color="#1973ff"/><stop offset="0.5625" stop-color="#1e70ff"/><stop offset="0.625" stop-color="#236eff"/><stop offset="0.6875" stop-color="#286bff"/><stop offset="0.75" stop-color="#2b69ff"/><stop offset="0.8125" stop-color="#2d66ff"/><stop offset="0.875" stop-color="#3064ff"/><stop offset="0.9375" stop-color="#3163ff"/><stop offset="1" stop-color="#3460ff"/></linearGradient>
<linearGradient id="h171" x1="0" y1="1" x2="0" y2="0"><stop offset="0" stop-color="#3163ff"/><stop offset="0.0625" stop-color="#2e66ff"/><stop offset="0.125" stop-color="#2b69ff"/><stop offset="0.1875" stop-color="#286bff"/><stop offset="0.25" stop-color="#246eff"/><stop offset="0.3125" stop-color="#246eff"/><stop offset="0.375" stop-color="#246eff"/><stop offset="0.4375" stop-color="#246eff"/><stop offset="0.5" stop-color="#246dff"/><stop offset="0.5625" stop-color="#276cff"/><stop offset="0.625" stop-color="#296bff"/><stop offset="0.6875" stop-color="#2b69ff"/><stop offset="0.75" stop-color="#2c67ff"/><stop offset="0.8125" stop-color="#2f65ff"/><stop offset="0.875" stop-color="#3163ff"/><stop offset="0.9375" stop-color="#3262ff"/><stop offset="1" stop-color="#355fff"/></linearGradient>
<linearGradient id="h172" x1="0" y1="1" x2="0" y2="0"><stop offset="0" stop-color="#3261ff"/><stop offset="0.0625" stop-color="#3064ff"/><stop offset="0.125" stop-color="#2e66ff"/><stop offset="0.1875" stop-color="#2c68ff"/><stop offset="0.25" stop-color="#296aff"/><stop offset="0.3125" stop-color="#296aff"/><stop offset="0.375" stop-color="#296aff"/><stop offset="0.4375" stop-color="#296aff"/><stop offset="0.5" stop-color="#296aff"/><stop offset="0.5625" stop-color="#2b69ff"/><stop offset="0.625" stop-color="#2c68ff"/><stop offset="0.6875" stop-color="#2d67ff"/><stop offset="0.75" stop-color="#2e66ff"/><stop offset="0.8125" stop-color="#2f64ff"/><stop offset="0.875" stop-color="#3163ff"/><stop offset="0.9375" stop-color="#3361ff"/><stop offset="1" stop-color="#355fff"/></linearGradient>
<linearGradient id="h173" x1="0" y1="1" x2="0" y2="0"><stop offset="0" stop-color="#3361ff"/><stop offset="0.0625" stop-color="#3163ff"/><stop offset="0.125" stop-color="#2f65ff"/><stop offset="0.1875" stop-color="#2d67ff"/><stop offset="0.25" stop-color="#2b69ff"/><stop offset="0.3125" stop-color="#2b69ff"/><stop offset="0.375" stop-color="#2b69ff"/><stop offset="0.4375" stop-color="#2b69ff"/><stop offset="0.5" stop-color="#2b69ff"/><stop offset="0.5625" stop-color="#2c68ff"/><stop offset="0.625" stop-color="#2d67ff"/><stop offset="0.6875" stop-color="#2e66ff"/><stop offset="0.75" stop-color="#2f65ff"/><stop offset="0.8125" stop-color="#3064ff"/><stop offset="0.875" stop-color="#3262ff"/><stop offset="0.9375" stop-color="#3361ff"/><stop offset="1" stop-color="#355fff"/></linearGradient>
<linearGradient id="h174" x1="0" y1="1" x2="0" y2="0"><stop offset="0" stop-color="#3460ff"/><stop offset="0.0625" stop-color="#3262ff"/><stop offset="0.125" stop-color="#3064ff"/><stop offset="0.1875" stop-color="#2e66ff"/><stop offset="0.25" stop-color="#2c68ff"/><stop offset="0.3125" stop-color="#2c68ff"/><stop offset="0.375" stop-color="#2c68ff"/><stop offset="0.4375" stop-color="#2c68ff"/><stop offset="0.5" stop-color="#2c68ff"/><stop offset="0.5625" stop-color="#2d67ff"/><stop offset="0.625" stop-color="#2e66ff"/><stop offset="0.6875" stop-color="#2f65ff"/><stop offset="0.75" stop-color="#3064ff"/><stop offset="0.8125" stop-color="#3163ff"/><stop offset="0.875" stop-color="#3261ff"/><stop offset="0.9375" stop-color="#3460ff"/><stop offset="1" stop-color="#355fff"/></linearGradient>
<linearGradient id="h175" x1="0" y1="1" x2="0" y2="0"><stop offset="0" stop-color="#355fff"/><stop offset="0.0625" stop-color="#3361ff"/><stop offset="0.125" stop-color="#3163ff"/><stop offset="0.1875" stop-color="#2f65ff"/><stop offset="0.25" stop-color="#2d66ff"/><stop offset="0.3125" stop-color="#2d66ff"/><stop offset="0.375" stop-color="#2d66ff"/><stop offset="0.4375" stop-color="#2d66ff"/><stop offset="0.5" stop-color="#2d66ff"/><stop offset="0.5625" stop-color="#2e66ff"/><stop offset="0.625" stop-color="#2f65ff"/><stop offset="0.6875" stop-color="#3064ff"/><stop offset="0.75" stop-color="#3163ff"/><stop offset="0.8125" stop-color="#3262ff"/><stop offset="0.875" stop-color="#3361ff"/><stop offset="0.9375" stop-color="#3460ff"/><stop offset="1" stop-color="#355fff"/></linearGradient>
<linearGradient id="h176" x1="0" y1="1" x2="0" y2="0"><stop offset="0" stop-color="#365eff"/><stop offset="0.0625" stop-color="#3460ff"/><stop offset="0.125" stop-color="#3262ff"/><stop offset="0.1875" stop-color="#3163ff"/><stop offset="0.25" stop-color="#2f65ff"/><stop offset="0.3125" stop-color="#2f65ff"/><stop offset="0.375" stop-color="#2f65ff"/><stop offset="0.4375" stop-color="#2f65ff"/><stop offset="0.5" stop-color="#2f65ff"/><stop offset="0.5625" stop-color="#3064ff"/><stop offset="0.625" stop-color="#3063ff"/><stop offset="0.6875" stop-color="#3163ff"/><stop offset="0.75" stop-color="#3262ff"/><stop offset="0.8125" stop-color="#3361ff"/><stop offset="0.875" stop-color="#3460ff"/><stop offset="0.9375" stop-color="#3460ff"/><stop offset="1" stop-color="#355fff"/></linearGradient>
<linearGradient id="h177" x1="0" y1="1" x2="0" y2="0"><stop offset="0" stop-color="#375dff"/><stop offset="0.0625" stop-color="#355fff"/><stop offset="0.125" stop-color="#3360ff"/><stop offset="0.1875" stop-color="#3262ff"/><stop offset="0.25" stop-color="#3064ff"/><stop offset="0.3125" stop-color="#3064ff"/><stop offset="0.375" stop-color="#3064ff"/><stop offset="0.4375" stop-color="#3064ff"/><stop offset="0.5" stop-color="#3064ff"/><stop offset="0.5625" stop-color="#3163ff"/><stop offset="0.625" stop-color="#3262ff"/><stop offset="0.6875" stop-color="#3361ff"/><stop offset="0.75" stop-color="#3361ff"/><stop offset="0.8125" stop-color="#3460ff"/><stop offset="0.875" stop-color="#3460ff"/><stop offset="0.9375" stop-color="#355fff"/><stop offset="1" stop-color="#355fff"/></linearGradient>
<linearGradient id="h178" x1="0" y1="1" x2="0" y2="0"><stop offset="0" stop-color="#385cff"/><stop offset="0.0625" stop-color="#365eff"/><stop offset="0.125" stop-color="#345fff"/><stop offset="0.1875" stop-color="#3361ff"/><stop offset="0.25" stop-color="#3163ff"/><stop offset="0.3125" stop-color="#3163ff"/><stop offset="0.375" stop-color="#3163ff"/><stop offset="0.4375" stop-color="#3163ff"/><stop offset="0.5" stop-color="#3163ff"/><stop offset="0.5625" stop-color="#3262ff"/><stop offset="0.625" stop-color="#3361ff"/><stop offset="0.6875" stop-color="#3460ff"/><stop offset="0.75" stop-color="#345fff"/><stop offset="0.8125" stop-color="#355fff"/><stop offset="0.875" stop-color="#355fff"/><stop offset="0.9375" stop-color="#355fff"/><stop offset="1" stop-color="#355fff"/></linearGradient>
<linearGradient id="cb" x1="0" y1="1" x2="0" y2="0"><stop offset="0" stop-color="#401fbf"/><stop offset="0.01587" stop-color="#4223ca"/><stop offset="0.03175" stop-color="#4427d5"/><stop offset="0.04762" stop-color="#452bde"/><stop offset="0.06349" stop-color="#4531e5"/><stop offset="0.07937" stop-color="#4537eb"/><stop offset="0.09524" stop-color="#433cf0"/><stop offset="0.1111" stop-color="#4141f3"/><stop offset="0.127" stop-color="#3f46f6"/><stop offset="0.1429" stop-color="#3e4cf9"/><stop offset="0.1587" stop-color="#3b53fc"/><stop offset="0.1746" stop-color="#385bff"/><stop offset="0.1905" stop-color="#3163ff"/><stop offset="0.2063" stop-color="#296bff"/><stop offset="0.2222" stop-color="#1c71ff"/><stop offset="0.2381" stop-color="#0f78ff"/><stop offset="0.254" stop-color="#077fff"/><stop offset="0.2698" stop-color="#0085ff"/><stop offset="0.2857" stop-color="#008afc"/><stop offset="0.3016" stop-color="#0090fa"/><stop offset="0.3175" stop-color="#0095f7"/><stop offset="0.3333" stop-color="#009af4"/><stop offset="0.3492" stop-color="#009ff2"/><stop offset="0.3651" stop-color="#00a5f0"/><stop offset="0.381" stop-color="#00aaef"/><stop offset="0.3968" stop-color="#00aeeb"/><stop offset="0.4127" stop-color="#00b2e5"/><stop offset="0.4286" stop-color="#00b5de"/><stop offset="0.4444" stop-color="#00b8d7"/><stop offset="0.4603" stop-color="#00bccf"/><stop offset="0.4762" stop-color="#00bfc6"/><stop offset="0.4921" stop-color="#00c2bc"/><stop offset="0.5079" stop-color="#00c5b2"/><stop offset="0.5238" stop-color="#00c8a8"/><stop offset="0.5397" stop-color="#00c99d"/><stop offset="0.5556" stop-color="#00ca93"/><stop offset="0.5714" stop-color="#00cc88"/><stop offset="0.5873" stop-color="#01cd80"/><stop offset="0.6032" stop-color="#03ce7a"/><stop offset="0.619" stop-color="#05d073"/><stop offset="0.6349" stop-color="#07d16d"/><stop offset="0.6508" stop-color="#10cf62"/><stop offset="0.6667" stop-color="#30ce52"/><stop offset="0.6825" stop-color="#5dcc3e"/><stop offset="0.6984" stop-color="#8fcc1d"/><stop offset="0.7143" stop-color="#accc0e"/><stop offset="0.7302" stop-color="#c6cc00"/><stop offset="0.746" stop-color="#d6cc00"/><stop offset="0.7619" stop-color="#e6cc00"/><stop offset="0.7778" stop-color="#efc705"/><stop offset="0.7937" stop-color="#f8c30b"/><stop offset="0.8095" stop-color="#fcc111"/><stop offset="0.8254" stop-color="#ffc016"/><stop offset="0.8413" stop-color="#ffc412"/><stop offset="0.8571" stop-color="#ffc80e"/><stop offset="0.873" stop-color="#ffd009"/><stop offset="0.8889" stop-color="#ffd805"/><stop offset="0.9048" stop-color="#ffdd03"/><stop offset="0.9206" stop-color="#ffe202"/><stop offset="0.9365" stop-color="#ffe701"/><stop offset="0.9524" stop-color="#ffec00"/><stop offset="0.9683" stop-color="#fff000"/><stop offset="0.9841" stop-color="#fff400"/><stop offset="1" stop-color="#fff700"/></linearGradient></defs>
<rect width="550" height="240" fill="#fff"/>
<g filter="url(#soft)">
<line x1="142.0" y1="185.1" x2="57.5" y2="138.2" stroke="#dfdfdf" stroke-width="0.6"/>
<line x1="57.5" y1="138.2" x2="57.5" y2="36.2" stroke="#dfdfdf" stroke-width="0.6"/>
<line x1="171.9" y1="175.5" x2="87.4" y2="128.6" stroke="#dfdfdf" stroke-width="0.6"/>
<line x1="87.4" y1="128.6" x2="87.4" y2="26.6" stroke="#dfdfdf" stroke-width="0.6"/>
<line x1="201.7" y1="165.9" x2="117.2" y2="119.0" stroke="#dfdfdf" stroke-width="0.6"/>
<line x1="117.2" y1="119.0" x2="117.2" y2="17.0" stroke="#dfdfdf" stroke-width="0.6"/>
<line x1="231.6" y1="156.3" x2="147.1" y2="109.4" stroke="#dfdfdf" stroke-width="0.6"/>
<line x1="147.1" y1="109.4" x2="147.1" y2="7.4" stroke="#dfdfdf" stroke-width="0.6"/>
<line x1="34.4" y1="145.6" x2="147.1" y2="109.4" stroke="#dfdfdf" stroke-width="0.6"/>
<line x1="147.1" y1="109.4" x2="147.1" y2="7.4" stroke="#dfdfdf" stroke-width="0.6"/>
<line x1="55.5" y1="157.3" x2="168.2" y2="121.1" stroke="#dfdfdf" stroke-width="0.6"/>
<line x1="168.2" y1="121.1" x2="168.2" y2="19.1" stroke="#dfdfdf" stroke-width="0.6"/>
<line x1="76.7" y1="169.1" x2="189.3" y2="132.9" stroke="#dfdfdf" stroke-width="0.6"/>
<line x1="189.3" y1="132.9" x2="189.3" y2="30.9" stroke="#dfdfdf" stroke-width="0.6"/>
<line x1="97.8" y1="180.8" x2="210.5" y2="144.6" stroke="#dfdfdf" stroke-width="0.6"/>
<line x1="210.5" y1="144.6" x2="210.5" y2="42.6" stroke="#dfdfdf" stroke-width="0.6"/>
<line x1="118.9" y1="192.5" x2="231.6" y2="156.3" stroke="#dfdfdf" stroke-width="0.6"/>
<line x1="231.6" y1="156.3" x2="231.6" y2="54.3" stroke="#dfdfdf" stroke-width="0.6"/>
<line x1="34.4" y1="145.6" x2="147.1" y2="109.4" stroke="#dfdfdf" stroke-width="0.6"/>
<line x1="147.1" y1="109.4" x2="231.6" y2="156.3" stroke="#dfdfdf" stroke-width="0.6"/>
<line x1="34.4" y1="120.1" x2="147.1" y2="83.9" stroke="#dfdfdf" stroke-width="0.6"/>
<line x1="147.1" y1="83.9" x2="231.6" y2="130.8" stroke="#dfdfdf" stroke-width="0.6"/>
<line x1="34.4" y1="94.6" x2="147.1" y2="58.4" stroke="#dfdfdf" stroke-width="0.6"/>
<line x1="147.1" y1="58.4" x2="231.6" y2="105.3" stroke="#dfdfdf" stroke-width="0.6"/>
<line x1="34.4" y1="69.1" x2="147.1" y2="32.9" stroke="#dfdfdf" stroke-width="0.6"/>
<line x1="147.1" y1="32.9" x2="231.6" y2="79.8" stroke="#dfdfdf" stroke-width="0.6"/>
<line x1="34.4" y1="43.6" x2="147.1" y2="7.4" stroke="#dfdfdf" stroke-width="0.6"/>
<line x1="147.1" y1="7.4" x2="231.6" y2="54.3" stroke="#dfdfdf" stroke-width="0.6"/>
<line x1="34.4" y1="145.6" x2="147.1" y2="109.4" stroke="#dfdfdf" stroke-width="0.6"/>
<polygon points="230.6,135.4 227.6,131.6 209.5,121.5 188.3,109.8 167.2,98.2 146.1,86.5 147.1,86.4 168.2,98.2 189.3,110.0 210.5,121.9 228.6,132.1 231.6,134.3" fill="url(#g199)"/>
<polygon points="230.0,136.0 227.1,131.3 208.9,121.3 187.8,109.7 166.6,98.1 145.5,86.6 146.5,86.5 167.7,98.2 188.8,109.9 209.9,121.7 228.1,131.8 231.0,134.9" fill="url(#g198)"/>
<polygon points="229.5,136.3 226.5,131.0 208.3,121.0 187.2,109.5 166.1,98.1 145.0,86.7 146.0,86.6 167.1,98.2 188.2,109.8 209.3,121.5 227.5,131.5 230.5,135.5" fill="url(#g197)"/>
<polygon points="228.9,136.0 225.9,130.7 207.8,120.8 186.6,109.4 165.5,98.0 144.4,86.8 145.4,86.6 166.5,98.1 187.7,109.6 208.8,121.2 227.0,131.2 229.9,136.2" fill="url(#g196)"/>
<polygon points="228.3,135.7 225.4,130.3 207.2,120.5 186.1,109.2 165.0,98.0 143.8,86.9 144.8,86.7 166.0,98.1 187.1,109.5 208.2,121.0 226.4,130.9 229.3,136.2" fill="url(#g195)"/>
<polygon points="227.8,135.4 224.8,130.0 206.6,120.3 185.5,109.1 164.4,98.0 143.3,87.0 144.3,86.8 165.4,98.0 186.5,109.3 207.7,120.7 225.8,130.6 228.8,135.9" fill="url(#g194)"/>
<polygon points="227.2,135.1 224.2,129.7 206.1,120.0 185.0,108.9 163.8,97.9 142.7,87.0 143.7,86.9 164.8,98.0 186.0,109.2 207.1,120.5 225.3,130.3 228.2,135.6" fill="url(#g193)"/>
<polygon points="226.6,134.8 223.7,129.4 205.5,119.8 184.4,108.8 163.3,97.9 142.1,87.1 143.2,87.0 164.3,97.9 185.4,109.0 206.5,120.2 224.7,130.0 227.7,135.3" fill="url(#g192)"/>
<polygon points="226.1,134.5 223.1,129.1 205.0,119.5 183.8,108.6 162.7,97.8 141.6,87.1 142.6,87.0 163.7,97.9 184.8,108.9 206.0,120.0 224.1,129.7 227.1,135.0" fill="url(#g191)"/>
<polygon points="225.5,134.2 222.6,128.7 204.4,119.1 183.3,108.1 162.1,97.3 141.0,86.7 142.0,87.1 163.2,97.9 184.3,108.7 205.4,119.8 223.6,129.4 226.5,134.7" fill="url(#g190)"/>
<polygon points="225.0,133.9 222.0,128.3 203.8,118.6 182.7,107.6 161.6,96.7 140.5,86.1 141.5,87.1 162.6,97.7 183.7,108.5 204.8,119.5 223.0,129.0 226.0,134.4" fill="url(#g189)"/>
<polygon points="224.4,133.6 221.4,127.9 203.3,118.1 182.1,107.0 161.0,96.2 139.9,85.5 140.9,86.6 162.0,97.2 183.2,108.0 204.3,119.0 222.4,128.6 225.4,134.2" fill="url(#g188)"/>
<polygon points="223.8,133.3 220.9,127.4 202.7,117.7 181.6,106.5 160.4,95.6 139.3,84.9 140.3,86.0 161.5,96.6 182.6,107.5 203.7,118.5 221.9,128.2 224.8,133.9" fill="url(#g187)"/>
<polygon points="223.3,133.0 220.3,127.0 202.1,117.1 181.0,105.9 159.9,94.9 138.8,84.2 139.8,85.4 160.9,96.0 182.0,106.9 203.1,118.0 221.3,127.8 224.3,133.6" fill="url(#g186)"/>
<polygon points="222.7,132.7 219.7,126.6 201.6,116.5 180.4,105.0 159.3,93.8 138.2,82.8 139.2,84.7 160.3,95.4 181.5,106.4 202.6,117.6 220.8,127.4 223.7,133.3" fill="url(#g185)"/>
<polygon points="222.1,132.4 219.2,126.1 201.0,115.7 179.9,103.9 158.8,92.4 137.6,81.2 138.6,83.9 159.8,94.7 180.9,105.7 202.0,117.0 220.2,126.9 223.1,133.0" fill="url(#g184)"/>
<polygon points="221.6,132.1 218.6,125.4 200.4,114.8 179.3,102.8 158.2,91.0 137.1,79.6 138.1,82.5 159.2,93.5 180.3,104.8 201.5,116.3 219.6,126.5 222.6,132.7" fill="url(#g183)"/>
<polygon points="221.0,131.8 218.0,124.3 199.9,113.6 178.8,101.4 157.6,89.5 136.5,78.0 137.5,80.9 158.6,92.2 179.8,103.7 200.9,115.6 219.1,126.0 222.0,132.4" fill="url(#g182)"/>
<polygon points="220.4,131.5 217.5,123.2 199.3,112.3 178.2,100.0 157.1,88.0 135.9,76.3 137.0,79.3 158.1,90.7 179.2,102.5 200.3,114.6 218.5,125.3 221.5,132.1" fill="url(#g181)"/>
<polygon points="219.9,131.2 216.9,122.0 198.8,111.0 177.6,98.5 156.5,86.4 135.4,74.6 136.4,77.6 157.5,89.2 178.6,101.1 199.8,113.3 217.9,124.1 220.9,131.8" fill="url(#g180)"/>
<polygon points="219.3,130.9 216.4,121.1 198.2,109.9 177.1,97.1 155.9,84.8 134.8,72.7 135.8,76.0 157.0,87.7 178.1,99.7 199.2,112.1 217.4,122.9 220.3,131.5" fill="url(#g179)"/>
<polygon points="218.8,130.6 215.8,120.2 197.6,108.8 176.5,95.8 155.4,83.2 134.3,70.9 135.3,74.2 156.4,86.0 177.5,98.2 198.6,110.8 216.8,121.8 219.8,131.2" fill="url(#g178)"/>
<polygon points="218.2,130.3 215.2,119.4 197.1,107.7 175.9,94.5 154.8,81.6 133.7,69.2 134.7,72.4 155.8,84.4 177.0,96.8 198.1,109.6 216.2,120.9 219.2,130.9" fill="url(#g177)"/>
<polygon points="217.6,130.0 214.7,118.6 196.5,106.8 175.4,93.4 154.3,80.5 133.1,68.0 134.1,70.6 155.3,82.8 176.4,95.5 197.5,108.5 215.7,120.1 218.6,130.6" fill="url(#g176)"/>
<polygon points="217.1,129.7 214.1,118.2 195.9,106.3 174.8,92.8 153.7,79.7 132.6,67.0 133.6,68.9 154.7,81.3 175.8,94.2 197.0,107.5 215.1,119.2 218.1,130.3" fill="url(#g175)"/>
<polygon points="216.5,129.4 213.5,118.0 195.4,105.9 174.2,92.2 153.1,78.9 132.0,66.1 133.0,67.8 154.1,80.3 175.3,93.3 196.4,106.7 214.6,118.5 217.5,130.0" fill="url(#g174)"/>
<polygon points="215.9,129.1 213.0,117.9 194.8,105.6 173.7,91.6 152.6,78.2 131.4,65.2 132.4,66.9 153.6,79.5 174.7,92.6 195.8,106.2 214.0,118.2 216.9,129.7" fill="url(#g173)"/>
<polygon points="215.4,128.8 212.4,118.0 194.2,105.5 173.1,91.5 152.0,77.9 130.9,64.8 131.9,65.9 153.0,78.8 174.1,92.1 195.3,105.8 213.4,118.0 216.4,129.4" fill="url(#g172)"/>
<polygon points="214.8,128.5 211.9,118.3 193.7,105.7 172.6,91.5 151.4,77.7 130.3,64.5 131.3,65.1 152.4,78.1 173.6,91.6 194.7,105.5 212.9,117.9 215.8,129.1" fill="url(#g171)"/>
<polygon points="214.2,128.2 211.3,118.5 193.1,105.8 172.0,91.5 150.9,77.6 129.7,64.2 130.8,64.7 151.9,77.8 173.0,91.5 194.1,105.6 212.3,118.1 215.3,128.8" fill="url(#g170)"/>
<polygon points="213.7,127.9 210.7,118.8 192.6,106.0 171.4,91.5 150.3,77.5 129.2,64.0 130.2,64.5 151.3,77.7 172.4,91.5 193.6,105.7 211.7,118.3 214.7,128.5" fill="url(#g169)"/>
<polygon points="213.1,127.6 210.2,119.1 192.0,106.2 170.9,91.6 149.7,77.6 128.6,64.0 129.6,64.2 150.8,77.6 171.9,91.5 193.0,105.8 211.2,118.6 214.1,128.2" fill="url(#g168)"/>
<polygon points="212.6,127.3 209.6,119.6 191.4,106.6 170.3,91.9 149.2,77.8 128.1,64.1 129.1,64.0 150.2,77.5 171.3,91.5 192.4,106.0 210.6,118.9 213.6,127.9" fill="url(#g167)"/>
<polygon points="212.0,127.0 209.0,120.2 190.9,107.1 169.7,92.3 148.6,78.1 127.5,64.3 128.5,64.0 149.6,77.6 170.8,91.7 191.9,106.3 210.0,119.2 213.0,127.6" fill="url(#g166)"/>
<polygon points="211.4,126.7 208.5,120.8 190.3,107.8 169.2,93.0 148.1,78.8 126.9,65.1 127.9,64.1 149.1,77.8 170.2,92.0 191.3,106.7 209.5,119.7 212.4,127.3" fill="url(#g165)"/>
<polygon points="210.9,126.4 207.9,121.4 189.7,108.4 168.6,93.8 147.5,79.6 126.4,66.0 127.4,64.4 148.5,78.2 169.6,92.5 190.8,107.2 208.9,120.3 211.9,127.0" fill="url(#g164)"/>
<polygon points="210.3,126.2 207.3,122.1 189.2,109.2 168.0,94.8 146.9,80.8 125.8,67.3 126.8,65.2 147.9,79.0 169.1,93.2 190.2,107.9 208.4,120.9 211.3,126.7" fill="url(#g163)"/>
<polygon points="209.7,126.7 206.8,122.7 188.6,110.1 167.5,95.8 146.4,82.1 125.2,68.8 126.3,66.2 147.4,79.8 168.5,94.0 189.6,108.6 207.8,121.6 210.8,126.4" fill="url(#g162)"/>
<polygon points="209.2,127.2 206.2,123.4 188.0,110.9 166.9,96.9 145.8,83.4 124.7,70.4 125.7,67.6 146.8,81.0 167.9,95.0 189.1,109.4 207.2,122.2 210.2,126.2" fill="url(#g161)"/>
<polygon points="208.6,127.8 205.7,124.4 187.5,112.1 166.4,98.3 145.2,85.0 124.1,72.2 125.1,69.1 146.2,82.3 167.4,96.0 188.5,110.2 206.7,122.8 209.6,126.8" fill="url(#g160)"/>
<polygon points="208.0,128.3 205.1,125.4 186.9,113.4 165.8,99.8 144.7,86.7 123.5,74.1 124.6,70.7 145.7,83.7 166.8,97.2 187.9,111.1 206.1,123.5 209.1,127.3" fill="url(#g159)"/>
<polygon points="207.5,129.1 204.5,126.5 186.4,114.6 165.2,101.3 144.1,88.4 123.0,76.0 124.0,72.6 145.1,85.3 166.2,98.6 187.4,112.3 205.5,124.6 208.5,127.9" fill="url(#g158)"/>
<polygon points="206.9,130.1 204.0,127.6 185.8,115.9 164.7,102.8 143.5,90.1 122.4,78.0 123.4,74.5 144.6,87.0 165.7,100.1 186.8,113.6 205.0,125.7 207.9,128.4" fill="url(#g157)"/>
<polygon points="206.4,131.0 203.4,128.7 185.2,117.2 164.1,104.4 143.0,92.0 121.9,80.1 122.9,76.4 144.0,88.8 165.1,101.6 186.2,114.9 204.4,126.7 207.4,129.3" fill="url(#g156)"/>
<polygon points="205.8,131.9 202.8,129.8 184.7,118.6 163.5,106.0 142.4,93.9 121.3,82.3 122.3,78.4 143.4,90.5 164.6,103.1 185.7,116.2 203.8,127.8 206.8,130.3" fill="url(#g155)"/>
<polygon points="205.2,132.9 202.3,130.9 184.1,119.9 163.0,107.6 141.9,95.8 120.7,84.5 121.7,80.5 142.9,92.4 164.0,104.7 185.1,117.5 203.3,128.9 206.2,131.2" fill="url(#g154)"/>
<polygon points="204.7,133.8 201.7,131.9 183.5,121.1 162.4,109.1 141.3,97.6 120.2,86.7 121.2,82.7 142.3,94.3 163.4,106.3 184.6,118.8 202.7,130.0 205.7,132.1" fill="url(#g153)"/>
<polygon points="204.1,134.6 201.1,132.9 183.0,122.3 161.9,110.5 140.7,99.4 119.6,88.8 120.6,84.9 141.7,96.1 162.9,107.9 184.0,120.2 202.2,131.1 205.1,133.1" fill="url(#g152)"/>
<polygon points="203.5,135.6 200.6,133.9 182.4,123.5 161.3,112.0 140.2,101.2 119.0,91.0 120.1,87.1 141.2,98.0 162.3,109.4 183.4,121.4 201.6,132.1 204.6,134.0" fill="url(#g151)"/>
<polygon points="203.0,136.4 200.0,134.7 181.8,124.5 160.7,113.3 139.6,102.9 118.5,93.2 119.5,89.3 140.6,99.8 161.7,110.8 182.9,122.5 201.0,133.1 204.0,134.8" fill="url(#g150)"/>
<polygon points="202.4,137.0 199.5,135.3 181.3,125.4 160.2,114.5 139.0,104.5 117.9,95.4 118.9,91.5 140.1,101.5 161.2,112.3 182.3,123.7 200.5,134.1 203.4,135.8" fill="url(#g149)"/>
<polygon points="201.8,137.7 198.9,136.0 180.7,126.3 159.6,115.8 138.5,106.2 117.3,97.6 118.4,93.6 139.5,103.2 160.6,113.5 181.7,124.6 199.9,134.8 202.9,136.5" fill="url(#g148)"/>
<polygon points="201.3,138.3 198.3,136.7 180.2,127.2 159.0,117.0 137.9,107.8 116.8,99.7 117.8,95.8 138.9,104.9 160.0,114.8 181.2,125.5 199.3,135.5 202.3,137.2" fill="url(#g147)"/>
<polygon points="200.7,139.0 197.8,137.4 179.6,128.0 158.5,118.1 137.3,109.4 116.2,101.7 117.2,98.0 138.4,106.5 159.5,116.0 180.6,126.4 198.8,136.2 201.7,137.8" fill="url(#g146)"/>
<polygon points="200.2,139.6 197.2,138.1 179.0,128.9 157.9,119.3 136.8,110.9 115.7,103.6 116.7,100.1 137.8,108.2 158.9,117.2 180.0,127.3 198.2,136.8 201.2,138.5" fill="url(#g145)"/>
<polygon points="199.6,140.3 196.6,138.7 178.5,129.7 157.3,120.4 136.2,112.3 115.1,105.6 116.1,102.1 137.2,109.7 158.4,118.4 179.5,128.2 197.7,137.5 200.6,139.1" fill="url(#g144)"/>
<polygon points="199.0,140.7 196.1,139.1 177.9,130.3 156.8,121.3 135.7,113.6 114.5,107.4 115.5,104.0 136.7,111.1 157.8,119.5 178.9,129.0 197.1,138.2 200.0,139.8" fill="url(#g143)"/>
<polygon points="198.5,140.7 195.5,139.2 177.3,130.3 156.2,121.4 135.1,113.9 114.0,107.9 115.0,106.0 136.1,112.6 157.2,120.6 178.4,129.8 196.5,138.8 199.5,140.4" fill="url(#g142)"/>
<polygon points="197.9,140.7 194.9,139.2 176.8,130.2 155.7,121.3 134.5,113.9 113.4,108.0 114.4,107.6 135.5,113.8 156.7,121.4 177.8,130.3 196.0,139.2 198.9,140.7" fill="url(#g141)"/>
<polygon points="197.3,140.8 194.4,139.2 176.2,130.1 155.1,121.2 134.0,113.8 112.8,108.1 113.9,108.0 135.0,113.9 156.1,121.4 177.2,130.3 195.4,139.2 198.4,140.7" fill="url(#g140)"/>
<polygon points="196.8,140.8 193.8,139.2 175.7,130.1 154.5,121.1 133.4,113.7 112.3,108.0 113.3,108.0 134.4,113.8 155.5,121.2 176.7,130.2 194.8,139.2 197.8,140.7" fill="url(#g139)"/>
<polygon points="196.2,140.6 193.3,139.0 175.1,129.8 154.0,120.5 132.8,112.8 111.7,106.8 112.7,108.1 133.9,113.8 155.0,121.2 176.1,130.1 194.3,139.2 197.2,140.8" fill="url(#g138)"/>
<polygon points="195.6,140.5 192.7,138.8 174.5,129.4 153.4,119.8 132.3,111.7 111.1,105.1 112.2,107.9 133.3,113.6 154.4,121.0 175.5,130.1 193.7,139.2 196.7,140.7" fill="url(#g137)"/>
<polygon points="195.1,140.3 192.1,138.7 174.0,129.1 152.8,119.2 131.7,110.6 110.6,103.4 111.6,106.4 132.7,112.6 153.8,120.4 175.0,129.7 193.1,139.0 196.1,140.6" fill="url(#g136)"/>
<polygon points="194.5,140.2 191.6,138.5 173.4,128.7 152.3,118.5 131.1,109.5 110.0,101.6 111.0,104.7 132.2,111.5 153.3,119.7 174.4,129.3 192.6,138.8 195.5,140.4" fill="url(#g135)"/>
<polygon points="194.0,140.0 191.0,138.3 172.8,128.3 151.7,117.6 130.6,108.0 109.5,99.5 110.5,103.0 131.6,110.4 152.7,119.0 173.8,129.0 192.0,138.6 195.0,140.3" fill="url(#g134)"/>
<polygon points="193.4,139.8 190.4,138.1 172.3,127.8 151.1,116.7 130.0,106.5 108.9,97.2 109.9,101.3 131.0,109.2 152.2,118.4 173.3,128.7 191.5,138.4 194.4,140.1" fill="url(#g133)"/>
<polygon points="192.8,139.7 189.9,137.9 171.7,127.3 150.6,115.7 129.5,104.9 108.3,94.9 109.3,99.0 130.5,107.7 151.6,117.5 172.7,128.2 190.9,138.2 193.8,140.0" fill="url(#g132)"/>
<polygon points="192.3,139.5 189.3,137.7 171.1,126.8 150.0,114.8 128.9,103.4 107.8,92.5 108.8,96.7 129.9,106.2 151.0,116.5 172.2,127.7 190.3,138.1 193.3,139.8" fill="url(#g131)"/>
<polygon points="191.7,139.3 188.7,137.4 170.6,126.3 149.5,113.8 128.3,101.8 107.2,90.2 108.2,94.4 129.3,104.6 150.5,115.6 171.6,127.2 189.8,137.9 192.7,139.6" fill="url(#g130)"/>
<polygon points="191.1,139.0 188.2,137.1 170.0,125.7 148.9,112.8 127.8,100.2 106.6,87.9 107.7,92.1 128.8,103.0 149.9,114.6 171.0,126.7 189.2,137.6 192.2,139.5" fill="url(#g129)"/>
<polygon points="190.6,138.7 187.6,136.8 169.5,125.2 148.3,111.8 127.2,98.6 106.1,85.6 107.1,89.8 128.2,101.5 149.3,113.6 170.5,126.2 188.6,137.4 191.6,139.2" fill="url(#g128)"/>
<polygon points="190.0,138.4 187.1,136.5 168.9,124.7 147.8,110.9 126.6,97.1 105.5,83.3 106.5,87.4 127.7,99.9 148.8,112.6 169.9,125.6 188.1,137.1 191.0,138.9" fill="url(#g127)"/>
<polygon points="189.5,138.2 186.5,136.2 168.3,124.2 147.2,110.1 126.1,95.6 105.0,80.9 106.0,85.1 127.1,98.3 148.2,111.6 169.3,125.1 187.5,136.8 190.5,138.7" fill="url(#g126)"/>
<polygon points="188.9,137.9 185.9,136.0 167.8,123.8 146.6,109.3 125.5,94.2 104.4,78.6 105.4,82.8 126.5,96.8 147.7,110.7 168.8,124.6 186.9,136.5 189.9,138.4" fill="url(#g125)"/>
<polygon points="188.3,137.6 185.4,135.7 167.2,123.5 146.1,108.5 124.9,92.7 103.8,76.2 104.8,80.5 126.0,95.3 147.1,109.9 168.2,124.2 186.4,136.2 189.3,138.1" fill="url(#g124)"/>
<polygon points="187.8,137.4 184.8,135.4 166.6,122.9 145.5,107.5 124.4,90.9 103.3,73.3 104.3,78.2 125.4,93.9 146.5,109.1 167.6,123.8 185.8,135.9 188.8,137.9" fill="url(#g123)"/>
<polygon points="187.2,137.1 184.2,135.1 166.1,122.4 144.9,106.3 123.8,88.9 102.7,70.2 103.7,75.7 124.8,92.4 146.0,108.3 167.1,123.4 185.3,135.6 188.2,137.6" fill="url(#g122)"/>
<polygon points="186.6,136.8 183.7,134.8 165.5,121.8 144.4,105.2 123.3,86.9 102.1,67.1 103.1,72.7 124.3,90.5 145.4,107.2 166.5,122.8 184.7,135.4 187.6,137.3" fill="url(#g121)"/>
<polygon points="186.1,136.5 183.1,134.5 164.9,121.4 143.8,104.3 122.7,85.4 101.6,64.5 102.6,69.5 123.7,88.5 144.8,106.1 166.0,122.3 184.1,135.1 187.1,137.0" fill="url(#g120)"/>
<polygon points="185.5,136.2 182.5,134.2 164.4,120.9 143.3,103.5 122.1,83.9 101.0,62.2 102.0,66.5 123.1,86.6 144.3,105.0 165.4,121.7 183.6,134.8 186.5,136.8" fill="url(#g119)"/>
<polygon points="184.9,135.9 182.0,133.9 163.8,120.4 142.7,102.6 121.6,82.5 100.4,60.0 101.5,64.1 122.6,85.1 143.7,104.1 164.8,121.3 183.0,134.5 186.0,136.5" fill="url(#g118)"/>
<polygon points="184.4,135.6 181.4,133.5 163.3,120.0 142.1,101.9 121.0,81.3 99.9,58.2 100.9,61.7 122.0,83.6 143.1,103.3 164.3,120.8 182.4,134.1 185.4,136.1" fill="url(#g117)"/>
<polygon points="183.8,135.2 180.9,133.2 162.7,119.5 141.6,101.1 120.4,80.2 99.3,56.7 100.3,59.6 121.5,82.2 142.6,102.5 163.7,120.3 181.9,133.8 184.8,135.8" fill="url(#g116)"/>
<polygon points="183.3,134.9 180.3,132.8 162.1,118.9 141.0,100.3 119.9,79.1 98.8,55.3 99.8,57.9 120.9,81.1 142.0,101.7 163.1,119.9 181.3,133.5 184.3,135.5" fill="url(#g115)"/>
<polygon points="182.7,134.6 179.7,132.5 161.6,118.6 140.4,99.9 119.3,78.5 98.2,54.6 99.2,56.5 120.3,80.0 141.5,100.9 162.6,119.3 180.7,133.1 183.7,135.2" fill="url(#g114)"/>
<polygon points="182.1,134.3 179.2,132.2 161.0,118.2 139.9,99.5 118.7,78.1 97.6,54.1 98.6,55.1 119.8,79.0 140.9,100.2 162.0,118.8 180.2,132.8 183.1,134.9" fill="url(#g113)"/>
<polygon points="181.6,134.0 178.6,131.9 160.4,117.9 139.3,99.2 118.2,77.8 97.1,53.6 98.1,54.5 119.2,78.5 140.3,99.8 161.5,118.5 179.6,132.5 182.6,134.5" fill="url(#g112)"/>
<polygon points="181.0,133.7 178.0,131.6 159.9,117.6 138.7,98.9 117.6,77.5 96.5,53.5 97.5,54.0 118.6,78.1 139.8,99.5 160.9,118.2 179.1,132.1 182.0,134.2" fill="url(#g111)"/>
<polygon points="180.4,133.6 177.5,131.5 159.3,117.4 138.2,98.7 117.1,77.4 95.9,53.5 96.9,53.6 118.1,77.7 139.2,99.1 160.3,117.9 178.5,131.8 181.4,133.9" fill="url(#g110)"/>
<polygon points="179.9,133.6 176.9,131.4 158.7,117.3 137.6,98.7 116.5,77.6 95.4,54.1 96.4,53.5 117.5,77.5 138.6,98.9 159.8,117.6 177.9,131.5 180.9,133.6" fill="url(#g109)"/>
<polygon points="179.3,133.6 176.3,131.4 158.2,117.4 137.1,99.0 115.9,78.4 94.8,55.5 95.8,53.5 116.9,77.4 138.1,98.7 159.2,117.4 177.4,131.5 180.3,133.6" fill="url(#g108)"/>
<polygon points="178.7,133.5 175.8,131.4 157.6,117.6 136.5,99.6 115.4,79.4 94.2,57.2 95.3,54.3 116.4,77.7 137.5,98.7 158.6,117.4 176.8,131.4 179.8,133.6" fill="url(#g107)"/>
<polygon points="178.2,133.5 175.2,131.5 157.1,117.9 135.9,100.2 114.8,80.7 93.7,59.3 94.7,55.8 115.8,78.6 136.9,99.1 158.1,117.5 176.2,131.4 179.2,133.6" fill="url(#g106)"/>
<polygon points="177.6,133.5 174.7,131.5 156.5,118.1 135.4,101.0 114.2,82.1 93.1,61.4 94.1,57.6 115.3,79.7 136.4,99.7 157.5,117.6 175.7,131.4 178.6,133.5" fill="url(#g105)"/>
<polygon points="177.1,133.5 174.1,131.5 155.9,118.5 134.8,101.8 113.7,83.6 92.6,63.8 93.6,59.7 114.7,81.0 135.8,100.4 156.9,117.9 175.1,131.5 178.1,133.5" fill="url(#g104)"/>
<polygon points="176.5,133.7 173.5,131.8 155.4,119.0 134.2,102.8 113.1,85.3 92.0,66.3 93.0,61.8 114.1,82.3 135.3,101.1 156.4,118.2 174.5,131.5 177.5,133.5" fill="url(#g103)"/>
<polygon points="175.9,134.0 173.0,132.1 154.8,119.6 133.7,103.9 112.6,87.0 91.4,68.8 92.4,64.3 113.6,83.9 134.7,102.0 155.8,118.6 174.0,131.6 176.9,133.6" fill="url(#g102)"/>
<polygon points="175.4,134.4 172.4,132.4 154.2,120.2 133.1,104.9 112.0,88.6 90.9,71.2 91.9,66.8 113.0,85.6 134.1,103.1 155.3,119.1 173.4,131.8 176.4,133.8" fill="url(#g101)"/>
<polygon points="174.8,134.9 171.8,133.0 153.7,120.9 132.5,106.0 111.4,90.2 90.3,73.5 91.3,69.3 112.4,87.3 133.6,104.1 154.7,119.7 172.9,132.2 175.8,134.1" fill="url(#g100)"/>
<polygon points="174.2,135.6 171.3,133.7 153.1,121.8 132.0,107.2 110.9,91.9 89.7,75.9 90.8,71.7 111.9,88.9 133.0,105.1 154.1,120.3 172.3,132.5 175.2,134.5" fill="url(#g99)"/>
<polygon points="173.7,136.3 170.7,134.4 152.5,122.6 131.4,108.3 110.3,93.4 89.2,78.0 90.2,74.0 111.3,90.6 132.4,106.3 153.6,121.1 171.7,133.2 174.7,135.1" fill="url(#g98)"/>
<polygon points="173.1,137.0 170.2,135.1 152.0,123.3 130.9,109.3 109.7,94.9 88.6,80.1 89.6,76.3 110.7,92.2 131.9,107.4 153.0,121.9 171.2,133.9 174.1,135.8" fill="url(#g97)"/>
<polygon points="172.5,137.7 169.6,135.8 151.4,124.1 130.3,110.3 109.2,96.3 88.0,82.1 89.1,78.4 110.2,93.7 131.3,108.5 152.4,122.7 170.6,134.6 173.6,136.4" fill="url(#g96)"/>
<polygon points="172.0,138.4 169.0,136.5 150.9,124.8 129.7,111.3 108.6,97.7 87.5,84.2 88.5,80.5 109.6,95.2 130.7,109.5 151.9,123.5 170.0,135.2 173.0,137.1" fill="url(#g95)"/>
<polygon points="171.4,139.3 168.5,137.4 150.3,125.7 129.2,112.3 108.0,99.1 86.9,86.0 87.9,82.5 109.1,96.6 130.2,110.5 151.3,124.2 169.5,135.9 172.4,137.8" fill="url(#g94)"/>
<polygon points="170.9,140.4 167.9,138.4 149.7,126.6 128.6,113.3 107.5,100.3 86.4,87.8 87.4,84.5 108.5,98.0 129.6,111.5 150.7,125.0 168.9,136.6 171.9,138.5" fill="url(#g93)"/>
<polygon points="170.3,141.4 167.3,139.5 149.2,127.5 128.0,114.2 106.9,101.6 85.8,89.6 86.8,86.4 107.9,99.3 129.1,112.5 150.2,125.9 168.3,137.6 171.3,139.5" fill="url(#g92)"/>
<polygon points="169.7,142.5 166.8,140.5 148.6,128.4 127.5,115.2 106.4,102.9 85.2,91.5 86.2,88.2 107.4,100.6 128.5,113.5 149.6,126.8 167.8,138.6 170.7,140.6" fill="url(#g91)"/>
<polygon points="169.2,143.6 166.2,141.5 148.0,129.4 126.9,116.3 105.8,104.3 84.7,93.5 85.7,90.0 106.8,101.9 127.9,114.4 149.1,127.7 167.2,139.7 170.2,141.7" fill="url(#g90)"/>
<polygon points="168.6,144.6 165.6,142.5 147.5,130.3 126.4,117.4 105.2,105.8 84.1,95.5 85.1,91.8 106.2,103.2 127.4,115.4 148.5,128.6 166.7,140.7 169.6,142.7" fill="url(#g89)"/>
<polygon points="168.0,145.7 165.1,143.6 146.9,131.3 125.8,118.5 104.7,107.2 83.5,97.6 84.6,93.9 105.7,104.6 126.8,116.5 147.9,129.5 166.1,141.7 169.1,143.8" fill="url(#g88)"/>
<polygon points="167.5,146.7 164.5,144.5 146.3,132.2 125.2,119.5 104.1,108.6 83.0,99.5 84.0,95.9 105.1,106.1 126.2,117.6 147.4,130.5 165.5,142.7 168.5,144.8" fill="url(#g87)"/>
<polygon points="166.9,147.4 164.0,145.3 145.8,132.8 124.7,120.1 103.5,109.5 82.4,101.0 83.4,98.0 104.5,107.5 125.7,118.7 146.8,131.5 165.0,143.8 167.9,145.9" fill="url(#g86)"/>
<polygon points="166.3,148.1 163.4,145.8 145.2,133.2 124.1,120.6 103.0,110.2 81.8,102.2 82.9,99.9 104.0,108.9 125.1,119.7 146.2,132.3 164.4,144.7 167.4,146.9" fill="url(#g85)"/>
<polygon points="165.8,148.7 162.8,146.4 144.7,133.6 123.5,121.0 102.4,110.9 81.3,103.3 82.3,101.2 103.4,109.7 124.5,120.2 145.7,132.8 163.8,145.4 166.8,147.6" fill="url(#g84)"/>
<polygon points="165.2,149.3 162.3,147.0 144.1,134.0 123.0,121.4 101.8,111.6 80.7,104.4 81.7,102.4 102.9,110.4 124.0,120.6 145.1,133.3 163.3,146.0 166.2,148.2" fill="url(#g83)"/>
<polygon points="164.7,149.9 161.7,147.5 143.5,134.3 122.4,121.5 101.3,111.8 80.2,104.9 81.2,103.6 102.3,111.1 123.4,121.1 144.5,133.7 162.7,146.5 165.7,148.8" fill="url(#g82)"/>
<polygon points="164.1,150.1 161.1,147.7 143.0,134.3 121.8,121.5 100.7,111.8 79.6,105.1 80.6,104.6 101.7,111.7 122.9,121.5 144.0,134.1 162.1,147.1 165.1,149.4" fill="url(#g81)"/>
<polygon points="163.5,150.0 160.6,147.6 142.4,134.2 121.3,121.4 100.2,111.7 79.0,105.1 80.0,104.9 101.2,111.8 122.3,121.5 143.4,134.3 161.6,147.6 164.5,150.0" fill="url(#g80)"/>
<polygon points="163.0,149.9 160.0,147.5 141.8,134.0 120.7,121.1 99.6,111.1 78.5,104.2 79.5,105.1 100.6,111.8 121.7,121.5 142.9,134.2 161.0,147.7 164.0,150.1" fill="url(#g79)"/>
<polygon points="162.4,149.6 159.4,147.2 141.3,133.6 120.2,120.5 99.0,110.2 77.9,102.7 78.9,105.0 100.0,111.7 121.2,121.4 142.3,134.2 160.5,147.6 163.4,150.0" fill="url(#g78)"/>
<polygon points="161.8,149.2 158.9,146.8 140.7,133.2 119.6,119.8 98.5,109.2 77.3,101.3 78.4,103.9 99.5,110.9 120.6,120.9 141.7,133.9 159.9,147.4 162.9,149.8" fill="url(#g77)"/>
<polygon points="161.3,148.8 158.3,146.4 140.2,132.7 119.0,119.2 97.9,108.3 76.8,99.9 77.8,102.5 98.9,110.0 120.0,120.3 141.2,133.5 159.3,147.1 162.3,149.5" fill="url(#g76)"/>
<polygon points="160.7,148.4 157.8,146.0 139.6,132.3 118.5,118.6 97.3,107.3 76.2,98.5 77.2,101.0 98.4,109.0 119.5,119.7 140.6,133.1 158.8,146.7 161.7,149.1" fill="url(#g75)"/>
<polygon points="160.1,148.1 157.2,145.6 139.0,131.8 117.9,117.8 96.8,106.2 75.6,96.8 76.7,99.6 97.8,108.1 118.9,119.1 140.0,132.7 158.2,146.3 161.2,148.7" fill="url(#g74)"/>
<polygon points="159.6,147.7 156.6,145.2 138.5,131.3 117.3,117.0 96.2,104.9 75.1,94.9 76.1,98.1 97.2,107.1 118.3,118.5 139.5,132.2 157.6,146.0 160.6,148.4" fill="url(#g73)"/>
<polygon points="159.0,147.3 156.1,144.9 137.9,130.8 116.8,116.2 95.6,103.7 74.5,93.1 75.5,96.4 96.7,105.9 117.8,117.7 138.9,131.7 157.1,145.6 160.0,148.0" fill="url(#g72)"/>
<polygon points="158.5,146.9 155.5,144.5 137.3,130.2 116.2,115.4 95.1,102.4 74.0,91.3 75.0,94.6 96.1,104.7 117.2,116.9 138.3,131.2 156.5,145.2 159.5,147.6" fill="url(#g71)"/>
<polygon points="157.9,146.5 154.9,144.0 136.8,129.7 115.6,114.6 94.5,101.2 73.4,89.5 74.4,92.7 95.5,103.4 116.7,116.1 137.8,130.6 156.0,144.8 158.9,147.2" fill="url(#g70)"/>
<polygon points="157.3,146.1 154.4,143.6 136.2,129.1 115.1,113.7 94.0,99.9 72.8,87.7 73.8,90.9 95.0,102.2 116.1,115.2 137.2,130.1 155.4,144.4 158.3,146.8" fill="url(#g69)"/>
<polygon points="156.8,145.7 153.8,143.2 135.6,128.6 114.5,112.9 93.4,98.7 72.3,85.8 73.3,89.1 94.4,100.9 115.5,114.4 136.7,129.6 154.8,144.0 157.8,146.4" fill="url(#g68)"/>
<polygon points="156.2,145.2 153.2,142.7 135.1,128.0 114.0,112.1 92.8,97.4 71.7,84.0 72.7,87.3 93.8,99.7 115.0,113.6 136.1,129.0 154.3,143.5 157.2,146.0" fill="url(#g67)"/>
<polygon points="155.6,144.8 152.7,142.3 134.5,127.5 113.4,111.2 92.3,96.1 71.1,82.2 72.2,85.5 93.3,98.4 114.4,112.7 135.5,128.5 153.7,143.1 156.7,145.6" fill="url(#g66)"/>
<polygon points="155.1,144.4 152.1,141.9 134.0,126.9 112.8,110.3 91.7,94.8 70.6,80.3 71.6,83.7 92.7,97.2 113.8,111.9 135.0,127.9 153.1,142.7 156.1,145.2" fill="url(#g65)"/>
<polygon points="154.5,144.0 151.6,141.4 133.4,126.1 112.3,109.0 91.1,92.8 70.0,77.5 71.0,81.8 92.2,95.9 113.3,111.1 134.4,127.3 152.6,142.2 155.5,144.7" fill="url(#g64)"/>
<polygon points="153.9,143.6 151.0,140.9 132.8,125.2 111.7,107.5 90.6,90.6 69.4,74.3 70.5,79.8 91.6,94.5 112.7,110.1 133.8,126.7 152.0,141.8 155.0,144.3" fill="url(#g63)"/>
<polygon points="153.4,143.1 150.4,140.5 132.3,124.3 111.1,106.0 90.0,88.3 68.9,71.2 69.9,76.9 91.0,92.4 112.2,108.7 133.3,125.9 151.4,141.3 154.4,143.9" fill="url(#g62)"/>
<polygon points="152.8,142.7 149.9,140.0 131.7,123.4 110.6,104.4 89.4,85.9 68.3,67.9 69.3,73.7 90.5,90.1 111.6,107.2 132.7,125.0 150.9,140.9 153.8,143.5" fill="url(#g61)"/>
<polygon points="152.3,142.4 149.3,139.6 131.1,122.5 110.0,102.9 88.9,83.6 67.8,64.5 68.8,70.5 89.9,87.8 111.0,105.7 132.1,124.1 150.3,140.4 153.3,143.1" fill="url(#g60)"/>
<polygon points="151.7,142.1 148.7,139.2 130.6,121.8 109.4,101.6 88.3,81.6 67.2,61.8 68.2,67.2 89.3,85.5 110.5,104.1 131.6,123.2 149.8,139.9 152.7,142.7" fill="url(#g59)"/>
<polygon points="151.1,141.7 148.2,138.9 130.0,121.2 108.9,100.7 87.8,80.3 66.6,59.8 67.6,63.9 88.8,83.1 109.9,102.6 131.0,122.3 149.2,139.5 152.1,142.3" fill="url(#g58)"/>
<polygon points="150.6,141.4 147.6,138.5 129.4,120.8 108.3,100.0 87.2,79.0 66.1,58.0 67.1,61.4 88.2,81.3 109.3,101.4 130.5,121.7 148.6,139.1 151.6,142.0" fill="url(#g57)"/>
<polygon points="150.0,141.1 147.0,138.2 128.9,120.5 107.8,99.6 86.6,78.5 65.5,57.1 66.5,59.4 87.6,80.0 108.8,100.6 129.9,121.1 148.1,138.8 151.0,141.7" fill="url(#g56)"/>
<polygon points="149.4,140.8 146.5,138.0 128.3,120.4 107.2,99.5 86.1,78.3 64.9,56.6 66.0,57.7 87.1,78.8 108.2,99.8 129.3,120.7 147.5,138.5 150.5,141.4" fill="url(#g55)"/>
<polygon points="148.9,140.5 145.9,137.7 127.8,120.2 106.6,99.4 85.5,78.0 64.4,56.1 65.4,57.0 86.5,78.4 107.6,99.6 128.8,120.5 146.9,138.2 149.9,141.0" fill="url(#g54)"/>
<polygon points="148.3,140.2 145.4,137.4 127.2,120.1 106.1,99.4 84.9,77.9 63.8,55.8 64.8,56.5 86.0,78.2 107.1,99.5 128.2,120.3 146.4,137.9 149.3,140.7" fill="url(#g53)"/>
<polygon points="147.8,140.0 144.8,137.3 126.6,120.2 105.5,99.5 84.4,77.9 63.3,55.6 64.3,56.1 85.4,78.0 106.5,99.4 127.6,120.2 145.8,137.6 148.8,140.4" fill="url(#g52)"/>
<polygon points="147.2,140.0 144.2,137.3 126.1,120.4 104.9,99.9 83.8,78.5 62.7,56.2 63.7,55.8 84.8,77.9 106.0,99.4 127.1,120.1 145.2,137.4 148.2,140.1" fill="url(#g51)"/>
<polygon points="146.6,139.9 143.7,137.3 125.5,120.8 104.4,100.7 83.2,79.6 62.1,57.6 63.1,55.6 84.3,78.0 105.4,99.5 126.5,120.2 144.7,137.3 147.6,140.0" fill="url(#g50)"/>
<polygon points="146.1,139.9 143.1,137.3 124.9,121.1 103.8,101.4 82.7,80.8 61.6,59.2 62.6,56.4 83.7,78.7 104.8,100.0 125.9,120.5 144.1,137.3 147.1,140.0" fill="url(#g49)"/>
<polygon points="145.5,139.8 142.5,137.3 124.4,121.5 103.2,102.2 82.1,82.0 61.0,60.8 62.0,58.0 83.1,79.9 104.3,100.8 125.4,120.9 143.6,137.3 146.5,139.9" fill="url(#g48)"/>
<polygon points="144.9,139.8 142.0,137.3 123.8,121.9 102.7,103.1 81.6,83.4 60.4,62.8 61.4,59.5 82.6,81.0 103.7,101.6 124.8,121.2 143.0,137.3 145.9,139.9" fill="url(#g47)"/>
<polygon points="144.4,140.1 141.4,137.7 123.2,122.6 102.1,104.3 81.0,85.1 59.9,65.0 60.9,61.2 82.0,82.2 103.1,102.4 124.3,121.6 142.4,137.3 145.4,139.8" fill="url(#g46)"/>
<polygon points="143.8,140.9 140.8,138.5 122.7,123.8 101.6,105.8 80.4,87.0 59.3,67.3 60.3,63.3 81.4,83.8 102.6,103.3 123.7,122.0 141.9,137.4 144.8,139.8" fill="url(#g45)"/>
<polygon points="143.2,141.7 140.3,139.4 122.1,125.0 101.0,107.5 79.9,89.2 58.7,70.0 59.8,65.5 80.9,85.5 102.0,104.6 123.1,122.9 141.3,137.9 144.3,140.2" fill="url(#g44)"/>
<polygon points="142.7,142.5 139.7,140.3 121.6,126.3 100.4,109.4 79.3,91.6 58.2,73.1 59.2,67.8 80.3,87.4 101.4,106.1 122.6,124.0 140.7,138.7 143.7,141.0" fill="url(#g43)"/>
<polygon points="142.1,143.3 139.2,141.2 121.0,127.7 99.9,111.3 78.7,94.1 57.6,76.1 58.6,70.7 79.8,89.7 100.9,107.9 122.0,125.3 140.2,139.6 143.1,141.8" fill="url(#g42)"/>
<polygon points="141.6,144.2 138.6,142.1 120.4,129.2 99.3,113.4 78.2,96.9 57.1,79.6 58.1,73.7 79.2,92.1 100.3,109.8 121.4,126.6 139.6,140.4 142.6,142.6" fill="url(#g41)"/>
<polygon points="141.0,145.7 138.0,143.7 119.9,131.2 98.7,115.9 77.6,100.0 56.5,83.3 57.5,76.8 78.6,94.6 99.8,111.7 120.9,127.9 139.0,141.3 142.0,143.5" fill="url(#g40)"/>
<polygon points="140.4,147.5 137.5,145.5 119.3,133.3 98.2,118.6 77.1,103.1 55.9,87.0 56.9,80.4 78.1,97.5 99.2,113.9 120.3,129.5 138.5,142.4 141.4,144.4" fill="url(#g39)"/>
<polygon points="139.9,149.2 136.9,147.4 118.7,135.6 97.6,121.3 76.5,106.3 55.4,90.8 56.4,84.0 77.5,100.6 98.6,116.4 119.8,131.6 137.9,144.1 140.9,146.0" fill="url(#g38)"/>
<polygon points="139.3,151.0 136.3,149.2 118.2,137.8 97.0,124.0 75.9,109.6 54.8,94.6 55.8,87.7 76.9,103.7 98.1,119.1 119.2,133.8 137.4,145.9 140.3,147.8" fill="url(#g37)"/>
<polygon points="138.7,152.8 135.8,151.1 117.6,140.0 96.5,126.7 75.4,112.8 54.2,98.4 55.2,91.6 76.4,107.0 97.5,121.8 118.6,136.0 136.8,147.7 139.7,149.6" fill="url(#g36)"/>
<polygon points="138.2,154.7 135.2,153.0 117.0,142.1 95.9,129.1 74.8,115.5 53.7,101.5 54.7,95.4 75.8,110.3 96.9,124.5 118.1,138.2 136.2,149.6 139.2,151.4" fill="url(#g35)"/>
<polygon points="137.6,156.6 134.7,154.9 116.5,144.2 95.4,131.4 74.2,118.1 53.1,104.4 54.1,99.1 75.2,113.4 96.4,127.2 117.5,140.4 135.7,151.4 138.6,153.2" fill="url(#g34)"/>
<polygon points="137.0,158.6 134.1,156.9 115.9,146.3 94.8,133.6 73.7,120.6 52.5,107.2 53.6,102.1 74.7,116.0 95.8,129.5 116.9,142.5 135.1,153.4 138.1,155.1" fill="url(#g33)"/>
<polygon points="136.5,160.4 133.5,158.7 115.4,148.2 94.2,135.6 73.1,122.7 52.0,109.4 53.0,104.9 74.1,118.6 95.2,131.8 116.4,144.6 134.5,155.3 137.5,157.0" fill="url(#g32)"/>
<polygon points="135.9,161.7 133.0,160.0 114.8,149.4 93.7,136.9 72.5,124.0 51.4,110.9 52.4,107.7 73.6,121.1 94.7,134.1 115.8,146.7 134.0,157.3 136.9,159.0" fill="url(#g31)"/>
<polygon points="135.4,162.7 132.4,161.0 114.2,150.5 93.1,138.0 72.0,125.3 50.9,112.3 51.9,109.7 73.0,123.0 94.1,135.9 115.2,148.5 133.4,159.0 136.4,160.7" fill="url(#g30)"/>
<polygon points="134.8,163.7 131.8,162.0 113.7,151.5 92.5,139.1 71.4,126.4 50.3,113.6 51.3,111.2 72.4,124.3 93.6,137.1 114.7,149.6 132.8,160.2 135.8,161.9" fill="url(#g29)"/>
<polygon points="134.2,164.3 131.3,162.6 113.1,151.9 92.0,139.4 70.9,126.8 49.7,114.0 50.7,112.6 71.9,125.5 93.0,138.2 114.1,150.7 132.3,161.2 135.2,162.9" fill="url(#g28)"/>
<polygon points="133.7,164.1 130.7,162.4 112.5,151.7 91.4,139.3 70.3,126.7 49.2,114.0 50.2,113.8 71.3,126.6 92.4,139.2 113.6,151.7 131.7,162.2 134.7,163.9" fill="url(#g27)"/>
<polygon points="133.1,163.9 130.1,162.1 112.0,151.5 90.9,139.0 69.7,126.5 48.6,114.0 49.6,114.0 70.7,126.8 91.9,139.4 113.0,151.9 131.2,162.5 134.1,164.3" fill="url(#g26)"/>
<polygon points="132.5,163.6 129.6,161.9 111.4,151.3 90.3,138.8 69.2,126.4 48.0,114.0 49.1,114.0 70.2,126.7 91.3,139.2 112.4,151.7 130.6,162.3 133.6,164.1" fill="url(#g25)"/>
<polygon points="132.0,163.3 129.0,161.6 110.8,151.0 89.7,138.6 68.6,126.2 47.5,113.8 48.5,114.0 69.6,126.5 90.7,139.0 111.9,151.4 130.0,162.1 133.0,163.8" fill="url(#g24)"/>
<polygon points="131.4,162.7 128.5,160.8 110.3,150.0 89.2,137.5 68.0,125.1 46.9,112.6 47.9,114.0 69.0,126.4 90.2,138.8 111.3,151.2 129.5,161.8 132.4,163.6" fill="url(#g23)"/>
<polygon points="130.8,161.9 127.9,159.7 109.7,148.8 88.6,136.2 67.5,123.5 46.3,110.9 47.4,113.6 68.5,126.0 89.6,138.4 110.7,150.8 128.9,161.5 131.9,163.2" fill="url(#g22)"/>
<polygon points="130.3,161.0 127.3,158.7 109.2,147.7 88.0,134.8 66.9,122.0 45.8,109.2 46.8,112.2 67.9,124.8 89.0,137.3 110.2,149.8 128.3,160.6 131.3,162.5" fill="url(#g21)"/>
<polygon points="129.7,160.2 126.8,157.6 108.6,146.4 87.5,133.4 66.3,120.4 45.2,107.3 46.2,110.5 67.4,123.2 88.5,135.9 109.6,148.6 127.8,159.5 130.7,161.7" fill="url(#g20)"/>
<polygon points="129.2,159.4 126.2,156.4 108.0,144.8 86.9,131.2 65.8,117.7 44.7,104.2 45.7,108.9 66.8,121.7 87.9,134.6 109.0,147.4 127.2,158.5 130.2,160.9" fill="url(#g19)"/>
<polygon points="128.6,159.3 125.6,153.9 107.5,142.0 86.3,128.2 65.2,114.4 44.1,100.6 45.1,106.8 66.2,119.9 87.4,133.0 108.5,146.1 126.6,157.4 129.6,160.1" fill="url(#g18)"/>
<polygon points="128.0,159.3 125.1,150.9 106.9,138.8 85.8,124.7 64.7,110.6 43.5,96.6 44.5,103.5 65.7,117.1 86.8,130.7 107.9,144.3 126.1,156.0 129.0,159.2" fill="url(#g17)"/>
<polygon points="127.5,159.3 124.5,147.8 106.3,135.3 85.2,120.8 64.1,106.3 43.0,91.8 44.0,99.8 65.1,113.7 86.2,127.5 107.4,141.4 125.5,153.3 128.5,159.3" fill="url(#g16)"/>
<polygon points="126.9,159.3 123.9,144.7 105.8,131.8 84.7,116.8 63.5,101.9 42.4,87.0 43.4,95.7 64.5,109.8 85.7,123.9 106.8,138.1 125.0,150.3 127.9,159.3" fill="url(#g15)"/>
<polygon points="126.3,159.3 123.4,141.4 105.2,128.1 84.1,112.7 63.0,97.4 41.8,82.2 42.9,90.9 64.0,105.4 85.1,120.0 106.2,134.6 124.4,147.2 127.4,159.3" fill="url(#g14)"/>
<polygon points="125.8,159.3 122.8,137.7 104.6,124.2 83.5,108.6 62.4,93.1 41.3,77.7 42.3,86.1 63.4,101.0 84.5,116.0 105.7,131.1 123.8,144.1 126.8,159.3" fill="url(#g13)"/>
<polygon points="125.2,159.4 122.3,134.2 104.1,120.6 83.0,105.0 61.8,89.4 40.7,74.1 41.7,81.3 62.9,96.5 84.0,111.9 105.1,127.3 123.3,140.7 126.2,159.3" fill="url(#g12)"/>
<polygon points="124.6,159.5 121.7,131.9 103.5,118.1 82.4,102.1 61.3,86.3 40.1,70.7 41.2,77.0 62.3,92.3 83.4,107.8 104.5,123.4 122.7,137.0 125.7,159.3" fill="url(#g11)"/>
<polygon points="124.1,159.6 121.1,130.2 103.0,116.3 81.8,100.2 60.7,84.4 39.6,68.7 40.6,73.4 61.7,88.8 82.8,104.3 104.0,120.0 122.1,133.7 125.1,159.4" fill="url(#g10)"/>
<polygon points="123.5,159.7 120.6,128.8 102.4,114.9 81.3,98.9 60.1,83.1 39.0,67.5 40.0,70.1 61.2,85.8 82.3,101.6 103.4,117.7 121.6,131.6 124.5,159.5" fill="url(#g9)"/>
<polygon points="123.0,159.8 120.0,129.0 101.8,115.1 80.7,99.2 59.6,83.4 38.5,67.9 39.5,68.4 60.6,84.1 81.7,99.9 102.8,116.0 121.0,129.9 124.0,159.6" fill="url(#g8)"/>
<polygon points="122.4,159.9 119.4,130.3 101.3,116.7 80.1,101.1 59.0,85.6 37.9,70.4 38.9,67.3 60.0,82.9 81.2,98.7 102.3,114.7 120.5,128.6 123.4,159.7" fill="url(#g7)"/>
<polygon points="121.8,159.9 118.9,134.1 100.7,120.8 79.6,105.4 58.5,90.3 37.3,75.3 38.3,68.3 59.5,83.8 80.6,99.5 101.7,115.4 119.9,129.2 122.8,159.8" fill="url(#g6)"/>
<polygon points="121.3,159.9 118.3,139.0 100.1,126.0 79.0,111.0 57.9,96.1 36.8,81.3 37.8,71.1 58.9,86.2 80.0,101.6 101.2,117.2 119.3,130.8 122.3,159.9" fill="url(#g5)"/>
<polygon points="120.7,160.0 117.7,143.9 99.6,131.4 78.5,117.0 57.3,102.7 36.2,88.5 37.2,76.5 58.3,91.4 79.5,106.5 100.6,121.8 118.8,135.1 121.7,159.9" fill="url(#g4)"/>
<polygon points="120.1,160.0 117.2,148.5 99.0,136.7 77.9,123.1 56.8,109.5 35.6,96.0 36.7,82.6 57.8,97.3 78.9,112.1 100.0,127.0 118.2,140.0 121.2,159.9" fill="url(#g3)"/>
<polygon points="119.6,160.0 116.6,152.9 98.5,141.6 77.3,128.4 56.2,115.3 35.1,102.3 36.1,90.1 57.2,104.1 78.3,118.3 99.5,132.5 117.6,144.8 120.6,160.0" fill="url(#g2)"/>
<polygon points="119.0,160.0 116.1,157.0 97.9,145.9 76.8,133.1 55.6,120.3 34.5,107.5 35.5,97.4 56.7,110.8 77.8,124.2 98.9,137.7 117.1,149.4 120.0,160.0" fill="url(#g1)"/>
<polygon points="118.9,160.0 115.9,157.6 97.8,146.6 76.7,133.8 55.5,121.0 34.4,108.3 35.0,103.4 56.1,116.4 77.2,129.5 98.3,142.5 116.5,153.8 119.5,160.0" fill="url(#g0)"/>
<line x1="34.4" y1="145.6" x2="34.4" y2="43.6" stroke="#262626" stroke-width="0.7"/>
<line x1="34.4" y1="145.6" x2="118.9" y2="192.5" stroke="#262626" stroke-width="0.7"/>
<line x1="118.9" y1="192.5" x2="231.6" y2="156.3" stroke="#262626" stroke-width="0.7"/>
<line x1="34.4" y1="145.6" x2="32.2" y2="145.6" stroke="#262626" stroke-width="0.7"/>
<line x1="34.4" y1="120.1" x2="32.2" y2="120.1" stroke="#262626" stroke-width="0.7"/>
<line x1="34.4" y1="94.6" x2="32.2" y2="94.6" stroke="#262626" stroke-width="0.7"/>
<line x1="34.4" y1="69.1" x2="32.2" y2="69.1" stroke="#262626" stroke-width="0.7"/>
<line x1="34.4" y1="43.6" x2="32.2" y2="43.6" stroke="#262626" stroke-width="0.7"/>
<line x1="34.4" y1="145.6" x2="36.4" y2="144.9" stroke="#262626" stroke-width="0.7"/>
<line x1="55.5" y1="157.3" x2="57.5" y2="156.6" stroke="#262626" stroke-width="0.7"/>
<line x1="76.7" y1="169.1" x2="78.7" y2="168.4" stroke="#262626" stroke-width="0.7"/>
<line x1="97.8" y1="180.8" x2="99.8" y2="180.1" stroke="#262626" stroke-width="0.7"/>
<line x1="118.9" y1="192.5" x2="120.9" y2="191.8" stroke="#262626" stroke-width="0.7"/>
<line x1="142.0" y1="185.1" x2="140.4" y2="184.1" stroke="#262626" stroke-width="0.7"/>
<line x1="171.9" y1="175.5" x2="170.3" y2="174.5" stroke="#262626" stroke-width="0.7"/>
<line x1="201.7" y1="165.9" x2="200.1" y2="164.9" stroke="#262626" stroke-width="0.7"/>
<line x1="231.6" y1="156.3" x2="230.0" y2="155.3" stroke="#262626" stroke-width="0.7"/>
<rect x="315.00" y="16.0" width="1.30" height="171.5" fill="url(#h0)"/>
<rect x="316.00" y="16.0" width="1.30" height="171.5" fill="url(#h1)"/>
<rect x="316.99" y="16.0" width="1.30" height="171.5" fill="url(#h2)"/>
<rect x="317.99" y="16.0" width="1.30" height="171.5" fill="url(#h3)"/>
<rect x="318.99" y="16.0" width="1.30" height="171.5" fill="url(#h4)"/>
<rect x="319.99" y="16.0" width="1.30" height="171.5" fill="url(#h5)"/>
<rect x="320.98" y="16.0" width="1.30" height="171.5" fill="url(#h6)"/>
<rect x="321.98" y="16.0" width="1.30" height="171.5" fill="url(#h7)"/>
<rect x="322.98" y="16.0" width="1.30" height="171.5" fill="url(#h8)"/>
<rect x="323.97" y="16.0" width="1.30" height="171.5" fill="url(#h9)"/>
<rect x="324.97" y="16.0" width="1.30" height="171.5" fill="url(#h10)"/>
<rect x="325.97" y="16.0" width="1.30" height="171.5" fill="url(#h11)"/>
<rect x="326.97" y="16.0" width="1.30" height="171.5" fill="url(#h12)"/>
<rect x="327.96" y="16.0" width="1.30" height="171.5" fill="url(#h13)"/>
<rect x="328.96" y="16.0" width="1.30" height="171.5" fill="url(#h14)"/>
<rect x="329.96" y="16.0" width="1.30" height="171.5" fill="url(#h15)"/>
<rect x="330.96" y="16.0" width="1.30" height="171.5" fill="url(#h16)"/>
<rect x="331.95" y="16.0" width="1.30" height="171.5" fill="url(#h17)"/>
<rect x="332.95" y="16.0" width="1.30" height="171.5" fill="url(#h18)"/>
<rect x="333.95" y="16.0" width="1.30" height="171.5" fill="url(#h19)"/>
<rect x="334.94" y="16.0" width="1.30" height="171.5" fill="url(#h20)"/>
<rect x="335.94" y="16.0" width="1.30" height="171.5" fill="url(#h21)"/>
<rect x="336.94" y="16.0" width="1.30" height="171.5" fill="url(#h22)"/>
<rect x="337.94" y="16.0" width="1.30" height="171.5" fill="url(#h23)"/>
<rect x="338.93" y="16.0" width="1.30" height="171.5" fill="url(#h24)"/>
<rect x="339.93" y="16.0" width="1.30" height="171.5" fill="url(#h25)"/>
<rect x="340.93" y="16.0" width="1.30" height="171.5" fill="url(#h26)"/>
<rect x="341.92" y="16.0" width="1.30" height="171.5" fill="url(#h27)"/>
<rect x="342.92" y="16.0" width="1.30" height="171.5" fill="url(#h28)"/>
<rect x="343.92" y="16.0" width="1.30" height="171.5" fill="url(#h29)"/>
<rect x="344.92" y="16.0" width="1.30" height="171.5" fill="url(#h30)"/>
<rect x="345.91" y="16.0" width="1.30" height="171.5" fill="url(#h31)"/>
<rect x="346.91" y="16.0" width="1.30" height="171.5" fill="url(#h32)"/>
<rect x="347.91" y="16.0" width="1.30" height="171.5" fill="url(#h33)"/>
<rect x="348.91" y="16.0" width="1.30" height="171.5" fill="url(#h34)"/>
<rect x="349.90" y="16.0" width="1.30" height="171.5" fill="url(#h35)"/>
<rect x="350.90" y="16.0" width="1.30" height="171.5" fill="url(#h36)"/>
<rect x="351.90" y="16.0" width="1.30" height="171.5" fill="url(#h37)"/>
<rect x="352.89" y="16.0" width="1.30" height="171.5" fill="url(#h38)"/>
<rect x="353.89" y="16.0" width="1.30" height="171.5" fill="url(#h39)"/>
<rect x="354.89" y="16.0" width="1.30" height="171.5" fill="url(#h40)"/>
<rect x="355.89" y="16.0" width="1.30" height="171.5" fill="url(#h41)"/>
<rect x="356.88" y="16.0" width="1.30" height="171.5" fill="url(#h42)"/>
<rect x="357.88" y="16.0" width="1.30" height="171.5" fill="url(#h43)"/>
<rect x="358.88" y="16.0" width="1.30" height="171.5" fill="url(#h44)"/>
<rect x="359.87" y="16.0" width="1.30" height="171.5" fill="url(#h45)"/>
<rect x="360.87" y="16.0" width="1.30" height="171.5" fill="url(#h46)"/>
<rect x="361.87" y="16.0" width="1.30" height="171.5" fill="url(#h47)"/>
<rect x="362.87" y="16.0" width="1.30" height="171.5" fill="url(#h48)"/>
<rect x="363.86" y="16.0" width="1.30" height="171.5" fill="url(#h49)"/>
<rect x="364.86" y="16.0" width="1.30" height="171.5" fill="url(#h50)"/>
<rect x="365.86" y="16.0" width="1.30" height="171.5" fill="url(#h51)"/>
<rect x="366.85" y="16.0" width="1.30" height="171.5" fill="url(#h52)"/>
<rect x="367.85" y="16.0" width="1.30" height="171.5" fill="url(#h53)"/>
<rect x="368.85" y="16.0" width="1.30" height="171.5" fill="url(#h54)"/>
<rect x="369.85" y="16.0" width="1.30" height="171.5" fill="url(#h55)"/>
<rect x="370.84" y="16.0" width="1.30" height="171.5" fill="url(#h56)"/>
<rect x="371.84" y="16.0" width="1.30" height="171.5" fill="url(#h57)"/>
<rect x="372.84" y="16.0" width="1.30" height="171.5" fill="url(#h58)"/>
<rect x="373.84" y="16.0" width="1.30" height="171.5" fill="url(#h59)"/>
<rect x="374.83" y="16.0" width="1.30" height="171.5" fill="url(#h60)"/>
<rect x="375.83" y="16.0" width="1.30" height="171.5" fill="url(#h61)"/>
<rect x="376.83" y="16.0" width="1.30" height="171.5" fill="url(#h62)"/>
<rect x="377.82" y="16.0" width="1.30" height="171.5" fill="url(#h63)"/>
<rect x="378.82" y="16.0" width="1.30" height="171.5" fill="url(#h64)"/>
<rect x="379.82" y="16.0" width="1.30" height="171.5" fill="url(#h65)"/>
<rect x="380.82" y="16.0" width="1.30" height="171.5" fill="url(#h66)"/>
<rect x="381.81" y="16.0" width="1.30" height="171.5" fill="url(#h67)"/>
<rect x="382.81" y="16.0" width="1.30" height="171.5" fill="url(#h68)"/>
<rect x="383.81" y="16.0" width="1.30" height="171.5" fill="url(#h69)"/>
<rect x="384.80" y="16.0" width="1.30" height="171.5" fill="url(#h70)"/>
<rect x="385.80" y="16.0" width="1.30" height="171.5" fill="url(#h71)"/>
<rect x="386.80" y="16.0" width="1.30" height="171.5" fill="url(#h72)"/>
<rect x="387.80" y="16.0" width="1.30" height="171.5" fill="url(#h73)"/>
<rect x="388.79" y="16.0" width="1.30" height="171.5" fill="url(#h74)"/>
<rect x="389.79" y="16.0" width="1.30" height="171.5" fill="url(#h75)"/>
<rect x="390.79" y="16.0" width="1.30" height="171.5" fill="url(#h76)"/>
<rect x="391.78" y="16.0" width="1.30" height="171.5" fill="url(#h77)"/>
<rect x="392.78" y="16.0" width="1.30" height="171.5" fill="url(#h78)"/>
<rect x="393.78" y="16.0" width="1.30" height="171.5" fill="url(#h79)"/>
<rect x="394.78" y="16.0" width="1.30" height="171.5" fill="url(#h80)"/>
<rect x="395.77" y="16.0" width="1.30" height="171.5" fill="url(#h81)"/>
<rect x="396.77" y="16.0" width="1.30" height="171.5" fill="url(#h82)"/>
<rect x="397.77" y="16.0" width="1.30" height="171.5" fill="url(#h83)"/>
<rect x="398.77" y="16.0" width="1.30" height="171.5" fill="url(#h84)"/>
<rect x="399.76" y="16.0" width="1.30" height="171.5" fill="url(#h85)"/>
<rect x="400.76" y="16.0" width="1.30" height="171.5" fill="url(#h86)"/>
<rect x="401.76" y="16.0" width="1.30" height="171.5" fill="url(#h87)"/>
<rect x="402.75" y="16.0" width="1.30" height="171.5" fill="url(#h88)"/>
<rect x="403.75" y="16.0" width="1.30" height="171.5" fill="url(#h89)"/>
<rect x="404.75" y="16.0" width="1.30" height="171.5" fill="url(#h90)"/>
<rect x="405.75" y="16.0" width="1.30" height="171.5" fill="url(#h91)"/>
<rect x="406.74" y="16.0" width="1.30" height="171.5" fill="url(#h92)"/>
<rect x="407.74" y="16.0" width="1.30" height="171.5" fill="url(#h93)"/>
<rect x="408.74" y="16.0" width="1.30" height="171.5" fill="url(#h94)"/>
<rect x="409.73" y="16.0" width="1.30" height="171.5" fill="url(#h95)"/>
<rect x="410.73" y="16.0" width="1.30" height="171.5" fill="url(#h96)"/>
<rect x="411.73" y="16.0" width="1.30" height="171.5" fill="url(#h97)"/>
<rect x="412.73" y="16.0" width="1.30" height="171.5" fill="url(#h98)"/>
<rect x="413.72" y="16.0" width="1.30" height="171.5" fill="url(#h99)"/>
<rect x="414.72" y="16.0" width="1.30" height="171.5" fill="url(#h100)"/>
<rect x="415.72" y="16.0" width="1.30" height="171.5" fill="url(#h101)"/>
<rect x="416.72" y="16.0" width="1.30" height="171.5" fill="url(#h102)"/>
<rect x="417.71" y="16.0" width="1.30" height="171.5" fill="url(#h103)"/>
<rect x="418.71" y="16.0" width="1.30" height="171.5" fill="url(#h104)"/>
<rect x="419.71" y="16.0" width="1.30" height="171.5" fill="url(#h105)"/>
<rect x="420.70" y="16.0" width="1.30" height="171.5" fill="url(#h106)"/>
<rect x="421.70" y="16.0" width="1.30" height="171.5" fill="url(#h107)"/>
<rect x="422.70" y="16.0" width="1.30" height="171.5" fill="url(#h108)"/>
<rect x="423.70" y="16.0" width="1.30" height="171.5" fill="url(#h109)"/>
<rect x="424.69" y="16.0" width="1.30" height="171.5" fill="url(#h110)"/>
<rect x="425.69" y="16.0" width="1.30" height="171.5" fill="url(#h111)"/>
<rect x="426.69" y="16.0" width="1.30" height="171.5" fill="url(#h112)"/>
<rect x="427.68" y="16.0" width="1.30" height="171.5" fill="url(#h113)"/>
<rect x="428.68" y="16.0" width="1.30" height="171.5" fill="url(#h114)"/>
<rect x="429.68" y="16.0" width="1.30" height="171.5" fill="url(#h115)"/>
<rect x="430.68" y="16.0" width="1.30" height="171.5" fill="url(#h116)"/>
<rect x="431.67" y="16.0" width="1.30" height="171.5" fill="url(#h117)"/>
<rect x="432.67" y="16.0" width="1.30" height="171.5" fill="url(#h118)"/>
<rect x="433.67" y="16.0" width="1.30" height="171.5" fill="url(#h119)"/>
<rect x="434.66" y="16.0" width="1.30" height="171.5" fill="url(#h120)"/>
<rect x="435.66" y="16.0" width="1.30" height="171.5" fill="url(#h121)"/>
<rect x="436.66" y="16.0" width="1.30" height="171.5" fill="url(#h122)"/>
<rect x="437.66" y="16.0" width="1.30" height="171.5" fill="url(#h123)"/>
<rect x="438.65" y="16.0" width="1.30" height="171.5" fill="url(#h124)"/>
<rect x="439.65" y="16.0" width="1.30" height="171.5" fill="url(#h125)"/>
<rect x="440.65" y="16.0" width="1.30" height="171.5" fill="url(#h126)"/>
<rect x="441.65" y="16.0" width="1.30" height="171.5" fill="url(#h127)"/>
<rect x="442.64" y="16.0" width="1.30" height="171.5" fill="url(#h128)"/>
<rect x="443.64" y="16.0" width="1.30" height="171.5" fill="url(#h129)"/>
<rect x="444.64" y="16.0" width="1.30" height="171.5" fill="url(#h130)"/>
<rect x="445.63" y="16.0" width="1.30" height="171.5" fill="url(#h131)"/>
<rect x="446.63" y="16.0" width="1.30" height="171.5" fill="url(#h132)"/>
<rect x="447.63" y="16.0" width="1.30" height="171.5" fill="url(#h133)"/>
<rect x="448.63" y="16.0" width="1.30" height="171.5" fill="url(#h134)"/>
<rect x="449.62" y="16.0" width="1.30" height="171.5" fill="url(#h135)"/>
<rect x="450.62" y="16.0" width="1.30" height="171.5" fill="url(#h136)"/>
<rect x="451.62" y="16.0" width="1.30" height="171.5" fill="url(#h137)"/>
<rect x="452.61" y="16.0" width="1.30" height="171.5" fill="url(#h138)"/>
<rect x="453.61" y="16.0" width="1.30" height="171.5" fill="url(#h139)"/>
<rect x="454.61" y="16.0" width="1.30" height="171.5" fill="url(#h140)"/>
<rect x="455.61" y="16.0" width="1.30" height="171.5" fill="url(#h141)"/>
<rect x="456.60" y="16.0" width="1.30" height="171.5" fill="url(#h142)"/>
<rect x="457.60" y="16.0" width="1.30" height="171.5" fill="url(#h143)"/>
<rect x="458.60" y="16.0" width="1.30" height="171.5" fill="url(#h144)"/>
<rect x="459.59" y="16.0" width="1.30" height="171.5" fill="url(#h145)"/>
<rect x="460.59" y="16.0" width="1.30" height="171.5" fill="url(#h146)"/>
<rect x="461.59" y="16.0" width="1.30" height="171.5" fill="url(#h147)"/>
<rect x="462.59" y="16.0" width="1.30" height="171.5" fill="url(#h148)"/>
<rect x="463.58" y="16.0" width="1.30" height="171.5" fill="url(#h149)"/>
<rect x="464.58" y="16.0" width="1.30" height="171.5" fill="url(#h150)"/>
<rect x="465.58" y="16.0" width="1.30" height="171.5" fill="url(#h151)"/>
<rect x="466.58" y="16.0" width="1.30" height="171.5" fill="url(#h152)"/>
<rect x="467.57" y="16.0" width="1.30" height="171.5" fill="url(#h153)"/>
<rect x="468.57" y="16.0" width="1.30" height="171.5" fill="url(#h154)"/>
<rect x="469.57" y="16.0" width="1.30" height="171.5" fill="url(#h155)"/>
<rect x="470.56" y="16.0" width="1.30" height="171.5" fill="url(#h156)"/>
<rect x="471.56" y="16.0" width="1.30" height="171.5" fill="url(#h157)"/>
<rect x="472.56" y="16.0" width="1.30" height="171.5" fill="url(#h158)"/>
<rect x="473.56" y="16.0" width="1.30" height="171.5" fill="url(#h159)"/>
<rect x="474.55" y="16.0" width="1.30" height="171.5" fill="url(#h160)"/>
<rect x="475.55" y="16.0" width="1.30" height="171.5" fill="url(#h161)"/>
<rect x="476.55" y="16.0" width="1.30" height="171.5" fill="url(#h162)"/>
<rect x="477.54" y="16.0" width="1.30" height="171.5" fill="url(#h163)"/>
<rect x="478.54" y="16.0" width="1.30" height="171.5" fill="url(#h164)"/>
<rect x="479.54" y="16.0" width="1.30" height="171.5" fill="url(#h165)"/>
<rect x="480.54" y="16.0" width="1.30" height="171.5" fill="url(#h166)"/>
<rect x="481.53" y="16.0" width="1.30" height="171.5" fill="url(#h167)"/>
<rect x="482.53" y="16.0" width="1.30" height="171.5" fill="url(#h168)"/>
<rect x="483.53" y="16.0" width="1.30" height="171.5" fill="url(#h169)"/>
<rect x="484.53" y="16.0" width="1.30" height="171.5" fill="url(#h170)"/>
<rect x="485.52" y="16.0" width="1.30" height="171.5" fill="url(#h171)"/>
<rect x="486.52" y="16.0" width="1.30" height="171.5" fill="url(#h172)"/>
<rect x="487.52" y="16.0" width="1.30" height="171.5" fill="url(#h173)"/>
<rect x="488.51" y="16.0" width="1.30" height="171.5" fill="url(#h174)"/>
<rect x="489.51" y="16.0" width="1.30" height="171.5" fill="url(#h175)"/>
<rect x="490.51" y="16.0" width="1.30" height="171.5" fill="url(#h176)"/>
<rect x="491.51" y="16.0" width="1.30" height="171.5" fill="url(#h177)"/>
<rect x="492.50" y="16.0" width="1.00" height="171.5" fill="url(#h178)"/>
<rect x="513.2" y="16.2" width="10.2" height="171.3" fill="url(#cb)"/>
<rect x="513.2" y="16.2" width="10.2" height="171.3" fill="none" stroke="#444" stroke-width="0.4"/>
<line x1="521.6" y1="173.1" x2="523.4" y2="173.1" stroke="#262626" stroke-width="0.6"/>
<line x1="521.6" y1="152.0" x2="523.4" y2="152.0" stroke="#262626" stroke-width="0.6"/>
<line x1="521.6" y1="130.9" x2="523.4" y2="130.9" stroke="#262626" stroke-width="0.6"/>
<line x1="521.6" y1="109.8" x2="523.4" y2="109.8" stroke="#262626" stroke-width="0.6"/>
<line x1="521.6" y1="88.7" x2="523.4" y2="88.7" stroke="#262626" stroke-width="0.6"/>
<line x1="521.6" y1="67.6" x2="523.4" y2="67.6" stroke="#262626" stroke-width="0.6"/>
<line x1="521.6" y1="46.5" x2="523.4" y2="46.5" stroke="#262626" stroke-width="0.6"/>
<line x1="521.6" y1="25.4" x2="523.4" y2="25.4" stroke="#262626" stroke-width="0.6"/>
<text x="5.6" y="31.6" font-size="12.5" font-weight="normal" text-anchor="start" font-family="'Liberation Sans',sans-serif" class="n">×</text>
<text x="13.9" y="30.8" font-size="10" font-weight="bold" text-anchor="start" font-family="'Liberation Sans',sans-serif" >10</text>
<text x="24.9" y="26.5" font-size="8" font-weight="bold" text-anchor="start" font-family="'Liberation Sans',sans-serif" >-4</text>
<text x="28.7" y="147.2" font-size="9.5" font-weight="bold" text-anchor="end" font-family="'Liberation Sans',sans-serif" >-5</text>
<text x="28.7" y="121.8" font-size="9.5" font-weight="bold" text-anchor="end" font-family="'Liberation Sans',sans-serif" >0</text>
<text x="28.7" y="96.2" font-size="9.5" font-weight="bold" text-anchor="end" font-family="'Liberation Sans',sans-serif" >5</text>
<text x="28.7" y="70.8" font-size="9.5" font-weight="bold" text-anchor="end" font-family="'Liberation Sans',sans-serif" >10</text>
<text x="28.7" y="45.2" font-size="9.5" font-weight="bold" text-anchor="end" font-family="'Liberation Sans',sans-serif" >15</text>
<text x="0.0" y="0.0" font-size="10.6" font-weight="bold" text-anchor="middle" font-family="'Liberation Sans',sans-serif" transform="translate(12.8,96.2) rotate(-90)">Error rate</text>
<text x="28.1" y="158.5" font-size="9.5" font-weight="bold" text-anchor="end" font-family="'Liberation Sans',sans-serif" >0.1</text>
<text x="49.2" y="170.2" font-size="9.5" font-weight="bold" text-anchor="end" font-family="'Liberation Sans',sans-serif" >0.075</text>
<text x="70.4" y="182.0" font-size="9.5" font-weight="bold" text-anchor="end" font-family="'Liberation Sans',sans-serif" >0.05</text>
<text x="91.5" y="193.7" font-size="9.5" font-weight="bold" text-anchor="end" font-family="'Liberation Sans',sans-serif" >0.025</text>
<text x="114.0" y="206.0" font-size="9.5" font-weight="bold" text-anchor="end" font-family="'Liberation Sans',sans-serif" >0</text>
<text x="16.8" y="208.3" font-size="10.8" font-weight="bold" text-anchor="start" font-family="'Liberation Sans',sans-serif" >Time (s)</text>
<text x="125.6" y="206.0" font-size="9.5" font-weight="bold" text-anchor="start" font-family="'Liberation Sans',sans-serif" >0</text>
<text x="147.8" y="199.4" font-size="9.5" font-weight="bold" text-anchor="start" font-family="'Liberation Sans',sans-serif" >0.25</text>
<text x="177.7" y="189.8" font-size="9.5" font-weight="bold" text-anchor="start" font-family="'Liberation Sans',sans-serif" >0.5</text>
<text x="207.5" y="180.2" font-size="9.5" font-weight="bold" text-anchor="start" font-family="'Liberation Sans',sans-serif" >0.75</text>
<text x="237.4" y="170.6" font-size="9.5" font-weight="bold" text-anchor="start" font-family="'Liberation Sans',sans-serif" >1</text>
<text x="183.5" y="211.3" font-size="10.9" font-weight="bold" text-anchor="start" font-family="'Liberation Sans',sans-serif" >Voltage (V)</text>
<text x="124.3" y="234.2" font-size="12" font-weight="bold" text-anchor="middle" font-family="'Liberation Serif',serif" class="s">(a)</text>
<text x="310.6" y="19.7" font-size="9.3" font-weight="bold" text-anchor="end" font-family="'Liberation Sans',sans-serif" >0.1</text>
<text x="310.6" y="62.7" font-size="9.3" font-weight="bold" text-anchor="end" font-family="'Liberation Sans',sans-serif" >0.075</text>
<text x="310.6" y="105.7" font-size="9.3" font-weight="bold" text-anchor="end" font-family="'Liberation Sans',sans-serif" >0.05</text>
<text x="310.6" y="148.2" font-size="9.3" font-weight="bold" text-anchor="end" font-family="'Liberation Sans',sans-serif" >0.025</text>
<text x="310.6" y="191.2" font-size="9.3" font-weight="bold" text-anchor="end" font-family="'Liberation Sans',sans-serif" >0</text>
<text x="0.0" y="0.0" font-size="10.2" font-weight="bold" text-anchor="middle" font-family="'Liberation Sans',sans-serif" transform="translate(281,101) rotate(-90)">Time (s)</text>
<text x="349.0" y="200.9" font-size="9.3" font-weight="bold" text-anchor="middle" font-family="'Liberation Sans',sans-serif" >0.25</text>
<text x="397.5" y="200.9" font-size="9.3" font-weight="bold" text-anchor="middle" font-family="'Liberation Sans',sans-serif" >0.5</text>
<text x="446.0" y="200.9" font-size="9.3" font-weight="bold" text-anchor="middle" font-family="'Liberation Sans',sans-serif" >0.75</text>
<text x="493.5" y="200.9" font-size="9.3" font-weight="bold" text-anchor="middle" font-family="'Liberation Sans',sans-serif" >1</text>
<text x="404.6" y="215.2" font-size="10.7" font-weight="bold" text-anchor="middle" font-family="'Liberation Sans',sans-serif" >Voltage (V)</text>
<text x="410.5" y="234.0" font-size="12" font-weight="bold" text-anchor="middle" font-family="'Liberation Serif',serif" class="s">(b)</text>
<text x="527.2" y="176.4" font-size="9.2" font-weight="bold" text-anchor="start" font-family="'Liberation Sans',sans-serif" >-2</text>
<text x="527.2" y="155.3" font-size="9.2" font-weight="bold" text-anchor="start" font-family="'Liberation Sans',sans-serif" >0</text>
<text x="527.2" y="134.2" font-size="9.2" font-weight="bold" text-anchor="start" font-family="'Liberation Sans',sans-serif" >2</text>
<text x="527.2" y="113.1" font-size="9.2" font-weight="bold" text-anchor="start" font-family="'Liberation Sans',sans-serif" >4</text>
<text x="527.2" y="92.0" font-size="9.2" font-weight="bold" text-anchor="start" font-family="'Liberation Sans',sans-serif" >6</text>
<text x="527.2" y="70.9" font-size="9.2" font-weight="bold" text-anchor="start" font-family="'Liberation Sans',sans-serif" >8</text>
<text x="527.2" y="49.8" font-size="9.2" font-weight="bold" text-anchor="start" font-family="'Liberation Sans',sans-serif" >10</text>
<text x="527.2" y="28.7" font-size="9.2" font-weight="bold" text-anchor="start" font-family="'Liberation Sans',sans-serif" >12</text>
<text x="524.3" y="13.0" font-size="11.5" font-weight="normal" text-anchor="start" font-family="'Liberation Sans',sans-serif" class="n">×</text>
<text x="531.2" y="12.2" font-size="9" font-weight="bold" text-anchor="start" font-family="'Liberation Sans',sans-serif" >10</text>
<text x="541.2" y="8.0" font-size="7.5" font-weight="bold" text-anchor="start" font-family="'Liberation Sans',sans-serif" >-4</text>
</g>
</svg></body></html>
